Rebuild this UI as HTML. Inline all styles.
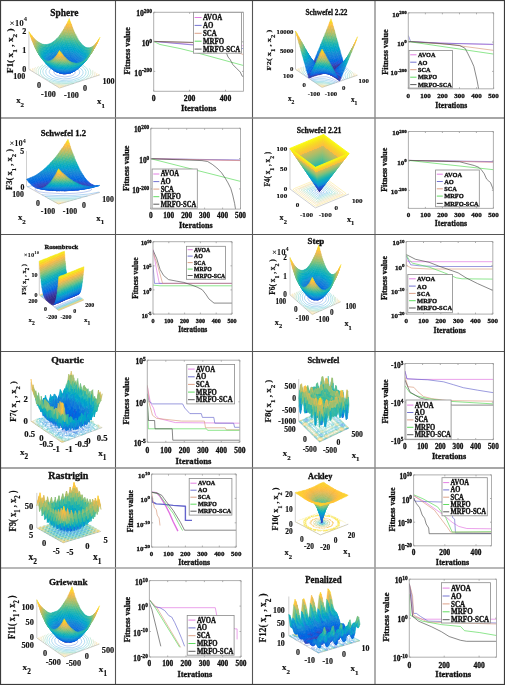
<!DOCTYPE html>
<html><head><meta charset="utf-8"><title>Benchmark functions and convergence curves</title><style>
html,body{margin:0;padding:0;background:#fff;width:505px;height:685px;overflow:hidden}
svg{display:block}
text{font-family:'Liberation Serif','Times New Roman',serif;font-weight:bold;fill:#111;stroke:#111;stroke-width:.32px}
text.t{stroke-width:.18px}
text.n{stroke:none}
</style></head><body>
<svg width="505" height="685" viewBox="0 0 505 685">
<defs><filter id="bl" x="-0.05" y="-0.05" width="1.1" height="1.1"><feGaussianBlur stdDeviation="1.8"/></filter><filter id="bl2" x="-0.05" y="-0.05" width="1.1" height="1.1"><feGaussianBlur stdDeviation="0.45"/></filter></defs>
<rect width="505" height="685" fill="#fff"/>
<path fill="none" stroke="#c4c4c4" stroke-width="0.8" d="M28.9 31.7L28.9 69.3L59.6 88L100 74.8"/>
<g transform="scale(.25)" filter="url(#bl)" style="fill:currentColor;stroke:currentColor;stroke-width:2;stroke-linejoin:round"><path fill=none stroke="#2350d0" stroke-width="1.4" opacity="0.85" d="M250,269l21,1,19,6,10,8,1,8-5,6-9,5-27,5-29-5-10-5-5-6-1-8,5-6,14-7,16-2" />
<path fill=none stroke="#0a73dd" stroke-width="1.4" opacity="0.85" d="M233,262l30-1,31,5,15,8,6,5,4,7-1,8-3,5-10,7-26,8-26,2-31-6-20-12-5-8,0-5,4-8,7-6,25-9" />
<path fill=none stroke="#138ad3" stroke-width="1.4" opacity="0.85" d="M225,257l42-2,38,8,21,13,6,10,0,8-6,10-10,7-28,9-40,2-38-8-21-13-5-8-1-10,5-9,7-6,15-7,15-4" />
<path fill=none stroke="#06a3ca" stroke-width="1.4" opacity="0.85" d="M235,250l42,0,38,10,14,7,10,9,5,10-1,10-8,11-17,10-23,7-29,3-28-1-25-5-22-9-14-11-4-7-2-9,3-9,6-6,23-13,32-7" />
<path fill=none stroke="#1ab2b1" stroke-width="1.4" opacity="0.85" d="M217,248l25-3,26,0,23,3,27,7,15,7,14,11,7,13-1,11-7,11-12,8-15,7-24,6-30,3-23-1-25-4-19-5-15-7-15-11-6-10,0-12,5-10,15-12,15-7,20-5" />
<path fill=none stroke="#51bd8f" stroke-width="1.4" opacity="0.85" d="M295,334l-49,1-30-3-20-6M357,273l6,11,0,11-8,13-11,10M158,303l-5-10,0-12,7-13,12-9M221,243l49-2,29,4,21,5" />
<path fill=none stroke="#92bf72" stroke-width="1.4" opacity="0.85" d="M277,339l-34,0-34-5M371,281l0,16-10,15M145,295l-1-16,10-14M239,237l34,0,34,5" />
<path fill=none stroke="#c7bc5d" stroke-width="1.4" opacity="0.85" d="M265,343l-47-3M380,287l-1,11-5,10M136,289l0-10,6-10M251,233l46,4" />
<path fill=none stroke="#f5ba47" stroke-width="1.4" opacity="0.85" d="M255,347l-29-3M388,292l-4,13M128,285l4-13M261,230l29,2" />
<path fill=none stroke="#f9d429" stroke-width="1.4" opacity="0.85" d="M246,349l-13-1M394,296l-2,6M121,281l2-6M269,227l14,1" />
<path color=#f6dd22 d=M276,98l5-11-4-13-5,12z />
<path color=#fec733 d=M270,110l6-12-4-12-6,11z />
<path color=#f1b94a d=M265,120l5-10-4-13-6,10z />
<path color=#d5ba57 d=M259,130l6-10-5-13-5,10z />
<path color=#bbbd62 d=M254,139l5-9-4-13-6,9z />
<path color=#a1be6d d=M248,147l6-8-5-13-5,8z />
<path color=#87bf77 d=M242,154l6-7-4-13-6,8z />
<path color=#6ebf82 d=M237,161l5-7-4-12-5,7z />
<path color=#56bd8d d=M231,167l6-6-4-12-6,6z />
<path color=#44bb97 d=M226,173l5-6-4-12-6,5z />
<path color=#36b99f d=M220,177l6-4-5-13-5,5z />
<path color=#2cb7a5 d=M215,181l5-4-4-12-6,4z />
<path color=#25b5a9 d=M209,185l6-4-5-12-5,3z />
<path color=#21b4ac d=M203,187l6-2-4-13-6,3z />
<path color=#20b4ad d=M198,189l5-2-4-12-5,1z />
<path color=#21b4ac d=M192,190l6-1-4-13-6,2z />
<path color=#25b5a9 d=M187,191l5-1-4-12-6,0z />
<path color=#2cb7a5 d=M181,190l6,1-5-13-5,0z />
<path color=#36b99f d=M176,189l5,1-4-12-6-1z />
<path color=#44bb97 d=M170,187l6,2-5-12-5-2z />
<path color=#56bd8d d=M164,185l6,2-4-12-6-3z />
<path color=#6ebf82 d=M159,182l5,3-4-13-5-3z />
<path color=#87bf77 d=M153,178l6,4-4-13-6-4z />
<path color=#a1be6d d=M148,173l5,5-4-13-6-4z />
<path color=#bbbd62 d=M142,168l6,5-5-12-5-6z />
<path color=#d5ba57 d=M137,162l5,6-4-13-6-6z />
<path color=#f1b94a d=M131,155l6,7-5-13-5-7z />
<path color=#fec733 d=M125,148l6,7-4-13-6-7z />
<path color=#f6dd22 d=M120,139l5,9-4-13-5-8z />
<path color=#fec733 d=M280,110l6-12-5-11-5,11z />
<path color=#efb94b d=M275,121l5-11-4-12-6,12z />
<path color=#d0bb59 d=M269,132l6-11-5-11-5,10z />
<path color=#b3bd65 d=M263,142l6-10-4-12-6,10z />
<path color=#95bf71 d=M258,150l5-8-4-12-5,9z />
<path color=#76bf7e d=M252,159l6-9-4-11-6,8z />
<path color=#58bd8c d=M247,166l5-7-4-12-6,7z />
<path color=#3fba9a d=M241,173l6-7-5-12-5,7z />
<path color=#2cb7a5 d=M236,179l5-6-4-12-6,6z />
<path color=#1eb3ae d=M230,185l6-6-5-12-5,6z />
<path color=#14b0b5 d=M224,189l6-4-4-12-6,4z />
<path color=#0daeba d=M219,193l5-4-4-12-5,4z />
<path color=#0aacbe d=M213,197l6-4-4-12-6,4z />
<path color=#08abc0 d=M208,199l5-2-4-12-6,2z />
<path color=#08aac0 d=M202,201l6-2-5-12-5,2z />
<path color=#08abc0 d=M197,202l5-1-4-12-6,1z />
<path color=#0aacbe d=M191,202l6,0-5-12-5,1z />
<path color=#0daeba d=M185,202l6,0-4-11-6-1z />
<path color=#14b0b5 d=M180,201l5,1-4-12-5-1z />
<path color=#1eb3ae d=M174,199l6,2-4-12-6-2z />
<path color=#2cb7a5 d=M169,197l5,2-4-12-6-2z />
<path color=#3fba9a d=M163,194l6,3-5-12-5-3z />
<path color=#58bd8c d=M158,190l5,4-4-12-6-4z />
<path color=#76bf7e d=M152,185l6,5-5-12-5-5z />
<path color=#95bf71 d=M146,180l6,5-4-12-6-5z />
<path color=#b3bd65 d=M141,174l5,6-4-12-5-6z />
<path color=#d0bb59 d=M135,167l6,7-4-12-6-7z />
<path color=#efb94b d=M130,159l5,8-4-12-6-7z />
<path color=#fec733 d=M124,151l6,8-5-11-5-9z />
<path color=#f1b94a d=M284,121l6-11-4-12-6,12z />
<path color=#d0bb59 d=M279,133l5-12-4-11-5,11z />
<path color=#b0bd66 d=M273,143l6-10-4-12-6,11z />
<path color=#8fbf74 d=M268,153l5-10-4-11-6,10z />
<path color=#6cbf82 d=M262,162l6-9-5-11-5,8z />
<path color=#4abc93 d=M256,170l6-8-4-12-6,9z />
<path color=#30b7a3 d=M251,177l5-7-4-11-5,7z />
<path color=#1db3af d=M245,184l6-7-4-11-6,7z />
<path color=#0faeb9 d=M240,190l5-6-4-11-5,6z />
<path color=#08aac0 d=M234,196l6-6-4-11-6,6z />
<path color=#06a7c6 d=M229,200l5-4-4-11-6,4z />
<path color=#06a3ca d=M223,204l6-4-5-11-5,4z />
<path color=#06a1cc d=M217,208l6-4-4-11-6,4z />
<path color=#069fce d=M212,210l5-2-4-11-5,2zM206,212l6-2-4-11-6,2zM201,213l5-1-4-11-5,1z />
<path color=#06a1cc d=M195,214l6-1-4-11-6,0z />
<path color=#06a3ca d=M190,213l5,1-4-12-6,0z />
<path color=#06a7c6 d=M184,212l6,1-5-11-5-1z />
<path color=#08aac0 d=M178,210l6,2-4-11-6-2z />
<path color=#0faeb9 d=M173,208l5,2-4-11-5-2z />
<path color=#1db3af d=M167,205l6,3-4-11-6-3z />
<path color=#30b7a3 d=M162,201l5,4-4-11-5-4z />
<path color=#4abc93 d=M156,196l6,5-4-11-6-5z />
<path color=#6cbf82 d=M151,191l5,5-4-11-6-5z />
<path color=#8fbf74 d=M145,185l6,6-5-11-5-6z />
<path color=#b0bd66 d=M139,178l6,7-4-11-6-7z />
<path color=#d0bb59 d=M134,171l5,7-4-11-5-8z />
<path color=#f1b94a d=M128,162l6,9-4-12-6-8z />
<path color=#d5ba57 d=M289,132l5-12-4-10-6,11z />
<path color=#b3bd65 d=M283,143l6-11-5-11-5,12z />
<path color=#8fbf74 d=M277,153l6-10-4-10-6,10z />
<path color=#68be84 d=M272,163l5-10-4-10-5,10z />
<path color=#44bb97 d=M266,172l6-9-4-10-6,9z />
<path color=#28b6a8 d=M261,180l5-8-4-10-6,8z />
<path color=#14b0b5 d=M255,188l6-8-5-10-5,7z />
<path color=#08abc0 d=M250,195l5-7-4-11-6,7z />
<path color=#06a5c8 d=M244,201l6-6-5-11-5,6z />
<path color=#06a0cd d=M238,206l6-5-4-11-6,6z />
<path color=#089bd0 d=M233,211l5-5-4-10-5,4z />
<path color=#0b96d1 d=M227,215l6-4-4-11-6,4z />
<path color=#0d92d2 d=M222,218l5-3-4-11-6,4z />
<path color=#0f90d2 d=M216,221l6-3-5-10-5,2z />
<path color=#108fd2 d=M211,223l5-2-4-11-6,2z />
<path color=#0f90d2 d=M205,224l6-1-5-11-5,1z />
<path color=#0d92d2 d=M199,224l6,0-4-11-6,1z />
<path color=#0b96d1 d=M194,224l5,0-4-10-5-1z />
<path color=#089bd0 d=M188,223l6,1-4-11-6-1z />
<path color=#06a0cd d=M183,221l5,2-4-11-6-2z />
<path color=#06a5c8 d=M177,218l6,3-5-11-5-2z />
<path color=#08abc0 d=M172,215l5,3-4-10-6-3z />
<path color=#14b0b5 d=M166,211l6,4-5-10-5-4z />
<path color=#28b6a8 d=M160,207l6,4-4-10-6-5z />
<path color=#44bb97 d=M155,201l5,6-4-11-5-5z />
<path color=#68be84 d=M149,195l6,6-4-10-6-6z />
<path color=#8fbf74 d=M144,189l5,6-4-10-6-7z />
<path color=#b3bd65 d=M138,181l6,8-5-11-5-7z />
<path color=#d5ba57 d=M133,173l5,8-4-10-6-9z />
<path color=#bbbd62 d=M293,142l5-12-4-10-5,12z />
<path color=#95bf71 d=M287,153l6-11-4-10-6,11z />
<path color=#6cbf82 d=M282,163l5-10-4-10-6,10z />
<path color=#44bb97 d=M276,173l6-10-5-10-5,10z />
<path color=#25b5a9 d=M271,182l5-9-4-10-6,9z />
<path color=#10afb8 d=M265,190l6-8-5-10-5,8z />
<path color=#06a8c4 d=M259,198l6-8-4-10-6,8z />
<path color=#06a1cc d=M254,204l5-6-4-10-5,7z />
<path color=#089ad0 d=M248,211l6-7-4-9-6,6z />
<path color=#0d92d2 d=M243,216l5-5-4-10-6,5z />
<path color=#1486d4 d=M232,225l5-4-4-10-6,4z />
<path color=#1483d5 d=M226,228l6-3-5-10-5,3z />
<path color=#1481d6 d=M220,230l6-2-4-10-6,3zM215,232l5-2-4-9-5,2zM209,233l6-1-4-9-6,1z />
<path color=#1483d5 d=M204,234l5-1-4-9-6,0z />
<path color=#1486d4 d=M198,233l6,1-5-10-5,0z />
<path color=#128bd2 d=M192,232l6,1-4-9-6-1z />
<path color=#0d92d2 d=M187,231l5,1-4-9-5-2z />
<path color=#089ad0 d=M181,228l6,3-4-10-6-3z />
<path color=#06a1cc d=M176,225l5,3-4-10-5-3z />
<path color=#06a8c4 d=M170,221l6,4-4-10-6-4z />
<path color=#10afb8 d=M165,216l5,5-4-10-6-4z />
<path color=#25b5a9 d=M159,211l6,5-5-9-5-6z />
<path color=#44bb97 d=M153,205l6,6-4-10-6-6z />
<path color=#6cbf82 d=M148,198l5,7-4-10-5-6z />
<path color=#95bf71 d=M142,191l6,7-4-9-6-8z />
<path color=#bbbd62 d=M137,183l5,8-4-10-5-8z />
<path color=#a1be6d d=M297,151l6-12-5-9-5,12z />
<path color=#76bf7e d=M291,162l6-11-4-9-6,11z />
<path color=#4abc93 d=M286,172l5-10-4-9-5,10z />
<path color=#28b6a8 d=M280,182l6-10-4-9-6,10z />
<path color=#10afb8 d=M275,191l5-9-4-9-5,9z />
<path color=#06a7c5 d=M269,199l6-8-4-9-6,8z />
<path color=#069fce d=M264,207l5-8-4-9-6,8z />
<path color=#0b96d1 d=M258,213l6-6-5-9-5,6z />
<path color=#128cd2 d=M252,220l6-7-4-9-6,7z />
<path color=#1484d4 d=M247,225l5-5-4-9-5,5z />
<path color=#0d76dc d=M219,241l6-2-5-9-5,2z />
<path color=#0e76dc d=M213,242l6-1-4-9-6,1z />
<path color=#0f78db d=M208,243l5-1-4-9-5,1z />
<path color=#117bd9 d=M202,242l6,1-4-9-6-1z />
<path color=#137fd7 d=M197,241l5,1-4-9-6-1z />
<path color=#1484d4 d=M191,240l6,1-5-9-5-1z />
<path color=#128cd2 d=M186,237l5,3-4-9-6-3z />
<path color=#0b96d1 d=M180,234l6,3-5-9-5-3z />
<path color=#069fce d=M174,230l6,4-4-9-6-4z />
<path color=#06a7c5 d=M169,225l5,5-4-9-5-5z />
<path color=#10afb8 d=M163,220l6,5-4-9-6-5z />
<path color=#28b6a8 d=M158,214l5,6-4-9-6-6z />
<path color=#4abc93 d=M152,207l6,7-5-9-5-7z />
<path color=#76bf7e d=M147,200l5,7-4-9-6-7z />
<path color=#a1be6d d=M141,192l6,8-5-9-5-8z />
<path color=#87bf77 d=M301,159l6-12-4-8-6,12z />
<path color=#58bd8c d=M296,170l5-11-4-8-6,11z />
<path color=#30b7a3 d=M290,180l6-10-5-8-5,10z />
<path color=#14b0b5 d=M285,190l5-10-4-8-6,10z />
<path color=#06a8c4 d=M279,199l6-9-5-8-5,9z />
<path color=#069fce d=M273,207l6-8-4-8-6,8z />
<path color=#0c94d2 d=M268,215l5-8-4-8-5,8z />
<path color=#1389d3 d=M262,222l6-7-4-8-6,6z />
<path color=#1481d6 d=M257,228l5-6-4-9-6,7z />
<path color=#117ad9 d=M251,233l6-5-5-8-5,5z />
<path color=#0d75dc d=M201,250l6,1-5-9-5-1z />
<path color=#117ad9 d=M195,248l6,2-4-9-6-1z />
<path color=#1481d6 d=M190,245l5,3-4-8-5-3z />
<path color=#1389d3 d=M184,242l6,3-4-8-6-3z />
<path color=#0c94d2 d=M179,238l5,4-4-8-6-4z />
<path color=#069fce d=M173,234l6,4-5-8-5-5z />
<path color=#06a8c4 d=M168,228l5,6-4-9-6-5z />
<path color=#14b0b5 d=M162,222l6,6-5-8-5-6z />
<path color=#30b7a3 d=M156,216l6,6-4-8-6-7z />
<path color=#58bd8c d=M151,208l5,8-4-9-5-7z />
<path color=#87bf77 d=M145,200l6,8-4-8-6-8z />
<path color=#6ebf82 d=M306,167l5-12-4-8-6,12z />
<path color=#3fba9a d=M300,178l6-11-5-8-5,11z />
<path color=#1db3af d=M294,188l6-10-4-8-6,10z />
<path color=#08abc0 d=M289,198l5-10-4-8-5,10z />
<path color=#06a1cc d=M283,207l6-9-4-8-6,9z />
<path color=#0b96d1 d=M278,215l5-8-4-8-6,8z />
<path color=#1389d3 d=M272,223l6-8-5-8-5,8z />
<path color=#137fd6 d=M266,229l6-6-4-8-6,7z />
<path color=#0f78db d=M261,235l5-6-4-7-5,6z />
<path color=#1389d3 d=M183,246l5,4-4-8-5-4z />
<path color=#0b96d1 d=M177,241l6,5-4-8-6-4z />
<path color=#06a1cc d=M172,236l5,5-4-7-5-6z />
<path color=#08abc0 d=M166,230l6,6-4-8-6-6z />
<path color=#1db3af d=M161,223l5,7-4-8-6-6z />
<path color=#3fba9a d=M155,216l6,7-5-7-5-8z />
<path color=#6ebf82 d=M149,208l6,8-4-8-6-8z />
<path color=#56bd8d d=M310,173l5-11-4-7-5,12z />
<path color=#2cb7a5 d=M304,185l6-12-4-6-6,11z />
<path color=#0faeb9 d=M299,195l5-10-4-7-6,10z />
<path color=#06a5c8 d=M293,205l6-10-5-7-5,10z />
<path color=#089ad0 d=M287,214l6-9-4-7-6,9z />
<path color=#128cd2 d=M282,222l5-8-4-7-5,8z />
<path color=#1481d6 d=M276,229l6-7-4-7-6,8z />
<path color=#0f78db d=M271,236l5-7-4-6-6,6z />
<path color=#0870df d=M265,242l6-6-5-7-5,6z />
<path color=#0faeb9 d=M165,230l5,7-4-7-5-7z />
<path color=#2cb7a5 d=M159,223l6,7-4-7-6-7z />
<path color=#56bd8d d=M154,214l5,9-4-7-6-8z />
<path color=#44bb97 d=M314,180l6-12-5-6-5,11z />
<path color=#1eb3ae d=M308,191l6-11-4-7-6,12z />
<path color=#08aac0 d=M303,201l5-10-4-6-5,10z />
<path color=#06a0cd d=M297,211l6-10-4-6-6,10z />
<path color=#0d92d2 d=M292,220l5-9-4-6-6,9z />
<path color=#1484d4 d=M286,228l6-8-5-6-5,8z />
<path color=#117ad9 d=M281,236l5-8-4-6-6,7z />
<path color=#0971de d=M275,242l6-6-5-7-5,7z />
<path color=#0269e1 d=M269,249l6-7-4-6-6,6z />
<path color=#1eb3ae d=M164,229l5,7-4-6-6-7z />
<path color=#44bb97 d=M158,221l6,8-5-6-5-9z />
<path color=#36b99f d=M318,185l6-12-4-5-6,12z />
<path color=#14b0b5 d=M313,196l5-11-4-5-6,11z />
<path color=#06a7c6 d=M307,207l6-11-5-5-5,10z />
<path color=#089bd0 d=M301,216l6-9-4-6-6,10z />
<path color=#128bd2 d=M296,225l5-9-4-5-5,9z />
<path color=#137fd7 d=M290,233l6-8-4-5-6,8z />
<path color=#0d75dc d=M285,241l5-8-4-5-5,8z />
<path color=#046ce0 d=M279,248l6-7-4-5-6,6z />
<path color=#36b99f d=M162,226l6,8-4-5-6-8z />
<path color=#2cb7a5 d=M322,190l6-12-4-5-6,12z />
<path color=#0daeba d=M317,201l5-11-4-5-5,11z />
<path color=#06a3ca d=M311,211l6-10-4-5-6,11z />
<path color=#0b96d1 d=M306,221l5-10-4-4-6,9z />
<path color=#1486d4 d=M300,230l6-9-5-5-5,9z />
<path color=#117bd9 d=M295,238l5-8-4-5-6,8z />
<path color=#0871de d=M289,246l6-8-5-5-5,8z />
<path color=#0267e1 d=M283,253l6-7-4-5-6,7z />
<path color=#06a3ca d=M178,246l5,7-4-5-6-6z />
<path color=#0daeba d=M172,239l6,7-5-4-5-8z />
<path color=#2cb7a5 d=M166,231l6,8-4-5-6-8z />
<path color=#25b5a9 d=M327,194l5-12-4-4-6,12z />
<path color=#0aacbe d=M321,205l6-11-5-4-5,11z />
<path color=#06a1cc d=M316,215l5-10-4-4-6,10z />
<path color=#0d92d2 d=M310,225l6-10-5-4-5,10z />
<path color=#1483d5 d=M304,234l6-9-4-4-6,9z />
<path color=#0f78db d=M299,242l5-8-4-4-5,8z />
<path color=#056ee0 d=M293,250l6-8-4-4-6,8z />
<path color=#0462e1 d=M288,257l5-7-4-4-6,7z />
<path color=#0d92d2 d=M187,257l6,6-4-4-6-6z />
<path color=#06a1cc d=M182,250l5,7-4-4-5-7z />
<path color=#0aacbe d=M176,243l6,7-4-4-6-7z />
<path color=#25b5a9 d=M171,235l5,8-4-4-6-8z />
<path color=#21b4ac d=M331,197l5-12-4-3-5,12z />
<path color=#08abc0 d=M325,208l6-11-4-3-6,11z />
<path color=#069fce d=M320,219l5-11-4-3-5,10z />
<path color=#0f90d2 d=M314,228l6-9-4-4-6,10z />
<path color=#1481d6 d=M309,237l5-9-4-3-6,9z />
<path color=#0e76dc d=M303,246l6-9-5-3-5,8z />
<path color=#046ce0 d=M297,253l6-7-4-4-6,8z />
<path color=#095fdf d=M292,260l5-7-4-3-5,7z />
<path color=#046ce0 d=M208,276l6,4-4-3-6-4z />
<path color=#0e76dc d=M203,272l5,4-4-3-5-4z />
<path color=#1481d6 d=M197,267l6,5-4-3-6-6z />
<path color=#0f90d2 d=M192,260l5,7-4-4-6-6z />
<path color=#069fce d=M186,254l6,6-5-3-5-7z />
<path color=#08abc0 d=M180,246l6,8-4-4-6-7z />
<path color=#21b4ac d=M175,238l5,8-4-3-5-8z />
<path color=#20b4ad d=M335,200l6-12-5-3-5,12z />
<path color=#08aac0 d=M330,211l5-11-4-3-6,11z />
<path color=#069fce d=M324,221l6-10-5-3-5,11z />
<path color=#108fd2 d=M318,231l6-10-4-2-6,9z />
<path color=#1481d6 d=M313,240l5-9-4-3-5,9z />
<path color=#0d76dc d=M307,248l6-8-4-3-6,9z />
<path color=#036be0 d=M302,256l5-8-4-2-6,7z />
<path color=#274ecc d=M224,286l5,3-4-3-6-2z />
<path color=#0b5edf d=M218,283l6,3-5-2-5-4z />
<path color=#036be0 d=M213,279l5,4-4-3-6-4z />
<path color=#0d76dc d=M207,274l6,5-5-3-5-4z />
<path color=#1481d6 d=M201,269l6,5-4-2-6-5z />
<path color=#108fd2 d=M196,263l5,6-4-2-5-7z />
<path color=#069fce d=M190,256l6,7-4-3-6-6z />
<path color=#08aac0 d=M185,249l5,7-4-2-6-8z />
<path color=#20b4ad d=M179,241l6,8-5-3-5-8z />
<path color=#21b4ac d=M339,201l6-11-4-2-6,12z />
<path color=#08abc0 d=M334,213l5-12-4-1-5,11z />
<path color=#069fce d=M328,223l6-10-4-2-6,10z />
<path color=#0f90d2 d=M323,233l5-10-4-2-6,10z />
<path color=#1481d6 d=M317,242l6-9-5-2-5,9z />
<path color=#0e76dc d=M312,250l5-8-4-2-6,8z />
<path color=#046ce0 d=M306,257l6-7-5-2-5,8z />
<path color=#3243b8 d=M234,290l5,2-4-2-6-1z />
<path color=#254fce d=M228,288l6,2-5-1-5-3z />
<path color=#095fdf d=M222,285l6,3-4-2-6-3z />
<path color=#046ce0 d=M217,281l5,4-4-2-5-4z />
<path color=#0e76dc d=M211,276l6,5-4-2-6-5z />
<path color=#1481d6 d=M206,271l5,5-4-2-6-5z />
<path color=#0f90d2 d=M200,265l6,6-5-2-5-6z />
<path color=#069fce d=M194,258l6,7-4-2-6-7z />
<path color=#08abc0 d=M189,251l5,7-4-2-5-7z />
<path color=#21b4ac d=M183,242l6,9-4-2-6-8z />
<path color=#25b5a9 d=M344,203l5-12-4-1-6,11z />
<path color=#0aacbe d=M338,214l6-11-5-2-5,12z />
<path color=#06a1cc d=M332,224l6-10-4-1-6,10z />
<path color=#0d92d2 d=M327,234l5-10-4-1-5,10z />
<path color=#1483d5 d=M321,243l6-9-4-1-6,9z />
<path color=#0f78db d=M316,251l5-8-4-1-5,8z />
<path color=#056ee0 d=M310,259l6-8-4-1-6,7z />
<path color=#353dad d=M243,293l6,1-4-1-6-1z />
<path color=#3046be d=M238,292l5,1-4-1-5-2z />
<path color=#2053d4 d=M232,289l6,3-4-2-6-2z />
<path color=#0462e1 d=M227,286l5,3-4-1-6-3z />
<path color=#056ee0 d=M221,282l6,4-5-1-5-4z />
<path color=#0f78db d=M215,277l6,5-4-1-6-5z />
<path color=#1483d5 d=M210,272l5,5-4-1-5-5z />
<path color=#0d92d2 d=M204,266l6,6-4-1-6-6z />
<path color=#06a1cc d=M199,259l5,7-4-1-6-7z />
<path color=#0aacbe d=M193,252l6,7-5-1-5-7z />
<path color=#25b5a9 d=M188,244l5,8-4-1-6-9z />
<path color=#2cb7a5 d=M348,203l5-12-4,0-5,12z />
<path color=#0daeba d=M342,214l6-11-4,0-6,11z />
<path color=#06a3ca d=M337,225l5-11-4,0-6,10z />
<path color=#0b96d1 d=M331,234l6-9-5-1-5,10z />
<path color=#1486d4 d=M326,243l5-9-4,0-6,9z />
<path color=#117bd9 d=M320,252l6-9-5,0-5,8z />
<path color=#0871de d=M314,259l6-7-4-1-6,8z />
<path color=#353ba9 d=M253,295l6,0-5,0-5-1z />
<path color=#3342b6 d=M248,294l5,1-4-1-6-1z />
<path color=#2a4bc8 d=M242,292l6,2-5-1-5-1z />
<path color=#1359db d=M236,290l6,2-4,0-6-3z />
<path color=#0267e1 d=M231,286l5,4-4-1-5-3z />
<path color=#0871de d=M225,282l6,4-4,0-6-4z />
<path color=#117bd9 d=M220,278l5,4-4,0-6-5z />
<path color=#1486d4 d=M214,273l6,5-5-1-5-5z />
<path color=#0b96d1 d=M209,266l5,7-4-1-6-6z />
<path color=#06a3ca d=M203,260l6,6-5,0-5-7z />
<path color=#0daeba d=M197,252l6,8-4-1-6-7z />
<path color=#2cb7a5 d=M192,244l5,8-4,0-5-8z />
<path color=#36b99f d=M352,203l6-12-5,0-5,12z />
<path color=#14b0b5 d=M347,214l5-11-4,0-6,11z />
<path color=#06a7c6 d=M341,224l6-10-5,0-5,11z />
<path color=#089bd0 d=M335,234l6-10-4,1-6,9z />
<path color=#128bd2 d=M330,243l5-9-4,0-5,9z />
<path color=#137fd7 d=M324,251l6-8-4,0-6,9z />
<path color=#353dad d=M263,295l5-1-4,1-5,0z />
<path color=#3342b6 d=M257,295l6,0-4,0-6,0z />
<path color=#2d49c4 d=M252,294l5,1-4,0-5-1z />
<path color=#1d54d5 d=M246,292l6,2-4,0-6-2z />
<path color=#0561e0 d=M241,289l5,3-4,0-6-2z />
<path color=#046ce0 d=M235,286l6,3-5,1-5-4z />
<path color=#0d75dc d=M229,282l6,4-4,0-6-4z />
<path color=#137fd7 d=M224,278l5,4-4,0-5-4z />
<path color=#128bd2 d=M218,272l6,6-4,0-6-5z />
<path color=#089bd0 d=M213,266l5,6-4,1-5-7z />
<path color=#06a7c6 d=M207,259l6,7-4,0-6-6z />
<path color=#14b0b5 d=M202,252l5,7-4,1-6-8z />
<path color=#36b99f d=M196,244l6,8-5,0-5-8z />
<path color=#44bb97 d=M356,202l6-12-4,1-6,12z />
<path color=#1eb3ae d=M351,213l5-11-4,1-5,11z />
<path color=#08aac0 d=M345,223l6-10-4,1-6,10z />
<path color=#06a0cd d=M340,233l5-10-4,1-6,10z />
<path color=#0d92d2 d=M334,242l6-9-5,1-5,9z />
<path color=#1484d4 d=M328,250l6-8-4,1-6,8z />
<path color=#3243b8 d=M284,291l5-3-4,1-5,3z />
<path color=#3342b6 d=M278,292l6-1-4,1-6,1z />
<path color=#3243b8 d=M273,293l5-1-4,1-6,1z />
<path color=#3046be d=M267,294l6-1-5,1-5,1z />
<path color=#2a4bc8 d=M262,294l5,0-4,1-6,0z />
<path color=#1d54d5 d=M256,293l6,1-5,1-5-1z />
<path color=#095fdf d=M250,291l6,2-4,1-6-2z />
<path color=#0269e1 d=M245,288l5,3-4,1-5-3z />
<path color=#0971de d=M239,285l6,3-4,1-6-3z />
<path color=#117ad9 d=M234,281l5,4-4,1-6-4z />
<path color=#1484d4 d=M228,277l6,4-5,1-5-4z />
<path color=#0d92d2 d=M223,271l5,6-4,1-6-6z />
<path color=#06a0cd d=M217,265l6,6-5,1-5-6z />
<path color=#08aac0 d=M211,258l6,7-4,1-6-7z />
<path color=#1eb3ae d=M206,251l5,7-4,1-5-7z />
<path color=#44bb97 d=M200,243l6,8-4,1-6-8z />
<path color=#56bd8d d=M361,200l5-12-4,2-6,12z />
<path color=#2cb7a5 d=M355,211l6-11-5,2-5,11z />
<path color=#0faeb9 d=M349,222l6-11-4,2-6,10z />
<path color=#06a5c8 d=M344,231l5-9-4,1-5,10z />
<path color=#089ad0 d=M338,240l6-9-4,2-6,9z />
<path color=#128cd2 d=M333,249l5-9-4,2-6,8z />
<path color=#2053d4 d=M294,286l5-3-4,2-6,3z />
<path color=#254fce d=M288,289l6-3-5,2-5,3z />
<path color=#274ecc d=M283,291l5-2-4,2-6,1z />
<path color=#254fce d=M277,292l6-1-5,1-5,1z />
<path color=#2053d4 d=M271,292l6,0-4,1-6,1z />
<path color=#1359db d=M266,292l5,0-4,2-5,0z />
<path color=#0561e0 d=M260,291l6,1-4,2-6-1z />
<path color=#0269e1 d=M255,289l5,2-4,2-6-2z />
<path color=#0870df d=M249,287l6,2-5,2-5-3z />
<path color=#0f78db d=M244,283l5,4-4,1-6-3z />
<path color=#1481d6 d=M238,279l6,4-5,2-5-4z />
<path color=#128cd2 d=M232,275l6,4-4,2-6-4z />
<path color=#089ad0 d=M227,270l5,5-4,2-5-6z />
<path color=#06a5c8 d=M221,263l6,7-4,1-6-6z />
<path color=#0faeb9 d=M216,257l5,6-4,2-6-7z />
<path color=#2cb7a5 d=M210,249l6,8-5,1-5-7z />
<path color=#56bd8d d=M205,241l5,8-4,2-6-8z />
<path color=#6ebf82 d=M365,198l5-12-4,2-5,12z />
<path color=#3fba9a d=M359,209l6-11-4,2-6,11z />
<path color=#1db3af d=M354,219l5-10-4,2-6,11z />
<path color=#08abc0 d=M348,229l6-10-5,3-5,9z />
<path color=#06a1cc d=M342,238l6-9-4,2-6,9z />
<path color=#0462e1 d=M298,284l5-3-4,2-5,3z />
<path color=#095fdf d=M292,286l6-2-4,2-6,3z />
<path color=#0b5edf d=M287,288l5-2-4,3-5,2z />
<path color=#095fdf d=M281,289l6-1-4,3-6,1z />
<path color=#0462e1 d=M276,290l5-1-4,3-6,0z />
<path color=#0267e1 d=M270,289l6,1-5,2-5,0z />
<path color=#046ce0 d=M264,288l6,1-4,3-6-1z />
<path color=#0971de d=M259,287l5,1-4,3-5-2z />
<path color=#0f78db d=M253,284l6,3-4,2-6-2z />
<path color=#137fd6 d=M248,281l5,3-4,3-5-4z />
<path color=#1389d3 d=M242,277l6,4-4,2-6-4z />
<path color=#0b96d1 d=M237,272l5,5-4,2-6-4z />
<path color=#06a1cc d=M231,267l6,5-5,3-5-5z />
<path color=#08abc0 d=M225,261l6,6-4,3-6-7z />
<path color=#1db3af d=M220,254l5,7-4,2-5-6z />
<path color=#3fba9a d=M214,247l6,7-4,3-6-8z />
<path color=#6ebf82 d=M209,239l5,8-4,2-5-8z />
<path color=#87bf77 d=M369,195l6-12-5,3-5,12z />
<path color=#58bd8c d=M363,206l6-11-4,3-6,11z />
<path color=#30b7a3 d=M358,216l5-10-4,3-5,10z />
<path color=#14b0b5 d=M352,226l6-10-4,3-6,10z />
<path color=#06a8c4 d=M347,235l5-9-4,3-6,9z />
<path color=#0871de d=M308,277l5-3-4,3-6,4z />
<path color=#056ee0 d=M302,281l6-4-5,4-5,3z />
<path color=#046ce0 d=M297,283l5-2-4,3-6,2z />
<path color=#036be0 d=M291,285l6-2-5,3-5,2z />
<path color=#046ce0 d=M285,286l6-1-4,3-6,1z />
<path color=#056ee0 d=M280,287l5-1-4,3-5,1z />
<path color=#0871de d=M274,286l6,1-4,3-6-1z />
<path color=#0d75dc d=M269,285l5,1-4,3-6-1z />
<path color=#117ad9 d=M263,283l6,2-5,3-5-1z />
<path color=#1481d6 d=M258,281l5,2-4,4-6-3z />
<path color=#1389d3 d=M252,278l6,3-5,3-5-3z />
<path color=#0c94d2 d=M246,274l6,4-4,3-6-4z />
<path color=#069fce d=M241,269l5,5-4,3-5-5z />
<path color=#06a8c4 d=M235,264l6,5-4,3-6-5z />
<path color=#14b0b5 d=M230,258l5,6-4,3-6-6z />
<path color=#30b7a3 d=M224,251l6,7-5,3-5-7z />
<path color=#58bd8c d=M219,244l5,7-4,3-6-7z />
<path color=#87bf77 d=M213,235l6,9-5,3-5-8z />
<path color=#a1be6d d=M373,191l6-12-4,4-6,12z />
<path color=#76bf7e d=M368,202l5-11-4,4-6,11z />
<path color=#4abc93 d=M362,212l6-10-5,4-5,10z />
<path color=#28b6a8 d=M357,222l5-10-4,4-6,10z />
<path color=#10afb8 d=M351,231l6-9-5,4-5,9z />
<path color=#117bd9 d=M312,274l6-4-5,4-5,3z />
<path color=#0f78db d=M306,277l6-3-4,3-6,4z />
<path color=#0e76dc d=M301,279l5-2-4,4-5,2z />
<path color=#0d76dc d=M295,281l6-2-4,4-6,2z />
<path color=#0e76dc d=M290,282l5-1-4,4-6,1z />
<path color=#0f78db d=M284,283l6-1-5,4-5,1z />
<path color=#117bd9 d=M279,282l5,1-4,4-6-1z />
<path color=#137fd7 d=M273,281l6,1-5,4-5-1z />
<path color=#1484d4 d=M267,280l6,1-4,4-6-2z />
<path color=#128cd2 d=M262,277l5,3-4,3-5-2z />
<path color=#0b96d1 d=M256,274l6,3-4,4-6-3z />
<path color=#069fce d=M251,270l5,4-4,4-6-4z />
<path color=#06a7c5 d=M245,265l6,5-5,4-5-5z />
<path color=#10afb8 d=M240,260l5,5-4,4-6-5z />
<path color=#28b6a8 d=M234,254l6,6-5,4-5-6z />
<path color=#4abc93 d=M228,247l6,7-4,4-6-7z />
<path color=#76bf7e d=M223,240l5,7-4,4-5-7z />
<path color=#a1be6d d=M217,232l6,8-4,4-6-9z />
<path color=#bbbd62 d=M377,186l6-12-4,5-6,12z />
<path color=#95bf71 d=M372,197l5-11-4,5-5,11z />
<path color=#6cbf82 d=M366,208l6-11-4,5-6,10z />
<path color=#44bb97 d=M361,217l5-9-4,4-5,10z />
<path color=#25b5a9 d=M355,226l6-9-4,5-6,9z />
<path color=#089ad0 d=M333,255l5-6-4,4-5,7z />
<path color=#128bd2 d=M322,265l5-5-4,5-5,5z />
<path color=#1486d4 d=M316,269l6-4-4,5-6,4z />
<path color=#1483d5 d=M311,272l5-3-4,5-6,3z />
<path color=#1481d6 d=M305,275l6-3-5,5-5,2zM299,277l6-2-4,4-6,2zM294,278l5-1-4,4-5,1z />
<path color=#1483d5 d=M288,278l6,0-4,4-6,1z />
<path color=#1486d4 d=M283,278l5,0-4,5-5-1z />
<path color=#128bd2 d=M277,277l6,1-4,4-6-1z />
<path color=#0d92d2 d=M272,275l5,2-4,4-6-1z />
<path color=#089ad0 d=M266,273l6,2-5,5-5-3z />
<path color=#06a1cc d=M260,269l6,4-4,4-6-3z />
<path color=#06a8c4 d=M255,265l5,4-4,5-5-4z />
<path color=#10afb8 d=M249,261l6,4-4,5-6-5z />
<path color=#25b5a9 d=M244,256l5,5-4,4-5-5z />
<path color=#44bb97 d=M238,249l6,7-4,4-6-6z />
<path color=#6cbf82 d=M233,243l5,6-4,5-6-7z />
<path color=#95bf71 d=M227,235l6,8-5,4-5-7z />
<path color=#bbbd62 d=M221,227l6,8-4,5-6-8z />
<path color=#d5ba57 d=M382,181l5-12-4,5-6,12z />
<path color=#b3bd65 d=M376,192l6-11-5,5-5,11z />
<path color=#8fbf74 d=M371,202l5-10-4,5-6,11z />
<path color=#68be84 d=M365,212l6-10-5,6-5,9z />
<path color=#08abc0 d=M343,244l5-7-4,5-6,7z />
<path color=#06a5c8 d=M337,250l6-6-5,5-5,6z />
<path color=#06a0cd d=M332,255l5-5-4,5-6,5z />
<path color=#089bd0 d=M326,260l6-5-5,5-5,5z />
<path color=#0b96d1 d=M320,264l6-4-4,5-6,4z />
<path color=#0d92d2 d=M315,267l5-3-4,5-5,3z />
<path color=#0f90d2 d=M309,270l6-3-4,5-6,3z />
<path color=#108fd2 d=M304,271l5-1-4,5-6,2z />
<path color=#0f90d2 d=M298,272l6-1-5,6-5,1z />
<path color=#0d92d2 d=M293,273l5-1-4,6-6,0z />
<path color=#0b96d1 d=M287,273l6,0-5,5-5,0z />
<path color=#089bd0 d=M281,272l6,1-4,5-6-1z />
<path color=#06a0cd d=M276,270l5,2-4,5-5-2z />
<path color=#06a5c8 d=M270,267l6,3-4,5-6-2z />
<path color=#08abc0 d=M265,264l5,3-4,6-6-4z />
<path color=#14b0b5 d=M259,260l6,4-5,5-5-4z />
<path color=#28b6a8 d=M254,256l5,4-4,5-6-4z />
<path color=#44bb97 d=M248,250l6,6-5,5-5-5z />
<path color=#68be84 d=M242,244l6,6-4,6-6-7z />
<path color=#8fbf74 d=M237,237l5,7-4,5-5-6z />
<path color=#b3bd65 d=M231,230l6,7-4,6-6-8z />
<path color=#d5ba57 d=M226,222l5,8-4,5-6-8z />
<path color=#f1b94a d=M386,175l6-12-5,6-5,12z />
<path color=#d0bb59 d=M380,186l6-11-4,6-6,11z />
<path color=#b0bd66 d=M375,196l5-10-4,6-5,10z />
<path color=#8fbf74 d=M369,206l6-10-4,6-6,10z />
<path color=#6cbf82 d=M364,215l5-9-4,6-6,9z />
<path color=#30b7a3 d=M353,231l5-8-4,6-6,8z />
<path color=#1db3af d=M347,238l6-7-5,6-5,7z />
<path color=#0faeb9 d=M341,244l6-6-4,6-6,6z />
<path color=#08aac0 d=M336,249l5-5-4,6-5,5z />
<path color=#06a7c6 d=M330,254l6-5-4,6-6,5z />
<path color=#06a3ca d=M325,258l5-4-4,6-6,4z />
<path color=#06a1cc d=M319,261l6-3-5,6-5,3z />
<path color=#069fce d=M314,264l5-3-4,6-6,3zM308,265l6-1-5,6-5,1zM302,266l6-1-4,6-6,1z />
<path color=#06a1cc d=M297,267l5-1-4,6-5,1z />
<path color=#06a3ca d=M291,267l6,0-4,6-6,0z />
<path color=#06a7c6 d=M286,266l5,1-4,6-6-1z />
<path color=#08aac0 d=M280,264l6,2-5,6-5-2z />
<path color=#0faeb9 d=M275,261l5,3-4,6-6-3z />
<path color=#1db3af d=M269,258l6,3-5,6-5-3z />
<path color=#30b7a3 d=M263,254l6,4-4,6-6-4z />
<path color=#4abc93 d=M258,250l5,4-4,6-5-4z />
<path color=#6cbf82 d=M252,244l6,6-4,6-6-6z />
<path color=#8fbf74 d=M247,238l5,6-4,6-6-6z />
<path color=#b0bd66 d=M241,231l6,7-5,6-5-7z />
<path color=#d0bb59 d=M236,224l5,7-4,6-6-7z />
<path color=#f1b94a d=M230,216l6,8-5,6-5-8z />
<path color=#fec733 d=M390,168l6-12-4,7-6,12z />
<path color=#efb94b d=M385,179l5-11-4,7-6,11z />
<path color=#d0bb59 d=M379,190l6-11-5,7-5,10z />
<path color=#95bf71 d=M368,208l5-9-4,7-5,9z />
<path color=#58bd8c d=M357,224l5-7-4,6-5,8z />
<path color=#3fba9a d=M351,231l6-7-4,7-6,7z />
<path color=#2cb7a5 d=M346,237l5-6-4,7-6,6z />
<path color=#1eb3ae d=M340,242l6-5-5,7-5,5z />
<path color=#14b0b5 d=M334,247l6-5-4,7-6,5z />
<path color=#0daeba d=M329,251l5-4-4,7-5,4z />
<path color=#0aacbe d=M323,254l6-3-4,7-6,3z />
<path color=#08abc0 d=M318,257l5-3-4,7-5,3z />
<path color=#08aac0 d=M312,259l6-2-4,7-6,1z />
<path color=#08abc0 d=M307,260l5-1-4,6-6,1z />
<path color=#0aacbe d=M301,260l6,0-5,6-5,1z />
<path color=#0daeba d=M295,260l6,0-4,7-6,0z />
<path color=#14b0b5 d=M290,259l5,1-4,7-5-1z />
<path color=#1eb3ae d=M284,257l6,2-4,7-6-2z />
<path color=#2cb7a5 d=M279,255l5,2-4,7-5-3z />
<path color=#3fba9a d=M273,251l6,4-4,6-6-3z />
<path color=#58bd8c d=M268,247l5,4-4,7-6-4z />
<path color=#76bf7e d=M262,243l6,4-5,7-5-4z />
<path color=#95bf71 d=M256,238l6,5-4,7-6-6z />
<path color=#b3bd65 d=M251,231l5,7-4,6-5-6z />
<path color=#d0bb59 d=M245,225l6,6-4,7-6-7z />
<path color=#efb94b d=M240,217l5,8-4,6-5-7z />
<path color=#fec733 d=M234,209l6,8-4,7-6-8z />
<path color=#f6dd22 d=M394,161l6-12-4,7-6,12z />
<path color=#fec733 d=M389,172l5-11-4,7-5,11z />
<path color=#f1b94a d=M383,182l6-10-4,7-6,11z />
<path color=#d5ba57 d=M378,192l5-10-4,8-6,9z />
<path color=#bbbd62 d=M372,201l6-9-5,7-5,9z />
<path color=#a1be6d d=M367,209l5-8-4,7-6,9z />
<path color=#87bf77 d=M361,217l6-8-5,8-5,7z />
<path color=#6ebf82 d=M355,223l6-6-4,7-6,7z />
<path color=#56bd8d d=M350,230l5-7-4,8-5,6z />
<path color=#44bb97 d=M344,235l6-5-4,7-6,5z />
<path color=#36b99f d=M339,240l5-5-4,7-6,5z />
<path color=#2cb7a5 d=M333,244l6-4-5,7-5,4z />
<path color=#25b5a9 d=M328,247l5-3-4,7-6,3z />
<path color=#21b4ac d=M322,249l6-2-5,7-5,3z />
<path color=#20b4ad d=M316,251l6-2-4,8-6,2z />
<path color=#21b4ac d=M311,252l5-1-4,8-5,1z />
<path color=#25b5a9 d=M305,253l6-1-4,8-6,0z />
<path color=#2cb7a5 d=M300,252l5,1-4,7-6,0z />
<path color=#36b99f d=M294,251l6,1-5,8-5-1z />
<path color=#44bb97 d=M289,250l5,1-4,8-6-2z />
<path color=#56bd8d d=M283,247l6,3-5,7-5-2z />
<path color=#6ebf82 d=M277,244l6,3-4,8-6-4z />
<path color=#87bf77 d=M272,240l5,4-4,7-5-4z />
<path color=#a1be6d d=M266,235l6,5-4,7-6-4z />
<path color=#bbbd62 d=M261,230l5,5-4,8-6-5z />
<path color=#d5ba57 d=M255,224l6,6-5,8-5-7z />
<path color=#f1b94a d=M250,217l5,7-4,7-6-6z />
<path color=#fec733 d=M244,210l6,7-5,8-5-8z />
<path color=#f6dd22 d=M238,202l6,8-4,7-6-8z /></g>
<text x="50.3" y="15.9" font-size="10.6" textLength="28.1" lengthAdjust="spacingAndGlyphs">Sphere</text>
<text class="t" transform="translate(13 50.8) rotate(-90)" font-size="7.6" text-anchor="middle" textLength="45" lengthAdjust="spacingAndGlyphs">F1(&#160;x<tspan font-size="5.9" dy="3.8">1</tspan><tspan dy="-3.8">&#160;,&#160;x</tspan><tspan font-size="5.9" dy="3.8">2</tspan><tspan dy="-3.8">&#160;)</tspan></text>
<text x="24.2" y="33.9" font-size="8.1" text-anchor="middle" class="t">2</text>
<text x="24.2" y="52.9" font-size="8.1" text-anchor="middle" class="t">1</text>
<text x="24.2" y="71.7" font-size="8.1" text-anchor="middle" class="t">0</text>
<text x="19.3" y="79.3" font-size="8.1" text-anchor="middle" class="t">100</text>
<text x="38.9" y="88.1" font-size="8.1" text-anchor="middle" class="t">0</text>
<text x="48.5" y="96.8" font-size="8.1" text-anchor="middle" class="t">-100</text>
<text x="71.5" y="97.8" font-size="8.1" text-anchor="middle" class="t">-100</text>
<text x="85" y="90.8" font-size="8.1" text-anchor="middle" class="t">0</text>
<text x="108.5" y="83.8" font-size="8.1" text-anchor="middle" class="t">100</text>
<text class="n" x="9.5" y="25.5" font-size="9.1" font-weight="normal">&#215;10<tspan font-size="6.5" dy="-4.1">4</tspan></text>
<text class="t" x="16.2" y="103" font-size="8.8">x<tspan font-size="6.9" dy="3.7">2</tspan></text>
<text class="t" x="97" y="104.2" font-size="8.8">x<tspan font-size="6.9" dy="3.7">1</tspan></text>
<path fill="none" stroke="#c4c4c4" stroke-width="0.8" d="M295.5 30.9L295.5 69.3L322 87.4L357.6 75.2"/>
<g transform="scale(.25)" filter="url(#bl)" style="fill:currentColor;stroke:currentColor;stroke-width:2;stroke-linejoin:round"><path fill=none stroke="#2350d0" stroke-width="1.4" opacity="0.85" d="M1353,327l-26-13-22-7-27,1-39,8M1382,268l-27,12-11,10-2,5,3,9,20,19M1231,310l26-12,12-10,1-5-3-9-20-19M1259,251l27,13,21,7,27-1,39-8" />
<path fill=none stroke="#0a73dd" stroke-width="1.4" opacity="0.85" d="M1347,329l-24-9-24-5-26,0-29,5M1387,271l-19,11-9,12,1,13,12,14M1226,307l19-11,9-12-2-13-11-14M1266,249l24,9,24,6,26-1,28-5" />
<path fill=none stroke="#138ad3" stroke-width="1.4" opacity="0.85" d="M1340,332l-19-7-22-4-27-1-23,3M1391,274l-13,10-7,10,0,13,7,12M1221,304l13-10,8-10-1-13-7-12M1272,246l20,7,21,4,28,1,22-3" />
<path fill=none stroke="#06a3ca" stroke-width="1.4" opacity="0.85" d="M1334,334l-37-8-43,0M1396,278l-11,10-5,9,0,7,5,12M1216,300l11-10,5-9,0-7-4-12M1279,244l40,9,39-1" />
<path fill=none stroke="#1ab2b1" stroke-width="1.4" opacity="0.85" d="M1327,336l-32-6-36,0M1401,281l-11,16-1,9,2,8M1211,297l12-16,1-9-3-8M1285,242l33,6,36,0" />
<path fill=none stroke="#51bd8f" stroke-width="1.4" opacity="0.85" d="M1321,338l-26-4-31-1M1406,284l-9,15,1,13M1206,294l9-13,0-15M1292,240l26,4,31,1" />
<path fill=none stroke="#92bf72" stroke-width="1.4" opacity="0.85" d="M1314,341l-45-5M1411,288l-5,8-2,14M1201,290l6-8,1-14M1298,237l46,5" />
<path fill=none stroke="#c7bc5d" stroke-width="1.4" opacity="0.85" d="M1308,343l-35-3M1416,291l-5,17M1197,287l5-17M1305,235l34,3" />
<path fill=none stroke="#f5ba47" stroke-width="1.4" opacity="0.85" d="M1301,345l-23-2M1421,294l-4,11M1192,284l3-11M1311,233l23,2" />
<path fill=none stroke="#f9d429" stroke-width="1.4" opacity="0.85" d="M1295,347l-12-1M1426,297l-2,6M1187,281l2-6M1318,231l11,1" />
<path color=#f7d826 d=M1323,104l6-13-5-16-6,15z />
<path color=#fdbe3e d=M1317,118l6-14-5-14-5,14z />
<path color=#d8ba56 d=M1311,132l6-14-4-14-6,15z />
<path color=#aebe67 d=M1305,145l6-13-4-13-6,15z />
<path color=#7cbf7c d=M1299,159l6-14-4-11-6,14z />
<path color=#42bb98 d=M1293,173l6-14-4-11-6,15z />
<path color=#16b1b4 d=M1287,186l6-13-4-10-6,15z />
<path color=#06a4ca d=M1281,200l6-14-4-8-6,15z />
<path color=#108ed2 d=M1275,213l6-13-4-7-6,14z />
<path color=#1079da d=M1269,227l6-14-4-6-6,15z />
<path color=#0363e1 d=M1264,241l5-14-4-5-6,15z />
<path color=#353dae d=M1258,254l6-13-5-4-6,14z />
<path color=#108ed2 d=M1234,216l6,10-5-7-6-10z />
<path color=#06a4ca d=M1228,207l6,9-5-7-5-11z />
<path color=#42bb98 d=M1216,187l6,10-4-9-6-11z />
<path color=#7cbf7c d=M1210,178l6,9-4-10-6-11z />
<path color=#aebe67 d=M1204,168l6,10-4-12-6-10z />
<path color=#d8ba56 d=M1198,159l6,9-4-12-6-11z />
<path color=#fdbe3e d=M1192,149l6,10-4-14-6-11z />
<path color=#f7d826 d=M1186,139l6,10-4-15-6-10z />
<path color=#fdbe3e d=M1327,119l6-13-4-15-6,13z />
<path color=#dcba54 d=M1321,132l6-13-4-15-6,14z />
<path color=#b6bd64 d=M1315,144l6-12-4-14-6,14z />
<path color=#8abf76 d=M1310,157l5-13-4-12-6,13z />
<path color=#55bd8d d=M1304,169l6-12-5-12-6,14z />
<path color=#26b5a9 d=M1298,182l6-13-5-10-6,14z />
<path color=#09abbf d=M1292,195l6-13-5-9-6,13z />
<path color=#079dcf d=M1286,207l6-12-5-9-6,14z />
<path color=#1487d3 d=M1280,220l6-13-5-7-6,13z />
<path color=#0c75dc d=M1274,232l6-12-5-7-6,14z />
<path color=#0b5edf d=M1268,245l6-13-5-5-5,14z />
<path color=#353caa d=M1262,258l6-13-4-4-6,13z />
<path color=#09abbf d=M1226,206l6,9-4-8-6-10z />
<path color=#26b5a9 d=M1220,198l6,8-4-9-6-10z />
<path color=#55bd8d d=M1215,189l5,9-4-11-6-9z />
<path color=#8abf76 d=M1209,181l6,8-5-11-6-10z />
<path color=#b6bd64 d=M1203,172l6,9-5-13-6-9z />
<path color=#dcba54 d=M1197,164l6,8-5-13-6-10z />
<path color=#fdbe3e d=M1191,155l6,9-5-15-6-10z />
<path color=#d8ba56 d=M1332,134l6-12-5-16-6,13z />
<path color=#b6bd64 d=M1326,145l6-11-5-15-6,13z />
<path color=#8ebf74 d=M1320,157l6-12-5-13-6,12z />
<path color=#60be88 d=M1314,168l6-11-5-13-5,13z />
<path color=#32b8a1 d=M1308,180l6-12-4-11-6,12z />
<path color=#11afb7 d=M1302,191l6-11-4-11-6,13z />
<path color=#06a4c9 d=M1296,203l6-12-4-9-6,13z />
<path color=#0c93d2 d=M1290,214l6-11-4-8-6,12z />
<path color=#0870df d=M1249,238l6,8-5-5-6-9z />
<path color=#1480d6 d=M1243,231l6,7-5-6-6-9z />
<path color=#0c93d2 d=M1237,223l6,8-5-8-6-8z />
<path color=#06a4c9 d=M1231,216l6,7-5-8-6-9z />
<path color=#11afb7 d=M1225,208l6,8-5-10-6-8z />
<path color=#32b8a1 d=M1219,201l6,7-5-10-5-9z />
<path color=#60be88 d=M1213,193l6,8-4-12-6-8z />
<path color=#8ebf74 d=M1207,186l6,7-4-12-6-9z />
<path color=#b6bd64 d=M1201,178l6,8-4-14-6-8z />
<path color=#d8ba56 d=M1195,171l6,7-4-14-6-9z />
<path color=#aebe67 d=M1336,148l6-10-4-16-6,12z />
<path color=#8abf76 d=M1330,159l6-11-4-14-6,11z />
<path color=#60be88 d=M1324,169l6-10-4-14-6,12z />
<path color=#36b99f d=M1318,180l6-11-4-12-6,11z />
<path color=#17b1b3 d=M1312,190l6-10-4-12-6,12z />
<path color=#06a8c4 d=M1306,201l6-11-4-10-6,11z />
<path color=#079cd0 d=M1301,211l5-10-4-10-6,12z />
<path color=#1389d3 d=M1295,222l6-11-5-8-6,11z />
<path color=#036be0 d=M1253,245l6,6-4-5-6-8z />
<path color=#117ad9 d=M1247,238l6,7-4-7-6-7z />
<path color=#1389d3 d=M1241,232l6,6-4-7-6-8z />
<path color=#079cd0 d=M1235,225l6,7-4-9-6-7z />
<path color=#06a8c4 d=M1229,219l6,6-4-9-6-8z />
<path color=#17b1b3 d=M1223,212l6,7-4-11-6-7z />
<path color=#36b99f d=M1217,206l6,6-4-11-6-8z />
<path color=#60be88 d=M1212,199l5,7-4-13-6-7z />
<path color=#8abf76 d=M1206,193l6,6-5-13-6-8z />
<path color=#aebe67 d=M1200,186l6,7-5-15-6-7z />
<path color=#7cbf7c d=M1341,163l5-10-4-15-6,10z />
<path color=#55bd8d d=M1335,172l6-9-5-15-6,11z />
<path color=#32b8a1 d=M1329,182l6-10-5-13-6,10z />
<path color=#17b1b3 d=M1323,191l6-9-5-13-6,11z />
<path color=#07a9c2 d=M1317,201l6-10-5-11-6,10z />
<path color=#069fce d=M1311,210l6-9-5-11-6,11z />
<path color=#0f90d2 d=M1305,220l6-10-5-9-5,10z />
<path color=#1481d6 d=M1299,229l6-9-4-9-6,11z />
<path color=#0266e1 d=M1257,251l6,5-4-5-6-6z />
<path color=#0c74dd d=M1252,245l5,6-4-6-6-7z />
<path color=#1481d6 d=M1246,240l6,5-5-7-6-6z />
<path color=#0f90d2 d=M1240,235l6,5-5-8-6-7z />
<path color=#069fce d=M1234,229l6,6-5-10-6-6z />
<path color=#07a9c2 d=M1228,224l6,5-5-10-6-7z />
<path color=#17b1b3 d=M1222,218l6,6-5-12-6-6z />
<path color=#32b8a1 d=M1216,213l6,5-5-12-5-7z />
<path color=#55bd8d d=M1210,208l6,5-4-14-6-6z />
<path color=#7cbf7c d=M1204,202l6,6-4-15-6-7z />
<path color=#42bb98 d=M1345,177l6-8-5-16-5,10z />
<path color=#26b5a9 d=M1339,186l6-9-4-14-6,9z />
<path color=#11afb7 d=M1333,194l6-8-4-14-6,10z />
<path color=#06a8c4 d=M1327,203l6-9-4-12-6,9z />
<path color=#069fce d=M1321,211l6-8-4-12-6,10z />
<path color=#0d92d2 d=M1315,220l6-9-4-10-6,9z />
<path color=#1484d4 d=M1309,228l6-8-4-10-6,10z />
<path color=#1079da d=M1303,236l6-8-4-8-6,9z />
<path color=#0a5fdf d=M1262,257l6,4-5-5-6-5z />
<path color=#056ee0 d=M1256,253l6,4-5-6-5-6z />
<path color=#1079da d=M1250,248l6,5-4-8-6-5z />
<path color=#1484d4 d=M1244,244l6,4-4-8-6-5z />
<path color=#0d92d2 d=M1238,240l6,4-4-9-6-6z />
<path color=#069fce d=M1232,235l6,5-4-11-6-5z />
<path color=#06a8c4 d=M1226,231l6,4-4-11-6-6z />
<path color=#11afb7 d=M1220,227l6,4-4-13-6-5z />
<path color=#26b5a9 d=M1214,222l6,5-4-14-6-5z />
<path color=#42bb98 d=M1208,218l6,4-4-14-6-6z />
<path color=#16b1b4 d=M1349,192l6-7-4-16-6,8z />
<path color=#09abbf d=M1343,199l6-7-4-15-6,9z />
<path color=#06a4c9 d=M1338,207l5-8-4-13-6,8z />
<path color=#079cd0 d=M1332,214l6-7-5-13-6,9z />
<path color=#0f90d2 d=M1326,222l6-8-5-11-6,8z />
<path color=#1484d4 d=M1320,229l6-7-5-11-6,9z />
<path color=#117bd9 d=M1314,236l6-7-5-9-6,8z />
<path color=#0971de d=M1308,244l6-8-5-8-6,8z />
<path color=#0267e1 d=M1260,260l6,3-4-6-6-4z />
<path color=#0971de d=M1254,257l6,3-4-7-6-5z />
<path color=#117bd9 d=M1249,253l5,4-4-9-6-4z />
<path color=#1484d4 d=M1243,250l6,3-5-9-6-4z />
<path color=#0f90d2 d=M1237,247l6,3-5-10-6-5z />
<path color=#079cd0 d=M1231,243l6,4-5-12-6-4z />
<path color=#06a4c9 d=M1225,240l6,3-5-12-6-4z />
<path color=#09abbf d=M1219,237l6,3-5-13-6-5z />
<path color=#16b1b4 d=M1213,234l6,3-5-15-6-4z />
<path color=#06a4ca d=M1354,207l6-7-5-15-6,7z />
<path color=#079dcf d=M1348,213l6-6-5-15-6,7z />
<path color=#0c93d2 d=M1342,219l6-6-5-14-5,8z />
<path color=#1389d3 d=M1336,226l6-7-4-12-6,7z />
<path color=#1481d6 d=M1330,232l6-6-4-12-6,8z />
<path color=#1079da d=M1324,238l6-6-4-10-6,7z />
<path color=#0971de d=M1318,245l6-7-4-9-6,7z />
<path color=#0269e1 d=M1312,251l6-6-4-9-6,8zM1259,265l6,2-5-7-6-3z />
<path color=#0971de d=M1253,263l6,2-5-8-5-4z />
<path color=#1079da d=M1247,261l6,2-4-10-6-3z />
<path color=#1481d6 d=M1241,258l6,3-4-11-6-3z />
<path color=#1389d3 d=M1235,256l6,2-4-11-6-4z />
<path color=#0c93d2 d=M1229,254l6,2-4-13-6-3z />
<path color=#079dcf d=M1223,251l6,3-4-14-6-3z />
<path color=#06a4ca d=M1217,249l6,2-4-14-6-3z />
<path color=#108ed2 d=M1358,221l6-5-4-16-6,7z />
<path color=#1487d3 d=M1352,227l6-6-4-14-6,6z />
<path color=#1480d6 d=M1346,232l6-5-4-14-6,6z />
<path color=#117ad9 d=M1340,237l6-5-4-13-6,7z />
<path color=#0c74dd d=M1334,243l6-6-4-11-6,6z />
<path color=#056ee0 d=M1329,248l5-5-4-11-6,6z />
<path color=#0267e1 d=M1323,253l6-5-5-10-6,7z />
<path color=#0d5dde d=M1317,258l6-5-5-8-6,6z />
<path color=#0267e1 d=M1257,272l6,1-4-8-6-2z />
<path color=#056ee0 d=M1251,271l6,1-4-9-6-2z />
<path color=#0c74dd d=M1245,270l6,1-4-10-6-3z />
<path color=#117ad9 d=M1240,269l5,1-4-12-6-2z />
<path color=#1480d6 d=M1234,267l6,2-5-13-6-2z />
<path color=#1487d3 d=M1228,266l6,1-5-13-6-3z />
<path color=#108ed2 d=M1222,265l6,1-5-15-6-2z />
<path color=#1079da d=M1363,236l6-4-5-16-6,5z />
<path color=#0c75dc d=M1357,240l6-4-5-15-6,6z />
<path color=#0870df d=M1351,244l6-4-5-13-6,5z />
<path color=#036be0 d=M1345,249l6-5-5-12-6,5z />
<path color=#0266e1 d=M1339,253l6-4-5-12-6,6z />
<path color=#0a5fdf d=M1333,257l6-4-5-10-5,5z />
<path color=#1b55d7 d=M1327,261l6-4-4-9-6,5z />
<path color=#294cc9 d=M1321,266l6-5-4-8-6,5z />
<path color=#0a5fdf d=M1256,281l6,1-5-10-6-1z />
<path color=#0266e1 d=M1250,281l6,0-5-10-6-1z />
<path color=#036be0 d=M1244,281l6,0-5-11-5-1z />
<path color=#0870df d=M1238,281l6,0-4-12-6-2z />
<path color=#0c75dc d=M1232,281l6,0-4-14-6-1z />
<path color=#1079da d=M1226,281l6,0-4-15-6-1z />
<path color=#0363e1 d=M1367,251l6-4-4-15-6,4z />
<path color=#0b5edf d=M1361,254l6-3-4-15-6,4z />
<path color=#1559da d=M1355,257l6-3-4-14-6,4z />
<path color=#2053d4 d=M1349,260l6-3-4-13-6,5z />
<path color=#284dca d=M1343,263l6-3-4-11-6,4z />
<path color=#2e48c1 d=M1337,267l6-4-4-10-6,4z />
<path color=#3243b8 d=M1331,270l6-3-4-10-6,4z />
<path color=#343eaf d=M1326,273l5-3-4-9-6,5z />
<path color=#2053d4 d=M1248,294l6-1-4-12-6,0z />
<path color=#1559da d=M1242,294l6,0-4-13-6,0z />
<path color=#0b5edf d=M1237,295l5-1-4-13-6,0z />
<path color=#0363e1 d=M1231,296l6-1-5-14-6,0z />
<path color=#353dae d=M1371,265l6-2-4-16-6,4z />
<path color=#353caa d=M1366,267l5-2-4-14-6,3z />
<path color=#363aa7 d=M1360,270l6-3-5-13-6,3z />
<path color=#3638a4 d=M1354,272l6-2-5-13-6,3z />
<path color=#3637a0 d=M1348,274l6-2-5-12-6,3z />
<path color=#36359d d=M1342,276l6-2-5-11-6,4z />
<path color=#363399 d=M1336,278l6-2-5-9-6,3z />
<path color=#363296 d=M1330,280l6-2-5-8-5,3z />
<path color=#353caa d=M1241,310l6-2-5-14-5,1z />
<path color=#353dae d=M1235,312l6-2-4-15-6,1z />
<path color=#363296 d=M1334,279l6-3-4,2-6,2z />
<path color=#363093 d=M1287,295l6-1-5,1-6,2z />
<path color=#363296 d=M1281,296l6-1-5,2-5,2z />
<path color=#363399 d=M1275,297l6-1-4,3-6,1z />
<path color=#36359d d=M1269,298l6-1-4,3-6,2z />
<path color=#3637a0 d=M1263,299l6-1-4,4-6,2z />
<path color=#3638a4 d=M1257,300l6-1-4,5-6,2z />
<path color=#363aa7 d=M1251,301l6-1-4,6-6,2z />
<path color=#353caa d=M1245,301l6,0-4,7-6,2z />
<path color=#353dae d=M1239,302l6-1-4,9-6,2z />
<path color=#343eaf d=M1339,278l6-4-5,2-6,3z />
<path color=#363aa6 d=M1333,282l6-4-5,1-6,3zM1291,294l6,0-4,0-6,1z />
<path color=#343eaf d=M1285,294l6,0-4,1-6,1z />
<path color=#3243b8 d=M1279,294l6,0-4,2-6,1z />
<path color=#2e48c1 d=M1274,294l5,0-4,3-6,1z />
<path color=#284dca d=M1268,293l6,1-5,4-6,1z />
<path color=#2053d4 d=M1262,293l6,0-5,6-6,1z />
<path color=#1559da d=M1256,293l6,0-5,7-6,1z />
<path color=#0b5edf d=M1250,293l6,0-5,8-6,0z />
<path color=#0363e1 d=M1244,293l6,0-5,8-6,1z />
<path color=#1b55d7 d=M1349,271l6-5-4,3-6,5z />
<path color=#294cc9 d=M1343,277l6-6-4,3-6,4z />
<path color=#3244ba d=M1337,282l6-5-4,1-6,4z />
<path color=#353cac d=M1302,294l6,1-5-1-6,0z />
<path color=#3244ba d=M1296,293l6,1-5,0-6,0z />
<path color=#294cc9 d=M1290,292l6,1-5,1-6,0z />
<path color=#1b55d7 d=M1284,290l6,2-5,2-6,0z />
<path color=#0a5fdf d=M1278,289l6,1-5,4-5,0z />
<path color=#0266e1 d=M1272,288l6,1-4,5-6-1z />
<path color=#036be0 d=M1266,287l6,1-4,5-6,0z />
<path color=#0870df d=M1260,285l6,2-4,6-6,0z />
<path color=#0c75dc d=M1254,284l6,1-4,8-6,0z />
<path color=#1079da d=M1248,283l6,1-4,9-6,0z />
<path color=#0c74dd d=M1365,256l6-6-4,5-6,6z />
<path color=#056ee0 d=M1359,263l6-7-4,5-6,5z />
<path color=#0267e1 d=M1354,269l5-6-4,3-6,5z />
<path color=#0d5dde d=M1348,275l6-6-5,2-6,6z />
<path color=#244fcf d=M1342,282l6-7-5,2-6,5z />
<path color=#3244ba d=M1336,288l6-6-5,0-6,5z />
<path color=#363aa6 d=M1312,296l6,2-4-2-6-1z />
<path color=#3244ba d=M1306,294l6,2-4-1-6-1z />
<path color=#244fcf d=M1300,291l6,3-4,0-6-1z />
<path color=#0d5dde d=M1294,289l6,2-4,2-6-1z />
<path color=#0267e1 d=M1288,287l6,2-4,3-6-2z />
<path color=#056ee0 d=M1282,285l6,2-4,3-6-1z />
<path color=#0c74dd d=M1276,282l6,3-4,4-6-1z />
<path color=#117ad9 d=M1270,280l6,2-4,6-6-1z />
<path color=#1480d6 d=M1265,278l5,2-4,7-6-2z />
<path color=#1487d3 d=M1259,276l6,2-5,7-6-1z />
<path color=#108ed2 d=M1253,273l6,3-5,8-6-1z />
<path color=#1079da d=M1364,259l6-7-5,4-6,7z />
<path color=#0971de d=M1358,267l6-8-5,4-5,6z />
<path color=#0269e1 d=M1352,274l6-7-4,2-6,6z />
<path color=#0d5dde d=M1346,281l6-7-4,1-6,7z />
<path color=#294cc9 d=M1340,289l6-8-4,1-6,6z />
<path color=#363296 d=M1322,300l6,3-4-2-6-3z />
<path color=#343eaf d=M1316,297l6,3-4-2-6-2z />
<path color=#294cc9 d=M1310,294l6,3-4-1-6-2z />
<path color=#0d5dde d=M1305,290l5,4-4,0-6-3z />
<path color=#0269e1 d=M1299,287l6,3-5,1-6-2z />
<path color=#0971de d=M1293,284l6,3-5,2-6-2z />
<path color=#1079da d=M1287,280l6,4-5,3-6-2z />
<path color=#1481d6 d=M1281,277l6,3-5,5-6-3z />
<path color=#1389d3 d=M1275,274l6,3-5,5-6-2z />
<path color=#0c93d2 d=M1269,270l6,4-5,6-5-2z />
<path color=#079dcf d=M1263,267l6,3-4,8-6-2z />
<path color=#06a4ca d=M1257,264l6,3-4,9-6-3z />
<path color=#0f90d2 d=M1374,247l6-8-4,5-6,8z />
<path color=#1484d4 d=M1368,256l6-9-4,5-6,7z />
<path color=#117bd9 d=M1362,264l6-8-4,3-6,8z />
<path color=#0971de d=M1356,273l6-9-4,3-6,7z />
<path color=#0267e1 d=M1350,281l6-8-4,1-6,7z />
<path color=#1b55d7 d=M1345,289l5-8-4,0-6,8z />
<path color=#3243b8 d=M1339,298l6-9-5,0-6,7z />
<path color=#363399 d=M1327,302l6,4-5-3-6-3z />
<path color=#3243b8 d=M1321,298l6,4-5-2-6-3z />
<path color=#1b55d7 d=M1315,293l6,5-5-1-6-3z />
<path color=#0267e1 d=M1309,289l6,4-5,1-5-4z />
<path color=#0971de d=M1303,285l6,4-4,1-6-3z />
<path color=#117bd9 d=M1297,280l6,5-4,2-6-3z />
<path color=#1484d4 d=M1291,276l6,4-4,4-6-4z />
<path color=#0f90d2 d=M1285,271l6,5-4,4-6-3z />
<path color=#079cd0 d=M1279,267l6,4-4,6-6-3z />
<path color=#06a4c9 d=M1273,263l6,4-4,7-6-4z />
<path color=#09abbf d=M1267,258l6,5-4,7-6-3z />
<path color=#16b1b4 d=M1262,254l5,4-4,9-6-3z />
<path color=#069fce d=M1379,243l6-10-5,6-6,8z />
<path color=#0d92d2 d=M1373,252l6-9-5,4-6,9z />
<path color=#1484d4 d=M1367,262l6-10-5,4-6,8z />
<path color=#1079da d=M1361,271l6-9-5,2-6,9z />
<path color=#056ee0 d=M1355,281l6-10-5,2-6,8z />
<path color=#0a5fdf d=M1349,290l6-9-5,0-5,8z />
<path color=#2e48c1 d=M1343,300l6-10-4-1-6,9z />
<path color=#36359d d=M1331,304l6,5-4-3-6-4z />
<path color=#2e48c1 d=M1325,298l6,6-4-2-6-4z />
<path color=#0a5fdf d=M1319,293l6,5-4,0-6-5z />
<path color=#056ee0 d=M1313,288l6,5-4,0-6-4z />
<path color=#1079da d=M1307,282l6,6-4,1-6-4z />
<path color=#1484d4 d=M1302,277l5,5-4,3-6-5z />
<path color=#0d92d2 d=M1296,271l6,6-5,3-6-4z />
<path color=#069fce d=M1290,266l6,5-5,5-6-5z />
<path color=#06a8c4 d=M1284,261l6,5-5,5-6-4z />
<path color=#11afb7 d=M1278,255l6,6-5,6-6-4z />
<path color=#26b5a9 d=M1272,250l6,5-5,8-6-5z />
<path color=#42bb98 d=M1266,244l6,6-5,8-5-4z />
<path color=#17b1b3 d=M1389,228l6-10-4,6-6,9z />
<path color=#07a9c2 d=M1383,239l6-11-4,5-6,10z />
<path color=#069fce d=M1377,249l6-10-4,4-6,9z />
<path color=#0f90d2 d=M1371,260l6-11-4,3-6,10z />
<path color=#1481d6 d=M1365,270l6-10-4,2-6,9z />
<path color=#0c74dd d=M1359,281l6-11-4,1-6,10z />
<path color=#0266e1 d=M1353,291l6-10-4,0-6,9z />
<path color=#284dca d=M1347,302l6-11-4-1-6,10z />
<path color=#3637a0 d=M1336,306l6,6-5-3-6-5z />
<path color=#284dca d=M1330,299l6,7-5-2-6-6z />
<path color=#0266e1 d=M1324,293l6,6-5-1-6-5z />
<path color=#0c74dd d=M1318,286l6,7-5,0-6-5z />
<path color=#1481d6 d=M1312,280l6,6-5,2-6-6z />
<path color=#0f90d2 d=M1306,273l6,7-5,2-5-5z />
<path color=#069fce d=M1300,267l6,6-4,4-6-6z />
<path color=#07a9c2 d=M1294,261l6,6-4,4-6-5z />
<path color=#17b1b3 d=M1288,254l6,7-4,5-6-5z />
<path color=#32b8a1 d=M1282,248l6,6-4,7-6-6z />
<path color=#55bd8d d=M1276,241l6,7-4,7-6-5z />
<path color=#7cbf7c d=M1270,235l6,6-4,9-6-6z />
<path color=#aebe67 d=M1411,188l6-12-4,10-6,10z />
<path color=#8abf76 d=M1405,199l6-11-4,8-6,11z />
<path color=#60be88 d=M1399,211l6-12-4,8-6,11z />
<path color=#36b99f d=M1393,223l6-12-4,7-6,10z />
<path color=#17b1b3 d=M1387,234l6-11-4,5-6,11z />
<path color=#06a8c4 d=M1382,246l5-12-4,5-6,10z />
<path color=#079cd0 d=M1376,257l6-11-5,3-6,11z />
<path color=#1389d3 d=M1370,269l6-12-5,3-6,10z />
<path color=#117ad9 d=M1364,280l6-11-5,1-6,11z />
<path color=#036be0 d=M1358,292l6-12-5,1-6,10z />
<path color=#2053d4 d=M1352,303l6-11-5-1-6,11z />
<path color=#3638a4 d=M1346,315l6-12-5-1-5,10zM1340,308l6,7-4-3-6-6z />
<path color=#2053d4 d=M1334,300l6,8-4-2-6-7z />
<path color=#036be0 d=M1328,293l6,7-4-1-6-6z />
<path color=#117ad9 d=M1322,285l6,8-4,0-6-7z />
<path color=#1389d3 d=M1316,278l6,7-4,1-6-6z />
<path color=#079cd0 d=M1310,270l6,8-4,2-6-7z />
<path color=#06a8c4 d=M1304,263l6,7-4,3-6-6z />
<path color=#17b1b3 d=M1298,255l6,8-4,4-6-6z />
<path color=#36b99f d=M1293,248l5,7-4,6-6-7z />
<path color=#60be88 d=M1287,240l6,8-5,6-6-6z />
<path color=#8abf76 d=M1281,233l6,7-5,8-6-7z />
<path color=#aebe67 d=M1275,225l6,8-5,8-6-6z />
<path color=#8ebf74 d=M1404,204l6-12-5,7-6,12z />
<path color=#60be88 d=M1398,217l6-13-5,7-6,12z />
<path color=#32b8a1 d=M1392,230l6-13-5,6-6,11z />
<path color=#11afb7 d=M1386,242l6-12-5,4-5,12z />
<path color=#06a4c9 d=M1380,255l6-13-4,4-6,11z />
<path color=#0c93d2 d=M1374,268l6-13-4,2-6,12z />
<path color=#1480d6 d=M1368,280l6-12-4,1-6,11z />
<path color=#0870df d=M1362,293l6-13-4,0-6,12z />
<path color=#1559da d=M1356,305l6-12-4-1-6,11z />
<path color=#363aa7 d=M1350,318l6-13-4-2-6,12zM1344,309l6,9-4-3-6-7z />
<path color=#1559da d=M1339,301l5,8-4-1-6-8z />
<path color=#0870df d=M1333,292l6,9-5-1-6-7z />
<path color=#1480d6 d=M1327,284l6,8-5,1-6-8z />
<path color=#0c93d2 d=M1321,275l6,9-5,1-6-7z />
<path color=#06a4c9 d=M1315,267l6,8-5,3-6-8z />
<path color=#11afb7 d=M1309,258l6,9-5,3-6-7z />
<path color=#32b8a1 d=M1303,250l6,8-5,5-6-8z />
<path color=#60be88 d=M1297,241l6,9-5,5-5-7z />
<path color=#8ebf74 d=M1291,233l6,8-4,7-6-8z />
<path color=#b6bd64 d=M1285,224l6,9-4,7-6-7z />
<path color=#d8ba56 d=M1279,215l6,9-4,9-6-8z />
<path color=#fdbe3e d=M1420,171l6-14-4,10-6,12z />
<path color=#dcba54 d=M1414,184l6-13-4,8-6,13z />
<path color=#b6bd64 d=M1408,198l6-14-4,8-6,12z />
<path color=#8abf76 d=M1402,212l6-14-4,6-6,13z />
<path color=#55bd8d d=M1396,225l6-13-4,5-6,13z />
<path color=#26b5a9 d=M1390,239l6-14-4,5-6,12z />
<path color=#09abbf d=M1384,253l6-14-4,3-6,13z />
<path color=#079dcf d=M1379,266l5-13-4,2-6,13z />
<path color=#1487d3 d=M1373,280l6-14-5,2-6,12z />
<path color=#0c75dc d=M1367,294l6-14-5,0-6,13z />
<path color=#0b5edf d=M1361,307l6-13-5-1-6,12z />
<path color=#353caa d=M1355,321l6-14-5-2-6,13zM1349,311l6,10-5-3-6-9z />
<path color=#0b5edf d=M1343,302l6,9-5-2-5-8z />
<path color=#0c75dc d=M1337,292l6,10-4-1-6-9z />
<path color=#1487d3 d=M1331,282l6,10-4,0-6-8z />
<path color=#079dcf d=M1325,273l6,9-4,2-6-9z />
<path color=#09abbf d=M1319,263l6,10-4,2-6-8z />
<path color=#26b5a9 d=M1313,254l6,9-4,4-6-9z />
<path color=#55bd8d d=M1307,244l6,10-4,4-6-8z />
<path color=#8abf76 d=M1301,235l6,9-4,6-6-9z />
<path color=#b6bd64 d=M1295,225l6,10-4,6-6-8z />
<path color=#dcba54 d=M1290,215l5,10-4,8-6-9z />
<path color=#fdbe3e d=M1284,206l6,9-5,9-6-9z />
<path color=#f7d826 d=M1424,162l6-15-4,10-6,14z />
<path color=#fdbe3e d=M1419,177l5-15-4,9-6,13z />
<path color=#d8ba56 d=M1413,191l6-14-5,7-6,14z />
<path color=#aebe67 d=M1407,206l6-15-5,7-6,14z />
<path color=#7cbf7c d=M1401,221l6-15-5,6-6,13z />
<path color=#42bb98 d=M1395,236l6-15-5,4-6,14z />
<path color=#16b1b4 d=M1389,250l6-14-5,3-6,14z />
<path color=#06a4ca d=M1383,265l6-15-5,3-5,13z />
<path color=#108ed2 d=M1377,280l6-15-4,1-6,14z />
<path color=#1079da d=M1371,294l6-14-4,0-6,14z />
<path color=#0363e1 d=M1365,309l6-15-4,0-6,13z />
<path color=#353dae d=M1359,324l6-15-4-2-6,14zM1353,313l6,11-4-3-6-10z />
<path color=#0363e1 d=M1347,302l6,11-4-2-6-9z />
<path color=#1079da d=M1341,292l6,10-4,0-6-10z />
<path color=#108ed2 d=M1335,281l6,11-4,0-6-10z />
<path color=#06a4ca d=M1330,271l5,10-4,1-6-9z />
<path color=#16b1b4 d=M1324,260l6,11-5,2-6-10z />
<path color=#42bb98 d=M1318,249l6,11-5,3-6-9z />
<path color=#7cbf7c d=M1312,239l6,10-5,5-6-10z />
<path color=#aebe67 d=M1306,228l6,11-5,5-6-9z />
<path color=#d8ba56 d=M1300,217l6,11-5,7-6-10z />
<path color=#fdbe3e d=M1294,207l6,10-5,8-5-10z />
<path color=#f7d826 d=M1288,196l6,11-4,8-6-9z /></g>
<text x="305.5" y="15.3" font-size="9" textLength="42" lengthAdjust="spacingAndGlyphs">Schwefel 2.22</text>
<text class="t" transform="translate(271.4 50.1) rotate(-90)" font-size="6.9" text-anchor="middle" textLength="40.7" lengthAdjust="spacingAndGlyphs">F2(&#160;x<tspan font-size="5.4" dy="3.5">1</tspan><tspan dy="-3.5">&#160;,&#160;x</tspan><tspan font-size="5.4" dy="3.5">2</tspan><tspan dy="-3.5">&#160;)</tspan></text>
<text x="293.5" y="33.5" font-size="6.8" text-anchor="end" class="t">10000</text>
<text x="293.5" y="52.7" font-size="6.8" text-anchor="end" class="t">5000</text>
<text x="293.5" y="70.9" font-size="6.8" text-anchor="end" class="t">0</text>
<text x="293.3" y="78.1" font-size="6.8" text-anchor="end" class="t">100</text>
<text x="304.3" y="87.1" font-size="6.8" text-anchor="middle" class="t">0</text>
<text x="313.9" y="95.7" font-size="6.8" text-anchor="middle" class="t">-100</text>
<text x="331" y="96.3" font-size="6.8" text-anchor="middle" class="t">-100</text>
<text x="343.6" y="89.5" font-size="6.8" text-anchor="middle" class="t">0</text>
<text x="363.7" y="82.8" font-size="6.8" text-anchor="middle" class="t">100</text>
<text class="t" x="288" y="101.1" font-size="7.2">x<tspan font-size="5.6" dy="3">2</tspan></text>
<text class="t" x="350.9" y="102.4" font-size="7.2">x<tspan font-size="5.6" dy="3">1</tspan></text>
<path fill="none" stroke="#c4c4c4" stroke-width="0.8" d="M26.5 150.9L26.5 186.2L58.5 204.1L100 192.4"/>
<g transform="scale(.25)" filter="url(#bl)" style="fill:currentColor;stroke:currentColor;stroke-width:2;stroke-linejoin:round"><path fill=none stroke="#2350d0" stroke-width="1.4" opacity="0.85" d="M180,744l58-4,65,1,48,7,12,4,4,4-1,3-6,4-25,6-32,4-50,2-72-4-26-4-15-8,0-4,6-3,34-8" />
<path fill=none stroke="#0a73dd" stroke-width="1.4" opacity="0.85" d="M397,768l-41,8-56,5-72,1-61-3M109,747l41-9,56-5,72-1,61,4" />
<path fill=none stroke="#138ad3" stroke-width="1.4" opacity="0.85" d="M350,784l-86,4-84-2M156,731l86-5,84,2" />
<path fill=none stroke="#06a3ca" stroke-width="1.4" opacity="0.85" d="M325,791l-64,2-71-1M181,724l64-2,71,1" />
<path fill=none stroke="#1ab2b1" stroke-width="1.4" opacity="0.85" d="M306,796l-108,0M200,718l108,0" />
<path fill=none stroke="#51bd8f" stroke-width="1.4" opacity="0.85" d="M291,800l-85,0M215,714l85,0" />
<path fill=none stroke="#92bf72" stroke-width="1.4" opacity="0.85" d="M277,804l-65,0M229,710l65,0" />
<path fill=none stroke="#c7bc5d" stroke-width="1.4" opacity="0.85" d="M265,808l-47,0M241,707l47,0" />
<path fill=none stroke="#f5ba47" stroke-width="1.4" opacity="0.85" d="M254,811l-30,0M252,704l30,0" />
<path fill=none stroke="#f9d429" stroke-width="1.4" opacity="0.85" d="M244,814l-15,0M262,701l15,0" />
<path color=#f6db24 d=M271,581l6-9-5-15-6,10z />
<path color=#fec832 d=M264,591l7-10-5-14-6,9z />
<path color=#f5ba46 d=M258,600l6-9-4-15-6,10z />
<path color=#dbba55 d=M252,608l6-8-4-14-7,9z />
<path color=#c2bc5f d=M246,617l6-9-5-13-6,8z />
<path color=#a7be6a d=M240,625l6-8-5-14-6,9z />
<path color=#8bbf75 d=M234,633l6-8-5-13-6,8z />
<path color=#6dbf82 d=M228,640l6-7-5-13-6,8z />
<path color=#4fbc91 d=M221,647l7-7-5-12-6,7z />
<path color=#35b8a0 d=M215,654l6-7-4-12-6,7z />
<path color=#20b4ad d=M209,661l6-7-4-12-7,7z />
<path color=#11afb8 d=M203,667l6-6-5-12-6,7z />
<path color=#08aac1 d=M197,673l6-6-5-11-6,6z />
<path color=#06a5c8 d=M191,678l6-5-5-11-6,6z />
<path color=#069fce d=M185,684l6-6-5-10-6,5z />
<path color=#0999d1 d=M178,689l7-5-5-11-6,6z />
<path color=#0e91d2 d=M172,693l6-4-4-10-7,5z />
<path color=#128bd3 d=M166,698l6-5-5-9-6,4z />
<path color=#1485d4 d=M160,702l6-4-5-10-6,5z />
<path color=#1481d6 d=M154,706l6-4-5-9-6,4z />
<path color=#137dd7 d=M148,709l6-3-5-9-6,4z />
<path color=#117bd9 d=M141,712l7-3-5-8-6,3z />
<path color=#0f78db d=M135,715l6-3-4-8-6,3z />
<path color=#0e76dc d=M129,717l6-2-4-8-7,3z />
<path color=#0d75dc d=M123,720l6-3-5-7-6,2z />
<path color=#0c74dd d=M117,722l6-2-5-8-6,3z />
<path color=#0b74dd d=M111,723l6-1-5-7-6,2z />
<path color=#febf3c d=M275,595l6-9-4-14-6,9z />
<path color=#e8b94f d=M269,604l6-9-4-14-7,10z />
<path color=#cdbb5b d=M263,613l6-9-5-13-6,9z />
<path color=#b2bd65 d=M257,621l6-8-5-13-6,8z />
<path color=#96bf71 d=M251,629l6-8-5-13-6,9z />
<path color=#78bf7d d=M245,637l6-8-5-12-6,8z />
<path color=#58bd8c d=M238,645l7-8-5-12-6,8z />
<path color=#3cba9b d=M232,652l6-7-4-12-6,7z />
<path color=#25b5aa d=M226,659l6-7-4-12-7,7z />
<path color=#14b0b6 d=M220,665l6-6-5-12-6,7z />
<path color=#08abc0 d=M214,672l6-7-5-11-6,7z />
<path color=#06a5c8 d=M208,677l6-5-5-11-6,6z />
<path color=#069fce d=M202,683l6-6-5-10-6,6z />
<path color=#0998d1 d=M195,688l7-5-5-10-6,5z />
<path color=#0f90d2 d=M189,693l6-5-4-10-6,6z />
<path color=#1389d3 d=M183,698l6-5-4-9-7,5z />
<path color=#1483d5 d=M177,702l6-4-5-9-6,4z />
<path color=#137ed7 d=M171,706l6-4-5-9-6,5z />
<path color=#117ad9 d=M165,710l6-4-5-8-6,4z />
<path color=#0e77db d=M159,714l6-4-5-8-6,4z />
<path color=#0b74dd d=M152,717l7-3-5-8-6,3z />
<path color=#0971de d=M146,720l6-3-4-8-7,3z />
<path color=#076fdf d=M140,722l6-2-5-8-6,3z />
<path color=#056ee0 d=M134,724l6-2-5-7-6,2z />
<path color=#046de0 d=M128,726l6-2-5-7-6,3zM122,728l6-2-5-6-6,2zM115,729l7-1-5-6-6,1z />
<path color=#dbba55 d=M280,609l6-9-5-14-6,9z />
<path color=#c0bc60 d=M274,617l6-8-5-14-6,9z />
<path color=#a4be6b d=M268,626l6-9-5-13-6,9z />
<path color=#86bf77 d=M262,634l6-8-5-13-6,8z />
<path color=#66be85 d=M255,642l7-8-5-13-6,8z />
<path color=#46bb96 d=M249,649l6-7-4-13-6,8z />
<path color=#2cb7a5 d=M243,656l6-7-4-12-7,8z />
<path color=#18b2b2 d=M237,663l6-7-5-11-6,7z />
<path color=#0aacbd d=M231,670l6-7-5-11-6,7z />
<path color=#06a7c6 d=M225,676l6-6-5-11-6,6z />
<path color=#06a0cd d=M219,682l6-6-5-11-6,7z />
<path color=#0999d1 d=M212,687l7-5-5-10-6,5z />
<path color=#0f90d2 d=M206,693l6-6-4-10-6,6z />
<path color=#1388d3 d=M200,698l6-5-4-10-7,5z />
<path color=#1482d5 d=M194,702l6-4-5-10-6,5z />
<path color=#127dd8 d=M188,707l6-5-5-9-6,5z />
<path color=#0f78db d=M182,711l6-4-5-9-6,4z />
<path color=#0c74dd d=M176,714l6-3-5-9-6,4z />
<path color=#0871df d=M169,718l7-4-5-8-6,4z />
<path color=#056de0 d=M163,721l6-3-4-8-6,4z />
<path color=#036be1 d=M157,724l6-3-4-7-7,3z />
<path color=#0268e1 d=M151,726l6-2-5-7-6,3z />
<path color=#0266e1 d=M145,729l6-3-5-6-6,2z />
<path color=#0265e1 d=M139,730l6-1-5-7-6,2zM133,732l6-2-5-6-6,2zM126,733l7-1-5-6-6,2z />
<path color=#0266e1 d=M120,734l6-1-4-5-7,1z />
<path color=#b3bd65 d=M285,621l6-8-5-13-6,9z />
<path color=#96bf71 d=M279,630l6-9-5-12-6,8z />
<path color=#76bf7e d=M273,638l6-8-5-13-6,9z />
<path color=#54bd8e d=M266,646l7-8-5-12-6,8z />
<path color=#37b99e d=M260,653l6-7-4-12-7,8z />
<path color=#20b4ad d=M254,660l6-7-5-11-6,7z />
<path color=#0faeb9 d=M248,667l6-7-5-11-6,7z />
<path color=#06a8c3 d=M242,674l6-7-5-11-6,7z />
<path color=#06a2cb d=M236,680l6-6-5-11-6,7z />
<path color=#089ad0 d=M229,686l7-6-5-10-6,6z />
<path color=#0e91d2 d=M223,691l6-5-4-10-6,6z />
<path color=#1389d3 d=M217,697l6-6-4-9-7,5z />
<path color=#1482d5 d=M211,702l6-5-5-10-6,6z />
<path color=#127cd8 d=M205,706l6-4-5-9-6,5z />
<path color=#0f77db d=M199,711l6-5-5-8-6,4z />
<path color=#0a72de d=M193,715l6-4-5-9-6,5z />
<path color=#066edf d=M186,719l7-4-5-8-6,4z />
<path color=#036ae1 d=M180,722l6-3-4-8-6,3z />
<path color=#0266e1 d=M174,725l6-3-4-8-7,4z />
<path color=#0363e1 d=M168,728l6-3-5-7-6,3z />
<path color=#0860df d=M162,730l6-2-5-7-6,3z />
<path color=#0c5dde d=M156,733l6-3-5-6-6,2z />
<path color=#0f5cdd d=M150,734l6-1-5-7-6,3z />
<path color=#105bdd d=M143,736l7-2-5-5-6,1z />
<path color=#0f5cdd d=M137,737l6-1-4-6-6,2z />
<path color=#0c5dde d=M131,738l6-1-4-5-7,1z />
<path color=#0860df d=M125,739l6-1-5-5-6,1z />
<path color=#88bf76 d=M290,633l6-8-5-12-6,8z />
<path color=#66be85 d=M283,642l7-9-5-12-6,9z />
<path color=#45bb96 d=M277,649l6-7-4-12-6,8z />
<path color=#2ab6a6 d=M271,657l6-8-4-11-7,8z />
<path color=#16b1b4 d=M265,664l6-7-5-11-6,7z />
<path color=#09abbf d=M259,671l6-7-5-11-6,7z />
<path color=#06a5c9 d=M253,677l6-6-5-11-6,7z />
<path color=#079dcf d=M247,684l6-7-5-10-6,7z />
<path color=#0c94d2 d=M240,689l7-5-5-10-6,6z />
<path color=#1483d5 d=M228,700l6-5-5-9-6,5z />
<path color=#127dd8 d=M222,705l6-5-5-9-6,6z />
<path color=#0f77db d=M216,710l6-5-5-8-6,5z />
<path color=#0972de d=M210,714l6-4-5-8-6,4z />
<path color=#046de0 d=M203,718l7-4-5-8-6,5z />
<path color=#0268e1 d=M197,722l6-4-4-7-6,4z />
<path color=#0363e1 d=M191,726l6-4-4-7-7,4z />
<path color=#0b5edf d=M185,729l6-3-5-7-6,3z />
<path color=#1359db d=M179,732l6-3-5-7-6,3z />
<path color=#1c55d6 d=M173,734l6-2-5-7-6,3z />
<path color=#2152d3 d=M167,736l6-2-5-6-6,2z />
<path color=#2350d0 d=M160,738l7-2-5-6-6,3z />
<path color=#2450cf d=M154,740l6-2-4-5-6,1z />
<path color=#2350d0 d=M148,741l6-1-4-6-7,2z />
<path color=#2152d3 d=M142,742l6-1-5-5-6,1z />
<path color=#1c55d6 d=M136,743l6-1-5-5-6,1z />
<path color=#1359db d=M130,743l6,0-5-5-6,1z />
<path color=#58bd8c d=M294,645l6-8-4-12-6,8z />
<path color=#39b99d d=M288,653l6-8-4-12-7,9z />
<path color=#20b4ad d=M282,660l6-7-5-11-6,7z />
<path color=#0eaeba d=M276,667l6-7-5-11-6,8z />
<path color=#06a8c4 d=M270,674l6-7-5-10-6,7z />
<path color=#06a1cc d=M264,681l6-7-5-10-6,7z />
<path color=#0998d1 d=M257,687l7-6-5-10-6,6z />
<path color=#108ed2 d=M251,693l6-6-4-10-6,7z />
<path color=#1485d4 d=M245,698l6-5-4-9-7,5z />
<path color=#0268e1 d=M214,722l7-4-5-8-6,4z />
<path color=#0562e0 d=M208,726l6-4-4-8-7,4z />
<path color=#105bdd d=M202,729l6-3-5-8-6,4z />
<path color=#1d54d6 d=M196,732l6-3-5-7-6,4z />
<path color=#254fce d=M190,735l6-3-5-6-6,3z />
<path color=#2b4bc8 d=M184,738l6-3-5-6-6,3z />
<path color=#2d49c3 d=M177,740l7-2-5-6-6,2z />
<path color=#2f47c1 d=M171,742l6-2-4-6-6,2z />
<path color=#2f47c0 d=M165,743l6-1-4-6-7,2z />
<path color=#2f47c1 d=M159,744l6-1-5-5-6,2z />
<path color=#2d49c3 d=M153,745l6-1-5-4-6,1z />
<path color=#2b4bc8 d=M147,746l6-1-5-4-6,1z />
<path color=#254fce d=M141,746l6,0-5-4-6,1z />
<path color=#1d54d6 d=M134,746l7,0-5-3-6,0z />
<path color=#2fb7a3 d=M299,656l6-8-5-11-6,8z />
<path color=#18b2b2 d=M293,663l6-7-5-11-6,8z />
<path color=#09acbe d=M287,670l6-7-5-10-6,7z />
<path color=#06a5c8 d=M281,677l6-7-5-10-6,7z />
<path color=#079dcf d=M274,684l7-7-5-10-6,7z />
<path color=#0d93d2 d=M268,690l6-6-4-10-6,7z />
<path color=#1389d3 d=M262,696l6-6-4-9-7,6z />
<path color=#1481d6 d=M256,702l6-6-5-9-6,6z />
<path color=#2f47c1 d=M201,738l6-3-5-6-6,3z />
<path color=#3244ba d=M195,741l6-3-5-6-6,3z />
<path color=#3341b6 d=M188,743l7-2-5-6-6,3z />
<path color=#3440b3 d=M182,745l6-2-4-5-7,2z />
<path color=#3440b2 d=M176,746l6-1-5-5-6,2z />
<path color=#3440b3 d=M170,748l6-2-5-4-6,1z />
<path color=#3341b6 d=M164,748l6,0-5-5-6,1z />
<path color=#3244ba d=M158,749l6-1-5-4-6,1z />
<path color=#2f47c1 d=M151,749l7,0-5-4-6,1z />
<path color=#2a4cc9 d=M145,750l6-1-4-3-6,0z />
<path color=#2152d3 d=M139,749l6,1-4-4-7,0z />
<path color=#12afb7 d=M304,666l6-7-5-11-6,8z />
<path color=#07a9c2 d=M298,673l6-7-5-10-6,7z />
<path color=#06a2cb d=M291,680l7-7-5-10-6,7z />
<path color=#0899d1 d=M285,687l6-7-4-10-6,7z />
<path color=#108ed2 d=M279,693l6-6-4-10-7,7z />
<path color=#1485d4 d=M273,699l6-6-5-9-6,6z />
<path color=#137dd7 d=M267,704l6-5-5-9-6,6z />
<path color=#0e77db d=M261,710l6-6-5-8-6,6z />
<path color=#363aa7 d=M187,749l6-2-5-4-6,2zM181,750l6-1-5-4-6,1z />
<path color=#353caa d=M175,751l6-1-5-4-6,2z />
<path color=#353eaf d=M169,752l6-1-5-3-6,0z />
<path color=#3341b5 d=M162,752l7,0-5-4-6,1z />
<path color=#3045bd d=M156,752l6,0-4-3-7,0z />
<path color=#2b4bc7 d=M150,752l6,0-5-3-6,1z />
<path color=#2152d3 d=M144,751l6,1-5-2-6-1z />
<path color=#06a7c5 d=M309,676l6-7-5-10-6,7z />
<path color=#069fce d=M302,683l7-7-5-10-6,7z />
<path color=#0b95d1 d=M296,689l6-6-4-10-7,7z />
<path color=#128bd3 d=M290,695l6-6-5-9-6,7z />
<path color=#1482d5 d=M284,701l6-6-5-8-6,6z />
<path color=#117bd9 d=M278,707l6-6-5-8-6,6z />
<path color=#0b74dd d=M272,712l6-5-5-8-6,5z />
<path color=#056de0 d=M265,717l7-5-5-8-6,6z />
<path color=#353cab d=M173,755l6-1-4-3-6,1z />
<path color=#3440b3 d=M167,755l6,0-4-3-7,0z />
<path color=#3045bd d=M161,754l6,1-5-3-6,0z />
<path color=#2a4cc9 d=M155,754l6,0-5-2-6,0z />
<path color=#1d54d6 d=M149,753l6,1-5-2-6-1z />
<path color=#079dcf d=M313,685l6-7-4-9-6,7z />
<path color=#0d92d2 d=M307,691l6-6-4-9-7,7z />
<path color=#1388d3 d=M301,697l6-6-5-8-6,6z />
<path color=#137fd6 d=M295,703l6-6-5-8-6,6z />
<path color=#0f78db d=M289,709l6-6-5-8-6,6z />
<path color=#0971de d=M283,714l6-5-5-8-6,6z />
<path color=#036be1 d=M276,719l7-5-5-7-6,5z />
<path color=#254fce d=M160,755l6,1-5-2-6,0z />
<path color=#1359db d=M153,754l7,1-5-1-6-1z />
<path color=#0f90d2 d=M318,693l6-6-5-9-6,7z />
<path color=#1486d4 d=M312,699l6-6-5-8-6,6z />
<path color=#137dd7 d=M306,705l6-6-5-8-6,6z />
<path color=#0e76dc d=M300,711l6-6-5-8-6,6z />
<path color=#076fdf d=M293,716l7-5-5-8-6,6z />
<path color=#0268e1 d=M287,721l6-5-4-7-6,5z />
<path color=#0860df d=M281,726l6-5-4-7-7,5z />
<path color=#2b4bc8 d=M170,757l7,1-5-1-6-1z />
<path color=#1c55d6 d=M164,756l6,1-4-1-6-1z />
<path color=#0860df d=M158,754l6,2-4-1-7-1z />
<path color=#1484d4 d=M323,701l6-6-5-8-6,6z />
<path color=#127cd8 d=M317,707l6-6-5-8-6,6z />
<path color=#0d75dc d=M310,712l7-5-5-8-6,6z />
<path color=#056ee0 d=M304,718l6-6-4-7-6,6z />
<path color=#0266e1 d=M298,723l6-5-4-7-7,5z />
<path color=#0c5dde d=M292,727l6-4-5-7-6,5z />
<path color=#3341b6 d=M187,759l7,1-5-1-6-1z />
<path color=#2d49c3 d=M181,759l6,0-4-1-6,0z />
<path color=#2152d3 d=M175,757l6,2-4-1-7-1z />
<path color=#0c5dde d=M169,756l6,1-5,0-6-1z />
<path color=#0266e1 d=M163,754l6,2-5,0-6-2z />
<path color=#127bd9 d=M327,708l7-6-5-7-6,6z />
<path color=#0c74dd d=M321,714l6-6-4-7-6,6z />
<path color=#046de0 d=M315,719l6-5-4-7-7,5z />
<path color=#0265e1 d=M309,724l6-5-5-7-6,6z />
<path color=#0f5cdd d=M303,729l6-5-5-6-6,5z />
<path color=#2350d0 d=M297,733l6-4-5-6-6,4z />
<path color=#3440b3 d=M198,761l7,0-5-1-6,0z />
<path color=#2f47c1 d=M192,760l6,1-4-1-7-1z />
<path color=#2350d0 d=M186,759l6,1-5-1-6,0z />
<path color=#0f5cdd d=M180,757l6,2-5,0-6-2z />
<path color=#0265e1 d=M174,755l6,2-5,0-6-1z />
<path color=#046de0 d=M168,753l6,2-5,1-6-2z />
<path color=#0b74dd d=M332,715l6-6-4-7-7,6z />
<path color=#046de0 d=M326,720l6-5-5-7-6,6z />
<path color=#0265e1 d=M320,725l6-5-5-6-6,5z />
<path color=#105bdd d=M314,729l6-4-5-6-6,5z />
<path color=#2450cf d=M308,734l6-5-5-5-6,5z />
<path color=#2f47c0 d=M301,738l7-4-5-5-6,4z />
<path color=#3440b2 d=M209,762l6,0-4,0-6-1z />
<path color=#2f47c0 d=M203,761l6,1-4-1-7,0z />
<path color=#2450cf d=M197,759l6,2-5,0-6-1z />
<path color=#105bdd d=M191,758l6,1-5,1-6-1z />
<path color=#0265e1 d=M185,756l6,2-5,1-6-2z />
<path color=#046de0 d=M179,754l6,2-5,1-6-2z />
<path color=#0b74dd d=M172,752l7,2-5,1-6-2z />
<path color=#046de0 d=M337,720l6-5-5-6-6,6z />
<path color=#0265e1 d=M331,725l6-5-5-5-6,5z />
<path color=#0f5cdd d=M325,730l6-5-5-5-6,5z />
<path color=#2350d0 d=M319,734l6-4-5-5-6,4z />
<path color=#2f47c1 d=M312,739l7-5-5-5-6,5z />
<path color=#363aa7 d=M226,763l6,0-4-1-6,0z />
<path color=#2f47c1 d=M214,761l6,1-5,0-6,0z />
<path color=#2350d0 d=M208,760l6,1-5,1-6-1z />
<path color=#0f5cdd d=M202,759l6,1-5,1-6-2z />
<path color=#0265e1 d=M196,757l6,2-5,0-6-1z />
<path color=#046de0 d=M189,755l7,2-5,1-6-2z />
<path color=#0c74dd d=M183,752l6,3-4,1-6-2z />
<path color=#127bd9 d=M177,749l6,3-4,2-7-2z />
<path color=#0266e1 d=M342,726l6-5-5-6-6,5z />
<path color=#0c5dde d=M336,730l6-4-5-6-6,5z />
<path color=#2152d3 d=M329,735l7-5-5-5-6,5z />
<path color=#2d49c3 d=M323,739l6-4-4-5-6,4z />
<path color=#3341b6 d=M317,743l6-4-4-5-7,5zM231,762l6,1-5,0-6,0z />
<path color=#2d49c3 d=M225,762l6,0-5,1-6-1z />
<path color=#2152d3 d=M219,760l6,2-5,0-6-1z />
<path color=#0c5dde d=M213,759l6,1-5,1-6-1z />
<path color=#0266e1 d=M206,757l7,2-5,1-6-1z />
<path color=#056ee0 d=M200,755l6,2-4,2-6-2z />
<path color=#0d75dc d=M194,752l6,3-4,2-7-2z />
<path color=#127cd8 d=M188,750l6,2-5,3-6-3z />
<path color=#1484d4 d=M182,747l6,3-5,2-6-3z />
<path color=#0860df d=M346,730l7-4-5-5-6,5z />
<path color=#1c55d6 d=M340,735l6-5-4-4-6,4z />
<path color=#2b4bc8 d=M334,739l6-4-4-5-7,5z />
<path color=#3244ba d=M328,743l6-4-5-4-6,4zM242,762l6,1-5,0-6,0z />
<path color=#2b4bc8 d=M236,762l6,0-5,1-6-1z />
<path color=#1c55d6 d=M230,760l6,2-5,0-6,0z />
<path color=#0860df d=M223,759l7,1-5,2-6-2z />
<path color=#0268e1 d=M217,757l6,2-4,1-6-1z />
<path color=#076fdf d=M211,755l6,2-4,2-7-2z />
<path color=#0e76dc d=M205,752l6,3-5,2-6-2z />
<path color=#137dd7 d=M199,750l6,2-5,3-6-3z />
<path color=#1486d4 d=M193,747l6,3-5,2-6-2z />
<path color=#0f90d2 d=M187,743l6,4-5,3-6-3z />
<path color=#1359db d=M351,734l6-4-4-4-7,4z />
<path color=#254fce d=M345,738l6-4-5-4-6,5z />
<path color=#2f47c1 d=M339,742l6-4-5-3-6,4z />
<path color=#3341b5 d=M333,746l6-4-5-3-6,4zM259,763l6,0-5,0-6,0z />
<path color=#2f47c1 d=M253,762l6,1-5,0-6,0z />
<path color=#254fce d=M247,761l6,1-5,1-6-1z />
<path color=#1359db d=M241,760l6,1-5,1-6,0z />
<path color=#0363e1 d=M234,759l7,1-5,2-6-2z />
<path color=#036be1 d=M228,757l6,2-4,1-7-1z />
<path color=#0971de d=M222,755l6,2-5,2-6-2z />
<path color=#0f78db d=M216,752l6,3-5,2-6-2z />
<path color=#137fd6 d=M210,749l6,3-5,3-6-3z />
<path color=#1388d3 d=M204,746l6,3-5,3-6-2z />
<path color=#0d92d2 d=M197,743l7,3-5,4-6-3z />
<path color=#079dcf d=M191,739l6,4-4,4-6-4z />
<path color=#1d54d6 d=M356,738l6-4-5-4-6,4z />
<path color=#2a4cc9 d=M350,742l6-4-5-4-6,4z />
<path color=#3045bd d=M344,745l6-3-5-4-6,4z />
<path color=#3440b3 d=M337,748l7-3-5-3-6,4z />
<path color=#3045bd d=M270,762l6,0-5,1-6,0z />
<path color=#2a4cc9 d=M264,762l6,0-5,1-6,0z />
<path color=#1d54d6 d=M258,761l6,1-5,1-6-1z />
<path color=#0b5edf d=M251,759l7,2-5,1-6-1z />
<path color=#0266e1 d=M245,758l6,1-4,2-6-1z />
<path color=#056de0 d=M239,756l6,2-4,2-7-1z />
<path color=#0b74dd d=M233,754l6,2-5,3-6-2z />
<path color=#117bd9 d=M227,751l6,3-5,3-6-2z />
<path color=#1482d5 d=M221,749l6,2-5,4-6-3z />
<path color=#128bd3 d=M215,746l6,3-5,3-6-3z />
<path color=#0b95d1 d=M208,742l7,4-5,3-6-3z />
<path color=#069fce d=M202,739l6,3-4,4-7-3z />
<path color=#06a7c5 d=M196,735l6,4-5,4-6-4z />
<path color=#2152d3 d=M361,741l6-4-5-3-6,4z />
<path color=#2b4bc7 d=M355,744l6-3-5-3-6,4z />
<path color=#3045bd d=M348,747l7-3-5-2-6,3z />
<path color=#3341b5 d=M293,761l6,0-5,0-6,1z />
<path color=#3045bd d=M287,761l6,0-5,1-6,0z />
<path color=#2b4bc7 d=M281,761l6,0-5,1-6,0z />
<path color=#2152d3 d=M275,761l6,0-5,1-6,0z />
<path color=#105bdd d=M268,760l7,1-5,1-6,0z />
<path color=#0363e1 d=M262,758l6,2-4,2-6-1z />
<path color=#036ae1 d=M256,757l6,1-4,3-7-2z />
<path color=#0871df d=M250,755l6,2-5,2-6-1z />
<path color=#0e77db d=M244,753l6,2-5,3-6-2z />
<path color=#137dd7 d=M238,751l6,2-5,3-6-2z />
<path color=#1485d4 d=M232,748l6,3-5,3-6-3z />
<path color=#108ed2 d=M225,745l7,3-5,3-6-2z />
<path color=#0899d1 d=M219,741l6,4-4,4-6-3z />
<path color=#06a2cb d=M213,738l6,3-4,5-7-4z />
<path color=#07a9c2 d=M207,734l6,4-5,4-6-3z />
<path color=#12afb7 d=M201,729l6,5-5,5-6-4z />
<path color=#2152d3 d=M365,743l7-4-5-2-6,4z />
<path color=#2a4cc9 d=M359,746l6-3-4-2-6,3z />
<path color=#2f47c1 d=M353,749l6-3-4-2-7,3z />
<path color=#3244ba d=M310,760l6-1-5,0-6,1z />
<path color=#2f47c1 d=M304,760l6,0-5,0-6,1z />
<path color=#2a4cc9 d=M298,760l6,0-5,1-6,0z />
<path color=#2152d3 d=M292,760l6,0-5,1-6,0z />
<path color=#125adc d=M285,759l7,1-5,1-6,0z />
<path color=#0562e0 d=M279,758l6,1-4,2-6,0z />
<path color=#0268e1 d=M273,757l6,1-4,3-7-1z />
<path color=#066edf d=M267,756l6,1-5,3-6-2z />
<path color=#0c74dd d=M261,754l6,2-5,2-6-1z />
<path color=#117ad9 d=M255,752l6,2-5,3-6-2z />
<path color=#1481d6 d=M249,749l6,3-5,3-6-2z />
<path color=#1389d3 d=M242,747l7,2-5,4-6-2z />
<path color=#0d93d2 d=M236,743l6,4-4,4-6-3z />
<path color=#079dcf d=M230,740l6,3-4,5-7-3z />
<path color=#06a5c8 d=M224,736l6,4-5,5-6-4z />
<path color=#09acbe d=M218,732l6,4-5,5-6-3z />
<path color=#18b2b2 d=M212,728l6,4-5,6-6-4z />
<path color=#2fb7a3 d=M206,723l6,5-5,6-6-5z />
<path color=#1d54d6 d=M370,744l6-3-4-2-7,4z />
<path color=#254fce d=M364,747l6-3-5-1-6,3z />
<path color=#2b4bc8 d=M358,750l6-3-5-1-6,3z />
<path color=#2d49c3 d=M327,758l6-1-4,0-7,1z />
<path color=#2b4bc8 d=M321,758l6,0-5,0-6,1z />
<path color=#254fce d=M315,759l6-1-5,1-6,1z />
<path color=#1d54d6 d=M309,759l6,0-5,1-6,0z />
<path color=#105bdd d=M303,758l6,1-5,1-6,0z />
<path color=#0562e0 d=M296,758l7,0-5,2-6,0z />
<path color=#0268e1 d=M290,757l6,1-4,2-7-1z />
<path color=#046de0 d=M284,756l6,1-5,2-6-1z />
<path color=#0a72de d=M278,754l6,2-5,2-6-1z />
<path color=#0f78db d=M272,752l6,2-5,3-6-1z />
<path color=#137ed7 d=M266,750l6,2-5,4-6-2z />
<path color=#1485d4 d=M259,748l7,2-5,4-6-2z />
<path color=#108ed2 d=M253,745l6,3-4,4-6-3z />
<path color=#0998d1 d=M247,742l6,3-4,4-7-2z />
<path color=#06a1cc d=M241,738l6,4-5,5-6-4z />
<path color=#06a8c4 d=M235,735l6,3-5,5-6-3z />
<path color=#0eaeba d=M229,731l6,4-5,5-6-4z />
<path color=#20b4ad d=M223,726l6,5-5,5-6-4z />
<path color=#39b99d d=M216,722l7,4-5,6-6-4z />
<path color=#58bd8c d=M210,717l6,5-4,6-6-5z />
<path color=#1359db d=M375,745l6-2-5-2-6,3z />
<path color=#1c55d6 d=M369,748l6-3-5-1-6,3z />
<path color=#2152d3 d=M338,756l6-1-5,0-6,2z />
<path color=#1c55d6 d=M332,756l6,0-5,1-6,1z />
<path color=#1359db d=M326,757l6-1-5,2-6,0z />
<path color=#0b5edf d=M320,757l6,0-5,1-6,1z />
<path color=#0363e1 d=M313,756l7,1-5,2-6,0z />
<path color=#0268e1 d=M307,756l6,0-4,3-6-1z />
<path color=#046de0 d=M301,755l6,1-4,2-7,0z />
<path color=#0972de d=M295,754l6,1-5,3-6-1z />
<path color=#0f77db d=M289,752l6,2-5,3-6-1z />
<path color=#127dd8 d=M283,750l6,2-5,4-6-2z />
<path color=#1483d5 d=M277,748l6,2-5,4-6-2z />
<path color=#128bd3 d=M270,746l7,2-5,4-6-2z />
<path color=#0c94d2 d=M264,743l6,3-4,4-7-2z />
<path color=#079dcf d=M258,740l6,3-5,5-6-3z />
<path color=#06a5c9 d=M252,737l6,3-5,5-6-3z />
<path color=#09abbf d=M246,733l6,4-5,5-6-4z />
<path color=#16b1b4 d=M240,729l6,4-5,5-6-3z />
<path color=#2ab6a6 d=M233,725l7,4-5,6-6-4z />
<path color=#45bb96 d=M227,720l6,5-4,6-6-5z />
<path color=#66be85 d=M221,715l6,5-4,6-7-4z />
<path color=#88bf76 d=M215,710l6,5-5,7-6-5z />
<path color=#0860df d=M380,746l6-3-5,0-6,2z />
<path color=#0f5cdd d=M355,753l6-2-5,1-6,2z />
<path color=#0c5dde d=M349,754l6-1-5,1-6,1z />
<path color=#0860df d=M343,754l6,0-5,1-6,1z />
<path color=#0363e1 d=M337,755l6-1-5,2-6,0z />
<path color=#0266e1 d=M330,755l7,0-5,1-6,1z />
<path color=#036ae1 d=M324,754l6,1-4,2-6,0z />
<path color=#066edf d=M318,754l6,0-4,3-7-1z />
<path color=#0a72de d=M312,753l6,1-5,2-6,0z />
<path color=#0f77db d=M306,752l6,1-5,3-6-1z />
<path color=#127cd8 d=M300,750l6,2-5,3-6-1z />
<path color=#1482d5 d=M294,748l6,2-5,4-6-2z />
<path color=#1389d3 d=M287,746l7,2-5,4-6-2z />
<path color=#0e91d2 d=M281,744l6,2-4,4-6-2z />
<path color=#089ad0 d=M275,741l6,3-4,4-7-2z />
<path color=#06a2cb d=M269,738l6,3-5,5-6-3z />
<path color=#06a8c3 d=M263,734l6,4-5,5-6-3z />
<path color=#0faeb9 d=M257,731l6,3-5,6-6-3z />
<path color=#20b4ad d=M251,727l6,4-5,6-6-4z />
<path color=#37b99e d=M244,722l7,5-5,6-6-4z />
<path color=#54bd8e d=M238,718l6,4-4,7-7-4z />
<path color=#76bf7e d=M232,713l6,5-5,7-6-5z />
<path color=#96bf71 d=M226,708l6,5-5,7-6-5z />
<path color=#b3bd65 d=M220,702l6,6-5,7-6-5z />
<path color=#0266e1 d=M384,745l7-2-5,0-6,3z />
<path color=#0265e1 d=M372,749l6-2-5,1-6,2zM366,750l6-1-5,1-6,1z />
<path color=#0266e1 d=M360,751l6-1-5,1-6,2z />
<path color=#0268e1 d=M354,752l6-1-5,2-6,1z />
<path color=#036be1 d=M347,752l7,0-5,2-6,0z />
<path color=#056de0 d=M341,752l6,0-4,2-6,1z />
<path color=#0871df d=M335,752l6,0-4,3-7,0z />
<path color=#0c74dd d=M329,751l6,1-5,3-6-1z />
<path color=#0f78db d=M323,750l6,1-5,3-6,0z />
<path color=#127dd8 d=M317,749l6,1-5,4-6-1z />
<path color=#1482d5 d=M311,748l6,1-5,4-6-1z />
<path color=#1388d3 d=M304,746l7,2-5,4-6-2z />
<path color=#0f90d2 d=M298,744l6,2-4,4-6-2z />
<path color=#0999d1 d=M292,741l6,3-4,4-7-2z />
<path color=#06a0cd d=M286,738l6,3-5,5-6-2z />
<path color=#06a7c6 d=M280,735l6,3-5,6-6-3z />
<path color=#0aacbd d=M274,732l6,3-5,6-6-3z />
<path color=#18b2b2 d=M268,728l6,4-5,6-6-4z />
<path color=#2cb7a5 d=M261,724l7,4-5,6-6-3z />
<path color=#46bb96 d=M255,720l6,4-4,7-6-4z />
<path color=#66be85 d=M249,715l6,5-4,7-7-5z />
<path color=#86bf77 d=M243,710l6,5-5,7-6-4z />
<path color=#a4be6b d=M237,705l6,5-5,8-6-5z />
<path color=#c0bc60 d=M231,700l6,5-5,8-6-5z />
<path color=#dbba55 d=M225,694l6,6-5,8-6-6z />
<path color=#046de0 d=M389,744l6-1-4,0-7,2zM383,746l6-2-5,1-6,2zM377,747l6-1-5,1-6,2z />
<path color=#056ee0 d=M371,748l6-1-5,2-6,1z />
<path color=#076fdf d=M365,749l6-1-5,2-6,1z />
<path color=#0971de d=M358,749l7,0-5,2-6,1z />
<path color=#0b74dd d=M352,749l6,0-4,3-7,0z />
<path color=#0e77db d=M346,749l6,0-5,3-6,0z />
<path color=#117ad9 d=M340,748l6,1-5,3-6,0z />
<path color=#137ed7 d=M334,748l6,0-5,4-6-1z />
<path color=#1483d5 d=M328,746l6,2-5,3-6-1z />
<path color=#1389d3 d=M321,745l7,1-5,4-6-1z />
<path color=#0f90d2 d=M315,743l6,2-4,4-6-1z />
<path color=#0998d1 d=M309,741l6,2-4,5-7-2z />
<path color=#069fce d=M303,738l6,3-5,5-6-2z />
<path color=#06a5c8 d=M297,736l6,2-5,6-6-3z />
<path color=#08abc0 d=M291,733l6,3-5,5-6-3z />
<path color=#14b0b6 d=M285,729l6,4-5,5-6-3z />
<path color=#25b5aa d=M278,725l7,4-5,6-6-3z />
<path color=#3cba9b d=M272,721l6,4-4,7-6-4z />
<path color=#58bd8c d=M266,717l6,4-4,7-7-4z />
<path color=#78bf7d d=M260,713l6,4-5,7-6-4z />
<path color=#96bf71 d=M254,708l6,5-5,7-6-5z />
<path color=#b2bd65 d=M248,702l6,6-5,7-6-5z />
<path color=#cdbb5b d=M242,697l6,5-5,8-6-5z />
<path color=#e8b94f d=M235,691l7,6-5,8-6-5z />
<path color=#febf3c d=M229,685l6,6-4,9-6-6z />
<path color=#0b74dd d=M394,743l6-2-5,2-6,1z />
<path color=#0c74dd d=M388,744l6-1-5,1-6,2z />
<path color=#0d75dc d=M382,745l6-1-5,2-6,1z />
<path color=#0e76dc d=M375,746l7-1-5,2-6,1z />
<path color=#0f78db d=M369,746l6,0-4,2-6,1z />
<path color=#117bd9 d=M363,746l6,0-4,3-7,0z />
<path color=#137dd7 d=M357,746l6,0-5,3-6,0z />
<path color=#1481d6 d=M351,745l6,1-5,3-6,0z />
<path color=#1485d4 d=M345,744l6,1-5,4-6-1z />
<path color=#128bd3 d=M339,743l6,1-5,4-6,0z />
<path color=#0e91d2 d=M332,742l7,1-5,5-6-2z />
<path color=#0999d1 d=M326,740l6,2-4,4-7-1z />
<path color=#069fce d=M320,738l6,2-5,5-6-2z />
<path color=#06a5c8 d=M314,735l6,3-5,5-6-2z />
<path color=#08aac1 d=M308,732l6,3-5,6-6-3z />
<path color=#11afb8 d=M302,729l6,3-5,6-6-2z />
<path color=#20b4ad d=M295,726l7,3-5,7-6-3z />
<path color=#35b8a0 d=M289,722l6,4-4,7-6-4z />
<path color=#4fbc91 d=M283,718l6,4-4,7-7-4z />
<path color=#6dbf82 d=M277,714l6,4-5,7-6-4z />
<path color=#8bbf75 d=M271,709l6,5-5,7-6-4z />
<path color=#a7be6a d=M265,704l6,5-5,8-6-4z />
<path color=#c2bc5f d=M259,699l6,5-5,9-6-5z />
<path color=#dbba55 d=M252,694l7,5-5,9-6-6z />
<path color=#f5ba46 d=M246,688l6,6-4,8-6-5z />
<path color=#fec832 d=M240,682l6,6-4,9-7-6z />
<path color=#f6db24 d=M234,675l6,7-5,9-6-6z /></g>
<text x="40.7" y="136" font-size="9" textLength="45.3" lengthAdjust="spacingAndGlyphs">Schwefel 1.2</text>
<text class="t" transform="translate(11.8 169.4) rotate(-90)" font-size="7.4" text-anchor="middle" textLength="41" lengthAdjust="spacingAndGlyphs">F3(&#160;x<tspan font-size="5.8" dy="3.7">1</tspan><tspan dy="-3.7">&#160;,&#160;x</tspan><tspan font-size="5.8" dy="3.7">2</tspan><tspan dy="-3.7">&#160;)</tspan></text>
<text x="22.3" y="153.7" font-size="7.8" text-anchor="middle" class="t">5</text>
<text x="22.4" y="190.2" font-size="7.8" text-anchor="middle" class="t">0</text>
<text x="18" y="197.1" font-size="7.8" text-anchor="middle" class="t">100</text>
<text x="38" y="205.7" font-size="7.8" text-anchor="middle" class="t">0</text>
<text x="48" y="213.7" font-size="7.8" text-anchor="middle" class="t">-100</text>
<text x="70" y="214.2" font-size="7.8" text-anchor="middle" class="t">-100</text>
<text x="84" y="207.7" font-size="7.8" text-anchor="middle" class="t">0</text>
<text x="108" y="201.7" font-size="7.8" text-anchor="middle" class="t">100</text>
<text class="n" x="9.4" y="146.4" font-size="8.5" font-weight="normal">&#215;10<tspan font-size="6.1" dy="-3.8">4</tspan></text>
<text class="t" x="17.9" y="220.3" font-size="8.8">x<tspan font-size="6.9" dy="3.7">2</tspan></text>
<text class="t" x="96.3" y="220.5" font-size="8.8">x<tspan font-size="6.9" dy="3.7">1</tspan></text>
<path fill="none" stroke="#c4c4c4" stroke-width="0.8" d="M290 148.4L290 189L315.4 207.9L349 194"/>
<g transform="scale(.25)" filter="url(#bl)" style="fill:currentColor;stroke:currentColor;stroke-width:2;stroke-linejoin:round"><path fill=none stroke="#2350d0" stroke-width="1.4" opacity="0.85" d="M1281,761l6,7-9,3-9-5,12-5" />
<path fill=none stroke="#0a73dd" stroke-width="1.4" opacity="0.85" d="M1283,756l14,10-1,3-18,8-5-1-14-10,1-3,18-8,5,1" />
<path fill=none stroke="#138ad3" stroke-width="1.4" opacity="0.85" d="M1283,748l27,21-36,15-28-20,37-16" />
<path fill=none stroke="#06a3ca" stroke-width="1.4" opacity="0.85" d="M1286,743l33,25,0,2-45,19-4,0-33-25,0-2,18-8,27-11,4,0" />
<path fill=none stroke="#1ab2b1" stroke-width="1.4" opacity="0.85" d="M1288,738l41,30-1,4-54,22-6,0-41-30,1-4,22-9,32-13,6,0" />
<path fill=none stroke="#51bd8f" stroke-width="1.4" opacity="0.85" d="M1288,731l54,41-72,29-56-40,74-30" />
<path fill=none stroke="#92bf72" stroke-width="1.4" opacity="0.85" d="M1290,726l61,45,0,2-81,34-4-1-61-45,0-2,9-4,72-30,4,1" />
<path fill=none stroke="#c7bc5d" stroke-width="1.4" opacity="0.85" d="M1293,721l68,50-1,4-90,37-7-1-68-50,1-4,14-6,76-31,7,1" />
<path fill=none stroke="#f5ba47" stroke-width="1.4" opacity="0.85" d="M1292,713l81,62-107,44-84-60,110-46" />
<path fill=none stroke="#f9d429" stroke-width="1.4" opacity="0.85" d="M1295,708l88,65-1,3-116,48-5,0-88-65,1-3,4-2,112-46,5,0" /></g>
<defs><linearGradient id="pg0" gradientUnits="userSpaceOnUse" x1="319.5" y1="191.5" x2="348.3" y2="152.8"><stop offset="0" stop-color="#352a87"/><stop offset="0.1" stop-color="#294cca"/><stop offset="0.2" stop-color="#066fdf"/><stop offset="0.2" stop-color="#1484d4"/><stop offset="0.3" stop-color="#079ccf"/><stop offset="0.4" stop-color="#0badbc"/><stop offset="0.5" stop-color="#33b8a1"/><stop offset="0.6" stop-color="#6ebf82"/><stop offset="0.7" stop-color="#a5be6b"/><stop offset="0.8" stop-color="#d3bb58"/><stop offset="0.8" stop-color="#fbbc41"/><stop offset="0.9" stop-color="#f8d727"/><stop offset="1" stop-color="#f9fb0e"/></linearGradient><linearGradient id="pg1" gradientUnits="userSpaceOnUse" x1="319.5" y1="191.5" x2="300" y2="144.3"><stop offset="0" stop-color="#352a87"/><stop offset="0.1" stop-color="#294cca"/><stop offset="0.2" stop-color="#066fdf"/><stop offset="0.2" stop-color="#1484d4"/><stop offset="0.3" stop-color="#079ccf"/><stop offset="0.4" stop-color="#0badbc"/><stop offset="0.5" stop-color="#33b8a1"/><stop offset="0.6" stop-color="#6ebf82"/><stop offset="0.7" stop-color="#a5be6b"/><stop offset="0.8" stop-color="#d3bb58"/><stop offset="0.8" stop-color="#fbbc41"/><stop offset="0.9" stop-color="#f8d727"/><stop offset="1" stop-color="#f9fb0e"/></linearGradient><linearGradient id="pg2" gradientUnits="userSpaceOnUse" x1="319.5" y1="191.5" x2="329.6" y2="177.9"><stop offset="0" stop-color="#352a87"/><stop offset="0.1" stop-color="#294cca"/><stop offset="0.2" stop-color="#066fdf"/><stop offset="0.2" stop-color="#1484d4"/><stop offset="0.3" stop-color="#079ccf"/><stop offset="0.4" stop-color="#0badbc"/><stop offset="0.5" stop-color="#33b8a1"/><stop offset="0.6" stop-color="#6ebf82"/><stop offset="0.7" stop-color="#a5be6b"/><stop offset="0.8" stop-color="#d3bb58"/><stop offset="0.8" stop-color="#fbbc41"/><stop offset="0.9" stop-color="#f8d727"/><stop offset="1" stop-color="#f9fb0e"/></linearGradient><linearGradient id="pg3" gradientUnits="userSpaceOnUse" x1="319.5" y1="191.5" x2="310.4" y2="169.4"><stop offset="0" stop-color="#352a87"/><stop offset="0.1" stop-color="#294cca"/><stop offset="0.2" stop-color="#066fdf"/><stop offset="0.2" stop-color="#1484d4"/><stop offset="0.3" stop-color="#079ccf"/><stop offset="0.4" stop-color="#0badbc"/><stop offset="0.5" stop-color="#33b8a1"/><stop offset="0.6" stop-color="#6ebf82"/><stop offset="0.7" stop-color="#a5be6b"/><stop offset="0.8" stop-color="#d3bb58"/><stop offset="0.8" stop-color="#fbbc41"/><stop offset="0.9" stop-color="#f8d727"/><stop offset="1" stop-color="#f9fb0e"/></linearGradient></defs><g filter="url(#bl2)"><path fill="url(#pg0)" stroke="url(#pg0)" stroke-width="0.9" stroke-linejoin="round" d="M319.5 191.5L349 153.4L323.6 134.5Z"/><path fill="url(#pg1)" stroke="url(#pg1)" stroke-width="0.9" stroke-linejoin="round" d="M319.5 191.5L290 148.4L323.6 134.5Z"/><path fill="url(#pg2)" stroke="url(#pg2)" stroke-width="0.9" stroke-linejoin="round" d="M319.5 191.5L290 148.4L315.4 167.3Z"/><path fill="url(#pg3)" stroke="url(#pg3)" stroke-width="0.9" stroke-linejoin="round" d="M319.5 191.5L315.4 167.3L349 153.4Z"/></g>
<text x="296.7" y="132.8" font-size="8.2" textLength="44.8" lengthAdjust="spacingAndGlyphs">Schwefel 2.21</text>
<text class="t" transform="translate(270.4 169.2) rotate(-90)" font-size="7.4" text-anchor="middle" textLength="34.8" lengthAdjust="spacingAndGlyphs">F4(&#160;x<tspan font-size="5.8" dy="3.7">1</tspan><tspan dy="-3.7">&#160;,&#160;x</tspan><tspan font-size="5.8" dy="3.7">2</tspan><tspan dy="-3.7">&#160;)</tspan></text>
<text x="287.2" y="150.5" font-size="7.1" text-anchor="end" class="t">100</text>
<text x="287.2" y="171" font-size="7.1" text-anchor="end" class="t">50</text>
<text x="287.2" y="191.1" font-size="7.1" text-anchor="end" class="t">0</text>
<text x="287.2" y="198.1" font-size="7.1" text-anchor="end" class="t">100</text>
<text x="297.5" y="206.6" font-size="7.1" text-anchor="middle" class="t">0</text>
<text x="306.5" y="217.2" font-size="7.1" text-anchor="middle" class="t">-100</text>
<text x="325.2" y="217.4" font-size="7.1" text-anchor="middle" class="t">-100</text>
<text x="336.3" y="210.4" font-size="7.1" text-anchor="middle" class="t">0</text>
<text x="357.2" y="202.9" font-size="7.1" text-anchor="middle" class="t">100</text>
<text class="t" x="279.6" y="220.2" font-size="8.2">x<tspan font-size="6.4" dy="3.4">2</tspan></text>
<text class="t" x="346.9" y="222" font-size="8.2">x<tspan font-size="6.4" dy="3.4">1</tspan></text>
<path fill="none" stroke="#c4c4c4" stroke-width="0.8" d="M39.3 261.5L39.3 294.9L58.8 310.5L83.9 299.9"/>
<g transform="scale(.25)" filter="url(#bl)" style="fill:currentColor;stroke:currentColor;stroke-width:2;stroke-linejoin:round"><path fill=none stroke="#2350d0" stroke-width="1.4" opacity="0.85" d="M318,1186l-101,42M175,1194l100-43" />
<path fill=none stroke="#0a73dd" stroke-width="1.4" opacity="0.85" d="M322,1189l-100,42M171,1191l100-43" />
<path fill=none stroke="#138ad3" stroke-width="1.4" opacity="0.85" d="M325,1191l-101,42M168,1188l100-42" />
<path fill=none stroke="#06a3ca" stroke-width="1.4" opacity="0.85" d="M327,1193l-101,42M166,1187l100-43" />
<path fill=none stroke="#1ab2b1" stroke-width="1.4" opacity="0.85" d="M329,1194l-101,42M164,1185l100-42" />
<path fill=none stroke="#51bd8f" stroke-width="1.4" opacity="0.85" d="M330,1195l-100,43M163,1184l100-43" />
<path fill=none stroke="#92bf72" stroke-width="1.4" opacity="0.85" d="M332,1196l-101,43M161,1183l101-43" />
<path fill=none stroke="#c7bc5d" stroke-width="1.4" opacity="0.85" d="M333,1197l-101,43M160,1182l100-43" />
<path fill=none stroke="#f5ba47" stroke-width="1.4" opacity="0.85" d="M334,1198l-101,42M159,1181l100-42" />
<path fill=none stroke="#f9d429" stroke-width="1.4" opacity="0.85" d="M335,1199l-101,42M158,1180l100-42" />
<path color=#f5e51c d=M249,1016l9-4,0-7-10,3z />
<path color=#f5e61c d=M240,1019l9-3-1-8-9,4z />
<path color=#f5e71b d=M231,1023l9-4-1-7-9,4z />
<path color=#f5e81a d=M222,1027l9-4-1-7-9,3zM212,1030l10-3-1-8-9,4z />
<path color=#f5e919 d=M203,1034l9-4,0-7-9,3z />
<path color=#f5ea19 d=M194,1038l9-4,0-8-9,4z />
<path color=#f5eb18 d=M185,1041l9-3,0-8-9,4z />
<path color=#f5ec18 d=M176,1045l9-4,0-7-10,3z />
<path color=#f5ec17 d=M167,1048l9-3-1-8-9,4z />
<path color=#f5ed17 d=M158,1052l9-4-1-7-9,3z />
<path color=#fad32a d=M250,1023l9-3-1-8-9,4zM240,1027l10-4-1-7-9,3z />
<path color=#f9d429 d=M231,1030l9-3,0-8-9,4zM222,1034l9-4,0-7-9,4z />
<path color=#f9d528 d=M213,1038l9-4,0-7-10,3zM204,1041l9-3-1-8-9,4z />
<path color=#f8d627 d=M195,1045l9-4-1-7-9,4z />
<path color=#f8d727 d=M186,1049l9-4-1-7-9,3z />
<path color=#f8d726 d=M177,1052l9-3-1-8-9,4z />
<path color=#f7d826 d=M167,1056l10-4-1-7-9,3zM158,1059l9-3,0-8-9,4z />
<path color=#fec239 d=M250,1030l9-3,0-7-9,3z />
<path color=#ffc238 d=M241,1034l9-4,0-7-10,4z />
<path color=#ffc337 d=M232,1038l9-4-1-7-9,3zM223,1041l9-3-1-8-9,4z />
<path color=#ffc436 d=M214,1045l9-4-1-7-9,4z />
<path color=#fec536 d=M204,1048l10-3-1-7-9,3z />
<path color=#fec535 d=M195,1052l9-4,0-7-9,4z />
<path color=#fec635 d=M186,1056l9-4,0-7-9,4z />
<path color=#fec634 d=M177,1059l9-3,0-7-9,3z />
<path color=#fec734 d=M168,1063l9-4,0-7-10,4z />
<path color=#fec733 d=M159,1067l9-4-1-7-9,3z />
<path color=#eeb94b d=M251,1037l9-3-1-7-9,3z />
<path color=#efb94b d=M242,1041l9-4-1-7-9,4z />
<path color=#f0b94a d=M232,1045l10-4-1-7-9,4z />
<path color=#f1b94a d=M223,1048l9-3,0-7-9,3z />
<path color=#f1b949 d=M214,1052l9-4,0-7-9,4z />
<path color=#f2b949 d=M205,1056l9-4,0-7-10,3z />
<path color=#f3ba48 d=M196,1059l9-3-1-8-9,4z />
<path color=#f4ba48 d=M187,1063l9-4-1-7-9,4z />
<path color=#f4ba47 d=M178,1066l9-3-1-7-9,3z />
<path color=#f5ba46 d=M168,1070l10-4-1-7-9,4z />
<path color=#f6ba46 d=M159,1074l9-4,0-7-9,4z />
<path color=#d6ba57 d=M251,1044l9-3,0-7-9,3zM242,1048l9-4,0-7-9,4z />
<path color=#d7ba56 d=M233,1052l9-4,0-7-10,4z />
<path color=#d8ba56 d=M224,1055l9-3-1-7-9,3z />
<path color=#d9ba56 d=M215,1059l9-4-1-7-9,4z />
<path color=#daba55 d=M206,1063l9-4-1-7-9,4z />
<path color=#dbba55 d=M196,1066l10-3-1-7-9,3zM187,1070l9-4,0-7-9,4z />
<path color=#dcba54 d=M178,1073l9-3,0-7-9,3z />
<path color=#ddba54 d=M169,1077l9-4,0-7-10,4z />
<path color=#deba53 d=M160,1081l9-4-1-7-9,4z />
<path color=#bdbd61 d=M252,1051l9-4-1-6-9,3z />
<path color=#bebc61 d=M243,1055l9-4-1-7-9,4zM234,1058l9-3-1-7-9,4z />
<path color=#bfbc60 d=M224,1062l10-4-1-6-9,3z />
<path color=#c0bc60 d=M215,1066l9-4,0-7-9,4z />
<path color=#c1bc60 d=M206,1069l9-3,0-7-9,4z />
<path color=#c2bc5f d=M197,1073l9-4,0-6-10,3z />
<path color=#c3bc5f d=M188,1077l9-4-1-7-9,4zM179,1080l9-3-1-7-9,3z />
<path color=#c4bc5e d=M170,1084l9-4-1-7-9,4z />
<path color=#c5bc5e d=M161,1088l9-4-1-7-9,4z />
<path color=#a3be6c d=M252,1058l10-4-1-7-9,4z />
<path color=#a4be6b d=M243,1061l9-3,0-7-9,4zM234,1065l9-4,0-6-9,3z />
<path color=#a5be6b d=M225,1069l9-4,0-7-10,4z />
<path color=#a6be6a d=M216,1072l9-3-1-7-9,4z />
<path color=#a7be6a d=M207,1076l9-4-1-6-9,3z />
<path color=#a8be6a d=M198,1080l9-4-1-7-9,4z />
<path color=#a9be69 d=M189,1083l9-3-1-7-9,4z />
<path color=#aabe69 d=M179,1087l10-4-1-6-9,3zM170,1091l9-4,0-7-9,4z />
<path color=#abbe68 d=M161,1094l9-3,0-7-9,4z />
<path color=#86bf77 d=M253,1064l9-4,0-6-10,4z />
<path color=#87bf77 d=M244,1068l9-4-1-6-9,3z />
<path color=#88bf76 d=M235,1071l9-3-1-7-9,4z />
<path color=#89bf76 d=M226,1075l9-4-1-6-9,4z />
<path color=#8abf76 d=M217,1079l9-4-1-6-9,3z />
<path color=#8bbf75 d=M207,1082l10-3-1-7-9,4z />
<path color=#8cbf75 d=M198,1086l9-4,0-6-9,4z />
<path color=#8dbf74 d=M189,1090l9-4,0-6-9,3z />
<path color=#8ebf74 d=M180,1093l9-3,0-7-10,4z />
<path color=#8fbf74 d=M171,1097l9-4-1-6-9,4z />
<path color=#90bf73 d=M162,1101l9-4-1-6-9,3z />
<path color=#67be85 d=M254,1070l9-3-1-7-9,4z />
<path color=#68be84 d=M245,1074l9-4-1-6-9,4z />
<path color=#69be84 d=M235,1078l10-4-1-6-9,3z />
<path color=#6abe83 d=M226,1081l9-3,0-7-9,4z />
<path color=#6bbe83 d=M217,1085l9-4,0-6-9,4z />
<path color=#6cbf82 d=M208,1089l9-4,0-6-10,3z />
<path color=#6dbf82 d=M199,1092l9-3-1-7-9,4z />
<path color=#6ebf81 d=M190,1096l9-4-1-6-9,4z />
<path color=#6fbf81 d=M181,1100l9-4-1-6-9,3z />
<path color=#70bf81 d=M172,1103l9-3-1-7-9,4z />
<path color=#71bf80 d=M162,1107l10-4-1-6-9,4z />
<path color=#48bb95 d=M254,1077l9-4,0-6-9,3z />
<path color=#49bb94 d=M245,1080l9-3,0-7-9,4z />
<path color=#49bc94 d=M236,1084l9-4,0-6-10,4z />
<path color=#4abc93 d=M227,1088l9-4-1-6-9,3z />
<path color=#4bbc93 d=M218,1091l9-3-1-7-9,4z />
<path color=#4cbc92 d=M209,1095l9-4-1-6-9,4z />
<path color=#4dbc92 d=M200,1099l9-4-1-6-9,3z />
<path color=#4ebc91 d=M190,1102l10-3-1-7-9,4z />
<path color=#4fbc91 d=M181,1106l9-4,0-6-9,4z />
<path color=#50bc90 d=M172,1110l9-4,0-6-9,3z />
<path color=#51bd90 d=M163,1113l9-3,0-7-10,4z />
<path color=#2db7a4 d=M255,1083l9-4-1-6-9,4z />
<path color=#2eb7a4 d=M246,1086l9-3-1-6-9,3z />
<path color=#2fb7a3 d=M237,1090l9-4-1-6-9,4zM228,1094l9-4-1-6-9,4z />
<path color=#30b7a2 d=M218,1097l10-3-1-6-9,3z />
<path color=#31b8a2 d=M209,1101l9-4,0-6-9,4z />
<path color=#32b8a1 d=M200,1105l9-4,0-6-9,4z />
<path color=#33b8a1 d=M191,1108l9-3,0-6-10,3zM182,1112l9-4-1-6-9,4z />
<path color=#34b8a0 d=M173,1116l9-4-1-6-9,4z />
<path color=#35b8a0 d=M164,1119l9-3-1-6-9,3z />
<path color=#18b2b2 d=M256,1088l9-3-1-6-9,4z />
<path color=#19b2b2 d=M247,1092l9-4-1-5-9,3z />
<path color=#1ab2b1 d=M237,1096l10-4-1-6-9,4zM228,1100l9-4,0-6-9,4z />
<path color=#1bb2b0 d=M219,1103l9-3,0-6-10,3zM210,1107l9-4-1-6-9,4z />
<path color=#1cb3b0 d=M201,1111l9-4-1-6-9,4z />
<path color=#1cb3af d=M192,1114l9-3-1-6-9,3z />
<path color=#1db3af d=M183,1118l9-4-1-6-9,4z />
<path color=#1eb3ae d=M174,1122l9-4-1-6-9,4zM164,1125l10-3-1-6-9,3z />
<path color=#0aacbe d=M256,1094l10-4-1-5-9,3z />
<path color=#0aacbd d=M247,1098l9-4,0-6-9,4zM238,1102l9-4,0-6-10,4z />
<path color=#0bacbd d=M229,1105l9-3-1-6-9,4z />
<path color=#0badbc d=M220,1109l9-4-1-5-9,3z />
<path color=#0cadbc d=M211,1113l9-4-1-6-9,4zM202,1116l9-3-1-6-9,4z />
<path color=#0cadbb d=M193,1120l9-4-1-5-9,3z />
<path color=#0dadbb d=M183,1124l10-4-1-6-9,4zM174,1127l9-3,0-6-9,4z />
<path color=#0eaeba d=M165,1131l9-4,0-5-10,3z />
<path color=#06a6c7 d=M257,1100l9-4,0-6-10,4zM248,1103l9-3-1-6-9,4zM239,1107l9-4-1-5-9,4zM230,1111l9-4-1-5-9,3z />
<path color=#06a6c6 d=M221,1115l9-4-1-6-9,4z />
<path color=#06a7c6 d=M212,1118l9-3-1-6-9,4zM202,1122l10-4-1-5-9,3zM193,1126l9-4,0-6-9,4z />
<path color=#06a7c5 d=M184,1129l9-3,0-6-10,4zM175,1133l9-4-1-5-9,3z />
<path color=#06a8c5 d=M166,1137l9-4-1-6-9,4z />
<path color=#069fce d=M231,1116l9-3-1-6-9,4zM221,1120l10-4-1-5-9,4zM212,1124l9-4,0-5-9,3zM203,1127l9-3,0-6-10,4z />
<path color=#06a0cd d=M194,1131l9-4-1-5-9,4zM185,1135l9-4-1-5-9,3zM176,1139l9-4-1-6-9,4zM167,1142l9-3-1-6-9,4z />
<path color=#0b95d2 d=M231,1122l9-4,0-5-9,3z />
<path color=#0b95d1 d=M222,1125l9-3,0-6-10,4z />
<path color=#0b96d1 d=M213,1129l9-4-1-5-9,4z />
<path color=#0a96d1 d=M204,1133l9-4-1-5-9,3zM195,1136l9-3-1-6-9,4z />
<path color=#0a97d1 d=M186,1140l9-4-1-5-9,4zM177,1144l9-4-1-5-9,4z />
<path color=#0997d1 d=M167,1148l10-4-1-5-9,3z />
<path color=#128ad3 d=M232,1127l9-4-1-5-9,4z />
<path color=#128bd3 d=M223,1130l9-3-1-5-9,3z />
<path color=#128bd2 d=M214,1134l9-4-1-5-9,4zM205,1138l9-4-1-5-9,4z />
<path color=#128cd2 d=M196,1141l9-3-1-5-9,3zM187,1145l9-4-1-5-9,4z />
<path color=#118cd2 d=M177,1149l10-4-1-5-9,4z />
<path color=#118dd2 d=M168,1153l9-4,0-5-10,4z />
<path color=#1482d5 d=M224,1135l9-4-1-4-9,3zM215,1139l9-4-1-5-9,4zM206,1143l9-4-1-5-9,4z />
<path color=#1483d5 d=M197,1146l9-3-1-5-9,3zM187,1150l10-4-1-5-9,4zM178,1154l9-4,0-5-10,4zM169,1158l9-4-1-5-9,4z />
<path color=#117ad9 d=M225,1140l9-4-1-5-9,4z />
<path color=#117bd9 d=M216,1144l9-4-1-5-9,4zM207,1147l9-3-1-5-9,4zM197,1151l10-4-1-4-9,3z />
<path color=#127bd9 d=M188,1155l9-4,0-5-10,4zM179,1159l9-4-1-5-9,4z />
<path color=#127cd9 d=M170,1162l9-3-1-5-9,4z />
<path color=#0b73dd d=M226,1145l9-4-1-5-9,4z />
<path color=#0b74dd d=M217,1148l9-3-1-5-9,4zM208,1152l9-4-1-4-9,3z />
<path color=#0c74dd d=M198,1156l10-4-1-5-10,4zM189,1160l9-4-1-5-9,4zM180,1163l9-3-1-5-9,4zM171,1167l9-4-1-4-9,3z />
<path color=#046ce0 d=M227,1149l9-4-1-4-9,4zM218,1153l9-4-1-4-9,3z />
<path color=#046de0 d=M209,1156l9-3-1-5-9,4zM199,1160l10-4-1-4-10,4zM190,1164l9-4-1-4-9,4z />
<path color=#056de0 d=M181,1168l9-4-1-4-9,3zM172,1172l9-4-1-5-9,4z />
<path color=#0364e1 d=M228,1153l9-4-1-4-9,4zM219,1157l9-4-1-4-9,4z />
<path color=#0265e1 d=M210,1161l9-4-1-4-9,3zM201,1164l9-3-1-5-10,4zM191,1168l10-4-2-4-9,4zM182,1172l9-4-1-4-9,4z />
<path color=#0266e1 d=M173,1176l9-4-1-4-9,4z />
<path color=#135adb d=M229,1157l9-4-1-4-9,4z />
<path color=#125adb d=M220,1161l9-4-1-4-9,4z />
<path color=#125adc d=M211,1165l9-4-1-4-9,4z />
<path color=#115bdc d=M202,1169l9-4-1-4-9,3z />
<path color=#115bdd d=M193,1172l9-3-1-5-10,4z />
<path color=#105bdd d=M184,1176l9-4-2-4-9,4z />
<path color=#0f5cdd d=M174,1180l10-4-2-4-9,4z />
<path color=#274ecc d=M221,1165l9-4-1-4-9,4z />
<path color=#264ecd d=M212,1169l9-4-1-4-9,4zM203,1172l9-3-1-4-9,4z />
<path color=#264fcd d=M194,1176l9-4-1-3-9,3z />
<path color=#254fce d=M185,1180l9-4-1-4-9,4zM176,1184l9-4-1-4-10,4z />
<path color=#3144bc d=M223,1169l9-4-2-4-9,4z />
<path color=#3145bc d=M214,1172l9-3-2-4-9,4zM205,1176l9-4-2-3-9,3z />
<path color=#3045bd d=M195,1180l10-4-2-4-9,4zM186,1184l9-4-1-4-9,4z />
<path color=#3046bd d=M177,1188l9-4-1-4-9,4z />
<path color=#353dad d=M224,1172l10-4-2-3-9,4zM215,1176l9-4-1-3-9,3z />
<path color=#353dae d=M206,1180l9-4-1-4-9,4zM197,1184l9-4-1-4-10,4z />
<path color=#353eae d=M188,1187l9-3-2-4-9,4zM179,1191l9-4-2-3-9,4z />
<path color=#3637a0 d=M226,1176l9-4-1-4-10,4zM217,1180l9-4-2-4-9,4z />
<path color=#3637a1 d=M208,1183l9-3-2-4-9,4zM199,1187l9-4-2-3-9,4zM190,1191l9-4-2-3-9,3z />
<path color=#3637a2 d=M181,1195l9-4-2-4-9,4z />
<path color=#363296 d=M220,1183l9-4-3-3-9,4zM210,1187l10-4-3-3-9,3zM201,1191l9-4-2-4-9,4z />
<path color=#363297 d=M192,1195l9-4-2-4-9,4zM183,1198l9-3-2-4-9,4z />
<path color=#362e8e d=M223,1187l9-4-3-4-9,4zM214,1191l9-4-3-4-10,4zM204,1194l10-3-4-4-9,4zM195,1198l9-4-3-3-9,4zM186,1202l9-4-3-3-9,3z />
<path color=#352b89 d=M233,1195l9-3-10-9-9,4zM224,1199l9-4-10-8-9,4zM214,1203l10-4-10-8-10,3zM205,1207l9-4-10-9-9,4zM196,1211l9-4-10-9-9,4zM224,1210l10-3-10-8-10,4zM215,1214l9-4-10-7-9,4zM206,1218l9-4-10-7-9,4z />
<path color=#362e8e d=M219,1216l9-4-4-2-9,4zM209,1219l10-3-4-2-9,4z />
<path color=#363297 d=M212,1220l9-4-2,0-10,3z />
<path color=#36369f d=M296,1185l9-4-2,0-9,4zM287,1189l9-4-2,0-9,4z />
<path color=#3637a0 d=M250,1204l9-4-2,1-9,3z />
<path color=#3637a1 d=M241,1208l9-4-2,0-9,4zM232,1212l9-4-2,0-9,4z />
<path color=#3637a2 d=M214,1219l9-4-2,1-9,4z />
<path color=#353cab d=M307,1180l9-4-2,1-9,4z />
<path color=#353cac d=M297,1184l10-4-2,1-9,4zM288,1188l9-4-1,1-9,4z />
<path color=#353dac d=M279,1192l9-4-1,1-9,4z />
<path color=#353dad d=M270,1195l9-3-1,1-10,3zM261,1199l9-4-2,1-9,4zM252,1203l9-4-2,1-9,4z />
<path color=#353dae d=M243,1207l9-4-2,1-9,4zM234,1211l9-4-2,1-9,4z />
<path color=#353eae d=M224,1214l10-3-2,1-9,3zM215,1218l9-4-1,1-9,4z />
<path color=#3243ba d=M308,1179l9-4-1,1-9,4z />
<path color=#3244ba d=M299,1183l9-4-1,1-10,4zM290,1186l9-3-2,1-9,4z />
<path color=#3144bb d=M281,1190l9-4-2,2-9,4zM271,1194l10-4-2,2-9,3z />
<path color=#3144bc d=M262,1198l9-4-1,1-9,4z />
<path color=#3145bc d=M253,1201l9-3-1,1-9,4zM244,1205l9-4-1,2-9,4z />
<path color=#3045bd d=M235,1209l9-4-1,2-9,4zM226,1213l9-4-1,2-10,3z />
<path color=#3046bd d=M217,1217l9-4-2,1-9,4z />
<path color=#294cca d=M309,1177l9-4-1,2-9,4z />
<path color=#284dca d=M300,1181l9-4-1,2-9,4z />
<path color=#284dcb d=M291,1185l9-4-1,2-9,3zM282,1188l9-3-1,1-9,4z />
<path color=#274ecc d=M273,1192l9-4-1,2-10,4zM264,1196l9-4-2,2-9,4z />
<path color=#264ecd d=M254,1200l10-4-2,2-9,3zM245,1203l9-3-1,1-9,4z />
<path color=#264fcd d=M236,1207l9-4-1,2-9,4z />
<path color=#254fce d=M227,1211l9-4-1,2-9,4zM218,1215l9-4-1,2-9,4z />
<path color=#1658da d=M310,1175l10-4-2,2-9,4z />
<path color=#1559da d=M301,1179l9-4-1,2-9,4z />
<path color=#1459da d=M292,1182l9-3-1,2-9,4z />
<path color=#1459db d=M283,1186l9-4-1,3-9,3z />
<path color=#135adb d=M274,1190l9-4-1,2-9,4z />
<path color=#125adb d=M265,1194l9-4-1,2-9,4z />
<path color=#125adc d=M256,1198l9-4-1,2-10,4z />
<path color=#115bdc d=M247,1201l9-3-2,2-9,3z />
<path color=#115bdd d=M237,1205l10-4-2,2-9,4z />
<path color=#105bdd d=M228,1209l9-4-1,2-9,4z />
<path color=#0f5cdd d=M219,1213l9-4-1,2-9,4z />
<path color=#0363e1 d=M312,1172l9-3-1,2-10,4z />
<path color=#0364e1 d=M302,1176l10-4-2,3-9,4zM293,1180l9-4-1,3-9,3zM284,1184l9-4-1,2-9,4zM275,1188l9-4-1,2-9,4zM266,1191l9-3-1,2-9,4z />
<path color=#0265e1 d=M257,1195l9-4-1,3-9,4zM248,1199l9-4-1,3-9,3zM239,1203l9-4-1,2-10,4zM229,1206l10-3-2,2-9,4z />
<path color=#0266e1 d=M220,1210l9-4-1,3-9,4z />
<path color=#036be0 d=M313,1170l9-4-1,3-9,3z />
<path color=#046ce0 d=M303,1174l10-4-1,2-10,4zM294,1177l9-3-1,2-9,4zM285,1181l9-4-1,3-9,4zM276,1185l9-4-1,3-9,4zM267,1189l9-4-1,3-9,3z />
<path color=#046de0 d=M258,1192l9-3-1,2-9,4zM249,1196l9-4-1,3-9,4zM240,1200l9-4-1,3-9,4z />
<path color=#056de0 d=M230,1204l10-4-1,3-10,3zM221,1207l9-3-1,2-9,4z />
<path color=#0a73de d=M314,1167l9-4-1,3-9,4z />
<path color=#0a73dd d=M304,1171l10-4-1,3-10,4z />
<path color=#0b73dd d=M295,1174l9-3-1,3-9,3zM286,1178l9-4-1,3-9,4zM277,1182l9-4-1,3-9,4z />
<path color=#0b74dd d=M268,1185l9-3-1,3-9,4zM259,1189l9-4-1,4-9,3z />
<path color=#0c74dd d=M250,1193l9-4-1,3-9,4zM241,1197l9-4-1,3-9,4zM231,1200l10-3-1,3-10,4zM222,1204l9-4-1,4-9,3z />
<path color=#117ada d=M315,1164l9-4-1,3-9,4zM305,1167l10-3-1,3-10,4z />
<path color=#117ad9 d=M296,1171l9-4-1,4-9,3zM287,1175l9-4-1,3-9,4zM278,1178l9-3-1,3-9,4z />
<path color=#117bd9 d=M269,1182l9-4-1,4-9,3zM260,1186l9-4-1,3-9,4zM251,1190l9-4-1,3-9,4z />
<path color=#127bd9 d=M241,1193l10-3-1,3-9,4zM232,1197l9-4,0,4-10,3z />
<path color=#127cd9 d=M223,1201l9-4-1,3-9,4z />
<path color=#1481d6 d=M315,1160l10-4-1,4-9,4zM306,1164l9-4,0,4-10,3z />
<path color=#1481d5 d=M297,1168l9-4-1,3-9,4z />
<path color=#1482d5 d=M288,1171l9-3-1,3-9,4zM279,1175l9-4-1,4-9,3zM270,1179l9-4-1,3-9,4zM261,1182l9-3-1,3-9,4z />
<path color=#1483d5 d=M251,1186l10-4-1,4-9,4zM242,1190l9-4,0,4-10,3zM233,1194l9-4-1,3-9,4zM224,1197l9-3-1,3-9,4z />
<path color=#138ad3 d=M316,1156l9-3,0,3-10,4zM307,1160l9-4-1,4-9,4zM298,1164l9-4-1,4-9,4z />
<path color=#128ad3 d=M289,1168l9-4-1,4-9,3z />
<path color=#128bd3 d=M280,1171l9-3-1,3-9,4z />
<path color=#128bd2 d=M271,1175l9-4-1,4-9,4zM261,1179l10-4-1,4-9,3z />
<path color=#128cd2 d=M252,1182l9-3,0,3-10,4zM243,1186l9-4-1,4-9,4z />
<path color=#118cd2 d=M234,1190l9-4-1,4-9,4z />
<path color=#118dd2 d=M225,1194l9-4-1,4-9,3z />
<path color=#0c94d2 d=M317,1152l9-3-1,4-9,3zM308,1156l9-4-1,4-9,4z />
<path color=#0b95d2 d=M299,1160l9-4-1,4-9,4zM290,1164l9-4-1,4-9,4z />
<path color=#0b95d1 d=M281,1167l9-3-1,4-9,3z />
<path color=#0b96d1 d=M271,1171l10-4-1,4-9,4z />
<path color=#0a96d1 d=M262,1175l9-4,0,4-10,4zM253,1178l9-3-1,4-9,3z />
<path color=#0a97d1 d=M244,1182l9-4-1,4-9,4zM235,1186l9-4-1,4-9,4z />
<path color=#0997d1 d=M226,1190l9-4-1,4-9,4z />
<path color=#079ecf d=M318,1148l9-3-1,4-9,3z />
<path color=#069ece d=M309,1152l9-4-1,4-9,4zM300,1156l9-4-1,4-9,4z />
<path color=#069fce d=M290,1159l10-3-1,4-9,4zM281,1163l9-4,0,5-9,3zM272,1167l9-4,0,4-10,4zM263,1171l9-4-1,4-9,4z />
<path color=#06a0cd d=M254,1174l9-3-1,4-9,3zM245,1178l9-4-1,4-9,4zM236,1182l9-4-1,4-9,4zM227,1185l9-3-1,4-9,4z />
<path color=#06a6c7 d=M319,1144l9-4-1,5-9,3zM309,1148l10-4-1,4-9,4zM300,1151l9-3,0,4-9,4zM291,1155l9-4,0,5-10,3z />
<path color=#06a6c6 d=M282,1159l9-4-1,4-9,4z />
<path color=#06a7c6 d=M273,1162l9-3-1,4-9,4zM264,1166l9-4-1,5-9,4zM255,1170l9-4-1,5-9,3z />
<path color=#06a7c5 d=M246,1174l9-4-1,4-9,4zM236,1177l10-3-1,4-9,4z />
<path color=#06a8c5 d=M227,1181l9-4,0,5-9,3z />
<path color=#0aacbe d=M319,1139l9-3,0,4-9,4z />
<path color=#0aacbd d=M310,1143l9-4,0,5-10,4zM301,1147l9-4-1,5-9,3z />
<path color=#0bacbd d=M292,1150l9-3-1,4-9,4z />
<path color=#0badbc d=M283,1154l9-4-1,5-9,4z />
<path color=#0cadbc d=M274,1158l9-4-1,5-9,3zM265,1162l9-4-1,4-9,4z />
<path color=#0cadbb d=M255,1165l10-3-1,4-9,4z />
<path color=#0dadbb d=M246,1169l9-4,0,5-9,4zM237,1173l9-4,0,5-10,3z />
<path color=#0eaeba d=M228,1176l9-3-1,4-9,4z />
<path color=#18b2b2 d=M320,1135l9-4-1,5-9,3z />
<path color=#19b2b2 d=M311,1138l9-3-1,4-9,4z />
<path color=#1ab2b1 d=M302,1142l9-4-1,5-9,4zM293,1146l9-4-1,5-9,3z />
<path color=#1bb2b0 d=M283,1149l10-3-1,4-9,4zM274,1153l9-4,0,5-9,4z />
<path color=#1cb3b0 d=M265,1157l9-4,0,5-9,4z />
<path color=#1cb3af d=M256,1160l9-3,0,5-10,3z />
<path color=#1db3af d=M247,1164l9-4-1,5-9,4z />
<path color=#1eb3ae d=M238,1168l9-4-1,5-9,4zM229,1171l9-3-1,5-9,3z />
<path color=#2db7a4 d=M321,1130l9-4-1,5-9,4z />
<path color=#2eb7a4 d=M312,1133l9-3-1,5-9,3z />
<path color=#2fb7a3 d=M302,1137l10-4-1,5-9,4zM293,1141l9-4,0,5-9,4z />
<path color=#30b7a2 d=M284,1144l9-3,0,5-10,3z />
<path color=#31b8a2 d=M275,1148l9-4-1,5-9,4z />
<path color=#32b8a1 d=M266,1152l9-4-1,5-9,4z />
<path color=#33b8a1 d=M257,1155l9-3-1,5-9,3zM248,1159l9-4-1,5-9,4z />
<path color=#34b8a0 d=M238,1163l10-4-1,5-9,4z />
<path color=#35b8a0 d=M229,1166l9-3,0,5-9,3z />
<path color=#48bb95 d=M321,1125l9-4,0,5-9,4z />
<path color=#49bb94 d=M312,1128l9-3,0,5-9,3z />
<path color=#49bc94 d=M303,1132l9-4,0,5-10,4z />
<path color=#4abc93 d=M294,1136l9-4-1,5-9,4z />
<path color=#4bbc93 d=M285,1139l9-3-1,5-9,3z />
<path color=#4cbc92 d=M276,1143l9-4-1,5-9,4z />
<path color=#4dbc92 d=M267,1147l9-4-1,5-9,4z />
<path color=#4ebc91 d=M257,1150l10-3-1,5-9,3z />
<path color=#4fbc91 d=M248,1154l9-4,0,5-9,4z />
<path color=#50bc90 d=M239,1158l9-4,0,5-10,4z />
<path color=#51bd90 d=M230,1161l9-3-1,5-9,3z />
<path color=#67be85 d=M322,1119l9-3-1,5-9,4z />
<path color=#68be84 d=M313,1123l9-4-1,6-9,3z />
<path color=#69be84 d=M304,1127l9-4-1,5-9,4z />
<path color=#6abe83 d=M295,1130l9-3-1,5-9,4z />
<path color=#6bbe83 d=M285,1134l10-4-1,6-9,3z />
<path color=#6cbf82 d=M276,1138l9-4,0,5-9,4z />
<path color=#6dbf82 d=M267,1141l9-3,0,5-9,4z />
<path color=#6ebf81 d=M258,1145l9-4,0,6-10,3z />
<path color=#6fbf81 d=M249,1149l9-4-1,5-9,4z />
<path color=#70bf81 d=M240,1152l9-3-1,5-9,4z />
<path color=#71bf80 d=M231,1156l9-4-1,6-9,3z />
<path color=#86bf77 d=M323,1114l9-4-1,6-9,3z />
<path color=#87bf77 d=M313,1117l10-3-1,5-9,4z />
<path color=#88bf76 d=M304,1121l9-4,0,6-9,4z />
<path color=#89bf76 d=M295,1125l9-4,0,6-9,3z />
<path color=#8abf76 d=M286,1128l9-3,0,5-10,4z />
<path color=#8bbf75 d=M277,1132l9-4-1,6-9,4z />
<path color=#8cbf75 d=M268,1136l9-4-1,6-9,3z />
<path color=#8dbf74 d=M259,1139l9-3-1,5-9,4z />
<path color=#8ebf74 d=M250,1143l9-4-1,6-9,4z />
<path color=#8fbf74 d=M240,1147l10-4-1,6-9,3z />
<path color=#90bf73 d=M231,1150l9-3,0,5-9,4z />
<path color=#a3be6c d=M323,1108l9-4,0,6-9,4z />
<path color=#a4be6b d=M314,1112l9-4,0,6-10,3zM305,1115l9-3-1,5-9,4z />
<path color=#a5be6b d=M296,1119l9-4-1,6-9,4z />
<path color=#a6be6a d=M287,1123l9-4-1,6-9,3z />
<path color=#a7be6a d=M278,1126l9-3-1,5-9,4z />
<path color=#a8be6a d=M268,1130l10-4-1,6-9,4z />
<path color=#a9be69 d=M259,1134l9-4,0,6-9,3z />
<path color=#aabe69 d=M250,1137l9-3,0,5-9,4zM241,1141l9-4,0,6-10,4z />
<path color=#abbe68 d=M232,1145l9-4-1,6-9,3z />
<path color=#bdbd61 d=M324,1102l9-3-1,5-9,4z />
<path color=#bebc61 d=M315,1106l9-4-1,6-9,4zM305,1110l10-4-1,6-9,3z />
<path color=#bfbc60 d=M296,1113l9-3,0,5-9,4z />
<path color=#c0bc60 d=M287,1117l9-4,0,6-9,4z />
<path color=#c1bc60 d=M278,1121l9-4,0,6-9,3z />
<path color=#c2bc5f d=M269,1124l9-3,0,5-10,4z />
<path color=#c3bc5f d=M260,1128l9-4-1,6-9,4zM251,1131l9-3-1,6-9,3z />
<path color=#c4bc5e d=M242,1135l9-4-1,6-9,4z />
<path color=#c5bc5e d=M232,1139l10-4-1,6-9,4z />
<path color=#d6ba57 d=M324,1096l9-3,0,6-9,3zM315,1100l9-4,0,6-9,4z />
<path color=#d7ba56 d=M306,1104l9-4,0,6-10,4z />
<path color=#d8ba56 d=M297,1107l9-3-1,6-9,3z />
<path color=#d9ba56 d=M288,1111l9-4-1,6-9,4z />
<path color=#daba55 d=M279,1114l9-3-1,6-9,4z />
<path color=#dbba55 d=M270,1118l9-4-1,7-9,3zM260,1122l10-4-1,6-9,4z />
<path color=#dcba54 d=M251,1125l9-3,0,6-9,3z />
<path color=#ddba54 d=M242,1129l9-4,0,6-9,4z />
<path color=#deba53 d=M233,1133l9-4,0,6-10,4z />
<path color=#eeb94b d=M325,1090l9-3-1,6-9,3z />
<path color=#efb94b d=M316,1094l9-4-1,6-9,4z />
<path color=#f0b94a d=M307,1097l9-3-1,6-9,4z />
<path color=#f1b94a d=M297,1101l10-4-1,7-9,3z />
<path color=#f1b949 d=M288,1105l9-4,0,6-9,4z />
<path color=#f2b949 d=M279,1108l9-3,0,6-9,3z />
<path color=#f3ba48 d=M270,1112l9-4,0,6-9,4z />
<path color=#f4ba48 d=M261,1116l9-4,0,6-10,4z />
<path color=#f4ba47 d=M252,1119l9-3-1,6-9,3z />
<path color=#f5ba46 d=M243,1123l9-4-1,6-9,4z />
<path color=#f6ba46 d=M234,1126l9-3-1,6-9,4z />
<path color=#fec239 d=M325,1084l10-4-1,7-9,3z />
<path color=#ffc238 d=M316,1087l9-3,0,6-9,4z />
<path color=#ffc337 d=M307,1091l9-4,0,7-9,3zM298,1095l9-4,0,6-10,4z />
<path color=#ffc436 d=M289,1098l9-3-1,6-9,4z />
<path color=#fec536 d=M280,1102l9-4-1,7-9,3z />
<path color=#fec535 d=M271,1106l9-4-1,6-9,4z />
<path color=#fec635 d=M262,1109l9-3-1,6-9,4z />
<path color=#fec634 d=M252,1113l10-4-1,7-9,3z />
<path color=#fec734 d=M243,1116l9-3,0,6-9,4z />
<path color=#fec733 d=M234,1120l9-4,0,7-9,3z />
<path color=#fad32a d=M326,1077l9-3,0,6-10,4zM317,1081l9-4-1,7-9,3z />
<path color=#f9d429 d=M308,1085l9-4-1,6-9,4zM299,1088l9-3-1,6-9,4z />
<path color=#f9d528 d=M289,1092l10-4-1,7-9,3zM280,1095l9-3,0,6-9,4z />
<path color=#f8d627 d=M271,1099l9-4,0,7-9,4z />
<path color=#f8d727 d=M262,1103l9-4,0,7-9,3z />
<path color=#f8d726 d=M253,1106l9-3,0,6-10,4z />
<path color=#f7d826 d=M244,1110l9-4-1,7-9,3zM235,1114l9-4-1,6-9,4z />
<path color=#f5e51c d=M326,1071l10-4-1,7-9,3z />
<path color=#f5e61c d=M317,1074l9-3,0,6-9,4z />
<path color=#f5e71b d=M308,1078l9-4,0,7-9,4z />
<path color=#f5e81a d=M299,1082l9-4,0,7-9,3zM290,1085l9-3,0,6-10,4z />
<path color=#f5e919 d=M281,1089l9-4-1,7-9,3z />
<path color=#f5ea19 d=M272,1092l9-3-1,6-9,4z />
<path color=#f5eb18 d=M263,1096l9-4-1,7-9,4z />
<path color=#f5ec18 d=M253,1100l10-4-1,7-9,3z />
<path color=#f5ec17 d=M244,1103l9-3,0,6-9,4z />
<path color=#f5ed17 d=M235,1107l9-4,0,7-9,4z /></g>
<text x="44.4" y="249.4" font-size="6.7" textLength="33.9" lengthAdjust="spacingAndGlyphs">Rosenbrock</text>
<text class="t" transform="translate(26 279.5) rotate(-90)" font-size="6.7" text-anchor="middle" textLength="30.7" lengthAdjust="spacingAndGlyphs">F5(&#160;x<tspan font-size="5.2" dy="3.4">1</tspan><tspan dy="-3.4">&#160;,&#160;x</tspan><tspan font-size="5.2" dy="3.4">2</tspan><tspan dy="-3.4">&#160;)</tspan></text>
<text x="37.5" y="276.7" font-size="6" text-anchor="end" class="t">10</text>
<text x="37.5" y="296.9" font-size="6" text-anchor="end" class="t">0</text>
<text x="37.5" y="303" font-size="6" text-anchor="end" class="t">200</text>
<text x="45.5" y="311.2" font-size="6" text-anchor="middle" class="t">0</text>
<text x="51.7" y="319" font-size="6" text-anchor="middle" class="t">-200</text>
<text x="66" y="319" font-size="6" text-anchor="middle" class="t">-200</text>
<text x="74.7" y="312.8" font-size="6" text-anchor="middle" class="t">0</text>
<text x="89.7" y="307.2" font-size="6" text-anchor="middle" class="t">200</text>
<text class="n" x="23.8" y="257.1" font-size="6.7" font-weight="normal">&#215;10<tspan font-size="4.8" dy="-3">10</tspan></text>
<text class="t" x="28.6" y="322.3" font-size="7">x<tspan font-size="5.5" dy="2.9">2</tspan></text>
<text class="t" x="84" y="322.4" font-size="7">x<tspan font-size="5.5" dy="2.9">1</tspan></text>
<path fill="none" stroke="#c4c4c4" stroke-width="0.8" d="M290 257.6L290 294.9L312.2 314.5L340.9 301.7"/>
<g transform="scale(.25)" filter="url(#bl)" style="fill:currentColor;stroke:currentColor;stroke-width:2;stroke-linejoin:round"><path fill=none stroke="#2350d0" stroke-width="1.4" opacity="0.85" d="M1256,1173l19,3,13,8,5,10-4,10-10,7-15,2-17-3-11-7-5-10,3-10,7-6,15-4" />
<path fill=none stroke="#0a73dd" stroke-width="1.4" opacity="0.85" d="M1243,1167l14-2,13,1,21,8,9,8,4,7,1,8-2,8-13,11-18,5-20-1-20-8-11-11-3-7,1-8,7-11,17-8" />
<path fill=none stroke="#138ad3" stroke-width="1.4" opacity="0.85" d="M1239,1160l30,0,17,4,13,6,10,8,5,10,1,12-6,11-5,6-11,6-19,4-26-1-24-10-13-14-2-16,3-8,8-9,19-9" />
<path fill=none stroke="#06a3ca" stroke-width="1.4" opacity="0.85" d="M1245,1154l17,0,21,3,15,6,11,7,11,12,4,10-1,10-5,12-9,8-11,6-30,5-28-4-15-5-11-8-8-8-5-10-1-8,3-14,15-13,27-9" />
<path fill=none stroke="#1ab2b1" stroke-width="1.4" opacity="0.85" d="M1233,1151l23-2,20,1,19,6,17,9,11,11,7,13,1,10-6,16-8,8-15,8-29,7-33-4-28-12-12-12-5-9-2-12,1-8,5-9,8-9,10-6,16-6" />
<path fill=none stroke="#51bd8f" stroke-width="1.4" opacity="0.85" d="M1289,1240l-17,2-22-1-32-10M1333,1179l4,11,1,12-6,14-8,9M1191,1207l-4-11-1-12,6-13,8-9M1235,1146l16-2,22,1,33,11" />
<path fill=none stroke="#92bf72" stroke-width="1.4" opacity="0.85" d="M1276,1246l-24-1-25-6M1342,1188l1,16-7,15M1181,1198l-1-15,8-16M1247,1141l24,0,25,6" />
<path fill=none stroke="#c7bc5d" stroke-width="1.4" opacity="0.85" d="M1268,1250l-34-5M1349,1194l0,10-4,11M1175,1192l0-10,4-11M1256,1137l33,4" />
<path fill=none stroke="#f5ba47" stroke-width="1.4" opacity="0.85" d="M1260,1253l-20-3M1355,1199l-3,13M1169,1187l2-13M1263,1134l21,2" />
<path fill=none stroke="#f9d429" stroke-width="1.4" opacity="0.85" d="M1254,1256l-9-2M1359,1203l-1,6M1164,1183l1-6M1269,1131l10,1" />
<path color=#f6dc22 d=M1274,1004l4-12-3-13-4,12z />
<path color=#fec734 d=M1270,1015l4-11-3-13-4,11z />
<path color=#f0b94a d=M1266,1025l4-10-3-13-4,11z />
<path color=#d4bb58 d=M1262,1035l4-10-3-12-4,9z />
<path color=#bbbd62 d=M1258,1043l4-8-3-13-4,8z />
<path color=#a2be6c d=M1254,1051l4-8-3-13-4,8z />
<path color=#88bf76 d=M1250,1059l4-8-3-13-4,8z />
<path color=#6ebf81 d=M1246,1066l4-7-3-13-4,7z />
<path color=#57bd8d d=M1242,1072l4-6-3-13-4,6z />
<path color=#43bb97 d=M1238,1077l4-5-3-13-4,5z />
<path color=#35b89f d=M1234,1082l4-5-3-13-4,5z />
<path color=#2bb6a5 d=M1230,1086l4-4-3-13-4,4z />
<path color=#25b5aa d=M1226,1089l4-3-3-13-4,3z />
<path color=#21b4ac d=M1222,1091l4-2-3-13-4,2z />
<path color=#20b4ad d=M1218,1093l4-2-3-13-4,2z />
<path color=#21b4ac d=M1215,1094l3-1-3-13-4,1z />
<path color=#25b5aa d=M1211,1094l4,0-4-13-3,1z />
<path color=#2bb6a5 d=M1207,1094l4,0-3-12-4-1z />
<path color=#35b89f d=M1203,1093l4,1-3-13-4-1z />
<path color=#43bb97 d=M1199,1091l4,2-3-13-4-2z />
<path color=#57bd8d d=M1195,1089l4,2-3-13-4-2z />
<path color=#6ebf81 d=M1191,1085l4,4-3-13-4-4z />
<path color=#88bf76 d=M1187,1081l4,4-3-13-4-4z />
<path color=#a2be6c d=M1183,1076l4,5-3-13-4-4z />
<path color=#bbbd62 d=M1179,1072l4,4-3-12-4-5z />
<path color=#d4bb58 d=M1175,1066l4,6-3-13-4-6z />
<path color=#f0b94a d=M1171,1059l4,7-3-13-4-7z />
<path color=#fec734 d=M1167,1051l4,8-3-13-4-7z />
<path color=#f6dc22 d=M1163,1043l4,8-3-12-4-9z />
<path color=#fec734 d=M1277,1016l4-12-3-12-4,12z />
<path color=#edb94c d=M1273,1027l4-11-3-12-4,11z />
<path color=#cfbb5a d=M1269,1037l4-10-3-12-4,10z />
<path color=#b0bd66 d=M1265,1047l4-10-3-12-4,10z />
<path color=#94bf71 d=M1261,1055l4-8-3-12-4,8z />
<path color=#78bf7d d=M1257,1063l4-8-3-12-4,8z />
<path color=#59bd8c d=M1253,1071l4-8-3-12-4,8z />
<path color=#3fba9a d=M1249,1078l4-7-3-12-4,7z />
<path color=#2bb6a5 d=M1245,1084l4-6-3-12-4,6z />
<path color=#1db3af d=M1241,1089l4-5-3-12-4,5z />
<path color=#13b0b6 d=M1237,1094l4-5-3-12-4,5z />
<path color=#0dadbb d=M1233,1098l4-4-3-12-4,4z />
<path color=#09acbe d=M1229,1101l4-3-3-12-4,3z />
<path color=#08aac0 d=M1226,1103l3-2-3-12-4,2z />
<path color=#08aac1 d=M1222,1105l4-2-4-12-4,2z />
<path color=#08aac0 d=M1218,1106l4-1-4-12-3,1z />
<path color=#09acbe d=M1214,1106l4,0-3-12-4,0z />
<path color=#0dadbb d=M1210,1106l4,0-3-12-4,0z />
<path color=#13b0b6 d=M1206,1105l4,1-3-12-4-1z />
<path color=#1db3af d=M1202,1103l4,2-3-12-4-2z />
<path color=#2bb6a5 d=M1198,1101l4,2-3-12-4-2z />
<path color=#3fba9a d=M1194,1097l4,4-3-12-4-4z />
<path color=#59bd8c d=M1190,1093l4,4-3-12-4-4z />
<path color=#78bf7d d=M1186,1089l4,4-3-12-4-5z />
<path color=#94bf71 d=M1182,1084l4,5-3-13-4-4z />
<path color=#b0bd66 d=M1178,1078l4,6-3-12-4-6z />
<path color=#cfbb5a d=M1174,1071l4,7-3-12-4-7z />
<path color=#edb94c d=M1170,1064l4,7-3-12-4-8z />
<path color=#fec734 d=M1166,1055l4,9-3-13-4-8z />
<path color=#f0b94a d=M1280,1027l4-12-3-11-4,12z />
<path color=#cfbb5a d=M1276,1038l4-11-3-11-4,11z />
<path color=#aebe67 d=M1272,1049l4-11-3-11-4,10z />
<path color=#8cbf75 d=M1268,1058l4-9-3-12-4,10z />
<path color=#6bbe83 d=M1264,1066l4-8-3-11-4,8z />
<path color=#4bbc93 d=M1260,1075l4-9-3-11-4,8z />
<path color=#30b7a3 d=M1256,1082l4-7-3-12-4,8z />
<path color=#1cb3af d=M1252,1089l4-7-3-11-4,7z />
<path color=#0faeb9 d=M1248,1095l4-6-3-11-4,6z />
<path color=#08aac1 d=M1244,1100l4-5-3-11-4,5z />
<path color=#06a6c7 d=M1240,1105l4-5-3-11-4,5z />
<path color=#06a3ca d=M1236,1109l4-4-3-11-4,4z />
<path color=#06a0cd d=M1233,1112l3-3-3-11-4,3z />
<path color=#069fce d=M1229,1115l4-3-4-11-3,2z />
<path color=#069ece d=M1225,1116l4-1-3-12-4,2z />
<path color=#069fce d=M1221,1117l4-1-3-11-4,1z />
<path color=#06a0cd d=M1217,1118l4-1-3-11-4,0z />
<path color=#06a3ca d=M1213,1117l4,1-3-12-4,0z />
<path color=#06a6c7 d=M1209,1116l4,1-3-11-4-1z />
<path color=#08aac1 d=M1205,1114l4,2-3-11-4-2z />
<path color=#0faeb9 d=M1201,1112l4,2-3-11-4-2z />
<path color=#1cb3af d=M1197,1109l4,3-3-11-4-4z />
<path color=#30b7a3 d=M1193,1105l4,4-3-12-4-4z />
<path color=#4bbc93 d=M1189,1100l4,5-3-12-4-4z />
<path color=#6bbe83 d=M1185,1095l4,5-3-11-4-5z />
<path color=#8cbf75 d=M1181,1089l4,6-3-11-4-6z />
<path color=#aebe67 d=M1177,1082l4,7-3-11-4-7z />
<path color=#cfbb5a d=M1173,1075l4,7-3-11-4-7z />
<path color=#f0b94a d=M1169,1067l4,8-3-11-4-9z />
<path color=#d4bb58 d=M1283,1038l4-12-3-11-4,12z />
<path color=#b0bd66 d=M1279,1049l4-11-3-11-4,11z />
<path color=#8cbf75 d=M1275,1059l4-10-3-11-4,11z />
<path color=#64be86 d=M1271,1069l4-10-3-10-4,9z />
<path color=#42bb98 d=M1267,1077l4-8-3-11-4,8z />
<path color=#28b6a8 d=M1263,1085l4-8-3-11-4,9z />
<path color=#14b0b6 d=M1259,1093l4-8-3-10-4,7z />
<path color=#08aac0 d=M1255,1100l4-7-3-11-4,7z />
<path color=#06a5c8 d=M1251,1106l4-6-3-11-4,6z />
<path color=#069fce d=M1247,1111l4-5-3-11-4,5z />
<path color=#089ad0 d=M1244,1116l3-5-3-11-4,5z />
<path color=#0b95d2 d=M1240,1120l4-4-4-11-4,4z />
<path color=#0e91d2 d=M1236,1123l4-3-4-11-3,3z />
<path color=#108fd2 d=M1232,1125l4-2-3-11-4,3z />
<path color=#108ed2 d=M1228,1127l4-2-3-10-4,1z />
<path color=#108fd2 d=M1224,1128l4-1-3-11-4,1z />
<path color=#0e91d2 d=M1220,1128l4,0-3-11-4,1z />
<path color=#0b95d2 d=M1216,1128l4,0-3-10-4-1z />
<path color=#089ad0 d=M1212,1127l4,1-3-11-4-1z />
<path color=#069fce d=M1208,1125l4,2-3-11-4-2z />
<path color=#06a5c8 d=M1204,1123l4,2-3-11-4-2z />
<path color=#08aac0 d=M1200,1119l4,4-3-11-4-3z />
<path color=#14b0b6 d=M1196,1115l4,4-3-10-4-4z />
<path color=#28b6a8 d=M1192,1110l4,5-3-10-4-5z />
<path color=#42bb98 d=M1188,1106l4,4-3-10-4-5z />
<path color=#64be86 d=M1184,1100l4,6-3-11-4-6z />
<path color=#8cbf75 d=M1180,1093l4,7-3-11-4-7z />
<path color=#b0bd66 d=M1176,1085l4,8-3-11-4-7z />
<path color=#d4bb58 d=M1172,1077l4,8-3-10-4-8z />
<path color=#bbbd62 d=M1286,1047l4-12-3-9-4,12z />
<path color=#94bf71 d=M1282,1058l4-11-3-9-4,11z />
<path color=#6bbe83 d=M1278,1068l4-10-3-9-4,10z />
<path color=#42bb98 d=M1274,1078l4-10-3-9-4,10z />
<path color=#25b5a9 d=M1270,1086l4-8-3-9-4,8z />
<path color=#11afb7 d=M1266,1094l4-8-3-9-4,8z />
<path color=#07a9c3 d=M1262,1102l4-8-3-9-4,8z />
<path color=#06a2cc d=M1258,1108l4-6-3-9-4,7z />
<path color=#089ad0 d=M1254,1115l4-7-3-8-4,6z />
<path color=#0d92d2 d=M1251,1120l3-5-3-9-4,5z />
<path color=#128bd2 d=M1247,1125l4-5-4-9-3,5z />
<path color=#1486d4 d=M1243,1128l4-3-3-9-4,4z />
<path color=#1483d5 d=M1239,1132l4-4-3-8-4,3z />
<path color=#1481d6 d=M1235,1134l4-2-3-9-4,2zM1231,1136l4-2-3-9-4,2zM1227,1137l4-1-3-9-4,1z />
<path color=#1483d5 d=M1223,1137l4,0-3-9-4,0z />
<path color=#1486d4 d=M1219,1137l4,0-3-9-4,0z />
<path color=#128bd2 d=M1215,1136l4,1-3-9-4-1z />
<path color=#0d92d2 d=M1211,1134l4,2-3-9-4-2z />
<path color=#089ad0 d=M1207,1131l4,3-3-9-4-2z />
<path color=#06a2cc d=M1203,1128l4,3-3-8-4-4z />
<path color=#07a9c3 d=M1199,1124l4,4-3-9-4-4z />
<path color=#11afb7 d=M1195,1119l4,5-3-9-4-5z />
<path color=#25b5a9 d=M1191,1115l4,4-3-9-4-4z />
<path color=#42bb98 d=M1187,1109l4,6-3-9-4-6z />
<path color=#6bbe83 d=M1183,1102l4,7-3-9-4-7z />
<path color=#94bf71 d=M1179,1094l4,8-3-9-4-8z />
<path color=#bbbd62 d=M1175,1086l4,8-3-9-4-8z />
<path color=#a2be6c d=M1289,1056l4-12-3-9-4,12z />
<path color=#78bf7d d=M1285,1067l4-11-3-9-4,11z />
<path color=#4bbc93 d=M1281,1077l4-10-3-9-4,10z />
<path color=#28b6a8 d=M1277,1087l4-10-3-9-4,10z />
<path color=#11afb7 d=M1273,1095l4-8-3-9-4,8z />
<path color=#06a8c3 d=M1269,1103l4-8-3-9-4,8z />
<path color=#06a0cd d=M1265,1111l4-8-3-9-4,8z />
<path color=#0a97d1 d=M1262,1118l3-7-3-9-4,6z />
<path color=#118dd2 d=M1258,1124l4-6-4-10-4,7z />
<path color=#1485d4 d=M1254,1129l4-5-4-9-3,5z />
<path color=#0e77db d=M1238,1143l4-2-3-9-4,2z />
<path color=#0e76dc d=M1234,1145l4-2-3-9-4,2z />
<path color=#0e77db d=M1230,1146l4-1-3-9-4,1z />
<path color=#1078da d=M1226,1147l4-1-3-9-4,0z />
<path color=#127bd9 d=M1222,1146l4,1-3-10-4,0z />
<path color=#137fd6 d=M1218,1145l4,1-3-9-4-1z />
<path color=#1485d4 d=M1214,1143l4,2-3-9-4-2z />
<path color=#118dd2 d=M1210,1141l4,2-3-9-4-3z />
<path color=#0a97d1 d=M1206,1137l4,4-3-10-4-3z />
<path color=#06a0cd d=M1202,1133l4,4-3-9-4-4z />
<path color=#06a8c3 d=M1198,1129l4,4-3-9-4-5z />
<path color=#11afb7 d=M1194,1124l4,5-3-10-4-4z />
<path color=#28b6a8 d=M1190,1118l4,6-3-9-4-6z />
<path color=#4bbc93 d=M1186,1111l4,7-3-9-4-7z />
<path color=#78bf7d d=M1182,1104l4,7-3-9-4-8z />
<path color=#a2be6c d=M1178,1095l4,9-3-10-4-8z />
<path color=#88bf76 d=M1292,1064l4-11-3-9-4,12z />
<path color=#59bd8c d=M1288,1076l4-12-3-8-4,11z />
<path color=#30b7a3 d=M1284,1086l4-10-3-9-4,10z />
<path color=#14b0b6 d=M1280,1096l4-10-3-9-4,10z />
<path color=#07a9c3 d=M1276,1103l4-7-3-9-4,8z />
<path color=#06a0cd d=M1272,1112l4-9-3-8-4,8z />
<path color=#0b95d1 d=M1269,1119l3-7-3-9-4,8z />
<path color=#138ad3 d=M1265,1126l4-7-4-8-3,7z />
<path color=#1481d5 d=M1261,1132l4-6-3-8-4,6z />
<path color=#117bd9 d=M1257,1138l4-6-3-8-4,5z />
<path color=#0971de d=M1225,1155l4,0-3-8-4-1z />
<path color=#0d75dc d=M1221,1154l4,1-3-9-4-1z />
<path color=#117bd9 d=M1217,1152l4,2-3-9-4-2z />
<path color=#1481d5 d=M1213,1149l4,3-3-9-4-2z />
<path color=#138ad3 d=M1209,1146l4,3-3-8-4-4z />
<path color=#0b95d1 d=M1205,1142l4,4-3-9-4-4z />
<path color=#06a0cd d=M1201,1137l4,5-3-9-4-4z />
<path color=#07a9c3 d=M1197,1133l4,4-3-8-4-5z />
<path color=#14b0b6 d=M1193,1126l4,7-3-9-4-6z />
<path color=#30b7a3 d=M1189,1120l4,6-3-8-4-7z />
<path color=#59bd8c d=M1185,1112l4,8-3-9-4-7z />
<path color=#88bf76 d=M1181,1104l4,8-3-8-4-9z />
<path color=#6ebf81 d=M1295,1072l4-12-3-7-4,11z />
<path color=#3fba9a d=M1291,1083l4-11-3-8-4,12z />
<path color=#1cb3af d=M1287,1094l4-11-3-7-4,10z />
<path color=#08aac0 d=M1283,1103l4-9-3-8-4,10z />
<path color=#06a2cc d=M1280,1111l3-8-3-7-4,7z />
<path color=#0a97d1 d=M1276,1120l4-9-4-8-4,9z />
<path color=#138ad3 d=M1272,1127l4-7-4-8-3,7z />
<path color=#1480d6 d=M1268,1134l4-7-3-8-4,7z />
<path color=#1078da d=M1264,1140l4-6-3-8-4,6z />
<path color=#1480d6 d=M1212,1154l4,3-3-8-4-3z />
<path color=#138ad3 d=M1208,1150l4,4-3-8-4-4z />
<path color=#0a97d1 d=M1204,1145l4,5-3-8-4-5z />
<path color=#06a2cc d=M1200,1140l4,5-3-8-4-4z />
<path color=#08aac0 d=M1196,1134l4,6-3-7-4-7z />
<path color=#1cb3af d=M1192,1127l4,7-3-8-4-6z />
<path color=#3fba9a d=M1188,1120l4,7-3-7-4-8z />
<path color=#6ebf81 d=M1184,1112l4,8-3-8-4-8z />
<path color=#57bd8d d=M1298,1079l4-12-3-7-4,12z />
<path color=#2bb6a5 d=M1294,1090l4-11-3-7-4,11z />
<path color=#0faeb9 d=M1290,1101l4-11-3-7-4,11z />
<path color=#06a5c8 d=M1287,1110l3-9-3-7-4,9z />
<path color=#089ad0 d=M1283,1118l4-8-4-7-3,8z />
<path color=#118dd2 d=M1279,1127l4-9-3-7-4,9z />
<path color=#1481d5 d=M1275,1134l4-7-3-7-4,7z />
<path color=#1078da d=M1271,1141l4-7-3-7-4,7z />
<path color=#0870df d=M1267,1147l4-6-3-7-4,6z />
<path color=#06a5c8 d=M1199,1141l4,6-3-7-4-6z />
<path color=#0faeb9 d=M1195,1134l4,7-3-7-4-7z />
<path color=#2bb6a5 d=M1192,1127l3,7-3-7-4-7z />
<path color=#57bd8d d=M1188,1119l4,8-4-7-4-8z />
<path color=#43bb97 d=M1301,1086l4-12-3-7-4,12z />
<path color=#1db3af d=M1298,1097l3-11-3-7-4,11z />
<path color=#08aac1 d=M1294,1107l4-10-4-7-4,11z />
<path color=#069fce d=M1290,1117l4-10-4-6-3,9z />
<path color=#0d92d2 d=M1286,1125l4-8-3-7-4,8z />
<path color=#1485d4 d=M1282,1133l4-8-3-7-4,9z />
<path color=#117bd9 d=M1278,1140l4-7-3-6-4,7z />
<path color=#0972de d=M1274,1147l4-7-3-6-4,7z />
<path color=#0269e1 d=M1270,1153l4-6-3-6-4,6z />
<path color=#43bb97 d=M1191,1125l4,8-3-6-4-8z />
<path color=#35b89f d=M1305,1091l3-12-3-5-4,12z />
<path color=#13b0b6 d=M1301,1102l4-11-4-5-3,11z />
<path color=#06a6c7 d=M1297,1113l4-11-3-5-4,10z />
<path color=#089ad0 d=M1293,1122l4-9-3-6-4,10z />
<path color=#128bd2 d=M1289,1130l4-8-3-5-4,8z />
<path color=#137fd6 d=M1285,1138l4-8-3-5-4,8z />
<path color=#0d75dc d=M1281,1146l4-8-3-5-4,7z />
<path color=#046ce0 d=M1277,1153l4-7-3-6-4,7z />
<path color=#13b0b6 d=M1198,1139l4,7-3-5-4-8z />
<path color=#35b89f d=M1194,1130l4,9-3-6-4-8z />
<path color=#2bb6a5 d=M1308,1096l4-12-4-5-3,12z />
<path color=#0dadbb d=M1304,1107l4-11-3-5-4,11z />
<path color=#06a3ca d=M1300,1117l4-10-3-5-4,11z />
<path color=#0b95d2 d=M1296,1127l4-10-3-4-4,9z />
<path color=#1486d4 d=M1292,1135l4-8-3-5-4,8z />
<path color=#127bd9 d=M1288,1143l4-8-3-5-4,8z />
<path color=#0971de d=M1284,1151l4-8-3-5-4,8z />
<path color=#0267e1 d=M1280,1158l4-7-3-5-4,7z />
<path color=#06a3ca d=M1205,1151l4,7-3-5-4-7z />
<path color=#0dadbb d=M1201,1144l4,7-3-5-4-7z />
<path color=#2bb6a5 d=M1197,1135l4,9-3-5-4-9z />
<path color=#25b5aa d=M1311,1100l4-12-3-4-4,12z />
<path color=#09acbe d=M1307,1111l4-11-3-4-4,11z />
<path color=#06a0cd d=M1303,1122l4-11-3-4-4,10z />
<path color=#0e91d2 d=M1299,1131l4-9-3-5-4,10z />
<path color=#1483d5 d=M1295,1139l4-8-3-4-4,8z />
<path color=#1078da d=M1291,1147l4-8-3-4-4,8z />
<path color=#056ee0 d=M1287,1155l4-8-3-4-4,8z />
<path color=#0363e1 d=M1283,1162l4-7-3-4-4,7z />
<path color=#0e91d2 d=M1212,1162l4,6-3-4-4-6z />
<path color=#06a0cd d=M1208,1155l4,7-3-4-4-7z />
<path color=#09acbe d=M1204,1148l4,7-3-4-4-7z />
<path color=#25b5aa d=M1200,1139l4,9-3-4-4-9z />
<path color=#21b4ac d=M1314,1103l4-11-3-4-4,12z />
<path color=#08aac0 d=M1310,1115l4-12-3-3-4,11z />
<path color=#069fce d=M1306,1125l4-10-3-4-4,11z />
<path color=#108fd2 d=M1302,1135l4-10-3-3-4,9z />
<path color=#1481d6 d=M1298,1143l4-8-3-4-4,8z />
<path color=#0e77db d=M1294,1151l4-8-3-4-4,8z />
<path color=#046ce0 d=M1290,1158l4-7-3-4-4,8z />
<path color=#0860df d=M1286,1165l4-7-3-3-4,7z />
<path color=#108fd2 d=M1215,1166l4,6-3-4-4-6z />
<path color=#069fce d=M1211,1159l4,7-3-4-4-7z />
<path color=#08aac0 d=M1207,1151l4,8-3-4-4-7z />
<path color=#21b4ac d=M1203,1143l4,8-3-3-4-9z />
<path color=#20b4ad d=M1317,1106l4-12-3-2-4,11z />
<path color=#08aac1 d=M1313,1117l4-11-3-3-4,12z />
<path color=#069ece d=M1309,1128l4-11-3-2-4,10z />
<path color=#108ed2 d=M1305,1137l4-9-3-3-4,10z />
<path color=#1481d6 d=M1301,1145l4-8-3-2-4,8z />
<path color=#0e76dc d=M1297,1154l4-9-3-2-4,8z />
<path color=#036ce0 d=M1293,1161l4-7-3-3-4,7z />
<path color=#0a5fdf d=M1289,1168l4-7-3-3-4,7z />
<path color=#0e76dc d=M1226,1179l4,5-3-3-4-5z />
<path color=#1481d6 d=M1222,1174l4,5-3-3-4-4z />
<path color=#108ed2 d=M1218,1168l4,6-3-2-4-6z />
<path color=#069ece d=M1214,1161l4,7-3-2-4-7z />
<path color=#08aac1 d=M1210,1154l4,7-3-2-4-8z />
<path color=#20b4ad d=M1206,1145l4,9-3-3-4-8z />
<path color=#21b4ac d=M1320,1108l4-12-3-2-4,12z />
<path color=#08aac0 d=M1316,1119l4-11-3-2-4,11z />
<path color=#069fce d=M1312,1130l4-11-3-2-4,11z />
<path color=#108fd2 d=M1308,1139l4-9-3-2-4,9z />
<path color=#1481d6 d=M1304,1147l4-8-3-2-4,8z />
<path color=#0e77db d=M1300,1156l4-9-3-2-4,9z />
<path color=#046ce0 d=M1296,1163l4-7-3-2-4,7z />
<path color=#254fce d=M1241,1193l4,2-3-2-4-2z />
<path color=#0860df d=M1237,1190l4,3-3-2-4-3z />
<path color=#046ce0 d=M1233,1186l4,4-3-2-4-4z />
<path color=#0e77db d=M1229,1181l4,5-3-2-4-5z />
<path color=#1481d6 d=M1225,1176l4,5-3-2-4-5z />
<path color=#108fd2 d=M1221,1170l4,6-3-2-4-6z />
<path color=#069fce d=M1217,1163l4,7-3-2-4-7z />
<path color=#08aac0 d=M1213,1156l4,7-3-2-4-7z />
<path color=#21b4ac d=M1209,1148l4,8-3-2-4-9z />
<path color=#25b5aa d=M1323,1109l4-11-3-2-4,12z />
<path color=#09acbe d=M1319,1121l4-12-3-1-4,11z />
<path color=#06a0cd d=M1315,1131l4-10-3-2-4,11z />
<path color=#0e91d2 d=M1311,1141l4-10-3-1-4,9z />
<path color=#1483d5 d=M1307,1149l4-8-3-2-4,8z />
<path color=#1078da d=M1303,1157l4-8-3-2-4,9z />
<path color=#056ee0 d=M1299,1164l4-7-3-1-4,7z />
<path color=#3046be d=M1248,1197l4,2-3-2-4-2z />
<path color=#2053d4 d=M1244,1194l4,3-3-2-4-2z />
<path color=#0363e1 d=M1240,1191l4,3-3-1-4-3z />
<path color=#056ee0 d=M1236,1187l4,4-3-1-4-4z />
<path color=#1078da d=M1232,1182l4,5-3-1-4-5z />
<path color=#1483d5 d=M1228,1178l4,4-3-1-4-5z />
<path color=#0e91d2 d=M1224,1172l4,6-3-2-4-6z />
<path color=#06a0cd d=M1220,1165l4,7-3-2-4-7z />
<path color=#09acbe d=M1216,1157l4,8-3-2-4-7z />
<path color=#25b5aa d=M1212,1149l4,8-3-1-4-8z />
<path color=#2bb6a5 d=M1326,1110l4-12-3,0-4,11z />
<path color=#0dadbb d=M1322,1121l4-11-3-1-4,12z />
<path color=#06a3ca d=M1318,1132l4-11-3,0-4,10z />
<path color=#0b95d2 d=M1314,1141l4-9-3-1-4,10z />
<path color=#1486d4 d=M1310,1149l4-8-3,0-4,8z />
<path color=#127bd9 d=M1306,1157l4-8-3,0-4,8z />
<path color=#0971de d=M1302,1165l4-8-3,0-4,7z />
<path color=#3342b6 d=M1255,1199l4,1-3,0-4-1z />
<path color=#2a4bc8 d=M1251,1197l4,2-3,0-4-2z />
<path color=#135adb d=M1247,1195l4,2-3,0-4-3z />
<path color=#0267e1 d=M1243,1191l4,4-3-1-4-3z />
<path color=#0971de d=M1239,1187l4,4-3,0-4-4z />
<path color=#127bd9 d=M1235,1183l4,4-3,0-4-5z />
<path color=#1486d4 d=M1231,1178l4,5-3-1-4-4z />
<path color=#0b95d2 d=M1227,1172l4,6-3,0-4-6z />
<path color=#06a3ca d=M1223,1165l4,7-3,0-4-7z />
<path color=#0dadbb d=M1219,1158l4,7-3,0-4-8z />
<path color=#2bb6a5 d=M1215,1149l4,9-3-1-4-8z />
<path color=#35b89f d=M1329,1110l4-12-3,0-4,12z />
<path color=#13b0b6 d=M1325,1121l4-11-3,0-4,11z />
<path color=#06a6c7 d=M1321,1131l4-10-3,0-4,11z />
<path color=#089ad0 d=M1317,1141l4-10-3,1-4,9z />
<path color=#128bd2 d=M1313,1149l4-8-3,0-4,8z />
<path color=#137fd6 d=M1309,1157l4-8-3,0-4,8z />
<path color=#2d49c4 d=M1258,1199l4,1-3,0-4-1z />
<path color=#1d54d5 d=M1254,1197l4,2-3,0-4-2z />
<path color=#0562e0 d=M1250,1195l4,2-3,0-4-2z />
<path color=#046ce0 d=M1246,1191l4,4-3,0-4-4z />
<path color=#0d75dc d=M1242,1187l4,4-3,0-4-4z />
<path color=#137fd6 d=M1238,1182l4,5-3,0-4-4z />
<path color=#128bd2 d=M1234,1178l4,4-3,1-4-5z />
<path color=#089ad0 d=M1230,1172l4,6-3,0-4-6z />
<path color=#06a6c7 d=M1226,1165l4,7-3,0-4-7z />
<path color=#13b0b6 d=M1222,1158l4,7-3,0-4-7z />
<path color=#35b89f d=M1218,1149l4,9-3,0-4-9z />
<path color=#43bb97 d=M1332,1109l4-12-3,1-4,12z />
<path color=#1db3af d=M1328,1120l4-11-3,1-4,11z />
<path color=#08aac1 d=M1324,1130l4-10-3,1-4,10z />
<path color=#069fce d=M1320,1140l4-10-3,1-4,10z />
<path color=#0d92d2 d=M1316,1148l4-8-3,1-4,8z />
<path color=#1485d4 d=M1312,1156l4-8-3,1-4,8z />
<path color=#3342b7 d=M1277,1198l4-2-3,1-4,2z />
<path color=#3243b8 d=M1273,1199l4-1-3,1-4,1z />
<path color=#3046be d=M1269,1200l4-1-3,1-4,0z />
<path color=#2a4bc8 d=M1265,1199l4,1-3,0-4,0z />
<path color=#1d54d5 d=M1261,1198l4,1-3,1-4-1z />
<path color=#095fdf d=M1257,1196l4,2-3,1-4-2z />
<path color=#0269e1 d=M1253,1194l4,2-3,1-4-2z />
<path color=#0972de d=M1249,1190l4,4-3,1-4-4z />
<path color=#117bd9 d=M1245,1186l4,4-3,1-4-4z />
<path color=#1485d4 d=M1241,1182l4,4-3,1-4-5z />
<path color=#0d92d2 d=M1237,1177l4,5-3,0-4-4z />
<path color=#069fce d=M1233,1171l4,6-3,1-4-6z />
<path color=#08aac1 d=M1229,1164l4,7-3,1-4-7z />
<path color=#1db3af d=M1225,1157l4,7-3,1-4-7z />
<path color=#43bb97 d=M1221,1148l4,9-3,1-4-9z />
<path color=#57bd8d d=M1335,1107l4-12-3,2-4,12z />
<path color=#2bb6a5 d=M1331,1118l4-11-3,2-4,11z />
<path color=#0faeb9 d=M1327,1129l4-11-3,2-4,10z />
<path color=#06a5c8 d=M1323,1138l4-9-3,1-4,10z />
<path color=#089ad0 d=M1319,1146l4-8-3,2-4,8z />
<path color=#118dd2 d=M1315,1155l4-9-3,2-4,8z />
<path color=#264ecc d=M1280,1196l4-1-3,1-4,2z />
<path color=#254fce d=M1276,1198l4-2-3,2-4,1z />
<path color=#2053d4 d=M1272,1198l4,0-3,1-4,1z />
<path color=#135adb d=M1268,1198l4,0-3,2-4-1z />
<path color=#0562e0 d=M1264,1196l4,2-3,1-4-1z />
<path color=#0269e1 d=M1260,1195l4,1-3,2-4-2z />
<path color=#0870df d=M1256,1192l4,3-3,1-4-2z />
<path color=#1078da d=M1252,1189l4,3-3,2-4-4z />
<path color=#1481d5 d=M1248,1185l4,4-3,1-4-4z />
<path color=#118dd2 d=M1244,1180l4,5-3,1-4-4z />
<path color=#089ad0 d=M1240,1176l4,4-3,2-4-5z />
<path color=#06a5c8 d=M1236,1169l4,7-3,1-4-6z />
<path color=#0faeb9 d=M1232,1163l4,6-3,2-4-7z />
<path color=#2bb6a5 d=M1228,1155l4,8-3,1-4-7z />
<path color=#57bd8d d=M1224,1147l4,8-3,2-4-9z />
<path color=#6ebf81 d=M1338,1105l4-12-3,2-4,12z />
<path color=#3fba9a d=M1334,1116l4-11-3,2-4,11z />
<path color=#1cb3af d=M1330,1126l4-10-3,2-4,11z />
<path color=#08aac0 d=M1326,1136l4-10-3,3-4,9z />
<path color=#06a2cc d=M1322,1144l4-8-3,2-4,8z />
<path color=#0a97d1 d=M1318,1152l4-8-3,2-4,9z />
<path color=#0363e1 d=M1291,1190l4-3-3,2-4,3z />
<path color=#0860df d=M1287,1192l4-2-3,2-4,3z />
<path color=#0a5fdf d=M1283,1194l4-2-3,3-4,1z />
<path color=#0860df d=M1279,1195l4-1-3,2-4,2z />
<path color=#0363e1 d=M1275,1196l4-1-3,3-4,0z />
<path color=#0267e1 d=M1271,1195l4,1-3,2-4,0z />
<path color=#046ce0 d=M1267,1194l4,1-3,3-4-2z />
<path color=#0972de d=M1263,1192l4,2-3,2-4-1z />
<path color=#1078da d=M1259,1190l4,2-3,3-4-3z />
<path color=#1480d6 d=M1255,1186l4,4-3,2-4-3z />
<path color=#138ad3 d=M1251,1182l4,4-3,3-4-4z />
<path color=#0a97d1 d=M1247,1178l4,4-3,3-4-5z />
<path color=#06a2cc d=M1243,1173l4,5-3,2-4-4z />
<path color=#08aac0 d=M1239,1167l4,6-3,3-4-7z />
<path color=#1cb3af d=M1235,1160l4,7-3,2-4-6z />
<path color=#3fba9a d=M1231,1153l4,7-3,3-4-8z />
<path color=#6ebf81 d=M1227,1144l4,9-3,2-4-8z />
<path color=#88bf76 d=M1341,1102l4-12-3,3-4,12z />
<path color=#59bd8c d=M1337,1113l4-11-3,3-4,11z />
<path color=#30b7a3 d=M1333,1123l4-10-3,3-4,10z />
<path color=#14b0b6 d=M1329,1133l4-10-3,3-4,10z />
<path color=#07a9c3 d=M1325,1141l4-8-3,3-4,8z />
<path color=#06a0cd d=M1321,1149l4-8-3,3-4,8z />
<path color=#056ee0 d=M1294,1187l4-3-3,3-4,3z />
<path color=#046ce0 d=M1290,1189l4-2-3,3-4,2z />
<path color=#036ce0 d=M1286,1191l4-2-3,3-4,2z />
<path color=#046ce0 d=M1282,1192l4-1-3,3-4,1z />
<path color=#056ee0 d=M1278,1192l4,0-3,3-4,1z />
<path color=#0971de d=M1274,1192l4,0-3,4-4-1z />
<path color=#0d75dc d=M1270,1191l4,1-3,3-4-1z />
<path color=#117bd9 d=M1266,1189l4,2-3,3-4-2z />
<path color=#1481d5 d=M1262,1187l4,2-3,3-4-2z />
<path color=#138ad3 d=M1258,1183l4,4-3,3-4-4z />
<path color=#0b95d1 d=M1254,1179l4,4-3,3-4-4z />
<path color=#06a0cd d=M1250,1174l4,5-3,3-4-4z />
<path color=#07a9c3 d=M1246,1170l4,4-3,4-4-5z />
<path color=#14b0b6 d=M1242,1164l4,6-3,3-4-6z />
<path color=#30b7a3 d=M1238,1157l4,7-3,3-4-7z />
<path color=#59bd8c d=M1234,1150l4,7-3,3-4-7z />
<path color=#88bf76 d=M1230,1141l4,9-3,3-4-9z />
<path color=#a2be6c d=M1344,1098l4-12-3,4-4,12z />
<path color=#78bf7d d=M1340,1109l4-11-3,4-4,11z />
<path color=#4bbc93 d=M1336,1120l4-11-3,4-4,10z />
<path color=#28b6a8 d=M1332,1129l4-9-3,3-4,10z />
<path color=#11afb7 d=M1328,1137l4-8-3,4-4,8z />
<path color=#137fd6 d=M1305,1176l4-5-3,4-4,5z />
<path color=#127bd9 d=M1301,1180l4-4-3,4-4,4z />
<path color=#1078da d=M1297,1183l4-3-3,4-4,3z />
<path color=#0e77db d=M1293,1185l4-2-3,4-4,2z />
<path color=#0e76dc d=M1289,1187l4-2-3,4-4,2z />
<path color=#0e77db d=M1285,1188l4-1-3,4-4,1z />
<path color=#1078da d=M1281,1189l4-1-3,4-4,0z />
<path color=#127bd9 d=M1277,1188l4,1-3,3-4,0z />
<path color=#137fd6 d=M1273,1187l4,1-3,4-4-1z />
<path color=#1485d4 d=M1269,1185l4,2-3,4-4-2z />
<path color=#118dd2 d=M1265,1183l4,2-3,4-4-2z />
<path color=#0a97d1 d=M1261,1179l4,4-3,4-4-4z />
<path color=#06a0cd d=M1257,1175l4,4-3,4-4-4z />
<path color=#06a8c3 d=M1253,1171l4,4-3,4-4-5z />
<path color=#11afb7 d=M1249,1166l4,5-3,3-4-4z />
<path color=#28b6a8 d=M1245,1160l4,6-3,4-4-6z />
<path color=#4bbc93 d=M1241,1153l4,7-3,4-4-7z />
<path color=#78bf7d d=M1237,1146l4,7-3,4-4-7z />
<path color=#a2be6c d=M1233,1137l4,9-3,4-4-9z />
<path color=#bbbd62 d=M1347,1095l4-12-3,3-4,12z />
<path color=#94bf71 d=M1343,1106l4-11-3,3-4,11z />
<path color=#6bbe83 d=M1339,1116l4-10-3,3-4,11z />
<path color=#42bb98 d=M1336,1126l3-10-3,4-4,9z />
<path color=#1483d5 d=M1300,1180l4-4-3,4-4,3z />
<path color=#1481d6 d=M1296,1182l4-2-3,3-4,2zM1292,1184l4-2-3,3-4,2zM1288,1185l4-1-3,3-4,1z />
<path color=#1483d5 d=M1284,1185l4,0-3,3-4,1z />
<path color=#1486d4 d=M1280,1185l4,0-3,4-4-1z />
<path color=#128bd2 d=M1276,1184l4,1-3,3-4-1z />
<path color=#0d92d2 d=M1272,1182l4,2-3,3-4-2z />
<path color=#089ad0 d=M1268,1179l4,3-3,3-4-2z />
<path color=#06a2cc d=M1264,1176l4,3-3,4-4-4z />
<path color=#07a9c3 d=M1260,1172l4,4-3,3-4-4z />
<path color=#11afb7 d=M1256,1167l4,5-3,3-4-4z />
<path color=#25b5a9 d=M1252,1163l4,4-3,4-4-5z />
<path color=#42bb98 d=M1248,1157l4,6-3,3-4-6z />
<path color=#6bbe83 d=M1244,1150l4,7-3,3-4-7z />
<path color=#94bf71 d=M1241,1142l3,8-3,3-4-7z />
<path color=#bbbd62 d=M1237,1134l4,8-4,4-4-9z />
<path color=#d4bb58 d=M1350,1089l4-11-3,5-4,12z />
<path color=#b0bd66 d=M1346,1100l4-11-3,6-4,11z />
<path color=#8cbf75 d=M1343,1111l3-11-3,6-4,10z />
<path color=#06a5c8 d=M1319,1157l4-6-3,5-4,6z />
<path color=#069fce d=M1315,1163l4-6-3,5-4,6z />
<path color=#089ad0 d=M1311,1167l4-4-3,5-4,4z />
<path color=#0b95d2 d=M1307,1171l4-4-3,5-4,4z />
<path color=#0e91d2 d=M1303,1174l4-3-3,5-4,4z />
<path color=#108fd2 d=M1299,1177l4-3-3,6-4,2z />
<path color=#108ed2 d=M1295,1179l4-2-3,5-4,2z />
<path color=#108fd2 d=M1291,1180l4-1-3,5-4,1z />
<path color=#0e91d2 d=M1287,1180l4,0-3,5-4,0z />
<path color=#0b95d2 d=M1283,1180l4,0-3,5-4,0z />
<path color=#089ad0 d=M1279,1179l4,1-3,5-4-1z />
<path color=#069fce d=M1275,1177l4,2-3,5-4-2z />
<path color=#06a5c8 d=M1271,1174l4,3-3,5-4-3z />
<path color=#08aac0 d=M1267,1171l4,3-3,5-4-3z />
<path color=#14b0b6 d=M1263,1167l4,4-3,5-4-4z />
<path color=#28b6a8 d=M1259,1162l4,5-3,5-4-5z />
<path color=#42bb98 d=M1255,1158l4,4-3,5-4-4z />
<path color=#64be86 d=M1251,1151l4,7-3,5-4-6z />
<path color=#8cbf75 d=M1248,1145l3,6-3,6-4-7z />
<path color=#b0bd66 d=M1244,1137l4,8-4,5-3-8z />
<path color=#d4bb58 d=M1240,1129l4,8-3,5-4-8z />
<path color=#f0b94a d=M1354,1083l3-11-3,6-4,11z />
<path color=#cfbb5a d=M1350,1095l4-12-4,6-4,11z />
<path color=#aebe67 d=M1346,1105l4-10-4,5-3,11z />
<path color=#1cb3af d=M1326,1145l4-7-3,6-4,7z />
<path color=#0faeb9 d=M1322,1151l4-6-3,6-4,6z />
<path color=#08aac1 d=M1318,1157l4-6-3,6-4,6z />
<path color=#06a6c7 d=M1314,1161l4-4-3,6-4,4z />
<path color=#06a3ca d=M1310,1165l4-4-3,6-4,4z />
<path color=#06a0cd d=M1306,1168l4-3-3,6-4,3z />
<path color=#069fce d=M1302,1171l4-3-3,6-4,3z />
<path color=#069ece d=M1298,1173l4-2-3,6-4,2z />
<path color=#069fce d=M1294,1174l4-1-3,6-4,1z />
<path color=#06a0cd d=M1290,1174l4,0-3,6-4,0z />
<path color=#06a3ca d=M1286,1174l4,0-3,6-4,0z />
<path color=#06a6c7 d=M1282,1173l4,1-3,6-4-1z />
<path color=#08aac1 d=M1278,1171l4,2-3,6-4-2z />
<path color=#0faeb9 d=M1274,1168l4,3-3,6-4-3z />
<path color=#1cb3af d=M1270,1165l4,3-3,6-4-3z />
<path color=#30b7a3 d=M1266,1161l4,4-3,6-4-4z />
<path color=#4bbc93 d=M1262,1156l4,5-3,6-4-5z />
<path color=#6bbe83 d=M1259,1152l3,4-3,6-4-4z />
<path color=#8cbf75 d=M1255,1146l4,6-4,6-4-7z />
<path color=#aebe67 d=M1251,1139l4,7-4,5-3-6z />
<path color=#cfbb5a d=M1247,1131l4,8-3,6-4-8z />
<path color=#f0b94a d=M1243,1123l4,8-3,6-4-8z />
<path color=#fec734 d=M1357,1077l4-12-4,7-3,11z />
<path color=#edb94c d=M1353,1088l4-11-3,6-4,12z />
<path color=#cfbb5a d=M1349,1098l4-10-3,7-4,10z />
<path color=#94bf71 d=M1341,1116l4-8-3,7-4,8z />
<path color=#3fba9a d=M1329,1139l4-7-3,6-4,7z />
<path color=#2bb6a5 d=M1325,1145l4-6-3,6-4,6z />
<path color=#1db3af d=M1321,1150l4-5-3,6-4,6z />
<path color=#13b0b6 d=M1317,1155l4-5-3,7-4,4z />
<path color=#0dadbb d=M1313,1159l4-4-3,6-4,4z />
<path color=#09acbe d=M1309,1162l4-3-3,6-4,3z />
<path color=#08aac0 d=M1305,1164l4-2-3,6-4,3z />
<path color=#08aac1 d=M1301,1166l4-2-3,7-4,2z />
<path color=#08aac0 d=M1297,1167l4-1-3,7-4,1z />
<path color=#09acbe d=M1293,1167l4,0-3,7-4,0z />
<path color=#0dadbb d=M1289,1167l4,0-3,7-4,0z />
<path color=#13b0b6 d=M1285,1166l4,1-3,7-4-1z />
<path color=#1db3af d=M1281,1164l4,2-3,7-4-2z />
<path color=#2bb6a5 d=M1277,1162l4,2-3,7-4-3z />
<path color=#3fba9a d=M1273,1158l4,4-3,6-4-3z />
<path color=#59bd8c d=M1269,1154l4,4-3,7-4-4z />
<path color=#78bf7d d=M1266,1149l3,5-3,7-4-5z />
<path color=#94bf71 d=M1262,1145l4,4-4,7-3-4z />
<path color=#b0bd66 d=M1258,1139l4,6-3,7-4-6z />
<path color=#cfbb5a d=M1254,1132l4,7-3,7-4-7z />
<path color=#edb94c d=M1250,1124l4,8-3,7-4-8z />
<path color=#fec734 d=M1246,1116l4,8-3,7-4-8z />
<path color=#f6dc22 d=M1360,1069l4-11-3,7-4,12z />
<path color=#fec734 d=M1356,1081l4-12-3,8-4,11z />
<path color=#f0b94a d=M1352,1091l4-10-3,7-4,10z />
<path color=#d4bb58 d=M1348,1101l4-10-3,7-4,10z />
<path color=#bbbd62 d=M1344,1109l4-8-3,7-4,8z />
<path color=#a2be6c d=M1340,1117l4-8-3,7-4,8z />
<path color=#88bf76 d=M1336,1124l4-7-3,7-4,8z />
<path color=#6ebf81 d=M1332,1131l4-7-3,8-4,7z />
<path color=#57bd8d d=M1328,1137l4-6-3,8-4,6z />
<path color=#43bb97 d=M1324,1143l4-6-3,8-4,5z />
<path color=#35b89f d=M1320,1147l4-4-3,7-4,5z />
<path color=#2bb6a5 d=M1316,1151l4-4-3,8-4,4z />
<path color=#25b5aa d=M1312,1154l4-3-3,8-4,3z />
<path color=#21b4ac d=M1308,1157l4-3-3,8-4,2z />
<path color=#20b4ad d=M1304,1159l4-2-3,7-4,2z />
<path color=#21b4ac d=M1300,1160l4-1-3,7-4,1z />
<path color=#25b5aa d=M1296,1160l4,0-3,7-4,0z />
<path color=#2bb6a5 d=M1292,1160l4,0-3,7-4,0z />
<path color=#35b89f d=M1288,1159l4,1-3,7-4-1z />
<path color=#43bb97 d=M1284,1157l4,2-3,7-4-2z />
<path color=#57bd8d d=M1280,1154l4,3-3,7-4-2z />
<path color=#6ebf81 d=M1277,1151l3,3-3,8-4-4z />
<path color=#88bf76 d=M1273,1147l4,4-4,7-4-4z />
<path color=#a2be6c d=M1269,1142l4,5-4,7-3-5z />
<path color=#bbbd62 d=M1265,1138l4,4-3,7-4-4z />
<path color=#d4bb58 d=M1261,1132l4,6-3,7-4-6z />
<path color=#f0b94a d=M1257,1125l4,7-3,7-4-7z />
<path color=#fec734 d=M1253,1117l4,8-3,7-4-8z />
<path color=#f6dc22 d=M1249,1109l4,8-3,7-4-8z /></g>
<text x="307.5" y="243.6" font-size="7.3" textLength="16.8" lengthAdjust="spacingAndGlyphs">Step</text>
<text class="t" transform="translate(275 277) rotate(-90)" font-size="7.4" text-anchor="middle" textLength="35.4" lengthAdjust="spacingAndGlyphs">F6(&#160;x<tspan font-size="5.8" dy="3.7">1</tspan><tspan dy="-3.7">&#160;,&#160;x</tspan><tspan font-size="5.8" dy="3.7">2</tspan><tspan dy="-3.7">&#160;)</tspan></text>
<text x="286.8" y="260.4" font-size="7.2" text-anchor="end" class="t">2</text>
<text x="286.8" y="279.4" font-size="7.2" text-anchor="end" class="t">1</text>
<text x="286.8" y="297.1" font-size="7.2" text-anchor="end" class="t">0</text>
<text x="286.2" y="303.9" font-size="7.2" text-anchor="end" class="t">100</text>
<text x="295.8" y="312" font-size="7.2" text-anchor="middle" class="t">0</text>
<text x="302.4" y="321.4" font-size="7.2" text-anchor="middle" class="t">-100</text>
<text x="322.8" y="321.9" font-size="7.2" text-anchor="middle" class="t">-100</text>
<text x="331.8" y="315.2" font-size="7.2" text-anchor="middle" class="t">0</text>
<text x="350.8" y="308.6" font-size="7.2" text-anchor="middle" class="t">100</text>
<text class="n" x="271.9" y="254.7" font-size="8.7" font-weight="normal">&#215;10<tspan font-size="6.3" dy="-3.9">4</tspan></text>
<text class="t" x="274.8" y="324.5" font-size="8.2">x<tspan font-size="6.4" dy="3.4">2</tspan></text>
<text class="t" x="344.4" y="326.2" font-size="8.2">x<tspan font-size="6.4" dy="3.4">1</tspan></text>
<path fill="none" stroke="#c4c4c4" stroke-width="0.8" d="M31 382.3L31 421.2L62 442.5L102.2 427.5"/>
<g transform="scale(.25)" filter="url(#bl)" style="fill:currentColor;stroke:currentColor;stroke-width:2;stroke-linejoin:round"><path fill=none stroke="#2350d0" stroke-width="1.4" opacity="0.85" d="M258,1718l-1,5,15-2,2,3,7,1,5-1,0-4-10,0,9-4,4,3-3,5,8,1,0,4,8,1,5-2,2-4,5,1-11,5-10-1-4-2-40-1-1-3,7,0,1-5,2,0M330,1712l-1,4,8,2-10-1-2-4,5-1M317,1696l3,5-2,3,9,1-5,2-5-3-6,1-2,2,4,3-2,10-4,0-2-3,1-4-10-1,1-1,8,0,2-3-3-3,3-3,10,2,1-4-6-5,5,1M342,1707l-4,1,4-1M269,1730l-5,2,5-2M273,1713l-4,1,0-2,4,1M283,1709l0,2-4,0,0-2,4,0M335,1690l0,0M200,1684l0,4,6,2,14-6,4,7-12-3-5,2,0,4,14,0,12,4-1-2,4-5-4-4,4-3,14,2-7,3,1,3,5,1,8-4,22,4,14-1,1-4,3,0,2,7,3,3-5-2-7-1,0,5-18-1-3,7,2,2-6,0,3-2,0-3-5-1-12,8-9-1-13,7-3-2,9-4,15-1-1-6,6,0,7-6-16-1,0,5-11-2,0,5-14-4-19,0,4-10-9-1,0-4,3-1M310,1691l0,3-5-1,5-2M319,1684l-6,1,6-1M263,1697l1,3,3,1-4-4M275,1695l3,2-1-2-2,0M266,1694l-3,3,5-1-2-2M312,1678l-4,4-6,0,10-4M224,1707l-5,2,5-2M257,1693l-1,2,6,2-5-4M250,1670l5,6,1,3,13-1-3,6,5,2,11-1,1-5,2,1,0,6-6,1-13-1-1-3-13-3,1-5-13-2,10-4M292,1670l3,3,9,1-8,2-7-5,3-1M259,1662l6,6-13,1,4-7,3,0M277,1663l-4,2,0-2,4,0M230,1669l-2,5,6,1,2,4-13,1,0-10,7-1M272,1657l-5,3,5-3M246,1663l-3,1,3-1M193,1679l-2,1,2-1M202,1675l1,2-4,0,3-2" />
<path fill=none stroke="#0a73dd" stroke-width="1.4" opacity="0.85" d="M348,1725l-1,0,1,0M245,1652l5,6,8,0,1-10,3-3,6,2,2,3,9,1-4,5,12,7,0-3-4-3,1-2,6,0,2,3-3,5,11,0-3,5,2,3,6,2,3,3,12-1,5,9-9,3-2,7,11-1,0-4,7,0,2-4,4,0,0,4,6,1-8,1-2,3,4,3,9,0,2,3-11-3-1,5-6,1-7,6-10-2,0,6,5,2,2-4,5-1,6,1-1,4,12,1,2-4,3,1,5,5-4,2-13,1-5-3,2,4-10,1-19,8-2,3,10,0,0,3-12-2,0-4-14-2-4,2-2,4-7-2-9,1,3,5,18,1,1,4-6-2-20,0-4-3,4-5-18-5-8,2-1-3,13-1-2-3-7-2-14-7,9-7-16,2-7-1-2-3-18-2-9-4,0-2,22-1,1-6-22-3,0,5-6,1-5-3,8,0,1-3-4-2,5-2,2,3,6,1,3-4,6-1,10,2,6-1-1-4-14-1-9,2,3-7,8,1,1-3-6-5,9,0,0,4,13,0,2-4,8,0-3-3,2-2,0-5,11-3,4-3,4,1M297,1740l1,2-5-3,4,1M326,1729l-3,1,0-2,3,1M354,1702l-2,5,7,2-2,2-3,0-2-4-16,2,1-2,13-6,4,1M255,1739l-5,6,0-5,5-1M301,1724l-4,4,8-1,1-3-5,0M313,1717l1,5,10-3-5-3-6,1M276,1727l-3,2,5,0-2-2M284,1707l1,5-9,0-2,4-9-1-2,6,17-6,12,3,1,3,10-1,0-7-12,1,3-5-10-2M261,1727l-5,2-1,3,5,0,6-4-5-1M281,1720l-5,2,1,1,7,0,0-2-3-1M326,1694l-6,2,2,3,8,4,1-5-5-4M299,1707l-4,2,8,0-4-2M305,1695l10,7-7-6-3-1M253,1716l-10,4,9,1,1-5M300,1702l0,0M326,1689l-1,5,7,0,0-3-6-2M272,1704l6,3-2-3-4,0M291,1702l2-1-2,1M257,1709l-7,4,7,1,4-4-4-1M292,1697l3,2-3-2M201,1712l4,2,11,0-1,5,9,0,0,3-12-2-2-3-7-2-3-4,1,1M235,1715l0,0M273,1700l0,1,4,1-1-2-3,0M308,1687l-7,1,3,2,6-2-2-1M243,1704l1,4,4,0-5-4M289,1690l2,0-2,0M313,1680l-2,3,5,0,1-3-4,0M248,1698l1,4,7-3-8-1M272,1688l-1,2,6,2,4-2-9-2M287,1683l2,4,10-1-5-3-7,0M227,1704l0,2,5,2-1-3-4-1M239,1702l2,1-2-1M302,1678l3-1-3,1M215,1701l-2,2,4,3,5,0,1-2-8-3M274,1680l0,5,6-1-3-5-3,1M250,1688l-2,2,6-2-4,0M259,1659l2,3,9,4-3,5,3,3,9,1,3,3,5,0,1-3-8-4,1-5-11,0,0-4-11-3M310,1667l-3,1,3-1M206,1700l-5,1-1,3,7,2,4-3-1-3-4,0M230,1690l-4,4,8-1-4-3M256,1682l-2,2,6,1-4-3M245,1680l4,3-4-3M260,1669l-5,3,8,5-2-3,0-5-1,0M286,1667l-1,1,4-1-3,0M209,1691l0,2,3,0,3-2-6,0M239,1681l-1,1,6-2-5,1M248,1677l-4,3,7-1,0-2-3,0M225,1682l2,1-2-1M212,1673l0,3,7,2,0-5-7,0M230,1660l3,12,6-1,10-5-10,0,10-8-19,2M262,1650l-3,8,12-2,1-2-3-4-7,0M205,1673l3,0-3,0M218,1662l-3,3-3-1,0-2,6,0" />
<path fill=none stroke="#138ad3" stroke-width="1.4" opacity="0.85" d="M231,1645l15,5,1-4,9,0,5-2,1-4,2,5,6,0,9-2,1,4,4,3-6,5,10-2,15,5,1,3,8,1,2,8,11,3-2,5,7,6,7-2,4,2,1,3,7,3,3-4,6,3-1,5,6,5-7-1-7-6-12,1,16,6,3,3,0,4,11,4-1,7-16,4-2,9-9-1-5,2-1,4-3,0,1-4-10,0-5-2-1,9-20-3-1,2,5,2,5,8-16-1-12-4-3,4-5-4-12,3-8,5,0-11,6-3-4-1-10,4-1,4-3,0,1-5-9,0-1-3,11,2,9-4-2-2-12,1-7-2,0-4-14,2,3-5-13-4-3-2-1-4-7-1,2-5-7-2-2-3-9-1,2-4-9-5,7-8,11-3,3-4-11,0,2-10,6,3-1,4,13,0-6-7,4-5-9-1M288,1741l0,2,4,1,0-2-4-1M324,1724l-2,3,15,1,1-3-14-1M343,1722l-2,1,4-1-2,0M306,1732l4-1-4,1M358,1711l-7,1,2,3,5,1,4-2,0-3-4,0M284,1733l-1,4-8,0,4,2,10-3-5-3M297,1731l1,1-1-1M303,1725l0,0M347,1709l-5,2,9,0-4-2M334,1705l-5,3,10-4-5,1M345,1702l0,0M329,1691l1,1-1-1M227,1720l1,2,5,2-6-4M228,1710l-10,3,10-3M202,1707l7,6,3-1-10-5M307,1671l4,4,2-1-2-3-4,0M324,1666l-3,1,3-1M217,1702l0,0M208,1701l-5,2,5-2M304,1664l-5,3,3,1,5-4-3,0M200,1695l0,0M278,1667l-1,1,1-1M296,1658l-5,4,10-1,1-3-6,0M185,1695l3,2-3-2M183,1689l1,5,10-2-11-3M234,1667l4,3-4-3M200,1680l-5,2,5-2M214,1675l0,0M264,1652l-2,5,7-2-5-3M239,1661l-5,2,2,1,6-3-3,0M250,1647l1,2-2,3,6,4,3-5-8-4M272,1647l1,2,2,0,3-2-6,0M165,1685l-3,1-1-2,4,1M190,1660l6,2,2,3,8,1,0,4,7-1,2-2-5-2,0-4,6-1,3-3-5-3,22-1,1-3-5-2-1-3M170,1672l-4,5,4,3-5-3,0-5,5,0M220,1657l1,4,3,0,1-2-5-2M206,1658l2,2-2-2" />
<path fill=none stroke="#06a3ca" stroke-width="1.4" opacity="0.85" d="M277,1759l-20-8-14,1,3-5-11,0-3-7-7-1,0,5-2-1,2-4-3-3,2-5-6-2-8,3-9-4-2-2,3-3-6-9-7-2-7-5-8-1-2-3-13-4,2-4-6-4,7-1-4-8,8,1-3-5-6-2,1-4M296,1752l4-3-1-2-7,1-14-4-6,7,2,5,4,3M344,1734l-6,0-3,3-19,2-6,8M357,1729l-3-3-3,1,2,4M236,1643l14-1,1,3,3,0,5-2,4-7,2,0,1,8,12-3,2-4,6,11,16-2-8,5,0,2,9,1,13,11,6-2-1-3,4,2,1,7-3,1,5,2,0,3-2,2,18,2-1,4,6,1,3-2,3,0,0,4,11,4-7,3,4,2,14,3-6,6,1,4-2,1,0,3,10,1-2,2-8,0-1,4-10,3-1,3,10,0M302,1740l4,3,0-2-4-1M318,1735l2,0-2,0M352,1723l2,1,0-2-2,1M290,1742l0,0M266,1746l2,1-2-1M357,1701l12,7,0-7-12,0M231,1732l3,3,3-1-6-2M210,1723l-7,1,0,3,5,0,4-3-2-1M335,1670l5,3-5,1,0-4M188,1717l4,2-3,1-4-4,3,1M318,1668l1,1-1-1M317,1657l3,2-6-3,3,1M180,1703l-1,1,4,1-3-2M298,1660l0,0M309,1651l2,2-5,0,3-2M169,1695l2,4,4,0,0-1-6-3M166,1688l-3,2,6-2-3,0M294,1641l0,0M169,1674l-1,2,6,2-3,5,8-3-4-2,0-4-6,0M208,1665l0,0M198,1657l17,2-3-7,14-1-2-4M233,1651l2,1-2-1M159,1673l-2,3,6-1-4-2M169,1668l9,2,1-5,10,3,2-4-6-2M199,1659l4,2-4-2M253,1637l-1,2-4-1" />
<path fill=none stroke="#1ab2b1" stroke-width="1.4" opacity="0.85" d="M259,1762l-2-1,2,1M275,1760l-8-1-2-3-9-1-3,3-2-1,2-5-12,1,3-6-12,2-11-5,1-4-7-2,0-4-8-1-12-7,4-5-2-2-10,2-6-6-11-4,4-2-2-2-12-4-4-2-1-8-7-1,2-5,7,0,1-7-3-3-8-1M290,1754l-14-1,4,5M333,1738l-10,4M342,1735l-5,2M361,1723l2,0-2,0M260,1634l8,1-1,4,4,2,2-4,7-2,7,5,9,1-1,4,16,2,0,4,16,10,3,7,12,3,1,4-5,2,14-2-1,5,6,1-1,5,13,3-3,5,13,3,0,3-5,3,16,6-3,7-11,2-1,4M372,1711l3-1-3,1M228,1741l3,2-3-2M330,1671l0,0M189,1714l5,3-5-3M307,1656l5,3-5-3M305,1649l-6,2,8-2-2,0M286,1641l1,3,4,1,0-3-5-1M150,1683l-1,4-4-2,5-2M257,1637l-1,2,4-1-3-1M151,1675l4,0,0-2M180,1664l4,0-1-1M202,1656l0,0M239,1642l5-2" />
<path fill=none stroke="#51bd8f" stroke-width="1.4" opacity="0.85" d="M264,1764l-8-1-17-10-10,0,0-4-16-6,1-4-3-3-19-9-11-8-8,0M259,1757l3,4,4,1-7-5M274,1760l-5,2M384,1719l-6,2M376,1688l-4,2-1,2,10,5,1,3,7,1,0,4,6,6-9,7M247,1754l-3,2,3-2M384,1703l3-1-3,1M234,1750l5,3-1-3-4,0M364,1679l1,8,4,1,5-2M331,1657l0,6,7,2,1,3,9,5,7,1,1,4,8,1M194,1722l0,0M178,1716l0,0M172,1718l-3-6,1-5-19-4,3-6-7-1-2-2-2-12,10-3-8-2M319,1648l0,4,5,6,3,1,1-4M313,1649l2,2,1-2-3,0M265,1632l20,3,0-2,3-1-1,4,7,1,11,8,12,2M152,1694l0,0" />
<path fill=none stroke="#92bf72" stroke-width="1.4" opacity="0.85" d="M261,1765l-15-1-2-2,8,0-5-4-9,0-11-4,1-4-5-3-9,0M391,1698l0,7,12,7M366,1681l0,5,7-1M209,1738l1,3,2-1-3-2M204,1734l1,1-1-1M359,1676l2,1M197,1735l-2-5-20-10M333,1658l1,4,20,10M169,1716l-2-4-4,0M165,1708l0,1,2-1-2,0M321,1650l4,2M159,1709l-2-4-5-1M308,1641l-1,4,7,0M151,1698l-4,2,5-1-1-1M146,1700l-11-15,9-8M301,1636l-2,4,6-1M271,1630l19,1,1,4,8,0M272,1632l1,1,3-1-4,0" />
<path fill=none stroke="#c7bc5d" stroke-width="1.4" opacity="0.85" d="M259,1766l-11,0-12-7-6-2M406,1708l1,3M398,1702l-6,2,7,4,6-1M392,1699l0,1,5,2M370,1683l1,1M185,1727l-7-5M166,1714l-1-1M156,1707l-3-2M310,1642l2,1M144,1699l-4-3M138,1695l-3-6-5-3,7-6M290,1628l5,4M281,1627l2,3,4-2-6-1M274,1629l5-2M281,1626l7,1" />
<path fill=none stroke="#f5ba47" stroke-width="1.4" opacity="0.85" d="M256,1767l-10,0-8-4M235,1761l-3-2M394,1700l0,0M135,1692l-2-3-4-1M127,1687l2-4M284,1625l1,0" />
<path fill=none stroke="#f9d429" stroke-width="1.4" opacity="0.85" d="M253,1768l-9-1-4-3M125,1686l1-2" />
<path color=#d4bb58 d=M284,1500l5,9-4-25-5,23z />
<path color=#bfbc60 d=M279,1530l5-30-4,7-5-10z />
<path color=#a3be6c d=M274,1521l5,9-4-33-5,30z />
<path color=#6dbf82 d=M269,1550l5-29-4,6-5,12z />
<path color=#1bb2b0 d=M264,1583l5-33-4-11-5,18z />
<path color=#0daeba d=M259,1555l5,28-4-26-4,5z />
<path color=#0bacbd d=M254,1567l5-12-3,7-5,23z />
<path color=#07a9c3 d=M245,1595l5-15-4-14-5-8z />
<path color=#06a5c9 d=M240,1589l5,6-4-37-5,22z />
<path color=#0d93d2 d=M235,1608l5-19-4-9-5,19z />
<path color=#06a3ca d=M220,1616l5-30-4-8-4-2z />
<path color=#0a96d1 d=M215,1619l5-3-3-40-5,12z />
<path color=#06a7c6 d=M206,1614l5-29-4,4-5-11z />
<path color=#06a3cb d=M201,1594l5,20-4-36-5,22z />
<path color=#0899d1 d=M196,1617l5-23-4,6-5,10z />
<path color=#06a8c5 d=M181,1629l5-34-4-15-4,15z />
<path color=#06a6c7 d=M176,1592l5,37-3-34-5,2z />
<path color=#06a6c6 d=M172,1619l4-27-3,5-5,12z />
<path color=#8bbf75 d=M142,1583l5-1-4-14-4-5z />
<path color=#a2be6c d=M138,1585l4-2-3-20-5-15z />
<path color=#f4ba47 d=M128,1559l5,9-4-21-5-31z />
<path color=#b4bd65 d=M287,1542l5-43-3,10-5-9z />
<path color=#84bf78 d=M283,1539l4,3-3-42-5,30z />
<path color=#54bd8e d=M278,1571l5-32-4-9-5-9z />
<path color=#33b8a1 d=M273,1559l5,12-4-50-5,29z />
<path color=#17b1b3 d=M268,1552l5,7-4-9-5,33z />
<path color=#06a8c5 d=M263,1602l5-50-4,31-5-28z />
<path color=#07aac1 d=M258,1568l5,34-4-47-5,12z />
<path color=#0bacbd d=M253,1573l5-5-4-1-4,13z />
<path color=#079dcf d=M248,1601l5-28-3,7-5,15z />
<path color=#118dd2 d=M239,1611l5-20-4-2-5,19z />
<path color=#089ad0 d=M229,1617l5-31-4,11-5-11z />
<path color=#1389d3 d=M224,1610l5,7-4-31-5,30z />
<path color=#079ccf d=M209,1614l5-18-3-11-5,29z />
<path color=#089ad0 d=M200,1612l5-6-4-12-5,23z />
<path color=#118cd2 d=M195,1634l5-22-4,5-5-14z />
<path color=#079bd0 d=M190,1609l5,25-4-31-5-8z />
<path color=#0a97d1 d=M185,1626l5-17-4-14-5,34z />
<path color=#0d93d2 d=M180,1626l5,0-4,3-5-37z />
<path color=#069fce d=M175,1613l5,13-4-34-4,27z />
<path color=#06a3ca d=M161,1607l5,24-4-23-5,7z />
<path color=#3fba9a d=M151,1604l5-3-4-17-5-2z />
<path color=#39b99d d=M146,1615l5-11-4-22-5,1z />
<path color=#90bf73 d=M136,1577l5,9-3-1-5-17z />
<path color=#d5ba58 d=M132,1539l4,38-3-9-5-9z />
<path color=#a4be6b d=M291,1525l5-12-4-14-5,43z />
<path color=#64be86 d=M286,1545l5-20-4,17-4-3z />
<path color=#1cb3b0 d=M281,1577l5-32-3-6-5,32z />
<path color=#08aac1 d=M277,1570l4,7-3-6-5-12z />
<path color=#1ab2b1 d=M272,1569l5,1-4-11-5-7z />
<path color=#07a9c3 d=M267,1576l5-7-4-17-5,50z />
<path color=#0a97d1 d=M262,1614l5-38-4,26-5-34z />
<path color=#0998d1 d=M257,1609l5,5-4-46-5,5z />
<path color=#0d92d2 d=M252,1601l5,8-4-36-5,28z />
<path color=#118dd2 d=M247,1610l5-9-4,0-4-10z />
<path color=#1480d6 d=M242,1630l5-20-3-19-5,20z />
<path color=#137ed7 d=M238,1626l4,4-3-19-5-25zM233,1631l5-5-4-40-5,31z />
<path color=#0b73dd d=M228,1639l5-8-4-14-5-7z />
<path color=#1483d5 d=M223,1599l5,40-4-29-5,2z />
<path color=#0e91d2 d=M218,1630l5-31-4,13-5-16z />
<path color=#1480d6 d=M213,1644l5-14-4-34-5,18z />
<path color=#108ed2 d=M203,1643l5-40-3,3-5,6z />
<path color=#0d75dc d=M199,1646l4-3-3-31-5,22z />
<path color=#06a1cc d=M174,1614l5,23-4-24-5-12z />
<path color=#079dcf d=M169,1638l5-24-4-13-4,30z />
<path color=#07a9c3 d=M160,1633l5-16-4-10-5-6z />
<path color=#32b8a1 d=M145,1600l5,8-4,7-5-29z />
<path color=#cdbb5b d=M135,1556l5,34-4-13-4-38z />
<path color=#92bf73 d=M295,1541l5-10-4-18-5,12z />
<path color=#5abd8b d=M290,1558l5-17-4-16-5,20z />
<path color=#1ab2b1 d=M285,1565l5-7-4-13-5,32z />
<path color=#06a5c8 d=M280,1594l5-29-4,12-4-7z />
<path color=#079dcf d=M275,1606l5-12-3-24-5-1z />
<path color=#0998d1 d=M271,1608l4-2-3-37-5,7z />
<path color=#1480d6 d=M266,1625l5-17-4-32-5,38z />
<path color=#0770df d=M261,1625l5,0-4-11-5-5z />
<path color=#0e76dc d=M246,1635l5-32-4,7-5,20z />
<path color=#0f78db d=M227,1640l5-16-4,15-5-40z />
<path color=#127cd8 d=M222,1628l5,12-4-41-5,31z />
<path color=#118cd2 d=M207,1618l5-2-4-13-5,40z />
<path color=#06a4ca d=M159,1617l4,30-3-14-5-36z />
<path color=#a8be6a d=M139,1576l5,19-4-5-5-34z />
<path color=#3ab99d d=M294,1581l5-50-4,10-5,17z />
<path color=#17b1b3 d=M289,1556l5,25-4-23-5,7z />
<path color=#08aac0 d=M284,1582l5-26-4,9-5,29z />
<path color=#118dd2 d=M279,1603l5-21-4,12-5,12z />
<path color=#117bd9 d=M269,1619l5-25-3,14-5,17z />
<path color=#137fd6 d=M260,1628l5-26-4,23-5-31z />
<path color=#1389d3 d=M255,1606l5,22-4-34-5,9z />
<path color=#127cd8 d=M250,1627l5-21-4-3-5,32z />
<path color=#0b73dd d=M230,1648l5-35-3,11-5,16z />
<path color=#0f78db d=M221,1646l5-18-4,0-5-3z />
<path color=#117bd9 d=M216,1639l5,7-4-21-5-9z />
<path color=#1481d6 d=M211,1646l5-7-4-23-5,2z />
<path color=#0e76db d=M206,1640l5,6-4-28-5,31z />
<path color=#0a72de d=M201,1665l5-25-4,9-4-33z />
<path color=#056ee0 d=M196,1656l5,9-3-49-5,37z />
<path color=#108ed2 d=M172,1638l5,25-4-47-5,10z />
<path color=#06a2cb d=M162,1630l5-15-4,32-4-30z />
<path color=#0dadbb d=M153,1600l4,34-3-9-5-3z />
<path color=#35b89f d=M148,1616l5-16-4,22-5-27z />
<path color=#94bf72 d=M143,1563l5,53-4-21-5-19z />
<path color=#87bf77 d=M302,1546l5-4-3-20-5,9z />
<path color=#40ba99 d=M298,1556l4-10-3-15-5,50z />
<path color=#0faeb9 d=M288,1577l5-2-4-19-5,26z />
<path color=#089ad0 d=M283,1606l5-29-4,5-5,21z />
<path color=#1483d5 d=M278,1625l5-19-4-3-5-9z />
<path color=#0d76dc d=M273,1632l5-7-4-31-5,25z />
<path color=#1389d3 d=M263,1605l5-4-3,1-5,26z />
<path color=#137ed7 d=M259,1631l4-26-3,23-5-22z />
<path color=#0f78db d=M254,1630l5,1-4-25-5,21z />
<path color=#117ada d=M239,1633l5,22-4-46-5,4z />
<path color=#127cd8 d=M234,1617l5,16-4-20-5,35z />
<path color=#066fdf d=M229,1661l5-44-4,31-4-20z />
<path color=#0b5edf d=M225,1660l4,1-3-33-5,18z />
<path color=#0faeb9 d=M156,1619l5,15-4,0-4-34z />
<path color=#4dbc92 d=M151,1584l5,35-3-19-5,16z />
<path color=#97bf70 d=M147,1594l4-10-3,32-5-53z />
<path color=#37b99e d=M301,1592l5-53-4,7-4,10z />
<path color=#06a7c5 d=M296,1600l5-8-3-36-5,19z />
<path color=#06a1cc d=M292,1599l4,1-3-25-5,2z />
<path color=#079bd0 d=M287,1594l5,5-4-22-5,29z />
<path color=#0e76dc d=M272,1642l5-30-4,20-5-31z />
<path color=#0d76dc d=M267,1649l5-7-4-41-5,4z />
<path color=#0e77db d=M262,1615l5,34-4-44-4,26z />
<path color=#046de0 d=M258,1657l4-42-3,16-5-1z />
<path color=#0e77db d=M233,1642l5-19-4-6-5,44z />
<path color=#0870df d=M219,1646l4,21-3-23-5-17z />
<path color=#0c74dd d=M214,1650l5-4-4-19-5,30z />
<path color=#117bd9 d=M199,1674l5-32-4-9-5,2z />
<path color=#1487d3 d=M170,1633l5,31-4-1-5-29z />
<path color=#72bf80 d=M150,1608l5,10-4-34-4,10z />
<path color=#79bf7d d=M310,1577l5-30-4-34-5,26z />
<path color=#1cb3b0 d=M305,1570l5,7-4-38-5,53z />
<path color=#0997d1 d=M290,1622l5-41-3,18-5-5z />
<path color=#1480d6 d=M286,1640l4-18-3-28-5,6z />
<path color=#137ed7 d=M281,1615l5,25-4-40-5,12z />
<path color=#0871de d=M276,1643l5-28-4-3-5,30z />
<path color=#036ae1 d=M261,1660l5-42-4-3-4,42z />
<path color=#056de0 d=M237,1647l5,20-4-44-5,19z />
<path color=#0f78db d=M178,1660l5-10-3,16-5-2z />
<path color=#0c93d2 d=M174,1622l4,38-3,4-5-31z />
<path color=#079dcf d=M164,1635l5,13-4-1-5-7z />
<path color=#0faeb9 d=M159,1623l5,12-4,5-5-22z />
<path color=#6dbf82 d=M154,1571l5,52-4-5-5-10z />
<path color=#41ba99 d=M314,1553l5,8-4-14-5,30z />
<path color=#17b1b3 d=M309,1595l5-42-4,24-5-7z />
<path color=#0aacbe d=M304,1589l5,6-4-25-5,2z />
<path color=#07aac1 d=M299,1600l5-11-4-17-5,9z />
<path color=#108fd2 d=M294,1621l5-21-4-19-5,41z />
<path color=#056ee0 d=M289,1633l5-12-4,1-4,18z />
<path color=#0972de d=M280,1637l5-12-4-10-5,28z />
<path color=#046de0 d=M270,1634l5,24-4-22-5-18z />
<path color=#0268e1 d=M265,1652l5-18-4-16-5,42z />
<path color=#06a5c8 d=M168,1632l4,10-3,6-5-13z />
<path color=#1db3af d=M163,1615l5,17-4,3-5-12z />
<path color=#87bf77 d=M158,1597l5,18-4,8-5-52z />
<path color=#5fbe88 d=M318,1571l4-37-3,27-5-8z />
<path color=#16b1b3 d=M313,1587l5-16-4-18-5,42z />
<path color=#06a2cb d=M303,1614l5-37-4,12-5,11z />
<path color=#0f8fd2 d=M298,1598l5,16-4-14-5,21z />
<path color=#127bd9 d=M288,1634l5-28-4,27-4-8z />
<path color=#046de0 d=M283,1647l5-13-3-9-5,12z />
<path color=#046ce0 d=M264,1653l5-19-4,18-5-18z />
<path color=#0b73dd d=M259,1637l5,16-4-19-5,5z />
<path color=#1480d6 d=M181,1633l5,42-4-2-5-10z />
<path color=#0998d1 d=M176,1658l5-25-4,30-5-21z />
<path color=#06a8c4 d=M171,1622l5,36-4-16-4-10z />
<path color=#49bc94 d=M166,1595l5,27-3,10-5-17z />
<path color=#80bf7a d=M162,1615l4-20-3,20-5-18z />
<path color=#70bf80 d=M321,1559l5-9-4-16-4,37z />
<path color=#15b0b5 d=M316,1601l5-42-3,12-5,16z />
<path color=#06a6c7 d=M307,1607l5-27-4-3-5,37z />
<path color=#0f90d2 d=M302,1623l5-16-4,7-5-16z />
<path color=#1486d4 d=M297,1644l5-21-4-25-5,8z />
<path color=#0b73dd d=M292,1645l5-1-4-38-5,28z />
<path color=#0a72de d=M282,1652l5-23-4,18-4-28z />
<path color=#127cd8 d=M277,1628l5,24-3-33-5,7z />
<path color=#1481d6 d=M273,1632l4-4-3-2-5,8z />
<path color=#076fdf d=M268,1656l5-24-4,2-5,19z />
<path color=#0268e1 d=M258,1660l5-17-4-6-5,31zM190,1675l5,6-4-1-5-5z />
<path color=#1487d3 d=M185,1653l5,22-4,0-5-42z />
<path color=#06a1cc d=M180,1638l5,15-4-20-5,25z />
<path color=#09abbf d=M175,1636l5,2-4,20-5-36z />
<path color=#3dba9b d=M170,1634l5,2-4-14-5-27z />
<path color=#83bf79 d=M165,1585l5,49-4-39-4,20z />
<path color=#5ebe89 d=M325,1559l5,14-4-23-5,9z />
<path color=#1db3af d=M320,1597l5-38-4,0-5,42z />
<path color=#06a0cd d=M310,1631l5-42-3-9-5,27z />
<path color=#1486d3 d=M306,1612l4,19-3-24-5,16z />
<path color=#0267e1 d=M291,1658l5-14-4,1-5-16z />
<path color=#0364e1 d=M286,1649l5,9-4-29-5,23z />
<path color=#117ada d=M276,1651l5-12-4-11-4,4z />
<path color=#036ce0 d=M271,1655l5-4-3-19-5,24z />
<path color=#0860df d=M267,1671l4-16-3,1-5-13z />
<path color=#2351d0 d=M262,1678l5-7-4-28-5,17z />
<path color=#0c5dde d=M208,1654l5,37-4-8-5,6z />
<path color=#0b74dd d=M203,1656l5-2-4,35-5-12z />
<path color=#0770df d=M193,1660l5,25-3-4-5-6z />
<path color=#128bd2 d=M189,1648l4,12-3,15-5-22z />
<path color=#06a4ca d=M184,1646l5,2-4,5-5-15z />
<path color=#16b1b3 d=M174,1632l5,10-4-6-5-2z />
<path color=#6dbf82 d=M169,1609l5,23-4,2-5-49z />
<path color=#62be87 d=M329,1572l5-28-4,29-5-14z />
<path color=#17b1b3 d=M324,1607l5-35-4-13-5,38z />
<path color=#069ece d=M314,1611l5-20-4-2-5,42z />
<path color=#1482d5 d=M309,1641l5-30-4,20-4-19z />
<path color=#1484d4 d=M304,1634l5,7-3-29-5-2z />
<path color=#127cd8 d=M300,1636l4-2-3-24-5,34z />
<path color=#0561e0 d=M295,1658l5-22-4,8-5,14z />
<path color=#0a73de d=M280,1651l5-12-4,0-5,12z />
<path color=#127bd9 d=M202,1656l5,19-4-19-5,29z />
<path color=#127cd8 d=M197,1676l5-20-4,29-5-25z />
<path color=#069ece d=M187,1639l5,39-3-30-5-2z />
<path color=#1eb3ae d=M178,1624l5,21-4-3-5-10z />
<path color=#53bd8f d=M173,1629l5-5-4,8-5-23z />
<path color=#8ebf74 d=M333,1561l4-20-3,3-5,28z />
<path color=#23b4ab d=M328,1590l5-29-4,11-5,35z />
<path color=#06a2cc d=M323,1627l5-37-4,17-5-16z />
<path color=#079dcf d=M318,1606l5,21-4-36-5,20z />
<path color=#1389d3 d=M313,1630l5-24-4,5-5,30z />
<path color=#0f77db d=M303,1659l5-40-4,15-4,2z />
<path color=#1757d9 d=M298,1667l5-8-3-23-5,22z />
<path color=#0870df d=M289,1652l5-1-4-4-5-8z />
<path color=#036be0 d=M284,1668l5-16-4-13-5,12z />
<path color=#076fdf d=M279,1641l5,27-4-17-5-5z />
<path color=#0e76dc d=M274,1652l5-11-4,5-5,10z />
<path color=#095fdf d=M269,1677l5-25-4,4-5,13z />
<path color=#0e5cde d=M259,1687l5-19-3-11-5,5z />
<path color=#137fd7 d=M196,1652l5,29-4-5-5,2z />
<path color=#06a5c9 d=M191,1633l5,19-4,26-5-39z />
<path color=#17b1b3 d=M181,1633l5,30-3-18-5-21z />
<path color=#67be85 d=M177,1601l4,32-3-9-5,5z />
<path color=#86bf77 d=M336,1585l5-36-4-8-4,20z />
<path color=#33b8a1 d=M331,1586l5-1-3-24-5,29z />
<path color=#06a7c5 d=M327,1604l4-18-3,4-5,37z />
<path color=#108ed2 d=M317,1641l5-30-4-5-5,24z />
<path color=#1486d4 d=M312,1623l5,18-4-11-5-11z />
<path color=#117bd9 d=M307,1647l5-24-4-4-5,40z />
<path color=#026ae1 d=M283,1673l5-24-4,19-5-27z />
<path color=#0364e1 d=M278,1683l5-10-4-32-5,11z />
<path color=#0760e0 d=M273,1651l5,32-4-31-5,25z />
<path color=#2f46bf d=M263,1691l5-25-4,2-5,19z />
<path color=#1480d6 d=M200,1676l5,11-4-6-5-29z />
<path color=#0bacbd d=M185,1634l5,32-4-3-5-30z />
<path color=#89bf76 d=M180,1597l5,37-4-1-4-32z />
<path color=#7fbf7a d=M340,1564l5-10-4-5-5,36z />
<path color=#28b6a7 d=M335,1609l5-45-4,21-5,1z />
<path color=#0cadbc d=M330,1594l5,15-4-23-4,18z />
<path color=#06a4c9 d=M325,1627l5-33-3,10-5,7z />
<path color=#1484d4 d=M321,1643l4-16-3-16-5,30z />
<path color=#0f77db d=M316,1656l5-13-4-2-5-18z />
<path color=#0770df d=M311,1664l5-8-4-33-5,24z />
<path color=#0562e0 d=M306,1672l5-8-4-17-5-2z />
<path color=#0e5cde d=M301,1664l5,8-4-27-5,18z />
<path color=#036be0 d=M286,1669l5-22-3,2-5,24z />
<path color=#0266e1 d=M272,1693l5-34-4-8-5,15z />
<path color=#2f46bf d=M267,1672l5,21-4-27-5,25z />
<path color=#0f78db d=M204,1684l4-2-3,5-5-11z />
<path color=#079ecf d=M199,1641l5,43-4-8-5-33z />
<path color=#17b1b3 d=M194,1627l5,14-4,2-5,23z />
<path color=#1fb4ad d=M189,1645l5-18-4,39-5-32z />
<path color=#85bf78 d=M184,1603l5,42-4-11-5-37z />
<path color=#86bf77 d=M344,1577l5-17-4-6-5,10z />
<path color=#1ab2b1 d=M339,1622l5-45-4-13-5,45z />
<path color=#06a6c7 d=M334,1608l5,14-4-13-5-15zM329,1610l5-2-4-14-5,33z />
<path color=#0e76dc d=M319,1659l5-41-3,25-5,13z />
<path color=#056ee0 d=M295,1680l5-22-4-9-5-2z />
<path color=#036ae1 d=M290,1655l5,25-4-33-5,22z />
<path color=#0268e1 d=M285,1680l5-25-4,14-4-10z />
<path color=#095fdf d=M280,1687l5-7-3-21-5,0z />
<path color=#264ecc d=M276,1676l4,11-3-28-5,34z />
<path color=#066fdf d=M212,1692l5-9-4,16-5-17z />
<path color=#127cd9 d=M207,1670l5,22-4-10-4,2z />
<path color=#079cd0 d=M202,1664l5,6-3,14-5-43z />
<path color=#7dbf7b d=M188,1607l5,35-4,3-5-42zM348,1582l4-27-3,5-5,17z />
<path color=#1eb3ae d=M343,1597l5-15-4-5-5,45z />
<path color=#06a7c6 d=M333,1630l5-31-4,9-5,2z />
<path color=#079dcf d=M328,1627l5,3-4-20-5,8z />
<path color=#1480d6 d=M323,1655l5-28-4-9-5,41z />
<path color=#046ce0 d=M318,1669l5-14-4,4-4-23z />
<path color=#0268e1 d=M313,1672l5-3-3-33-5,23z />
<path color=#0266e1 d=M299,1672l5-19-4,5-5,22z />
<path color=#1e54d5 d=M294,1690l5-18-4,8-5-25z />
<path color=#2450cf d=M289,1683l5,7-4-35-5,25z />
<path color=#1857d8 d=M235,1682l5,12-3,7-5,1z />
<path color=#1658d9 d=M231,1699l4-17-3,20-5,0z />
<path color=#046de0 d=M226,1678l5,21-4,3-5-24z />
<path color=#0971de d=M216,1681l5,22-4-20-5,9z />
<path color=#138ad3 d=M211,1658l5,23-4,11-5-22z />
<path color=#06a4c9 d=M206,1653l5,5-4,12-5-6z />
<path color=#1bb2b0 d=M197,1626l4,46-3-12-5-18z />
<path color=#93bf72 d=M192,1611l5,15-4,16-5-35z />
<path color=#59bd8c d=M351,1603l5-25-4-23-4,27z />
<path color=#1fb3ae d=M346,1605l5-2-3-21-5,15z />
<path color=#0aacbd d=M342,1626l4-21-3-8-5,2z />
<path color=#079cd0 d=M337,1634l5-8-4-27-5,31z />
<path color=#1483d5 d=M327,1651l5-21-4-3-5,28z />
<path color=#066edf d=M312,1668l5-22-4,26-4-19z />
<path color=#036ae1 d=M307,1681l5-13-3-15-5,0z />
<path color=#0364e1 d=M303,1671l4,10-3-28-5,19z />
<path color=#274ecc d=M298,1681l5-10-4,1-5,18z />
<path color=#066edf d=M273,1665l5,16-4-23-4,35z />
<path color=#0e76dc d=M230,1667l4,30-3,2-5-21z />
<path color=#0b74dd d=M220,1690l5-1-4,14-5-22z />
<path color=#28b6a7 d=M200,1637l5,21-4,14-4-46z />
<path color=#9abf6f d=M195,1615l5,22-3-11-5-15z />
<path color=#51bc90 d=M355,1590l5-25-4,13-5,25z />
<path color=#1bb2b1 d=M350,1606l5-16-4,13-5,2z />
<path color=#08abc0 d=M345,1607l5-1-4-1-4,21z />
<path color=#0899d1 d=M340,1640l5-33-3,19-5,8z />
<path color=#1481d5 d=M336,1665l4-25-3-6-5-4z />
<path color=#137dd8 d=M331,1642l5,23-4-35-5,21zM326,1660l5-18-4,9-5-10z />
<path color=#137fd7 d=M321,1650l5,10-4-19-5,5z />
<path color=#117ad9 d=M316,1652l5-2-4-4-5,22z />
<path color=#0265e1 d=M311,1676l5-24-4,16-5,13z />
<path color=#0364e1 d=M301,1683l5-24-3,12-5,10zM297,1677l4,6-3-2-5-22z />
<path color=#0268e1 d=M292,1668l5,9-4-18-5,37z />
<path color=#026ae1 d=M272,1691l5-17-4-9-5,30z />
<path color=#1480d6 d=M224,1675l4,11-3,3-5,1z />
<path color=#118dd2 d=M219,1666l5,9-4,15-5-6z />
<path color=#0997d1 d=M214,1671l5-5-4,18-5-4z />
<path color=#06a2cb d=M209,1671l5,0-4,9-5-22z />
<path color=#32b8a1 d=M204,1626l5,45-4-13-5-21z />
<path color=#89bf76 d=M199,1639l5-13-4,11-5-22z />
<path color=#60be88 d=M359,1591l5-4-4-22-5,25z />
<path color=#18b2b2 d=M354,1631l5-40-4-1-5,16z />
<path color=#06a8c5 d=M349,1623l5,8-4-25-5,1z />
<path color=#069fce d=M344,1631l5-8-4-16-5,33z />
<path color=#137fd7 d=M339,1649l5-18-4,9-4,25z />
<path color=#0871de d=M334,1675l5-26-3,16-5-23z />
<path color=#0f78db d=M330,1641l4,34-3-33-5,18z />
<path color=#127cd8 d=M325,1663l5-22-4,19-5-10z />
<path color=#1079da d=M320,1667l5-4-4-13-5,2z />
<path color=#0266e1 d=M315,1691l5-24-4-15-5,24z />
<path color=#056de0 d=M305,1677l5-12-4-6-5,24z />
<path color=#046ce0 d=M295,1686l5-16-3,7-5-9z />
<path color=#0266e1 d=M291,1685l4,1-3-18-5,15z />
<path color=#079dcf d=M222,1660l5,29-3-14-5-9z />
<path color=#09abbf d=M213,1651l5,14-4,6-5,0z />
<path color=#48bb94 d=M208,1632l5,19-4,20-5-45z />
<path color=#81bf79 d=M203,1637l5-5-4-6-5,13z />
<path color=#69be84 d=M363,1594l4-31-3,24-5,4z />
<path color=#26b5a9 d=M358,1593l5,1-4-3-5,40z />
<path color=#06a3ca d=M353,1646l5-53-4,38-5-8z />
<path color=#0c94d2 d=M348,1639l5,7-4-23-5,8z />
<path color=#1484d4 d=M343,1664l5-25-4-8-5,18z />
<path color=#117ad9 d=M333,1670l5-33-4,38-4-34z />
<path color=#0f77db d=M328,1664l5,6-3-29-5,22z />
<path color=#0363e1 d=M319,1690l5-37-4,14-5,24z />
<path color=#0269e1 d=M309,1695l5-29-4-1-5,12z />
<path color=#0d5dde d=M304,1691l5,4-4-18-5-7z />
<path color=#0268e1 d=M299,1674l5,17-4-21-5,16z />
<path color=#066fdf d=M285,1680l5-8-4-7-5,44z />
<path color=#036be1 d=M246,1693l5,25-4-14-5-23z />
<path color=#137dd7 d=M231,1670l5,43-4-18-5-6z />
<path color=#4ebc91 d=M212,1627l4,48-3-24-5-19z />
<path color=#88bf76 d=M207,1642l5-15-4,5-5,5z />
<path color=#9dbf6e d=M366,1578l5-19-4,4-4,31z />
<path color=#39b99d d=M361,1633l5-55-3,16-5-1z />
<path color=#069ece d=M357,1646l4-13-3-40-5,53z />
<path color=#137ed7 d=M337,1669l5-23-4-9-5,33z />
<path color=#066edf d=M322,1676l5-8-3-15-5,37z />
<path color=#0860df d=M313,1681l5,9-4-24-5,29z />
<path color=#036be1 d=M298,1702l5-23-4-5-5,4z />
<path color=#0269e1 d=M293,1691l5,11-4-24-4-6z />
<path color=#0d76dc d=M288,1676l5,15-3-19-5,8z />
<path color=#2a4bc8 d=M254,1705l5,8-4-3-4,8z />
<path color=#095fdf d=M249,1711l5-6-3,13-5-25z />
<path color=#0c74dd d=M245,1680l4,31-3-18-5,11z />
<path color=#127cd8 d=M240,1678l5,2-4,24-5,9z />
<path color=#0e92d2 d=M235,1668l5,10-4,35-5-43z />
<path color=#08abc0 d=M220,1654l5,23-4-4-5,2z />
<path color=#3ab99c d=M215,1658l5-4-4,21-4-48z />
<path color=#75bf7f d=M210,1640l5,18-3-31-5,15z />
<path color=#79bf7d d=M370,1602l5-1-4-42-5,19z />
<path color=#17b1b3 d=M365,1637l5-35-4-24-5,55z />
<path color=#118cd2 d=M355,1656l5-36-3,26-5,10z />
<path color=#118ed2 d=M346,1674l5-40-4,0-5,12z />
<path color=#117ad9 d=M341,1655l5,19-4-28-5,23z />
<path color=#0364e1 d=M312,1704l5-42-4,19-5,14z />
<path color=#056ee0 d=M278,1687l4-12-3,37-5-15z />
<path color=#3340b3 d=M268,1706l5,10-4,3-5-3z />
<path color=#079ecf d=M229,1662l5,22-4,20-5-27z />
<path color=#64be86 d=M214,1639l5,16-4,3-5-18z />
<path color=#089bd0 d=M359,1659l5-38-4-1-5,36z />
<path color=#1483d5 d=M350,1666l4-18-3-14-5,40z />
<path color=#1481d6 d=M340,1658l5-2-4-1-5,19z />
<path color=#0a72de d=M315,1674l5,5-3-17-5,42z />
<path color=#0e76dc d=M301,1675l5,33-4-37-5,6z />
<path color=#127dd8 d=M296,1684l5-9-4,2-5,7z />
<path color=#0267e1 d=M286,1709l5-14-4,16-5-36z />
<path color=#0266e1 d=M272,1702l4-12-3,26-5-10z />
<path color=#118cd2 d=M242,1683l5,3-4,9-4,2z />
<path color=#06a4ca d=M233,1669l4,36-3-21-5-22z />
<path color=#2db7a5 d=M223,1636l5,37-4,13-5-31z />
<path color=#89bf76 d=M218,1638l5-2-4,19-5-16z />
<path color=#6fbf81 d=M378,1598l4-1-3-13-5,8z />
<path color=#54bd8e d=M373,1605l5-7-4-6-5,16z />
<path color=#18b1b2 d=M368,1642l5-37-4,3-5,13z />
<path color=#0b95d1 d=M363,1656l5-14-4-21-5,38z />
<path color=#1484d4 d=M353,1681l5-44-4,11-4,18z />
<path color=#0972de d=M348,1685l5-4-3-15-5-10z />
<path color=#0c74dd d=M344,1690l4-5-3-29-5,2z />
<path color=#0b73dd d=M339,1694l5-4-4-32-5-1z />
<path color=#137dd8 d=M334,1669l5,25-4-37-5,1z />
<path color=#0e77db d=M329,1703l5-34-4-11-5,15z />
<path color=#0a73dd d=M300,1703l5-7-4-21-5,9z />
<path color=#1956d8 d=M285,1699l5,13-4-3-5,5z />
<path color=#036ae1 d=M270,1690l5,19-3-7-5,21z />
<path color=#066fdf d=M266,1697l4-7-3,33-5-14z />
<path color=#079bd0 d=M236,1690l5,0-4,15-4-36z />
<path color=#5abd8b d=M227,1634l4,39-3,0-5-37z />
<path color=#acbe68 d=M222,1633l5,1-4,2-5,2z />
<path color=#69be84 d=M381,1596l5,0-4,1-4,1z />
<path color=#38b99e d=M377,1641l4-45-3,2-5,7z />
<path color=#06a5c8 d=M372,1649l5-8-4-36-5,37z />
<path color=#0d92d2 d=M357,1653l5-14-4-2-5,44z />
<path color=#0e5cde d=M328,1704l5-27-4,26-5-8z />
<path color=#0267e1 d=M323,1683l5,21-4-9-5-10z />
<path color=#0269e1 d=M289,1688l5,28-4-4-5-13z />
<path color=#0e76db d=M274,1691l5,21-4-3-5-19z />
<path color=#0269e1 d=M260,1710l4,11-3-1-5-13z />
<path color=#0b73dd d=M255,1706l5,4-4-3-5,10z />
<path color=#127bd9 d=M250,1714l5-8-4,11-5-30z />
<path color=#09abbf d=M240,1659l5,13-4,18-5,0z />
<path color=#22b4ac d=M235,1655l5,4-4,31-5-17z />
<path color=#4ebc91 d=M230,1674l5-19-4,18-4-39z />
<path color=#98bf70 d=M225,1633l5,41-3-40-5-1z />
<path color=#75bf7e d=M385,1598l5-2-4,0-5,0z />
<path color=#3bb99c d=M380,1612l5-14-4-2-4,45z />
<path color=#07aac1 d=M366,1635l5,8-4-15-5,11z />
<path color=#079ccf d=M361,1670l5-35-4,4-5,14z />
<path color=#117bd9 d=M351,1665l5,24-4-12-5-17z />
<path color=#1481d6 d=M346,1692l5-27-4-5-5,4z />
<path color=#026ae1 d=M327,1702l5-19-4,21-5-21z />
<path color=#066edf d=M302,1717l5-1-4-37-4,7z />
<path color=#1079da d=M293,1699l4-19-3,36-5-28z />
<path color=#1483d5 d=M278,1685l5,5-4,22-5-21z />
<path color=#0b74dd d=M268,1693l5,28-4-22-5,22z />
<path color=#137fd7 d=M263,1687l5,6-4,28-4-11z />
<path color=#138ad3 d=M258,1687l5,0-3,23-5-4z />
<path color=#1487d3 d=M254,1698l4-11-3,19-5,8z />
<path color=#0f90d2 d=M249,1707l5-9-4,16-5-42z />
<path color=#58bd8c d=M234,1647l5,14-4-6-5,19z />
<path color=#91bf73 d=M229,1637l5,10-4,27-5-41z />
<path color=#96bf71 d=M389,1609l5-49-4,36-5,2z />
<path color=#58bd8c d=M384,1611l5-2-4-11-5,14z />
<path color=#36b99f d=M379,1628l5-17-4,1-5,7z />
<path color=#0cadbc d=M374,1644l5-16-4-9-4,24z />
<path color=#06a6c7 d=M369,1648l5-4-3-1-5-8z />
<path color=#0d92d2 d=M365,1678l4-30-3-13-5,35z />
<path color=#127dd8 d=M360,1652l5,26-4-8-5,19z />
<path color=#128bd2 d=M355,1653l5-1-4,37-5-24z />
<path color=#046ce0 d=M335,1689l5,6-4,9-4-21z />
<path color=#0c74dd d=M326,1667l4,27-3,8-5-1z />
<path color=#117ad9 d=M321,1684l5-17-4,34-5,1z />
<path color=#0a72de d=M316,1682l5,2-4,18-5,13z />
<path color=#066fdf d=M311,1686l5-4-4,33-5,1z />
<path color=#0971de d=M306,1682l5,4-4,30-5,1z />
<path color=#1079da d=M301,1708l5-26-4,35-5-37z />
<path color=#137dd8 d=M277,1684l5,37-4-36-5,36z />
<path color=#1483d5 d=M272,1706l5-22-4,37-5-28z />
<path color=#069fce d=M252,1675l5,14-3,9-5,9z />
<path color=#08abc0 d=M248,1659l4,16-3,32-5-14z />
<path color=#32b8a2 d=M243,1665l5-6-4,34-5-32z />
<path color=#72bf80 d=M238,1651l5,14-4-4-5-14z />
<path color=#c0bc60 d=M233,1613l5,38-4-4-5-10z />
<path color=#bdbc61 d=M393,1578l5,3-4-21-5,49z />
<path color=#6abe83 d=M388,1625l5-47-4,31-5,2z />
<path color=#25b5a9 d=M383,1636l5-11-4-14-5,17z />
<path color=#079bd0 d=M368,1665l5-35-4,18-4,30z />
<path color=#1487d3 d=M363,1678l5-13-3,13-5-26z />
<path color=#0e91d2 d=M359,1675l4,3-3-26-5,1z />
<path color=#1481d6 d=M354,1686l5-11-4-22-5,35z />
<path color=#056de0 d=M349,1688l5-2-4,2-5,11z />
<path color=#0c74dd d=M344,1669l5,19-4,11-5-4z />
<path color=#137dd7 d=M339,1681l5-12-4,26-5-6z />
<path color=#1480d6 d=M334,1670l5,11-4,8-5,5z />
<path color=#118cd2 d=M329,1680l5-10-4,24-4-27z />
<path color=#1482d5 d=M320,1675l4,34-3-25-5-2z />
<path color=#1480d6 d=M310,1709l5-15-4-8-5-4z />
<path color=#118dd2 d=M300,1685l5-4-4,27-5-29z />
<path color=#1483d4 d=M295,1720l5-35-4-6-5,20z />
<path color=#137fd7 d=M290,1680l5,40-4-21-4,6z />
<path color=#1485d4 d=M281,1681l4,34-3,6-5-37z />
<path color=#0999d1 d=M271,1696l5-9-4,19-5-23z />
<path color=#069fce d=M261,1681l5,20-4-1-5-11z />
<path color=#0daeba d=M256,1679l5,2-4,8-5-14z />
<path color=#56bd8d d=M246,1647l5,34-3-22-5,6z />
<path color=#8cbf75 d=M242,1648l4-1-3,18-5-14z />
<path color=#cabb5c d=M237,1634l5,14-4,3-5-38z />
<path color=#89bf76 d=M392,1628l4-55-3,5-5,47z />
<path color=#07aac2 d=M377,1667l5-25-4-5-5-7z />
<path color=#06a4c9 d=M372,1643l5,24-4-37-5,35z />
<path color=#0b95d2 d=M367,1668l5-25-4,22-5,13z />
<path color=#1389d3 d=M362,1663l5,5-4,10-4-3z />
<path color=#1388d3 d=M357,1670l5-7-3,12-5,11zM353,1656l4,14-3,16-5,2zM348,1696l5-40-4,32-5-19z />
<path color=#1481d6 d=M328,1680l5,7-4-7-5,29z />
<path color=#1389d3 d=M323,1679l5,1-4,29-4-34z />
<path color=#0998d1 d=M318,1670l5,9-3-4-5,19z />
<path color=#1483d5 d=M309,1688l5,15-4,6-5-28z />
<path color=#1487d3 d=M299,1707l5-34-4,12-5,35z />
<path color=#137dd8 d=M294,1711l5-4-4,13-5-40z />
<path color=#0899d1 d=M284,1678l5,14-4,23-4-34z />
<path color=#06a3ca d=M265,1678l5,29-4-6-5-20z />
<path color=#23b5ab d=M260,1663l5,15-4,3-5-2z />
<path color=#29b6a7 d=M255,1679l5-16-4,16-5,2z />
<path color=#5bbd8b d=M250,1651l5,28-4,2-5-34z />
<path color=#d1bb59 d=M240,1606l5,52-3-10-5-14z />
<path color=#d4bb58 d=M400,1593l5-6-4-20-5,6z />
<path color=#8dbf75 d=M395,1617l5-24-4-20-4,55z />
<path color=#2bb6a6 d=M390,1622l5-5-3,11-5,18z />
<path color=#10afb8 d=M386,1647l4-25-3,24-5-4z />
<path color=#07a9c2 d=M381,1633l5,14-4-5-5,25z />
<path color=#0aacbe d=M376,1642l5-9-4,34-5-24z />
<path color=#07a9c2 d=M371,1650l5-8-4,1-5,25z />
<path color=#06a2cb d=M366,1656l5-6-4,18-5-5z />
<path color=#089bd0 d=M351,1656l5,16-3-16-5,40z />
<path color=#1388d3 d=M347,1687l4-31-3,40-5-7z />
<path color=#1485d4 d=M342,1682l5,5-4,2-5-6z />
<path color=#128cd2 d=M337,1681l5,1-4,1-5,4z />
<path color=#0c93d2 d=M327,1675l5,22-4-17-5-1z />
<path color=#079cd0 d=M317,1667l5,21-4-18-4,33z />
<path color=#0998d1 d=M312,1685l5-18-3,36-5-15z />
<path color=#06a0cd d=M308,1685l4,0-3,3-5-15z />
<path color=#0e92d2 d=M303,1706l5-21-4-12-5,34z />
<path color=#1487d3 d=M298,1679l5,27-4,1-5,4z />
<path color=#079bd0 d=M293,1684l5-5-4,32-5-19z />
<path color=#07a9c3 d=M288,1675l5,9-4,8-5-14zM273,1695l5-24-3,7-5,29z />
<path color=#06a4c9 d=M269,1695l4,0-3,12-5-29z />
<path color=#31b8a2 d=M264,1659l5,36-4-17-5-15z />
<path color=#3fba9a d=M259,1687l5-28-4,4-5,16z />
<path color=#52bd8f d=M254,1659l5,28-4-8-5-28z />
<path color=#e6b950 d=M244,1613l5,40-4,5-5-52z />
<path color=#bebc61 d=M404,1603l5-28-4,12-5,6z />
<path color=#8bbf75 d=M399,1610l5-7-4-10-5,24z />
<path color=#6abe83 d=M394,1613l5-3-4,7-5,5z />
<path color=#43bb97 d=M389,1623l5-10-4,9-4,25z />
<path color=#31b8a2 d=M384,1628l5-5-3,24-5-14z />
<path color=#3dba9b d=M380,1623l4,5-3,5-5,9z />
<path color=#22b4ab d=M375,1649l5-26-4,19-5,8z />
<path color=#0cadbc d=M370,1652l5-3-4,1-5,6z />
<path color=#07aac2 d=M365,1677l5-25-4,4-5-14z />
<path color=#069fce d=M360,1680l5-3-4-35-5,30z />
<path color=#06a3ca d=M355,1657l5,23-4-8-5-16z />
<path color=#06a1cd d=M350,1680l5-23-4-1-4,31z />
<path color=#0f8fd2 d=M345,1680l5,0-3,7-5-5z />
<path color=#06a2cb d=M341,1647l4,33-3,2-5-1z />
<path color=#06a4c9 d=M336,1665l5-18-4,34-5,16zM331,1659l5,6-4,32-5-22z />
<path color=#0aacbd d=M326,1652l5,7-4,16-5,13z />
<path color=#0bacbd d=M321,1674l5-22-4,36-5-21z />
<path color=#07a9c3 d=M316,1678l5-4-4-7-5,18z />
<path color=#06a4ca d=M311,1682l5-4-4,7-4,0z />
<path color=#0899d1 d=M306,1692l5-10-3,3-5,21z />
<path color=#089bd0 d=M302,1692l4,0-3,14-5-27z />
<path color=#06a5c8 d=M297,1692l5,0-4-13-5,5z />
<path color=#07aac1 d=M292,1684l5,8-4-8-5-9z />
<path color=#12afb7 d=M287,1669l5,15-4-9-5,14z />
<path color=#27b5a8 d=M282,1666l5,3-4,20-5-18z />
<path color=#12afb7 d=M277,1700l5-34-4,5-5,24z />
<path color=#0eaeba d=M272,1656l5,44-4-5-4,0z />
<path color=#43bb97 d=M267,1675l5-19-3,39-5-36z />
<path color=#46bb96 d=M263,1670l4,5-3-16-5,28z />
<path color=#7abf7c d=M258,1634l5,36-4,17-5-28z />
<path color=#d0bb59 d=M253,1615l5,19-4,25-5-6z />
<path color=#fec536 d=M248,1609l5,6-4,38-5-40z /></g>
<text x="51.2" y="362.7" font-size="8.8" textLength="32.8" lengthAdjust="spacingAndGlyphs">Quartic</text>
<text class="t" transform="translate(15.5 401.5) rotate(-90)" font-size="8.6" text-anchor="middle" textLength="40.6" lengthAdjust="spacingAndGlyphs">F7(&#160;x<tspan font-size="6.7" dy="4.3">1</tspan><tspan dy="-4.3">&#160;,&#160;x</tspan><tspan font-size="6.7" dy="4.3">2</tspan><tspan dy="-4.3">&#160;)</tspan></text>
<text x="27.8" y="402.1" font-size="8.7" text-anchor="end" class="t">2</text>
<text x="27.8" y="424.2" font-size="8.7" text-anchor="end" class="t">0</text>
<text x="35.2" y="437" font-size="8.7" text-anchor="end" class="t">0.5</text>
<text x="41.3" y="440.6" font-size="8.7" text-anchor="middle" class="t">0</text>
<text x="46.5" y="447.1" font-size="8.7" text-anchor="middle" class="t">-0.5</text>
<text x="56.3" y="451.8" font-size="8.7" text-anchor="middle" class="t">-1</text>
<text x="69" y="452" font-size="8.7" text-anchor="middle" class="t">-1</text>
<text x="81.6" y="447.2" font-size="8.7" text-anchor="middle" class="t">-0.5</text>
<text x="88.5" y="443.7" font-size="8.7" text-anchor="middle" class="t">0</text>
<text x="102.2" y="441" font-size="8.7" text-anchor="middle" class="t">0.5</text>
<text class="t" x="20" y="455" font-size="9.2">x<tspan font-size="7.2" dy="3.9">2</tspan></text>
<text class="t" x="98.2" y="456.1" font-size="9.2">x<tspan font-size="7.2" dy="3.9">1</tspan></text>
<path fill="none" stroke="#c4c4c4" stroke-width="0.8" d="M298.7 379L298.7 421.2L319.5 442L349 428"/>
<g transform="scale(.25)" filter="url(#bl)" style="fill:currentColor;stroke:currentColor;stroke-width:2;stroke-linejoin:round"><path fill=none stroke="#2350d0" stroke-width="1.4" opacity="0.85" d="M1370,1698l2,3-2,1-3-2,3-2M1228,1680l-4,2-2-1,4-2,2,1M1312,1637l3,2,0,2-3,2-5,0-2-3,1-2,6-1" />
<path fill=none stroke="#0a73dd" stroke-width="1.4" opacity="0.85" d="M1384,1718l6-3M1286,1738l2,3-3,2-4-3,5-2M1373,1697l2,5-3,2-8-3,1-4,8,0M1328,1655l4,4-3,2-3-1-2-3,4-2M1308,1635l9,3-1,5-3,2-8-1-2-4,1-4,4-1M1199,1689l4,4M1228,1677l3,2-1,4-9,0-2-2,4-5,5,1M1286,1649l3,3-7,2-1-2,5-3" />
<path fill=none stroke="#138ad3" stroke-width="1.4" opacity="0.85" d="M1298,1759l7-4M1360,1729l1,0M1381,1719l3-4,8-1M1370,1695l8,3-1,5-3,2-9-1-3-2,2-6,6-1M1259,1749l5,5M1289,1737l2,2-1,4-4,2-7-3,0-4,4-2,6,1M1305,1729l2,3-1,1-3-3,2-1M1347,1709l2,3-3,3-6-2,1-3,6-1M1273,1726l-4,2-1-2,3-2,2,2M1358,1682l2,5-3,2-5-1-2-6,8,0M1342,1667l8,10-1,4-13-11,0-2,6-1M1331,1654l3,2,0,5-3,2-8-2-2-3,2-3,8-1M1220,1710l0,0M1243,1695l4,2,0,3-7,1-2-4,5-2M1304,1670l-3,0,3,0M1198,1688l7,3,0,4M1223,1675l10,3-2,6-4,2-8-2-2-2,1-4,5-3M1288,1648l3,2,0,4-3,2-9,0-2-3,3-4,8-1M1311,1634l8,3-1,7-4,2-11-1-2-3,2-7,8-1M1249,1667l3,2-2,3-3,2-5-1-2-2,1-3,8-1M1269,1657l4,2-2,2-17,7,0-4,15-7" />
<path fill=none stroke="#06a3ca" stroke-width="1.4" opacity="0.85" d="M1277,1767l3,0M1296,1760l5-6,6,0M1319,1748l7-3M1345,1736l1,0M1356,1731l3-3,6-1M1379,1720l3-6,12-1M1257,1747l6,2,3,7M1286,1735l8,3-3,7-3,1-9-1-2-2,1-7,8-1M1344,1707l5,1,3,3-1,3-3,3-9,0-2-3,1-2,1-4,5-1M1367,1693l10,2,2,3-1,7-8,2-9-4,0-11,6,1M1331,1717l3,2-2,3-19,7-5,5-6,0-2-2,1-4,9-1,17-10,4,0M1327,1652l9,3,1,7,7,4,11,13,8,4,0,6-3,3-10-3-3-6-14-12-2-6-10-3-2-3,2-6,6-1M1244,1734l5,5M1257,1707l11,14,8,3-1,4-3,2-6-1-2-6-14-12,0-3,3-2,4,1M1331,1695l3,2-3,3-3,0-2-5,5,0M1230,1720l1,1M1314,1680l1,3-3-2,2-1M1216,1706l6,3,1,4M1246,1694l4,2-1,6-3,2-9-2,0-7,9-1M1304,1666l4,2-1,5-9,0,0-6,6-1M1263,1686l5,1-4,4-3,0-1-4,3-1M1289,1677l-4,2,2-2,2,0M1320,1636l-1,10-3,2-10-1-6-1-2-3,4-9M1196,1686l10,4,0,6M1226,1674l11,2-5,9-3,2-12-2-2-2,2-7,9-2M1284,1646l10,3-2,6-3,3-10,0-6,5-19,7-5,5-11,0-1-3,3-5,9-2,17-10,8-1,5-7,5-1M1302,1634l11-1,7,3" />
<path fill=none stroke="#1ab2b1" stroke-width="1.4" opacity="0.85" d="M1276,1766l5,1M1294,1761l2-6,4-2,10,0M1316,1750l3-4,34-14,5-5,10-2M1377,1721l4-8,14-1M1381,1697l-1,9-3,3-16-3-3-2-1-11-9-3-3-6-14-12-3-6-9-3,0-11-9-3-10-2-4,2-6,10-10,1-30,17-10,0-6,10-4,2-15-2-3-3,4-9M1256,1746l9,2,2,3,0,6M1242,1692l10,3,0,7,8,4,11,13,7,4,0,8,4,2,14,0,3-7,9-1,17-10,9-2,4-7,14,1,2,2-2,7-3,2-10,0-5,6-19,7-6,5-10,0-6,10-10,1-8-4-1-10-10-3-2-6-15-12-2-6-9-3-2-3,1-7,7-1M1322,1638l-1,9,3,3,13,4,2,7,25,22,1,6,13,5M1215,1705l8,3,2,7,25,22,1,4M1299,1665l11,2,0,7-2,2,10,3,11,13,7,4-2,6-10-1-1-6-15-12-1-7-12-1-4,6-20,7-4,6-9-2,0-7,9-1,17-10,10,0,1-5,4-4M1294,1712l3,2-1,3-3,3-5-1-2-6,8-1M1315,1702l3,2-1,3-17,6,2-5,10-6,3,0M1278,1697l8,10-2,4-13-10,0-3,7-1M1299,1688l1,2-5-1,4-1M1195,1685l11,2,3,2-1,9M1220,1673l14-1,5-6,34-14,4-6,15-1,4-1,3-9M1308,1631l8,1" />
<path fill=none stroke="#51bd8f" stroke-width="1.4" opacity="0.85" d="M1274,1764l9,2M1292,1762l3-9,3-2,15,0,5-6,34-14,4-6,15-1M1375,1722l3-9-2-3-16-2-3,2-6,10-10,0-31,17-10,1-5,10-10,1-10-2-3-2,0-11-9-3-4-6-13-12-3-6-10-3,0-11-3-3-16-2-3,2-1,10M1383,1699l-1,8,3,3,10,1M1213,1703l12,4,2,7,25,22,1,6,14,5,2,3-1,8M1257,1694l-2,7,7,4,11,13,10,3-2,2,0,7,3,2,10-1,3-6-1-2,11,0,16-10,9-1,2-4-1-3-9-2-5,6-19,7-5,6-11-1-1-7-15-12-2-7-9-1M1307,1649l-9,2-6,10-10,0-6,5-19,7-5,5-11,1-3,2-2,6,3,3,14,0,4-7,9-1,16-10,9-1,4-8,4,0,14,3,0,8,7,3,11,14,8,3,0,8,13,3,4-2,1-6-2-3-9-3-3-6-14-12-3-6-9-3-1-11-9-4M1340,1656l1,4,25,22,1,6,9,4M1290,1707l2,2,4-2-6,0M1307,1686l-2,4,8,10,6-1,1-3-13-10M1289,1684l-15,6-1,2,6,3,12-7,0-4-2,0M1298,1677l-5,6,8,2,4-1-2-6-5-1M1324,1640l0,6,2,3,9,2M1196,1684l14,0,3-8M1281,1644l10,0,3-2,3-6M1223,1671l10-1,5-6,34-13,3-4M1310,1630l5,1" />
<path fill=none stroke="#92bf72" stroke-width="1.4" opacity="0.85" d="M1271,1761l7,3,10-1M1289,1763l3-9-2-3-5-1-10-1-4,2-1,9M1342,1721l-5,5-19,8-6,5-10,0-3,2-2,7,3,2,12-1,4-6,9-2,17-9,9-2,3-6-2-2-10-1M1367,1710l-9,1-5,10,12,2,9-2,2-7-9-4M1384,1700l0,6,10,4M1231,1705l-3,2,0,7,8,3,11,14,7,4,1,7,11,3,4-1,1-6-1-3-10-3-2-6-15-12-2-6-10-3M1286,1723l-3,5,4,2,5,0,1-6-7-1M1326,1706l-3,4,4,1,4-1-1-4-4,0M1345,1693l-3,1-1,7,9,2,4-1-1-7-8-2M1368,1684l1,4,5,2M1302,1719l2,1,2-3-4,2M1276,1713l1,3,2,0-3-3M1319,1667l-3,1-1,4,8,4,11,14,4,1,3-2,0-3-14-12-3-6-5-1M1360,1676l1,1M1260,1697l-3,3,3,2,4,0-1-5-3,0M1342,1658l4,4M1221,1690l-8,2-2,7,8,4,11,1,0-10-9-4M1243,1680l-4,6,3,3,9,0,3-6-2-3-9,0M1303,1651l-5,5-1,3,3,2,10,1,3-1,1-7-3-2-8-1M1325,1641l3,7,6,2M1283,1662l-5,6-19,7-2,2,3,3,4,0,16-10,10-1,1-4-3-2-5-1M1197,1684l11-1,3-6M1225,1670l7-1,3-3M1245,1661l1-1M1265,1651l6-3M1283,1643l7-1,5-5M1311,1630l3,0" />
<path fill=none stroke="#c7bc5d" stroke-width="1.4" opacity="0.85" d="M1282,1750l-9,2-1,8,3,2,9,1,6-4,0-4-2-3-6-2M1363,1711l-3,2-2,6,5,3,9-2,2-5-2-3-9-1M1303,1741l-3,2,0,3,3,3,8-1,3-4-2-3-9,0M1335,1730l-16,5-1,3,6,2,12-7,1-4-2,1M1344,1723l-5,5,3,2,7-1,2-3-2-3-5,0M1386,1702l0,4,7,3M1260,1734l-4,2,1,5,7,3,4-2,1-3-1-3-8-2M1348,1695l-4,2,0,3,5,2,3-2-1-4-3-1M1288,1725l-1,2,3,0-2-2M1371,1687l0,0M1242,1716l-2,4,9,10,6-1,0-2-13-11M1234,1708l-4,2,0,3,7,3,4-1-2-6-5-1M1321,1669l-3,2,2,1,3-2-2-1M1217,1691l-4,4,0,3,2,3,8,2,4-2,1-6-2-3-9-1M1244,1682l-3,3,3,3,6-1,1-3-7-2M1285,1664l-2,1,2,3,3-1-3-3M1304,1652l-3,2-2,3,3,3,9-1,1-4-8-3M1327,1643l5,5M1199,1683l8-2,3-3M1230,1668l1,0M1286,1641l7-3" />
<path fill=none stroke="#f5ba47" stroke-width="1.4" opacity="0.85" d="M1278,1752l-4,2,0,5,3,2,9,0,2-5-2-3-8-1M1305,1742l-3,3,3,3,4-1-1-5-3,0M1365,1712l-4,2-1,4,3,2,8-1,1-3-2-3-5-1M1387,1703l4,4M1262,1736l-3,4,3,2,4-1-1-4-3-1M1219,1693l-4,2,2,5,8,0,1-4-7-3M1306,1654l-4,2,3,3,4-2-3-3M1201,1682l6-3" />
<path fill=none stroke="#f9d429" stroke-width="1.4" opacity="0.85" d="M1279,1753l-3,5,3,2,6-1,1-2-2-3-5-1M1367,1714l-4,2,2,2,3-2-1-2M1220,1695l-1,1,2,3,2-1-3-3" />
<path color=#40ba99 d=M1312,1568l3-31-2-33-4,32z />
<path color=#1eb3ae d=M1297,1556l4,24-3-33-3-24z />
<path color=#84bf78 d=M1294,1539l3,17-2-33-4-17z />
<path color=#adbe68 d=M1290,1540l4-1-3-33-3,1z />
<path color=#89bf76 d=M1287,1559l3-19-2-33-4,19z />
<path color=#30b7a3 d=M1283,1581l4-22-3-33-3,22z />
<path color=#10afb8 d=M1276,1577l4,11-3-33-4-11z />
<path color=#43bb97 d=M1272,1564l4,13-3-33-3-13z />
<path color=#63be87 d=M1269,1568l3-4-2-33-4,4z />
<path color=#40ba99 d=M1265,1581l4-13-3-33-3,14z />
<path color=#2cb7a5 d=M1262,1580l3,1-2-32-4-1z />
<path color=#37b99e d=M1258,1579l4,1-3-32-3-1z />
<path color=#39b99d d=M1255,1583l3-4-2-32-4,3z />
<path color=#3bb99c d=M1251,1582l4,1-3-33-4-1z />
<path color=#48bb95 d=M1247,1581l4,1-3-33-3-1z />
<path color=#33b8a1 d=M1244,1594l3-13-2-33-4,14z />
<path color=#19b2b2 d=M1240,1598l4-4-3-32-3,4z />
<path color=#30b7a3 d=M1237,1585l3,13-2-32-4-13z />
<path color=#72bf80 d=M1233,1574l4,11-3-32-3-11z />
<path color=#83bf79 d=M1230,1581l3-7-2-32-4,7z />
<path color=#43bb97 d=M1226,1603l4-22-3-32-4,22z />
<path color=#5bbd8a d=M1212,1582l3,24-2-32-4-24z />
<path color=#babd63 d=M1208,1567l4,15-3-32-3-15z />
<path color=#d4bb58 d=M1204,1571l4-4-2-32-4,4z />
<path color=#a9be69 d=M1201,1594l3-23-2-32-4,22z />
<path color=#33b8a1 d=M1197,1626l4-32-3-33-3,32z />
<path color=#06a0cd d=M1314,1592l4-32-3-23-3,31z />
<path color=#14b0b5 d=M1296,1562l4,17-3-23-3-17z />
<path color=#37b99f d=M1293,1563l3-1-2-23-4,1z />
<path color=#18b1b3 d=M1289,1582l4-19-3-23-3,19z />
<path color=#14b0b6 d=M1232,1605l4-7-3-24-3,7z />
<path color=#46bb96 d=M1211,1591l3,15-2-24-4-15z />
<path color=#6bbe83 d=M1207,1595l4-4-3-24-4,4z />
<path color=#33b8a1 d=M1203,1617l4-22-3-24-3,23z />
<path color=#089bd0 d=M1200,1649l3-32-2-23-4,32z />
<path color=#036be0 d=M1220,1635l4,17-3-5-3-17z />
<path color=#33b8a1 d=M1210,1600l3-4-2-5-4,4z />
<path color=#0cadbb d=M1206,1622l4-22-3-5-4,22z />
<path color=#1483d5 d=M1202,1654l4-32-3-5-3,32z />
<path color=#0266e1 d=M1226,1638l4-2-3,15-3,1z />
<path color=#0f78db d=M1223,1620l3,18-2,14-4-17z />
<path color=#22b4ac d=M1208,1608l4-23-2,15-4,22z />
<path color=#0e92d2 d=M1205,1640l3-32-2,14-4,32z />
<path color=#1eb3ae d=M1322,1559l3-32-2,24-4,31z />
<path color=#06a0cd d=M1225,1597l4,17-3,24-3-18z />
<path color=#84bf78 d=M1211,1585l4-23-3,23-4,23z />
<path color=#14b0b5 d=M1207,1616l4-31-3,23-3,32z />
<path color=#84bf78 d=M1324,1543l4-32-3,16-3,32z />
<path color=#dbba55 d=M1214,1568l3-22-2,16-4,23z />
<path color=#75bf7f d=M1210,1600l4-32-3,17-4,31z />
<path color=#adbe68 d=M1327,1545l3-32-2-2-4,32z />
<path color=#37b99f d=M1323,1568l4-23-3-2-3,22z />
<path color=#fdbe3e d=M1305,1516l4-1-3-2-3,1z />
<path color=#e3b951 d=M1302,1535l3-19-2-2-4,19z />
<path color=#9ebe6e d=M1298,1557l4-22-3-2-3,22z />
<path color=#61be88 d=M1295,1565l3-8-2-2-4,7z />
<path color=#c7bc5d d=M1284,1544l4-4-3-2-4,4z />
<path color=#acbe68 d=M1280,1558l4-14-3-2-3,14z />
<path color=#99bf6f d=M1277,1557l3,1-2-2-4-1z />
<path color=#a5be6b d=M1273,1556l4,1-3-2-3-1z />
<path color=#a7be6a d=M1270,1559l3-3-2-2-4,3z />
<path color=#a8be69 d=M1266,1558l4,1-3-2-3-1z />
<path color=#b3bd65 d=M1263,1557l3,1-2-2-4-1z />
<path color=#a1be6c d=M1259,1571l4-14-3-2-4,14z />
<path color=#82bf79 d=M1255,1575l4-4-3-2-3,4z />
<path color=#deba53 d=M1245,1558l3-7-2-2-4,7z />
<path color=#afbe67 d=M1241,1580l4-22-3-2-3,22z />
<path color=#5abd8b d=M1237,1599l4-19-2-2-4,19z />
<path color=#f9d528 d=M1220,1548l3-4-2-2-4,4z />
<path color=#fbbc41 d=M1216,1570l4-22-3-2-3,22z />
<path color=#a0be6d d=M1212,1602l4-32-2-2-4,32z />
<path color=#89bf76 d=M1329,1565l4-32-3-20-3,32z />
<path color=#18b1b3 d=M1326,1587l3-22-2-20-4,23z />
<path color=#5fbe88 d=M1315,1552l4,24-3-20-3-24z />
<path color=#c1bc60 d=M1312,1535l3,17-2-20-4-17z />
<path color=#e3b951 d=M1308,1536l4-1-3-20-4,1z />
<path color=#c5bc5e d=M1304,1555l4-19-3-20-3,19z />
<path color=#78bf7d d=M1301,1577l3-22-2-20-4,22z />
<path color=#38b99d d=M1297,1584l4-7-3-20-3,8z />
<path color=#49bc94 d=M1294,1573l3,11-2-19-4-12z />
<path color=#8dbf75 d=M1290,1560l4,13-3-20-3-13z />
<path color=#a7be6a d=M1286,1564l4-4-2-20-4,4z />
<path color=#89bf76 d=M1283,1578l3-14-2-20-4,14z />
<path color=#73bf7f d=M1279,1577l4,1-3-20-3-1z />
<path color=#80bf7a d=M1276,1576l3,1-2-20-4-1z />
<path color=#82bf79 d=M1272,1579l4-3-3-20-3,3z />
<path color=#85bf78 d=M1269,1578l3,1-2-20-4-1z />
<path color=#91bf73 d=M1265,1577l4,1-3-20-3-1z />
<path color=#7cbf7c d=M1261,1591l4-14-2-20-4,14z />
<path color=#58bd8c d=M1258,1595l3-4-2-20-4,4z />
<path color=#78bf7d d=M1254,1582l4,13-3-20-3-13z />
<path color=#b3bd65 d=M1251,1570l3,12-2-20-4-11z />
<path color=#c0bc60 d=M1247,1578l4-8-3-19-3,7z />
<path color=#8cbf75 d=M1244,1600l3-22-2-20-4,22z />
<path color=#33b8a1 d=M1240,1619l4-19-3-20-4,19z />
<path color=#a1be6c d=M1229,1579l4,24-3-20-3-24z />
<path color=#efb94b d=M1226,1563l3,16-2-20-4-15z />
<path color=#ffc238 d=M1222,1567l4-4-3-19-3,4z />
<path color=#e0ba53 d=M1219,1590l3-23-2-19-4,22z />
<path color=#7bbf7c d=M1215,1622l4-32-3-20-4,32z />
<path color=#30b7a3 d=M1332,1587l3-31-2-23-4,32z />
<path color=#72bf80 d=M1314,1558l4,17-3-23-3-17z />
<path color=#9ebe6e d=M1310,1559l4-1-2-23-4,1z />
<path color=#78bf7d d=M1307,1578l3-19-2-23-4,19z />
<path color=#22b4ac d=M1303,1600l4-22-3-23-3,22z />
<path color=#09abbf d=M1296,1596l4,11-3-23-3-11z />
<path color=#33b8a1 d=M1293,1583l3,13-2-23-4-13z />
<path color=#50bc90 d=M1289,1587l4-4-3-23-4,4z />
<path color=#30b7a3 d=M1285,1600l4-13-3-23-3,14z />
<path color=#1eb3ae d=M1282,1599l3,1-2-22-4-1z />
<path color=#28b6a7 d=M1278,1598l4,1-3-22-3-1z />
<path color=#2ab6a6 d=M1275,1602l3-4-2-22-4,3z />
<path color=#2cb7a5 d=M1271,1601l4,1-3-23-3-1z />
<path color=#37b99e d=M1268,1600l3,1-2-23-4-1z />
<path color=#25b5aa d=M1264,1613l4-13-3-23-4,14z />
<path color=#22b4ac d=M1257,1604l3,13-2-22-4-13z />
<path color=#5fbe89 d=M1253,1593l4,11-3-22-3-12z />
<path color=#71bf80 d=M1250,1600l3-7-2-23-4,8z />
<path color=#33b8a1 d=M1246,1622l4-22-3-22-3,22z />
<path color=#acbe68 d=M1228,1586l4,15-3-22-3-16z />
<path color=#c7bc5d d=M1225,1590l3-4-2-23-4,4z />
<path color=#9abf6f d=M1221,1613l4-23-3-23-3,23z />
<path color=#24b5aa d=M1217,1645l4-32-2-23-4,32z />
<path color=#09abbf d=M1334,1595l4-31-3-8-3,31z />
<path color=#61be88 d=M1313,1567l4-1-3-8-4,1z />
<path color=#38b99d d=M1309,1586l4-19-3-8-3,19z />
<path color=#06a7c6 d=M1306,1608l3-22-2-8-4,22z />
<path color=#1bb2b0 d=M1292,1595l3-4-2-8-4,4z />
<path color=#25b5aa d=M1256,1601l3,11-2-8-4-11z />
<path color=#33b8a1 d=M1252,1609l4-8-3-8-3,7z />
<path color=#94bf71 d=M1227,1598l4-4-3-8-3,4z />
<path color=#5cbe8a d=M1224,1621l3-23-2-8-4,23z />
<path color=#06a8c5 d=M1220,1653l4-32-3-8-4,32z />
<path color=#10afb8 d=M1337,1585l4-32-3,11-4,31z />
<path color=#49bc94 d=M1312,1576l4-19-3,10-4,19z />
<path color=#09abbf d=M1308,1598l4-22-3,10-3,22z />
<path color=#6fbf81 d=M1226,1611l4-23-3,10-3,23z />
<path color=#09acbe d=M1223,1643l3-32-2,10-4,32z />
<path color=#43bb97 d=M1339,1573l4-32-2,12-4,32z />
<path color=#8dbf75 d=M1314,1563l4-19-2,13-4,19z />
<path color=#33b8a1 d=M1311,1585l3-22-2,13-4,22z />
<path color=#47bb95 d=M1254,1608l3-22-2,12-4,22z />
<path color=#acbe68 d=M1229,1598l3-22-2,12-4,23z />
<path color=#36b99f d=M1225,1630l4-32-3,13-3,32z />
<path color=#63be87 d=M1342,1578l4-32-3-5-4,32z />
<path color=#c7bc5d d=M1321,1549l3-1-2-5-4,1z />
<path color=#a7be6a d=M1317,1568l4-19-3-5-4,19z />
<path color=#50bc90 d=M1313,1590l4-22-3-5-3,22z />
<path color=#1bb2b0 d=M1310,1597l3-7-2-5-4,8z />
<path color=#85bf78 d=M1299,1577l4-4-3-5-3,4z />
<path color=#62be87 d=M1296,1591l3-14-2-5-4,14z />
<path color=#4bbc93 d=M1292,1590l4,1-3-5-4-1z />
<path color=#59bd8c d=M1288,1589l4,1-3-5-3-1z />
<path color=#5bbd8b d=M1285,1592l3-3-2-5-4,3z />
<path color=#5dbe89 d=M1281,1591l4,1-3-5-3-1z />
<path color=#6bbf83 d=M1278,1590l3,1-2-5-4-1z />
<path color=#54bd8e d=M1274,1604l4-14-3-5-3,14z />
<path color=#a2be6c d=M1260,1591l3-8-2-4-4,7z />
<path color=#66be85 d=M1256,1613l4-22-3-5-3,22z />
<path color=#ecb94c d=M1235,1580l3-4-2-4-4,4z />
<path color=#c4bc5f d=M1231,1603l4-23-3-4-3,22z />
<path color=#53bd8f d=M1228,1635l3-32-2-5-4,32z />
<path color=#40ba99 d=M1345,1592l3-32-2-14-4,32z />
<path color=#83bf78 d=M1327,1562l3,18-2-15-4-17z />
<path color=#acbe68 d=M1323,1564l4-2-3-14-3,1z />
<path color=#89bf76 d=M1319,1583l4-19-2-15-4,19z />
<path color=#30b7a3 d=M1316,1605l3-22-2-15-4,22z />
<path color=#09abbf d=M1312,1612l4-7-3-15-3,7z />
<path color=#43bb97 d=M1305,1588l4,13-3-15-3-13z />
<path color=#62be87 d=M1302,1592l3-4-2-15-4,4z />
<path color=#3fba99 d=M1298,1605l4-13-3-15-3,14z />
<path color=#2cb6a5 d=M1294,1604l4,1-2-14-4-1z />
<path color=#37b99e d=M1291,1603l3,1-2-14-4-1z />
<path color=#39b99d d=M1287,1607l4-4-3-14-3,3z />
<path color=#3bb99c d=M1284,1606l3,1-2-15-4-1z />
<path color=#47bb95 d=M1280,1605l4,1-3-15-3-1z />
<path color=#33b8a1 d=M1277,1618l3-13-2-15-4,14z />
<path color=#2fb7a3 d=M1269,1609l4,13-3-14-3-13z />
<path color=#71bf80 d=M1266,1598l3,11-2-14-4-12z />
<path color=#83bf79 d=M1262,1605l4-7-3-15-3,8z />
<path color=#43bb97 d=M1259,1627l3-22-2-14-4,22z />
<path color=#b9bd63 d=M1241,1591l3,15-2-14-4-16z />
<path color=#d4bb58 d=M1237,1595l4-4-3-15-3,4z />
<path color=#a9be69 d=M1234,1618l3-23-2-15-4,23z />
<path color=#32b8a1 d=M1230,1650l4-32-3-15-3,32z />
<path color=#2cb7a5 d=M1347,1592l4-32-3,0-3,32z />
<path color=#99bf6f d=M1326,1563l3-1-2,0-4,2z />
<path color=#73bf7f d=M1322,1582l4-19-3,1-4,19z />
<path color=#1eb3ae d=M1318,1604l4-22-3,1-3,22z />
<path color=#4bbc93 d=M1304,1591l4-4-3,1-3,4z />
<path color=#2cb6a5 d=M1301,1605l3-14-2,1-4,13z />
<path color=#26b5a9 d=M1290,1607l3-4-2,0-4,4z />
<path color=#6cbf82 d=M1265,1605l3-7-2,0-4,7z />
<path color=#c3bc5f d=M1240,1595l3-4-2,0-4,4z />
<path color=#96bf71 d=M1236,1618l4-23-3,0-3,23z />
<path color=#21b4ac d=M1233,1649l3-31-2,0-4,32z />
<path color=#37b99e d=M1350,1592l3-32-2,0-4,32z />
<path color=#a5be6b d=M1328,1563l4-1-3,0-3,1z />
<path color=#80bf7a d=M1325,1582l3-19-2,0-4,19z />
<path color=#28b6a7 d=M1321,1604l4-22-3,0-4,22z />
<path color=#59bd8c d=M1307,1591l3-4-2,0-4,4z />
<path color=#37b99e d=M1303,1605l4-14-3,0-3,14z />
<path color=#31b8a2 d=M1292,1606l4-3-3,0-3,4z />
<path color=#7abf7c d=M1267,1605l4-7-3,0-3,7z />
<path color=#cdbb5b d=M1242,1595l4-4-3,0-3,4z />
<path color=#a1be6c d=M1239,1617l3-22-2,0-4,23z />
<path color=#2bb6a6 d=M1235,1649l4-32-3,1-3,31z />
<path color=#39b99d d=M1352,1596l4-32-3-4-3,32z />
<path color=#a7be6a d=M1331,1568l3-2-2-4-4,1z />
<path color=#82bf79 d=M1327,1587l4-19-3-5-3,19z />
<path color=#2ab6a6 d=M1323,1608l4-21-2-5-4,22z />
<path color=#5bbd8b d=M1309,1595l4-3-3-5-3,4z />
<path color=#39b99d d=M1306,1609l3-14-2-4-4,14z />
<path color=#26b5a9 d=M1302,1608l4,1-3-4-3-1z />
<path color=#31b8a2 d=M1298,1607l4,1-2-4-4-1z />
<path color=#33b8a1 d=M1295,1611l3-4-2-4-4,3z />
<path color=#35b8a0 d=M1291,1610l4,1-3-5-3-1z />
<path color=#7cbf7c d=M1270,1609l3-7-2-4-4,7z />
<path color=#3cba9b d=M1266,1631l4-22-3-4-3,22z />
<path color=#cfbb5a d=M1245,1599l3-4-2-4-4,4z />
<path color=#a3be6c d=M1241,1622l4-23-3-4-3,22z />
<path color=#2db7a5 d=M1238,1653l3-31-2-5-4,32z />
<path color=#3bb99c d=M1355,1596l3-32-2,0-4,32z />
<path color=#a8be69 d=M1333,1567l4-1-3,0-3,2z />
<path color=#85bf78 d=M1330,1586l3-19-2,1-4,19z />
<path color=#2cb7a5 d=M1326,1608l4-22-3,1-4,21z />
<path color=#5dbe89 d=M1312,1595l3-4-2,1-4,3z />
<path color=#3bb99c d=M1308,1609l4-14-3,0-3,14z />
<path color=#35b8a0 d=M1297,1610l4-3-3,0-3,4z />
<path color=#7ebf7b d=M1272,1609l4-7-3,0-3,7z />
<path color=#3eba9a d=M1269,1631l3-22-2,0-4,22z />
<path color=#d0bb59 d=M1247,1599l4-4-3,0-3,4z />
<path color=#a5be6b d=M1244,1621l3-22-2,0-4,23z />
<path color=#2eb7a4 d=M1240,1653l4-32-3,1-3,31z />
<path color=#48bb95 d=M1357,1596l4-32-3,0-3,32z />
<path color=#b3bd65 d=M1336,1567l3-1-2,0-4,1z />
<path color=#91bf73 d=M1332,1586l4-19-3,0-3,19z />
<path color=#37b99e d=M1329,1608l3-22-2,0-4,22z />
<path color=#6bbf83 d=M1314,1595l4-4-3,0-3,4z />
<path color=#47bb95 d=M1311,1609l3-14-2,0-4,14z />
<path color=#41ba99 d=M1300,1610l3-3-2,0-4,3z />
<path color=#8bbf75 d=M1275,1609l3-8-2,1-4,7z />
<path color=#4bbc93 d=M1271,1631l4-22-3,0-3,22z />
<path color=#daba55 d=M1250,1598l3-4-2,1-4,4z />
<path color=#b0be67 d=M1246,1621l4-23-3,1-3,22z />
<path color=#3ab99d d=M1243,1653l3-32-2,0-4,32z />
<path color=#33b8a1 d=M1360,1610l3-32-2-14-4,32z />
<path color=#75bf7e d=M1342,1580l3,18-2-15-4-17z />
<path color=#a1be6c d=M1338,1582l4-2-3-14-3,1z />
<path color=#7cbf7c d=M1335,1601l3-19-2-15-4,19z />
<path color=#25b5aa d=M1331,1623l4-22-3-15-3,22z />
<path color=#36b99f d=M1320,1606l4,13-3-15-3-13z />
<path color=#54bd8e d=M1317,1610l3-4-2-15-4,4z />
<path color=#33b8a1 d=M1313,1623l4-13-3-15-3,14z />
<path color=#2db7a4 d=M1302,1625l4-4-3-14-3,3z />
<path color=#2fb7a3 d=M1299,1624l3,1-2-15-4-1z />
<path color=#3ab99c d=M1295,1623l4,1-3-15-3-1z />
<path color=#27b6a8 d=M1292,1636l3-13-2-15-4,14z />
<path color=#36b99f d=M1274,1645l3-22-2-14-4,22z />
<path color=#afbe67 d=M1256,1609l4,15-3-14-4-16z />
<path color=#cabb5c d=M1252,1613l4-4-3-15-3,4z />
<path color=#9dbe6e d=M1249,1636l3-23-2-15-4,23z />
<path color=#27b5a8 d=M1245,1668l4-32-3-15-3,32z />
<path color=#82bf79 d=M1341,1586l3-1-2-5-4,2z />
<path color=#58bd8c d=M1337,1605l4-19-3-4-3,19z />
<path color=#0eaeba d=M1334,1627l3-22-2-4-4,22z />
<path color=#079ecf d=M1266,1653l3,17-2-4-4-18z />
<path color=#afbe67 d=M1255,1618l3-4-2-5-4,4z />
<path color=#7dbf7b d=M1251,1641l4-23-3-5-3,23z />
<path color=#10afb8 d=M1248,1672l3-31-2-5-4,32z />
<path color=#78bf7d d=M1340,1593l3-19-2,12-4,19z />
<path color=#22b4ac d=M1336,1615l4-22-3,12-3,22z />
<path color=#0997d1 d=M1272,1658l3-1-2,12-4,1z />
<path color=#06a7c6 d=M1268,1641l4,17-3,12-3-17z />
<path color=#9abf6f d=M1254,1628l3-23-2,13-4,23z />
<path color=#24b5aa d=M1250,1660l4-32-3,13-3,31z />
<path color=#72bf80 d=M1367,1592l4-31-3,10-3,32z />
<path color=#b3bd65 d=M1342,1583l4-19-3,10-3,19z />
<path color=#5fbe89 d=M1339,1605l3-22-2,10-4,22z />
<path color=#24b5aa d=M1271,1630l3,18-2,10-4-17z />
<path color=#cebb5a d=M1256,1618l4-23-3,10-3,23z />
<path color=#62be87 d=M1253,1650l3-32-2,10-4,32z />
<path color=#83bf79 d=M1370,1600l3-31-2-8-4,31z />
<path color=#deba53 d=M1348,1572l4-1-3-8-3,1z />
<path color=#c0bc60 d=M1345,1591l3-19-2-8-4,19z />
<path color=#71bf80 d=M1341,1613l4-22-3-8-3,22z />
<path color=#42bb98 d=M1334,1609l4,11-3-8-4-11z />
<path color=#a2be6c d=M1327,1600l3-4-2-8-4,4z />
<path color=#83bf79 d=M1323,1614l4-14-3-8-3,13z />
<path color=#6cbf82 d=M1320,1613l3,1-2-9-4-1z />
<path color=#7abf7c d=M1316,1611l4,2-3-9-3-1z />
<path color=#7cbf7c d=M1313,1615l3-4-2-8-4,4z />
<path color=#75bf7f d=M1302,1627l3-14-2-8-4,13z />
<path color=#51bc90 d=M1298,1631l4-4-3-9-3,4z />
<path color=#bbbd62 d=M1287,1614l4-8-2-8-4,7z />
<path color=#febf3c d=M1262,1603l4-4-2-8-4,4z />
<path color=#dbba55 d=M1259,1626l3-23-2-8-4,23z />
<path color=#74bf7f d=M1255,1658l4-32-3-8-3,32z />
<path color=#43bb97 d=M1372,1623l4-32-3-22-3,31z />
<path color=#20b4ad d=M1358,1611l4,24-3-23-4-24z />
<path color=#87bf77 d=M1354,1593l4,18-3-23-3-17z />
<path color=#afbe67 d=M1351,1595l3-2-2-22-4,1z />
<path color=#8cbf75 d=M1347,1614l4-19-3-23-3,19z />
<path color=#47bb95 d=M1333,1619l3,13-2-23-4-13z />
<path color=#66be85 d=M1329,1623l4-4-3-23-3,4z />
<path color=#43bb97 d=M1326,1636l3-13-2-23-4,14z />
<path color=#3cba9b d=M1315,1638l4-4-3-23-3,4z />
<path color=#32b8a1 d=M1297,1640l4,13-3-22-3-14z />
<path color=#75bf7e d=M1294,1629l3,11-2-23-4-11z />
<path color=#86bf77 d=M1290,1636l4-7-3-23-4,8z />
<path color=#5fbe89 d=M1272,1637l4,24-3-22-3-25z />
<path color=#bcbd62 d=M1269,1622l3,15-2-23-4-15z />
<path color=#d7ba57 d=M1265,1626l4-4-3-23-4,4z />
<path color=#acbe68 d=M1261,1649l4-23-3-23-3,23z />
<path color=#36b89f d=M1258,1681l3-32-2-23-4,32z />
<path color=#07aac2 d=M1375,1643l3-32-2-20-4,32z />
<path color=#2eb7a4 d=M1357,1613l3,17-2-19-4-18z />
<path color=#5abd8b d=M1353,1614l4-1-3-20-3,2z />
<path color=#33b8a1 d=M1350,1633l3-19-2-19-4,19z />
<path color=#20b4ad d=M1296,1649l4,11-3-20-3-11z />
<path color=#2db7a4 d=M1293,1656l3-7-2-20-4,7z />
<path color=#6cbf83 d=M1271,1642l4,15-3-20-3-15z />
<path color=#8ebf74 d=M1268,1646l3-4-2-20-4,4z />
<path color=#55bd8d d=M1264,1669l4-23-3-20-4,23z />
<path color=#06a6c7 d=M1260,1700l4-31-3-20-3,32z />
<path color=#069ece d=M1377,1645l4-32-3-2-3,32z />
<path color=#0266e1 d=M1367,1657l3,15-2-2-4-15z />
<path color=#137ed7 d=M1281,1683l3,17-2-2-4-17z />
<path color=#66be85 d=M1270,1648l4-4-3-2-3,4z />
<path color=#2fb7a3 d=M1266,1671l4-23-2-2-4,23z />
<path color=#0899d1 d=M1263,1702l3-31-2-2-4,31z />
<path color=#09abbf d=M1380,1629l3-32-2,16-4,32z />
<path color=#036be0 d=M1373,1655l3-4-2,17-4,4z />
<path color=#0f78db d=M1369,1640l4,15-3,17-3-15z />
<path color=#06a0cd d=M1366,1616l3,24-2,17-4-24z />
<path color=#0e91d2 d=M1348,1648l3-7-2,16-4,8z />
<path color=#06a8c5 d=M1312,1655l3-14-2,17-4,13z />
<path color=#118ed2 d=M1290,1683l4-19-3,16-3,19z />
<path color=#137ed7 d=M1287,1684l3-1-2,16-4,1z />
<path color=#0f90d2 d=M1283,1667l4,17-3,16-3-17z />
<path color=#5cbe8a d=M1269,1654l4-22-3,16-4,23z />
<path color=#06a8c5 d=M1265,1686l4-32-3,17-3,31z />
<path color=#06a7c5 d=M1379,1628l3-23-2,24-4,22z />
<path color=#0b95d2 d=M1375,1632l4-4-3,23-3,4z />
<path color=#06a2cc d=M1372,1617l3,15-2,23-4-15z />
<path color=#33b8a1 d=M1368,1593l4,24-3,23-3-24z />
<path color=#12afb7 d=M1293,1659l4-18-3,23-4,19z />
<path color=#06a6c7 d=M1289,1661l4-2-3,24-3,1z />
<path color=#16b1b4 d=M1286,1643l3,18-2,23-4-17z />
<path color=#4cbc92 d=M1268,1663l3-32-2,23-4,32z />
<path color=#babd63 d=M1385,1591l3-32-2,15-4,31z />
<path color=#46bb96 d=M1381,1614l4-23-3,14-3,23z />
<path color=#33b8a1 d=M1374,1603l4,15-3,14-3-15z />
<path color=#acbe68 d=M1356,1603l4-21-3,14-3,22z />
<path color=#bcbd62 d=M1299,1626l4-22-3,15-3,22z />
<path color=#72bf80 d=M1288,1629l4,17-3,15-3-18z />
<path color=#ffc338 d=M1274,1617l4-23-3,14-4,23z />
<path color=#aebe67 d=M1270,1648l4-31-3,14-3,32z />
<path color=#d4bb58 d=M1387,1596l4-32-3-5-3,32z />
<path color=#6bbe83 d=M1384,1619l3-23-2-5-4,23z />
<path color=#33b8a1 d=M1380,1623l4-4-3-5-3,4z />
<path color=#f9d528 d=M1366,1567l4-1-3-5-4,2z />
<path color=#ffc238 d=M1362,1586l4-19-3-4-3,19z />
<path color=#c7bc5d d=M1359,1608l3-22-2-4-4,21z />
<path color=#94bf71 d=M1355,1616l4-8-3-5-3,8z />
<path color=#ecb94c d=M1344,1595l4-4-2-4-4,3z />
<path color=#d4bb58 d=M1341,1609l3-14-2-5-4,14z />
<path color=#c3bc5f d=M1337,1608l4,1-3-5-3-1z />
<path color=#cdbb5b d=M1334,1607l3,1-2-5-4-1z />
<path color=#cfbb5a d=M1330,1610l4-3-3-5-3,4z />
<path color=#d0bb59 d=M1327,1609l3,1-2-4-4-1z />
<path color=#daba55 d=M1323,1608l4,1-3-4-4-1z />
<path color=#cabb5c d=M1319,1622l4-14-3-4-3,13z />
<path color=#afbe67 d=M1316,1626l3-4-2-5-4,4z />
<path color=#febf3c d=M1305,1609l4-7-3-5-3,7z />
<path color=#d7ba57 d=M1302,1631l3-22-2-5-4,22z />
<path color=#8ebf74 d=M1298,1650l4-19-3-5-4,19z />
<path color=#66be85 d=M1294,1651l4-1-3-5-3,1z />
<path color=#f6f313 d=M1280,1599l4-4-3-5-3,4z />
<path color=#fad329 d=M1277,1621l3-22-2-5-4,23z />
<path color=#c9bb5c d=M1273,1653l4-32-3-4-4,31z />
<path color=#a9be69 d=M1390,1619l3-31-2-24-4,32z />
<path color=#33b8a1 d=M1386,1642l4-23-3-23-3,23z />
<path color=#0cadbb d=M1383,1646l3-4-2-23-4,4z />
<path color=#22b4ac d=M1379,1631l4,15-3-23-3-16z />
<path color=#84bf78 d=M1376,1607l3,24-2-24-4-24z />
<path color=#dbba55 d=M1372,1590l4,17-3-24-3-17z />
<path color=#fbbc41 d=M1368,1591l4-1-2-24-4,1z />
<path color=#e0ba53 d=M1365,1610l3-19-2-24-4,19z />
<path color=#9abf6f d=M1361,1632l4-22-3-24-3,22z />
<path color=#5cbe8a d=M1358,1639l3-7-2-24-4,8z />
<path color=#6fbf81 d=M1354,1628l4,11-3-23-3-12z />
<path color=#acbe68 d=M1351,1615l3,13-2-24-4-13z />
<path color=#c4bc5f d=M1347,1619l4-4-3-24-4,4z />
<path color=#a9be69 d=M1343,1633l4-14-3-24-3,14z />
<path color=#96bf71 d=M1340,1632l3,1-2-24-4-1z />
<path color=#a1be6c d=M1336,1630l4,2-3-24-3-1z />
<path color=#a3be6c d=M1333,1634l3-4-2-23-4,3z />
<path color=#a5be6b d=M1329,1633l4,1-3-24-3-1z />
<path color=#b0be67 d=M1326,1632l3,1-2-24-4-1z />
<path color=#9dbe6e d=M1322,1646l4-14-3-24-4,14z />
<path color=#7dbf7b d=M1318,1650l4-4-3-24-3,4z />
<path color=#9abf6f d=M1315,1636l3,14-2-24-4-13z />
<path color=#cebb5a d=M1311,1625l4,11-3-23-3-11z />
<path color=#dbba55 d=M1308,1633l3-8-2-23-4,7z />
<path color=#acbe68 d=M1304,1655l4-22-3-24-3,22z />
<path color=#55bd8d d=M1301,1674l3-19-2-24-4,19z />
<path color=#2fb7a3 d=M1297,1675l4-1-3-24-4,1z />
<path color=#5cbe8a d=M1293,1658l4,17-3-24-3-17z />
<path color=#bebc61 d=M1290,1633l3,25-2-24-4-24z />
<path color=#ffc338 d=M1286,1618l4,15-3-23-3-15z />
<path color=#fad329 d=M1283,1622l3-4-2-23-4,4z />
<path color=#f9bb44 d=M1279,1645l4-23-3-23-3,22z />
<path color=#9dbf6e d=M1275,1677l4-32-2-24-4,32z />
<path color=#33b8a1 d=M1392,1652l4-32-3-32-3,31z />
<path color=#089bd0 d=M1389,1675l3-23-2-33-4,23z />
<path color=#1483d5 d=M1385,1679l4-4-3-33-3,4z />
<path color=#0e92d2 d=M1382,1664l3,15-2-33-4-15z />
<path color=#14b0b5 d=M1378,1640l4,24-3-33-3-24z />
<path color=#75bf7f d=M1375,1622l3,18-2-33-4-17z />
<path color=#a0be6d d=M1371,1624l4-2-3-32-4,1z />
<path color=#7bbf7c d=M1367,1643l4-19-3-33-3,19z />
<path color=#24b5aa d=M1364,1664l3-21-2-33-4,22z />
<path color=#06a8c5 d=M1360,1672l4-8-3-32-3,7z />
<path color=#09acbe d=M1357,1661l3,11-2-33-4-11z />
<path color=#36b99f d=M1353,1647l4,14-3-33-3-13z />
<path color=#53bd8f d=M1350,1651l3-4-2-32-4,4z />
<path color=#32b8a1 d=M1346,1665l4-14-3-32-4,14z />
<path color=#21b4ac d=M1342,1664l4,1-3-32-3-1z />
<path color=#2bb6a6 d=M1339,1663l3,1-2-32-4-2z />
<path color=#2db7a5 d=M1335,1667l4-4-3-33-3,4z />
<path color=#2eb7a4 d=M1332,1666l3,1-2-33-4-1z />
<path color=#3ab99d d=M1328,1664l4,2-3-33-3-1z />
<path color=#27b5a8 d=M1324,1678l4-14-2-32-4,14z />
<path color=#10afb8 d=M1321,1682l3-4-2-32-4,4z />
<path color=#24b5aa d=M1317,1669l4,13-3-32-3-14z />
<path color=#62be87 d=M1314,1658l3,11-2-33-4-11z />
<path color=#74bf7f d=M1310,1665l4-7-3-33-3,8z />
<path color=#36b89f d=M1307,1687l3-22-2-32-4,22z />
<path color=#06a6c7 d=M1303,1706l4-19-3-32-3,19z />
<path color=#0899d1 d=M1299,1707l4-1-2-32-4,1z />
<path color=#06a8c5 d=M1296,1690l3,17-2-32-4-17z />
<path color=#4cbc92 d=M1292,1666l4,24-3-32-3-25z />
<path color=#aebe67 d=M1289,1651l3,15-2-33-4-15z />
<path color=#c9bb5c d=M1285,1655l4-4-3-33-3,4z />
<path color=#9dbf6e d=M1282,1678l3-23-2-33-4,23z />
<path color=#27b5a8 d=M1278,1709l4-31-3-33-4,32z /></g>
<text x="307.4" y="362.7" font-size="8.8" textLength="32" lengthAdjust="spacingAndGlyphs">Schwefel</text>
<text class="t" transform="translate(271 401.1) rotate(-90)" font-size="8.5" text-anchor="middle" textLength="42.9" lengthAdjust="spacingAndGlyphs">F8(&#160;x<tspan font-size="6.6" dy="4.2">1</tspan><tspan dy="-4.2">&#160;,&#160;x</tspan><tspan font-size="6.6" dy="4.2">2</tspan><tspan dy="-4.2">&#160;)</tspan></text>
<text x="296.1" y="389.2" font-size="7.7" text-anchor="end" class="t">500</text>
<text x="296.1" y="401" font-size="7.7" text-anchor="end" class="t">0</text>
<text x="296.1" y="412.8" font-size="7.7" text-anchor="end" class="t">-500</text>
<text x="296.1" y="424.1" font-size="7.7" text-anchor="end" class="t">-1000</text>
<text x="295.7" y="432.4" font-size="7.7" text-anchor="end" class="t">500</text>
<text x="304.8" y="441.9" font-size="7.7" text-anchor="middle" class="t">0</text>
<text x="309.7" y="452.1" font-size="7.7" text-anchor="middle" class="t">-500</text>
<text x="330" y="452.8" font-size="7.7" text-anchor="middle" class="t">-500</text>
<text x="338.4" y="444.6" font-size="7.7" text-anchor="middle" class="t">0</text>
<text x="357.2" y="437.3" font-size="7.7" text-anchor="middle" class="t">500</text>
<text class="t" x="282.8" y="455.8" font-size="8.8">x<tspan font-size="6.9" dy="3.7">2</tspan></text>
<text class="t" x="351.7" y="457.6" font-size="8.8">x<tspan font-size="6.9" dy="3.7">1</tspan></text>
<path fill="none" stroke="#c4c4c4" stroke-width="0.8" d="M36.8 492.9L36.8 527.9L63.2 542.8L101.1 531.3"/>
<g transform="scale(.25)" filter="url(#bl)" style="fill:currentColor;stroke:currentColor;stroke-width:2;stroke-linejoin:round"><path fill=none stroke="#2350d0" stroke-width="1.4" opacity="0.85" d="M283,2135l-2,0,2,0M298,2130l-2,1,2-1M313,2125l-2,1,2-1M257,2133l-2,1,2-1M273,2128l-4,2,4-2M289,2124l-5,1,1-2,4,1M303,2119l-4,1,4-1M317,2115l-1,0,1,0M247,2127l-3,1,3-1M263,2122l-5,2,5-2M279,2118l-1,1-5,0,1-2,5,1M293,2113l-5,2,5-2M307,2109l-2,1,2-1M236,2121l-2,1,2-1M252,2116l-4,2,4-2M268,2112l-1,1-4,0,5-1M282,2107l-4,1,4-1M296,2103l-1,1,1-1M240,2111l-1,0,1,0M256,2106l-3,1,3-1M271,2102l-2,0,2,0" />
<path fill=none stroke="#0a73dd" stroke-width="1.4" opacity="0.85" d="M278,2145l0,0M294,2140l-3,1,3-1M310,2136l-5,1,1-2,4,1M324,2131l-3,1,3-1M338,2127l0,0M252,2144l0,0M269,2139l-5,1,1-2,4,1M279,2133l7,1-2,2-6,0,1-3M295,2129l6,0-2,3-6,0,2-3M310,2124l6,1-2,2-6,0,2-3M330,2120l-6,2,1-2,5,0M343,2116l0,0M270,2127l6,0-2,4-7-1,1-3,2,0M285,2122l6,1-1,3-9,0,2-4,2,0M300,2118l6,0-1,4-8-1,1-3,2,0M243,2138l-4,1,4-1M253,2132l7,0-2,3-5,0,0-3M314,2114l6,0-1,3-6-1,1-2M333,2110l-3,1,3-1M243,2126l7,0-2,3-6,0,1-3M259,2121l7,0-2,4-8-1,1-3,2,0M275,2116l6,1-1,4-10-1,2-4,3,0M290,2112l6,0-1,4-9-1,1-3,3,0M304,2108l6,0-1,3-7,0,2-3M233,2131l-5,2,5-2M323,2104l-4,1,4-1M239,2120l-1,3-6,0,1-3,6,0M248,2115l7,1-1,3-8-1,2-3M264,2111l6,0-1,4-9-1,4-3M279,2106l6,0-1,4-9-1,4-3M299,2102l-1,3-6-1,1-2,6,0M222,2126l-4,1,4-1M312,2098l-3,1,3-1M243,2110l-1,3-6-1,1-2,6,0M259,2105l-1,3-7,0,1-3,7,0M273,2101l0,2-7,0,2-2,5,0M210,2120l0,0M227,2115l-1,2-4-1,5-1M287,2097l0,1-5,0,5-1M301,2093l0,0M214,2110l0,0M231,2105l-4,1,4-1M246,2100l0,2-4-1,4-1M261,2095l-4,1,4-1M275,2091l0,0" />
<path fill=none stroke="#138ad3" stroke-width="1.4" opacity="0.85" d="M289,2151l-2,1,2-1M305,2146l-4,1,4-1M320,2142l-4,1,0-2,4,1M335,2137l-4,1,4-1M349,2133l-1,0,1,0M291,2139l6,0-2,3-7,0,1-3,2,0M306,2134l6,1-2,3-7,0,1-4,2,0M321,2130l6,0-2,3-7,0,1-3,2,0M264,2150l-3,0,3,0M275,2144l6,0-2,3-5-1,1-2M335,2126l6,0-1,2-6,0,1-2M354,2122l-3,1,3-1M266,2137l6,1-2,3-8,0,1-4,3,0M282,2132l6,1-2,4-10,0,1-5,5,0M298,2128l6,0-3,5-11-1,2-5,6,1M312,2123l6,1-2,4-11,0,2-5,5,0M326,2119l6,1-1,3-10,0,2-4,3,0M237,2148l-1,1,1-1M255,2143l-1,2-5,0,0-2,6,0M345,2116l0,2-7,0,2-3,5,1M358,2112l-1,0,1,0M239,2136l7,1-2,3-7-1,2-3M256,2131l7,0-3,5-10-1,1-4,5,0M281,2105l7,1-2,5,12,1-2,5,13,1-3,5-12-1-2,5-13,0-3,5-6-1-6,0,2-5-13-1,2-5-12-1,2-5,12,1,3-5,13,0,2-5,6,0M317,2113l5,0-1,5-11-1,2-4,5,0M330,2109l6,0-1,3-8,0,3-3M228,2142l-4,1,4-1M349,2105l-4,2,4-2M269,2121l-3,5,13,1,1-5-11-1M284,2116l-2,5,12,1,2-5-12-1M229,2130l7,0-2,4-8-1,1-3,2,0M246,2125l7,0-3,5-11-1,2-4,5,0M306,2107l6,0-1,5-12-1,2-4,5,0M320,2103l6,0-1,4-9-1,4-3M218,2136l-5,1,5-1M338,2099l-4,2,4-2M258,2115l-2,5,12,0,2-4-12-1M273,2110l-2,5,12,1,2-5-12-1M218,2125l7,0-2,3-7-1,2-2M235,2119l7,1-2,4-11-1,2-4,4,0M295,2101l6,0-1,5-11-1,2-4,4,0M309,2097l6,0-1,3-9,0,4-3M207,2130l-4,1,4-1M327,2094l-3,1,3-1M223,2114l7,0-2,4-8-1,3-3M239,2109l7,0-2,5-11-1,2-4,4,0M255,2104l6,0-1,5-12,0,2-5,5,0M269,2100l7,0-1,5-12-1,3-4,3,0M283,2095l7,1-1,4-10-1,4-4M195,2125l-2,0,2,0M213,2119l-1,3-6-1,1-2,6,0M303,2092l0,2-7,0,2-3,5,1M316,2088l-2,0,2,0M218,2109l-1,2-6,0,1-2,6,0M226,2104l8,0-1,3-8-1,1-2M242,2099l7,0-1,4-9-1,3-3M257,2094l7,1-1,3-8-1,2-3M278,2090l-1,3-6-1,1-2,6,0M200,2114l-3,1,3-1M291,2086l-3,1,3-1M204,2104l-1,0,1,0M220,2099l-3,1,3-1M236,2094l0,2-5-1,5-1M250,2089l-3,2,3-2M265,2085l-2,1,2-1" />
<path fill=none stroke="#06a3ca" stroke-width="1.4" opacity="0.85" d="M298,2157l0,0M312,2153l3-1M327,2149l3-1M342,2144l3-1M359,2139l0,0M302,2145l6,0-2,3-8,0,1-3,3,0M317,2140l6,1-2,3-8,0,1-4,3,0M332,2136l6,0-2,3-8,0,1-4,3,1M274,2155l-3,1,3-1M286,2150l6,0-2,3-5-1,1-2M346,2131l6,1-2,2-6,0,2-3M365,2128l-3,1,3-1M278,2143l6,0-3,5-9-1,0-4,6,0M259,2094l7,0-1,5,12,0,3-5,12,1-1,5,12,1,3-5,11,1-1,5,12,1-1,5,11,1-1,4-12,0-2,5,11,1-2,5-12,0-2,4,12,2-3,4-12,0-3,5-12,0-3,4-12,0,1-5-11,0-3,4-13,0,1-5-11-1-3,5-11-1,1-5-12-1,1-5-12-1,2-4,12,0,2-5-12-1,2-5,12,0,3-5-12-1,3-4,12,0,3-5,12,0,3-5,4,1M338,2125l5,0-1,4-11,0,2-5,5,1M249,2154l-4,1,4-1M261,2148l6,1-2,3-7-1,1-3,2,0M351,2121l6,0-1,3-8,0,3-3M369,2117l-3,1,3-1M291,2133l-3,5,12,1,1-5-10-1M306,2129l-3,4,12,1,2-5-11,0M252,2142l7,0-4,4-9,0,1-5,5,1M342,2114l6,1-2,4-11,0,3-5,4,0M221,2153l0,0M234,2147l7,0-3,3-5,0,1-3M355,2110l5,1,0,2-7,0,2-3M373,2107l0,0M265,2132l-2,4,10,1,1-4-9-1M281,2128l-2,3,9,1,1-4-8,0M296,2123l-2,4,9,0,1-4-8,0M311,2118l-2,4,10,1,2-4-10-1M224,2141l7,0-2,3-7,0,0-3,2,0M345,2104l6,1-1,3-9,0,4-4M210,2147l1,1M363,2102l-2-1M239,2130l-3,5,12,1,1-5-10-1M255,2126l-2,4,9,0,1-3-8-1M271,2122l-2,3,8,0,1-3-7,0M286,2117l-2,3,8,1,1-3-7-1M300,2113l-1,3,8,1,2-4-9,0M314,2107l-1,5,11,1,3-5-13-1M214,2135l7,0-2,4-8-1,1-3,2,0M335,2098l6,1-1,3-10,0,5-4M199,2141l3,0-1,1M353,2096l-4,0,1-1M228,2124l-3,5,12,0,1-4-10-1M244,2120l-2,4,9,0,1-3-8-1M260,2116l-1,3,7,0,1-3-7,0M275,2111l-1,3,7,1,2-3-8-1M290,2106l-1,4,8,0,2-3-9-1M304,2101l-1,5,10,0,3-4-12-1M203,2129l7,0-2,4-7-1,2-3M324,2092l6,1-1,3-9,0,4-4M189,2135l1,1M342,2090l-2-1M233,2114l-2,4,10,0,2-3-10-1M249,2110l-2,3,9,1,1-4-8,0M264,2105l-1,4,8,0,2-3-9-1M278,2100l-1,4,9,1,3-4-11-1M198,2124l-1,2-6,0,1-2,6,0M209,2118l7,0-2,5-10-1,1-4,4,0M299,2091l6,0,0,4-12,0,3-5,3,1M318,2087l0,3-7-1,2-2,5,0M179,2129l0,1M331,2084l-1-1M237,2103l-2,5,11,0,2-4-11-1M252,2098l-1,5,10,1,3-5-12-1M204,2113l-2,3-7-1,1-2,8,0M213,2108l8,0-2,5-11-2,2-3,3,0M273,2089l7,1-1,4-11-1,3-4,2,0M293,2086l0,3-8-1,2-3,6,1M185,2118l-3,1,3-1M306,2082l-3,1,3-1M207,2103l-1,2-6,0,1-2,6,0M216,2098l7,0-1,3-8-1,2-2M231,2093l8,0-1,4-9-1,2-3M246,2088l7,1,0,3-9-1,2-3M267,2084l0,3-7,0,2-3,5,0M190,2108l-3,1,3-1M280,2080l-3,1,3-1M193,2098l0,0M209,2093l-2,1M225,2088l-4,1M239,2084l-2,0M253,2079l0,0" />
<path fill=none stroke="#1ab2b1" stroke-width="1.4" opacity="0.85" d="M282,2162l2,0M296,2158l0-2,5,0M310,2154l0-3,8,1M324,2150l1-4,8,1M340,2145l0-3,8,0M356,2140l0-2,6,0M373,2135l2-1M263,2083l7,1-1,4,13,1,3-5,11,1-1,5,13,0,3-4,10,1-1,4-12-1-1,5,10,1,4-5,11,1-1,5,12,1-1,5,11,1-1,5-12,0-1,4,11,1,3-5,10,1-1,4-12,0-2,5,11,2-2,4-11,0-3,5,11,1-2,4-11,0,2-5-12,0-2,4,11,2-3,4-11,0-3,5-12,0-4,4-11,0,0-5-10,0-3,4,12,1-4,4-9,0,0-5-12,0-4,4-10,0,0-5-12-1-4,5-9-1,0-4,13,0,0-4-10-1-3,5-11-1,0-5-11-1,1-5-12-1,2-5,11,0,2-4-11-1-3,5-10-2,1-3,12,0,1-6-10-1,1-4,12,0,2-5-10-2,2-3,10,0-1,5,11,0,2-4-11-2,3-4,12,0,3-5,12,0,3-4,12,0-1,5,11,0,3-5-12-1,3-4,3,0M260,2160l-4,1,4-1M271,2154l7,0-3,3-6,0,0-3,2,0M362,2127l5,0-1,3-8,0,2-4,2,1M380,2123l-3,1,3-1M302,2140l-3,3,11,1,1-4-9,0M317,2135l-3,4,12,1,1-5-10,0M246,2153l6,0-3,3-6,0,0-3,3,0M366,2116l6,1-1,2-8,1,2-4,1,0M231,2159l1,1M384,2114l-2-1M261,2143l-4,4,12,1,1-5-9,0M277,2139l-2,3,8,0,1-3-7,0M292,2134l-1,3,7,0,0-3-6,0M314,2130l-7,0-1,2,7,1,1-3M322,2125l-1,3,8,0,1-3-8,0M336,2120l-1,3,10,2,2-5-11,0M219,2152l6,0-2,2M375,2108l-6,0,2-2M251,2137l-2,3,8,1,1-3-7-1M327,2114l-1,3,7,1,2-4-8,0M267,2133l-1,2,5,1,1-3-5,0M283,2129l-1,1,4,1,0-2-3,0M298,2124l-1,2,4,0,1-2-4,0M312,2119l0,2,5,1,1-3-6,0M208,2146l8,0-3,3M365,2103l-8,0,2-3M224,2135l-3,5,11,0,1-4-9-1M241,2131l-2,3,7,0,1-2-6-1M322,2109l-6-1,0,3,6,0,0-2M330,2103l-1,4,9,1,4-5-12,0M257,2127l-1,2,4-1-3-1M272,2123l3,0-3,0M288,2119l2,0-2,0M302,2114l0,1,3,0,1-1-4,0M197,2140l9,0-3,3M355,2097l-9,0,3-3M213,2129l-3,5,12,0,1-4-10-1M319,2097l-1,4,10,1,3-5-12,0M230,2125l-2,3,7,0,1-2-6-1M246,2121l-1,2,5-1-4-1M262,2117l2,0-2,0M277,2113l3,0-3,0M292,2108l-1,1,4,0,1-1-4,0M306,2102l-1,3,6,0,2-2-7-1M187,2134l8,0-3,3M344,2091l-8,0,2-3M219,2119l-2,4,8,0,1-3-7-1M294,2096l0,3,7,1,2-4-9,0M235,2115l-1,2,5,0,1-1-5-1M251,2111l-1,1,5-1-4,0M266,2106l-1,2,5-2-4,0M280,2101l0,2,5,1,1-2-6-1M177,2128l6,0-2,3M333,2085l-6,0,2-3M207,2112l-2,5,10,0,2-4-10-1M223,2108l-1,4,7,0,2-3-8-1M269,2095l-1,3,7,0,2-3-8,0M282,2089l0,5,9,0,3-4-12-1M239,2104l-1,3,6,0,2-2-7-1M254,2099l-1,3,6,1,2-3-7-1M181,2117l8,0-2,4-7-1,1-3M302,2081l6,0,0,3-9,0,3-3M168,2123l1,1M321,2078l-2-1M226,2097l-1,5,10,0,2-4-11-1M241,2092l-1,5,10,0,3-4-12-1M193,2107l-1,3-8,0,2-3,7,0M283,2080l0,3-9-1,3-3,6,1M175,2112l-4,1,4-1M296,2076l-4,1,4-1M196,2097l-1,2-5,0M212,2092l0,3-8-1M227,2087l0,4-8-1M242,2083l0,3-8-1M256,2079l0,2-6-1M179,2102l-2,1M269,2075l-2,0" />
<path fill=none stroke="#51bd8f" stroke-width="1.4" opacity="0.85" d="M267,2167l2-1M280,2163l0-3,7,1M293,2159l0-5,11,2M307,2155l0-5-10,0-4,4-12,0-4,4-11,0,0-5-11,0-4,4-10-1,0-4-12-1,0-5-10-1-4,5M322,2150l0-4-10-1-3,5,11,1M337,2146l0-5-10,0-2,4,11,1M367,2104l-12,0-1,4,11,2-2,5,11,1-2,4-11,1-2,4,11,2-2,4-12,0-2,5-12,0-3,4,11,2M353,2141l1-5,10,1M370,2136l1-4,6,1M388,2130l2,0M241,2165l2,1M257,2159l6,0-3,3-6,0,0-4,3,1M377,2122l5,1-1,2-8,1,2-4,2,0M394,2120l-1-1M272,2149l-4,4,12,0,0-4-8,0M288,2145l-2,2,7,1,1-3-6,0M303,2140l-1,3,6,0,0-2-5-1M318,2136l-1,2,6,1,1-3-6,0M339,2131l-6,0-1,2,7,1,0-3M347,2126l-1,3,9,1,2-4-10,0M229,2158l8,0-3,3M386,2115l-8,0,2-3M246,2147l-4,4,12,1,0-4-8-1M352,2115l-1,4,9,1,2-5-10,0M262,2144l-1,2,6,0,0-2-5,0M278,2140l0,1,3,0-3-1M294,2135l1,1-1-1M309,2131l2,0-2,0M324,2126l3,0-3,0M338,2121l-1,2,6,0,1-2-6,0M217,2151l12,0-4,4M376,2109l-11,1,3-5M236,2142l-2,3,8,0,0-3-6,0M348,2110l-6,0-1,2,7,1,2-3-2,0M253,2138l-1,1,3,1-2-2M269,2134l0,0M314,2120l0,0M328,2115l4,0-4,0M206,2145l11,0,1-4-9-1-4,4M357,2098l-12,0-1,4,10,1,3-4M226,2136l-2,3,6,0,1-2-5-1M243,2133l1,0-1,0M318,2110l2,0-2,0M338,2104l-6,0-1,2,5,1,2-3M195,2139l12,0,0-4-9-1-4,4M346,2092l-12,0,0,4,9,1,4-4M215,2130l-2,3,7,0,0-2-5-1M232,2127l1,0-1,0M308,2104l2,0-2,0M327,2098l-6,0,0,2,5,1,1-3M185,2133l11,0,2-5-11-1,1-5-10-1,1-5,11,0,2-4-10-2,2-4,11,0,3-5,12,0,2-5-11-1M245,2082l-1,5,11,0,4-5,12,1,4-5,10,1,0,4,12,1,3-4,11,0,0,5,12,1-1,5,11,0,4-4M204,2124l-2,3,8,0,0-2-6-1M221,2120l-1,2,4-2-3,0M237,2116l0,0M283,2102l0,0M297,2097l3,0-3,0M310,2092l0,2,6,1,2-3-8,0M175,2127l11,0-3,5M335,2086l-12,0,4-5M192,2117l-2,5,10,0,1-4-9-1M298,2085l0,4,8,0,3-4-11,0M209,2114l-1,2,6,0,0-2-5,0M225,2110l0,1,3-1-3,0M241,2105l2,1-2-1M256,2101l2,0-2,0M271,2096l3,0-3,0M285,2091l-1,2,5,0,2-2-6,0M166,2122l7,0-2,3M323,2079l-8,0,3-3M196,2106l-1,5,9,0,2-3-10-2M272,2083l0,5,8,0,3-4-11-1M213,2103l-1,3,6,0,2-3-7,0M228,2098l0,3,5,0,1-2-6-1M244,2094l-1,2,5,0,2-2-6,0M258,2089l0,3,6,0,2-3-8,0M178,2111l-1,4-8-1,1-3,8,0M298,2075l0,3-9,0,3-3,6,0M157,2117l2,1M310,2072l-1-1M215,2091l-1,5,10,0,3-4-11-1M230,2086l0,5,9,0,3-4-11-1M182,2101l-1,3-7-1M199,2096l-1,5-10-2M258,2078l0,4-11-1M272,2074l0,3-8-1M164,2107l-3,0M285,2070l-3,1" />
<path fill=none stroke="#92bf72" stroke-width="1.4" opacity="0.85" d="M252,2171l1,0M265,2168l-1-3,9,0M277,2164l0-5-11,0-4,4-7,0-4-1,0-4-11-1-4,4M291,2160l0-5-9,0-3,4,12,1M304,2151l-6,0-2,3,8,0,0-3M314,2146l-2,3,7,0,0-3-5,0M329,2142l-2,2,7,1,1-3-6,0M349,2137l-5,0-2,3,8,1-1-4M367,2137l1-5-10,0-2,3,10,2M387,2115l-11,1-2,5,11,1-1,3-1,1-11,1-3,4,11,2M384,2131l2-3,6,1M404,2125l0,0M239,2163l8,1-3,3M396,2121l-7,0,2-4M257,2154l-3,3,10,1,0-4-7,0M363,2121l-1,3,8,2,2-5-9,0M273,2150l-1,2,5,0,0-2-4,0M289,2146l2,1-2-1M305,2141l0,0M320,2137l0,0M335,2132l2,0-2,0M349,2127l-1,2,5,0,1-2-5,0M226,2156l13,1,0-4-9-1-4,4M378,2110l-11,1-1,3,9,1,3-5M247,2148l-1,2,5,1,0-2-4-1M264,2145l0,0M340,2122l0,0M354,2116l-1,2,4,0,2-2-5,0M221,2146l-3,4,9,0,0-3-6-1M357,2105l-1,3,7,0,2-3-8,0M238,2143l2,1-2-1M344,2111l2,0-2,0M210,2141l-2,2,7,1,1-3-6,0M228,2137l0,0M334,2105l0,0M353,2099l-6,0-1,3,6,0,1-3M200,2135l-2,3,7-1,0-2-5,0M217,2131l0,0M323,2099l0,0M342,2093l-6,0,0,3,5,0,1-3M188,2128l-2,4,9,0,0-3-7-1M325,2087l0,3,6,0,3-3-9,0M206,2125l2,0-2,0M312,2093l3,0-3,0M174,2127l11-1,1-3-9-1-3,4M325,2080l-12,0,0,4,8,1,4-4M194,2118l-1,3,5,0,1-2-5-1M211,2115l0,0M287,2092l0,0M300,2086l0,2,4,0,2-2-6,0M164,2121l11,0,2-5-10-1,1-3,1-1,11-1,2-4-10-2M181,2111l-1,5,9-1,1-3-9-1M288,2079l0,4,7,0,3-3-10-1M274,2073l0,5,12,0,4-4,4,0,6,0,0,5,12,1,4-5M199,2108l-1,2,5-2-4,0M215,2104l2,0-2,0M231,2100l0,0M246,2095l0,0M261,2090l2,0-2,0M274,2085l0,2,6-2-6,0M156,2116l7,0-2,3M313,2073l-9,0,3-3M185,2100l-1,5,10,0,2-3-11-2M261,2077l0,5,8,0,4-4-12-1M202,2096l-1,4,7,0,2-3-8-1M218,2092l-1,3,6,0,1-2-6-1M233,2087l-1,3,6,0,1-2-6-1M247,2082l0,4,6,0,3-3-9-1M167,2106l-1,3-7-1M287,2069l0,3-8,0M148,2111l0,1M299,2066l-1,0" />
<path fill=none stroke="#c7bc5d" stroke-width="1.4" opacity="0.85" d="M250,2170l7,0M262,2168l0-4-12-1-4,4M267,2160l-3,3,11,1,0-4-8,0M284,2156l-2,2,6,0,0-2-4,0M359,2133l0,2,5,0,1-2-6,0M373,2127l-1,3,9,2,2-5-10,0M398,2121l-11,1-2,5,10,1M400,2126l1-2M300,2152l2,1-2-1M315,2147l0,0M330,2143l0,0M345,2138l2,1-2-1M241,2158l-3,4,11,1,0-4-8-1M378,2117l-1,3,9,1,2-5-10,1M258,2155l-1,1,5,0,0-1-4,0M364,2122l0,2,4,0,1-2-5,0M232,2153l-2,2,6,0,0-2-4,0M374,2111l-5,1-1,1,5,1,1-3M222,2147l-1,2,4,0-3-2M359,2106l3,0-3,0M212,2142l0,0M349,2100l1,0-1,0M202,2136l0,0M338,2094l2,0-2,0M191,2130l-1,1,3,0-2-1M327,2088l3,0-3,0M179,2123l-2,2,6,0,1-2-5,0M321,2082l-6-1,0,3,4,0,2-2M166,2116l-2,4,10,0,1-3-9-1M303,2074l0,4,7,1,4-4-11-1M184,2113l-1,1,5-1-4,0M290,2080l0,2,3,0,2-1-5-1M154,2115l11,0,2-5-10-1M170,2105l-1,5,9-1,2-3-10-1M277,2073l0,4,7,0,4-3-11-1M289,2069l1,4,11,1,5-5M188,2102l-1,2,5,0,1-2-5,0M204,2098l3,0-3,0M220,2094l1,0-1,0M235,2089l2,0-2,0M250,2084l3,0-3,0M263,2079l0,2,5,0,2-2-7,0M151,2110l-1,3M302,2067l-7,0" />
<path fill=none stroke="#f5ba47" stroke-width="1.4" opacity="0.85" d="M252,2164l-4,4,12,1,0-4-8-1M388,2123l-1,3,10,1,2-5-11,1M269,2161l-2,1,6,1-1-2-3,0M285,2157l0,0M361,2134l0,0M375,2128l-1,2,5,0,0-2-4,0M243,2159l-2,2,6,0,0-2-4,0M379,2118l0,1,4,1,1-2-5,0M234,2154l0,0M370,2113l0,0M181,2124l0,0M317,2083l0,0M168,2117l-1,2,6-1-5-1M305,2076l0,1,4,1,1-2-5,0M155,2109l-2,5,10,0,2-3-10-2M291,2068l1,4,8,1,4-4-13-1M173,2106l-1,3,5-2-4-1M190,2103l0,0M266,2080l0,0M279,2074l0,2,5-1-5-1" />
<path fill=none stroke="#f9d429" stroke-width="1.4" opacity="0.85" d="M254,2165l-3,2,7,0-1-2-3,0M390,2124l-1,1,5,1,1-3-5,1M158,2111l-2,2,6-1-4-1M294,2069l0,3,4,0,2-2-6-1" />
<path color=#e3b951 d=M290,1964l4-22-3,12-4,22z />
<path color=#8fbf74 d=M286,1987l4-23-3,12-3,22z />
<path color=#4ebc91 d=M271,2003l4-21-3,12-4,21z />
<path color=#84bf78 d=M260,1996l4-20-3,11-4,21z />
<path color=#62be87 d=M245,2007l3-20-2,12-4,20z />
<path color=#12afb7 d=M241,2027l4-20-3,12-4,19z />
<path color=#52bd8f d=M229,2014l4-19-2,12-4,19z />
<path color=#54bd8e d=M214,2018l4-18-3,12-3,18z />
<path color=#8fbf74 d=M161,2003l4,20-3,12-3-20z />
<path color=#f1b94a d=M154,1998l3-15-2,12-4,15z />
<path color=#c0bc60 d=M150,2012l4-14-3,12-4,14z />
<path color=#fdca31 d=M293,1952l3-22-2,12-4,22z />
<path color=#e2b951 d=M278,1970l3-22-2,12-4,22z />
<path color=#92bf72 d=M274,1991l4-21-3,12-4,21z />
<path color=#bdbd61 d=M262,1984l4-20-2,12-4,20z />
<path color=#64be86 d=M259,2005l3-21-2,12-4,21z />
<path color=#a2be6c d=M247,1995l4-20-3,12-3,20z />
<path color=#46bb95 d=M243,2015l4-20-2,12-4,20z />
<path color=#95bf71 d=M232,2002l4-19-3,12-4,19z />
<path color=#3cba9b d=M228,2021l4-19-3,12-3,19z />
<path color=#a8be6a d=M202,2006l4-17-3,12-4,17z />
<path color=#f1b94a d=M152,2000l4-14-2,12-4,14z />
<path color=#e3b951 d=M303,1965l4,12-3-23-4-12z />
<path color=#fdca31 d=M299,1953l4,12-3-23-4-12z />
<path color=#fec03a d=M295,1975l4-22-3-23-3,22z />
<path color=#b7bd64 d=M292,1997l3-22-2-23-4,23z />
<path color=#a9be69 d=M288,1984l4,13-3-22-4-13z />
<path color=#dfba53 d=M284,1971l4,13-3-22-4-14z />
<path color=#d4bb58 d=M280,1993l4-22-3-23-3,22z />
<path color=#7fbf7a d=M276,2014l4-21-2-23-4,21z />
<path color=#72bf80 d=M273,2000l3,14-2-23-4-13z />
<path color=#b6bd64 d=M269,1986l4,14-3-22-4-14z />
<path color=#adbe68 d=M265,2007l4-21-3-22-4,20z />
<path color=#4fbc90 d=M261,2028l4-21-3-23-3,21z />
<path color=#46bb95 d=M257,2013l4,15-2-23-4-15z />
<path color=#97bf70 d=M254,1998l3,15-2-23-4-15z />
<path color=#91bf73 d=M250,2018l4-20-3-23-4,20z />
<path color=#34b8a0 d=M246,2038l4-20-3-23-4,20z />
<path color=#30b7a2 d=M242,2022l4,16-3-23-3-16z />
<path color=#85bf78 d=M238,2006l4,16-2-23-4-16z />
<path color=#83bf79 d=M235,2025l3-19-2-23-4,19z />
<path color=#2bb6a6 d=M231,2044l4-19-3-23-4,19zM227,2027l4,17-3-23-4-16z />
<path color=#83bf79 d=M223,2011l4,16-3-22-3-17z />
<path color=#85bf78 d=M220,2029l3-18-2-23-4,18z />
<path color=#30b7a2 d=M216,2047l4-18-3-23-4,18z />
<path color=#34b8a0 d=M212,2029l4,18-3-23-4-17z />
<path color=#91bf73 d=M208,2012l4,17-3-22-3-18z />
<path color=#97bf70 d=M204,2029l4-17-2-23-4,17z />
<path color=#46bb95 d=M201,2046l3-17-2-23-4,17z />
<path color=#4fbc90 d=M197,2028l4,18-3-23-4-18z />
<path color=#adbe68 d=M193,2009l4,19-3-23-4-18z />
<path color=#b6bd64 d=M189,2026l4-17-3-22-3,16z />
<path color=#72bf80 d=M185,2042l4-16-2-23-4,16z />
<path color=#7fbf7a d=M182,2023l3,19-2-23-4-19z />
<path color=#d4bb58 d=M178,2004l4,19-3-23-4-19z />
<path color=#dfba53 d=M174,2019l4-15-3-23-4,15z />
<path color=#b7bd64 d=M166,2014l4,20-2-23-4-20z />
<path color=#fec03a d=M163,1994l3,20-2-23-4-20z />
<path color=#fdca31 d=M159,2009l4-15-3-23-4,15z />
<path color=#e3b951 d=M155,2023l4-14-3-23-4,14z />
<path color=#c6bc5e d=M302,1975l4,13-3-23-4-12z />
<path color=#b7bd64 d=M298,1998l4-23-3-22-4,22z />
<path color=#53bd8f d=M294,2020l4-22-3-23-3,22z />
<path color=#8abf76 d=M287,1994l3,13-2-23-4-13z />
<path color=#7bbf7c d=M283,2016l4-22-3-23-4,22z />
<path color=#1bb2b0 d=M279,2037l4-21-3-23-4,21z />
<path color=#52bd8f d=M271,2009l4,14-2-23-4-14z />
<path color=#46bb95 d=M268,2030l3-21-2-23-4,21z />
<path color=#07a9c3 d=M264,2050l4-20-3-23-4,21z />
<path color=#2fb7a3 d=M256,2021l4,15-3-23-3-15z />
<path color=#29b6a7 d=M253,2041l3-20-2-23-4,20z />
<path color=#1fb4ad d=M241,2029l4,16-3-23-4-16z />
<path color=#1eb3ae d=M237,2048l4-19-3-23-3,19zM226,2033l4,17-3-23-4-16z />
<path color=#1fb4ad d=M222,2051l4-18-3-22-3,18z />
<path color=#29b6a7 d=M211,2034l4,18-3-23-4-17z />
<path color=#2fb7a3 d=M207,2052l4-18-3-22-4,17z />
<path color=#46bb95 d=M196,2032l3,18-2-22-4-19z />
<path color=#52bd8f d=M192,2048l4-16-3-23-4,17z />
<path color=#7bbf7c d=M180,2026l4,19-2-22-4-19z />
<path color=#8abf76 d=M177,2042l3-16-2-22-4,15z />
<path color=#b7bd64 d=M165,2017l4,20-3-23-3-20z />
<path color=#c6bc5e d=M162,2031l3-14-2-23-4,15z />
<path color=#8fbf74 d=M158,2046l4-15-3-22-4,14z />
<path color=#a9be69 d=M301,1985l3-22-2,12-4,23z />
<path color=#69be84 d=M285,2003l4-22-2,13-4,22z />
<path color=#36b99f d=M270,2017l4-21-3,13-3,21z />
<path color=#31b8a2 d=M176,2044l3-15-2,13-4,15z />
<path color=#41ba98 d=M172,2024l4,20-3,13-4-20z />
<path color=#b9bd63 d=M164,2019l4-15-3,13-3,14z />
<path color=#7ebf7b d=M160,2033l4-14-2,12-4,15z />
<path color=#dfba53 d=M303,1972l4-22-3,13-3,22z />
<path color=#8abf76 d=M299,1995l4-23-2,13-4,22z />
<path color=#acbe68 d=M288,1990l4-22-3,13-4,22z />
<path color=#49bb94 d=M284,2011l4-21-3,13-3,21z />
<path color=#21b4ac d=M269,2025l4-21-3,13-3,21z />
<path color=#5cbe8a d=M258,2015l4-20-3,13-4,20z />
<path color=#4cbc92 d=M243,2022l3-19-2,13-4,19z />
<path color=#0aacbe d=M239,2041l4-19-3,13-4,19z />
<path color=#4ebc91 d=M227,2026l4-18-2,13-4,18z />
<path color=#63be87 d=M212,2026l4-17-3,13-3,17z />
<path color=#bcbd62 d=M163,2020l4-14-3,13-4,14z />
<path color=#b0bd66 d=M313,1984l4,12-2-22-4-12z />
<path color=#e2b951 d=M310,1972l3,12-2-22-4-12z />
<path color=#d4bb58 d=M306,1994l4-22-3-22-4,22z />
<path color=#7bbf7c d=M302,2017l4-23-3-22-4,23z />
<path color=#69be84 d=M298,2004l4,13-3-22-3-13z />
<path color=#acbe68 d=M295,1990l3,14-2-22-4-14z />
<path color=#9fbe6d d=M291,2012l4-22-3-22-4,22z />
<path color=#3ab99c d=M287,2033l4-21-3-22-4,21z />
<path color=#2fb7a3 d=M283,2020l4,13-3-22-3-13z />
<path color=#7abf7c d=M279,2006l4,14-2-22-4-14z />
<path color=#6fbf81 d=M276,2026l3-20-2-22-4,20z />
<path color=#16b1b3 d=M272,2047l4-21-3-22-4,21z />
<path color=#11afb7 d=M268,2032l4,15-3-22-4-15z />
<path color=#53bd8f d=M264,2017l4,15-3-22-3-15z />
<path color=#4cbc92 d=M260,2037l4-20-2-22-4,20z />
<path color=#09abbf d=M257,2057l3-20-2-22-4,20z />
<path color=#07aac1 d=M253,2041l4,16-3-22-4-16z />
<path color=#3fba9a d=M249,2025l4,16-3-22-4-16z />
<path color=#3dba9b d=M245,2044l4-19-3-22-3,19z />
<path color=#06a8c4 d=M241,2063l4-19-2-22-4,19zM238,2047l3,16-2-22-4-16z />
<path color=#3dba9b d=M234,2030l4,17-3-22-4-17z />
<path color=#3fba9a d=M230,2048l4-18-3-22-4,18z />
<path color=#07aac1 d=M226,2066l4-18-3-22-3,18z />
<path color=#09abbf d=M223,2048l3,18-2-22-4-17z />
<path color=#4cbc92 d=M219,2031l4,17-3-21-4-18z />
<path color=#53bd8f d=M215,2048l4-17-3-22-4,17z />
<path color=#16b1b3 d=M207,2047l4,18-2-22-4-18z />
<path color=#6fbf81 d=M204,2029l3,18-2-22-4-18z />
<path color=#7abf7c d=M200,2045l4-16-3-22-4,16z />
<path color=#9fbe6d d=M188,2023l4,19-2-22-4-19z />
<path color=#acbe68 d=M185,2038l3-15-2-22-4,15z />
<path color=#7bbf7c d=M177,2033l4,20-3-22-4-20z />
<path color=#d4bb58 d=M173,2013l4,20-3-22-3-20z />
<path color=#e2b951 d=M169,2028l4-15-2-22-4,15z />
<path color=#b0bd66 d=M166,2042l3-14-2-22-4,14z />
<path color=#92bf72 d=M312,1994l4,12-3-22-3-12z />
<path color=#7fbf7a d=M309,2016l3-22-2-22-4,22z />
<path color=#49bb94 d=M297,2012l4,13-3-21-3-14z />
<path color=#3ab99c d=M293,2034l4-22-2-22-4,22z />
<path color=#1bb2b0 d=M282,2027l4,14-3-21-4-14z />
<path color=#14b0b5 d=M278,2048l4-21-3-21-3,20z />
<path color=#08aac0 d=M267,2039l4,15-3-22-4-15z />
<path color=#07a9c3 d=M263,2059l4-20-3-22-4,20z />
<path color=#06a6c7 d=M252,2047l3,16-2-22-4-16z />
<path color=#06a5c8 d=M248,2066l4-19-3-22-4,19zM237,2052l3,16-2-21-4-17z />
<path color=#06a6c7 d=M233,2070l4-18-3-22-4,18z />
<path color=#07a9c3 d=M221,2053l4,17-2-22-4-17z />
<path color=#08aac0 d=M218,2070l3-17-2-22-4,17z />
<path color=#14b0b5 d=M206,2050l4,19-3-22-3-18z />
<path color=#1bb2b0 d=M202,2067l4-17-2-21-4,16z />
<path color=#3ab99c d=M191,2044l4,20-3-22-4-19z />
<path color=#49bb94 d=M187,2060l4-16-3-21-3,15z />
<path color=#7fbf7a d=M176,2035l4,20-3-22-4-20z />
<path color=#92bf72 d=M172,2050l4-15-3-22-4,15z />
<path color=#4ebc91 d=M168,2064l4-14-3-22-3,14z />
<path color=#72bf80 d=M311,2003l4-23-3,14-3,22z />
<path color=#0aacbd d=M186,2062l4-16-3,14-4,15z />
<path color=#13b0b6 d=M182,2042l4,20-3,13-3-20z />
<path color=#86bf77 d=M175,2036l4-15-3,14-4,15z />
<path color=#41ba98 d=M171,2050l4-14-3,14-4,14z />
<path color=#b6bd64 d=M314,1989l4-23-3,14-4,23z />
<path color=#52bd8f d=M310,2011l4-22-3,14-4,22z />
<path color=#7abf7c d=M299,2007l3-22-2,14-4,21z />
<path color=#45bb96 d=M284,2021l3-21-2,14-4,21z />
<path color=#28b6a7 d=M268,2032l4-20-3,13-3,20z />
<path color=#8ebf74 d=M174,2037l3-15-2,14-4,14z />
<path color=#84bf78 d=M324,2000l4,12-3-21-4-12z />
<path color=#bdbd61 d=M320,1987l4,13-3-21-3-13z />
<path color=#adbe68 d=M316,2010l4-23-2-21-4,23z />
<path color=#46bb95 d=M313,2032l3-22-2-21-4,22z />
<path color=#36b99f d=M309,2019l4,13-3-21-4-13z />
<path color=#7ebf7b d=M305,2006l4,13-3-21-4-13z />
<path color=#6fbf81 d=M301,2028l4-22-3-21-3,22z />
<path color=#14b0b5 d=M298,2049l3-21-2-21-4,21z />
<path color=#0dadbb d=M294,2035l4,14-3-21-4-14z />
<path color=#45bb96 d=M290,2021l4,14-3-21-4-14z />
<path color=#3bb99c d=M286,2042l4-21-3-21-3,21z />
<path color=#06a6c7 d=M282,2062l4-20-2-21-4,20z />
<path color=#06a3ca d=M279,2048l3,14-2-21-4-14z />
<path color=#25b5aa d=M275,2033l4,15-3-21-4-15z />
<path color=#20b4ad d=M271,2053l4-20-3-21-4,20z />
<path color=#079dcf d=M267,2072l4-19-3-21-3,19z />
<path color=#079bd0 d=M263,2057l4,15-2-21-4-15z />
<path color=#17b1b3 d=M260,2041l3,16-2-21-4-16z />
<path color=#16b1b4 d=M256,2060l4-19-3-21-4,19zM244,2045l4,17-2-21-4-17z />
<path color=#17b1b3 d=M241,2064l3-19-2-21-4,18z />
<path color=#20b4ad d=M229,2047l4,17-3-21-3-18z />
<path color=#25b5aa d=M226,2064l3-17-2-22-4,18z />
<path color=#3bb99c d=M214,2044l4,19-3-22-4-18z />
<path color=#45bb96 d=M210,2060l4-16-3-21-3,16z />
<path color=#6fbf81 d=M199,2038l4,20-3-22-4-19z />
<path color=#7ebf7b d=M195,2054l4-16-3-21-3,16z />
<path color=#46bb95 d=M188,2049l3,20-2-21-4-20z />
<path color=#adbe68 d=M184,2029l4,20-3-21-4-20z />
<path color=#bdbd61 d=M180,2043l4-14-3-21-4,14z />
<path color=#84bf78 d=M176,2058l4-15-3-21-3,15z />
<path color=#64be86 d=M323,2008l4,13-3-21-4-13z />
<path color=#4fbc90 d=M319,2031l4-23-3-21-4,23z />
<path color=#21b4ac d=M308,2027l4,13-3-21-4-13z />
<path color=#16b1b3 d=M304,2048l4-21-3-21-4,22z />
<path color=#06a8c4 d=M293,2042l3,14-2-21-4-14z />
<path color=#06a6c7 d=M289,2063l4-21-3-21-4,21z />
<path color=#079ecf d=M277,2054l4,15-2-21-4-15z />
<path color=#079bd0 d=M274,2073l3-19-2-21-4,20z />
<path color=#0b96d1 d=M262,2062l4,16-3-21-3-16z />
<path color=#0b95d2 d=M258,2081l4-19-2-21-4,19z />
<path color=#079bd0 d=M232,2067l4,18-3-21-4-17z />
<path color=#079ecf d=M228,2085l4-18-3-20-3,17z />
<path color=#21b4ac d=M198,2075l4-16-3-21-4,16z />
<path color=#4fbc90 d=M186,2050l4,20-2-21-4-20z />
<path color=#64be86 d=M183,2064l3-14-2-21-4,14z />
<path color=#25b5aa d=M179,2079l4-15-3-21-4,15z />
<path color=#46bb95 d=M322,2016l4-22-3,14-4,23z />
<path color=#11afb7 d=M307,2034l3-22-2,15-4,21z />
<path color=#0f8fd2 d=M208,2064l4,19-3,15-4-20z />
<path color=#06a1cc d=M197,2075l3-15-2,15-4,15z />
<path color=#06a6c6 d=M193,2055l4,20-3,15-4-20z />
<path color=#5bbd8b d=M185,2050l4-15-3,15-3,14z />
<path color=#1fb3ae d=M182,2064l3-14-2,14-4,15z />
<path color=#97bf70 d=M324,2002l4-23-2,15-4,22z />
<path color=#2fb7a3 d=M321,2024l3-22-2,14-4,23z />
<path color=#53bd8f d=M309,2020l4-22-3,14-3,22z />
<path color=#2fb7a3 d=M196,2041l3,20-2,14-4-20z />
<path color=#69be84 d=M184,2050l4-15-3,15-3,14z />
<path color=#62be87 d=M335,2012l3,12-2-20-4-12z />
<path color=#a2be6c d=M331,1999l4,13-3-20-4-13z />
<path color=#91bf73 d=M327,2022l4-23-3-20-4,23z />
<path color=#29b6a7 d=M323,2044l4-22-3-20-3,22z />
<path color=#1cb3af d=M319,2031l4,13-2-20-4-13z />
<path color=#5cbe8a d=M316,2018l3,13-2-20-4-13z />
<path color=#4cbc92 d=M312,2040l4-22-3-20-4,22z />
<path color=#07a9c3 d=M308,2061l4-21-3-20-4,21z />
<path color=#06a6c7 d=M304,2047l4,14-3-20-3-14z />
<path color=#28b6a7 d=M300,2033l4,14-2-20-4-14z />
<path color=#20b4ad d=M297,2054l3-21-2-20-4,21z />
<path color=#079bd0 d=M293,2074l4-20-3-20-4,20z />
<path color=#0998d1 d=M289,2060l4,14-3-20-4-14z />
<path color=#0faeb9 d=M285,2045l4,15-3-20-3-15z />
<path color=#0cadbb d=M282,2065l3-20-2-20-4,19z />
<path color=#08aac1 d=M270,2053l4,16-3-20-3-16z />
<path color=#07aac2 d=M266,2072l4-19-2-20-4,19z />
<path color=#0cadbb d=M240,2059l4,17-3-20-4-18z />
<path color=#0faeb9 d=M236,2076l4-17-3-21-4,18z />
<path color=#28b6a7 d=M221,2073l4-17-3-20-4,16z />
<path color=#4cbc92 d=M210,2050l3,20-2-21-4-19z />
<path color=#5cbe8a d=M206,2066l4-16-3-20-4,16z />
<path color=#29b6a7 d=M198,2061l4,20-3-20-3-20z />
<path color=#91bf73 d=M194,2041l4,20-2-20-4-20z />
<path color=#a2be6c d=M191,2055l3-14-2-20-4,14z />
<path color=#62be87 d=M187,2070l4-15-3-20-4,15z />
<path color=#46bb95 d=M333,2019l4,13-2-20-4-13z />
<path color=#34b8a0 d=M330,2042l3-23-2-20-4,23z />
<path color=#0faeb9 d=M318,2038l4,13-3-20-3-13z />
<path color=#09abbf d=M315,2060l3-22-2-20-4,22z />
<path color=#06a1cd d=M303,2053l4,14-3-20-4-14z />
<path color=#079dcf d=M299,2074l4-21-3-20-3,21z />
<path color=#34b8a0 d=M197,2061l4,20-3-20-4-20z />
<path color=#46bb95 d=M193,2075l4-14-3-20-3,14z />
<path color=#12afb7 d=M189,2090l4-15-2-20-4,15z />
<path color=#0d75dc d=M234,2079l4,19-3,15-4-18z />
<path color=#1485d4 d=M219,2074l3,19-2,16-4-19z />
<path color=#0899d1 d=M207,2086l4-15-3,15-3,15z />
<path color=#069fce d=M203,2066l4,20-2,15-4-20z />
<path color=#42bb98 d=M196,2060l4-14-3,15-4,14z />
<path color=#0faeb9 d=M192,2075l4-15-3,15-4,15z />
<path color=#3fba9a d=M320,2029l4-22-3,16-4,21z />
<path color=#17b1b3 d=M305,2043l3-21-2,16-4,21z />
<path color=#1fb4ad d=M206,2050l4,20-3,16-4-20z />
<path color=#54bd8e d=M195,2059l4-14-3,15-4,15z />
<path color=#52bd8f d=M345,2020l4,12-3-19-3-12z />
<path color=#95bf71 d=M341,2008l4,12-2-19-4-12z />
<path color=#83bf79 d=M338,2031l3-23-2-19-4,22z />
<path color=#1eb3ae d=M334,2053l4-22-3-20-4,23z />
<path color=#13b0b6 d=M330,2040l4,13-3-19-4-13z />
<path color=#4cbc92 d=M326,2027l4,13-3-19-3-14z />
<path color=#3dba9b d=M322,2048l4-21-2-20-4,22z />
<path color=#06a5c8 d=M319,2070l3-22-2-19-4,21z />
<path color=#06a1cc d=M315,2056l4,14-3-20-4-13z />
<path color=#1db3af d=M311,2042l4,14-3-19-4-15z />
<path color=#16b1b4 d=M307,2063l4-21-3-20-3,21z />
<path color=#09abbf d=M296,2053l4,15-3-19-4-15z />
<path color=#07aac2 d=M292,2073l4-20-3-19-4,20z />
<path color=#06a6c6 d=M281,2062l4,15-3-19-4-16z />
<path color=#06a6c7 d=M277,2081l4-19-3-20-4,19zM266,2066l3,17-2-20-4-16z />
<path color=#06a6c6 d=M262,2084l4-18-3-19-4,18z />
<path color=#3dba9b d=M220,2059l4,19-3-19-4-19z />
<path color=#4cbc92 d=M216,2074l4-15-3-19-3,15z />
<path color=#1eb3ae d=M209,2070l4,20-3-20-4-20z />
<path color=#83bf79 d=M205,2049l4,21-3-20-4-20z />
<path color=#95bf71 d=M201,2064l4-15-3-19-3,15z />
<path color=#52bd8f d=M197,2078l4-14-2-19-4,14z />
<path color=#3cba9b d=M344,2027l4,13-3-20-4-12z />
<path color=#2bb6a6 d=M340,2050l4-23-3-19-3,23z />
<path color=#0aacbe d=M329,2046l4,13-3-19-4-13z />
<path color=#06a8c4 d=M325,2067l4-21-3-19-4,21z />
<path color=#079dcf d=M314,2061l3,14-2-19-4-14z />
<path color=#0999d1 d=M310,2082l4-21-3-19-4,21z />
<path color=#118dd2 d=M299,2073l3,14-2-19-4-15z />
<path color=#138ad3 d=M295,2092l4-19-3-20-4,20z />
<path color=#2bb6a6 d=M208,2069l3,20-2-19-4-21z />
<path color=#3cba9b d=M204,2083l4-14-3-20-4,15z />
<path color=#0cadbb d=M200,2098l4-15-3-19-4,14z />
<path color=#0462e0 d=M275,2086l3,16-2,16-4-16z />
<path color=#0267e1 d=M259,2088l4,17-2,16-4-17z />
<path color=#076fdf d=M248,2104l4-17-3,17-4,17z />
<path color=#0a73de d=M244,2086l4,18-3,17-3-19z />
<path color=#137ed7 d=M233,2100l4-16-3,16-4,16z />
<path color=#1483d5 d=M229,2081l4,19-3,16-3-19z />
<path color=#0a96d1 d=M218,2093l4-16-3,16-4,16z />
<path color=#079dcf d=M214,2073l4,20-3,16-4-20z />
<path color=#3cba9b d=M206,2067l4-15-2,17-4,14z />
<path color=#0cadbb d=M203,2081l3-14-2,16-4,15z />
<path color=#83bf79 d=M346,2017l3-22-2,16-4,23z />
<path color=#06a5c8 d=M232,2065l4,19-3,16-4-19z />
<path color=#13b0b6 d=M220,2076l4-15-2,16-4,16z />
<path color=#1eb3ae d=M217,2056l3,20-2,17-4-20z />
<path color=#52bd8f d=M205,2065l4-14-3,16-3,14z />
<path color=#54bd8e d=M356,2025l4,13-3-19-4-12z />
<path color=#97bf70 d=M352,2013l4,12-3-18-4-12z />
<path color=#85bf78 d=M348,2036l4-23-3-18-3,22z />
<path color=#14b0b5 d=M341,2045l3,13-2-19-4-13z />
<path color=#4ebc91 d=M337,2032l4,13-3-19-4-13z />
<path color=#3fba9a d=M333,2053l4-21-3-19-4,22z />
<path color=#06a2cc d=M325,2061l4,14-2-19-4-14z />
<path color=#1fb3ae d=M322,2047l3,14-2-19-4-14z />
<path color=#17b1b3 d=M318,2068l4-21-3-19-4,21z />
<path color=#09acbe d=M306,2058l4,15-2-18-4-15z />
<path color=#08aac1 d=M303,2078l3-20-2-18-4,20z />
<path color=#06a7c6 d=M291,2067l4,15-3-18-3-16z />
<path color=#06a6c6 d=M288,2086l3-19-2-19-4,19z />
<path color=#3fba9a d=M231,2064l3,19-2-18-4-20z />
<path color=#4ebc91 d=M227,2079l4-15-3-19-4,16z />
<path color=#85bf78 d=M216,2055l3,20-2-19-4-20z />
<path color=#97bf70 d=M212,2069l4-14-3-19-4,15z />
<path color=#54bd8e d=M208,2084l4-15-3-18-4,14z />
<path color=#42bb98 d=M355,2031l3,13-2-19-4-12z />
<path color=#30b7a2 d=M351,2054l4-23-3-18-4,23z />
<path color=#0dadbb d=M339,2050l4,13-2-18-4-13z />
<path color=#07aac1 d=M336,2072l3-22-2-18-4,21z />
<path color=#069fce d=M324,2065l4,14-3-18-3-14z />
<path color=#079bd0 d=M320,2086l4-21-2-18-4,21z />
<path color=#30b7a2 d=M218,2073l4,20-3-18-3-20z />
<path color=#42bb98 d=M214,2087l4-14-2-18-4,14z />
<path color=#0faeb9 d=M211,2102l3-15-2-18-4,15z />
<path color=#0b73dd d=M316,2075l3,14-2,17-4-14z />
<path color=#036ae1 d=M300,2084l4,15-2,17-4-15z />
<path color=#0267e1 d=M289,2106l4-19-3,17-4,19zM285,2089l4,17-3,17-3-17z />
<path color=#036ae1 d=M274,2108l4-17-3,17-4,17z />
<path color=#046ce0 d=M270,2091l4,17-3,17-4-17z />
<path color=#0b73dd d=M259,2108l3-17-2,17-4,17z />
<path color=#0e76dc d=M255,2090l4,18-3,17-4-18z />
<path color=#1482d5 d=M244,2104l3-17-2,17-4,17z />
<path color=#1487d3 d=M240,2085l4,19-3,17-4-19z />
<path color=#0faeb9 d=M232,2081l4-16-3,17-3,16z />
<path color=#089bd0 d=M228,2096l4-15-2,17-4,15z />
<path color=#06a1cc d=M225,2076l3,20-2,17-4-20z />
<path color=#46bb95 d=M217,2070l4-14-3,17-4,14z />
<path color=#12afb7 d=M213,2085l4-15-3,17-3,15z />
<path color=#079bd0 d=M258,2072l3,19-2,17-4-18z />
<path color=#07a9c3 d=M242,2067l4,19-2,18-4-19z />
<path color=#1cb3af d=M231,2079l4-16-3,18-4,15z />
<path color=#29b6a7 d=M227,2059l4,20-3,17-3-20z />
<path color=#62be87 d=M216,2068l4-15-3,17-4,15z />
<path color=#69be84 d=M366,2027l4,12-3-17-3-13z />
<path color=#a8be6a d=M362,2015l4,12-2-18-4-12z />
<path color=#97bf70 d=M359,2037l3-22-2-18-4,23z />
<path color=#63be87 d=M347,2033l4,14-3-18-3-13z />
<path color=#53bd8f d=M344,2055l3-22-2-17-4,21z />
<path color=#2eb7a4 d=M332,2048l4,15-3-18-3-14z />
<path color=#25b5aa d=M328,2069l4-21-2-17-4,21z />
<path color=#0faeb9 d=M313,2080l4-20-3-18-3,20z />
<path color=#63be87 d=M237,2081l4-15-2-18-4,15z />
<path color=#97bf70 d=M226,2056l4,20-3-17-4-20z />
<path color=#a8be6a d=M222,2071l4-15-3-17-3,14z />
<path color=#69be84 d=M218,2085l4-14-2-18-4,15z />
<path color=#5bbd8b d=M365,2032l4,12-3-17-4-12z />
<path color=#46bb95 d=M361,2055l4-23-3-17-3,22zM229,2073l3,21-2-18-4-20z />
<path color=#5bbd8b d=M225,2088l4-15-3-17-4,15z />
<path color=#1fb3ae d=M221,2103l4-15-3-17-4,14z />
<path color=#137dd8 d=M326,2074l4,15-3,18-4-15z />
<path color=#0e76dc d=M315,2099l4-20-3,18-4,20z />
<path color=#0d75dc d=M311,2083l4,16-3,18-4-16z />
<path color=#0a73de d=M300,2105l3-18-2,18-4,18zM296,2089l4,16-3,18-4-16z />
<path color=#0d75dc d=M284,2108l4-18-2,18-4,18z />
<path color=#0e76dc d=M281,2091l3,17-2,18-4-17z />
<path color=#137dd8 d=M269,2108l4-17-3,17-3,18z />
<path color=#1480d6 d=M265,2089l4,19-2,18-4-19z />
<path color=#06a8c4 d=M258,2087l4-16-3,18-4,16z />
<path color=#118dd2 d=M254,2103l4-16-3,18-4,16z />
<path color=#0c93d2 d=M250,2084l4,19-3,18-3-19z />
<path color=#21b4ac d=M243,2081l3-16-2,18-4,15z />
<path color=#06a4c9 d=M239,2096l4-15-3,17-4,16z />
<path color=#07a9c3 d=M235,2076l4,20-3,18-4-20z />
<path color=#64be86 d=M228,2070l3-14-2,17-4,15z />
<path color=#25b5aa d=M224,2085l4-15-3,18-4,15z />
<path color=#0999d1 d=M298,2071l4,16-2,18-4-16z />
<path color=#079dcf d=M283,2073l4,17-3,18-3-17z />
<path color=#06a6c7 d=M268,2071l4,19-3,18-4-19z />
<path color=#0dadbb d=M257,2085l4-16-3,18-4,16z />
<path color=#14b0b5 d=M253,2066l4,19-3,18-4-19z />
<path color=#36b99f d=M242,2078l3-16-2,19-4,15z />
<path color=#46bb95 d=M238,2058l4,20-3,18-4-20z />
<path color=#84bf78 d=M226,2067l4-15-2,18-4,15z />
<path color=#c5bc5e d=M373,2013l4,12-3-17-4-12z />
<path color=#b6bd64 d=M369,2035l4-22-3-17-3,23z />
<path color=#89bf76 d=M358,2031l4,14-3-17-4-13z />
<path color=#7abf7c d=M354,2053l4-22-3-16-4,21z />
<path color=#50bc90 d=M343,2047l4,14-3-17-4-14z />
<path color=#45bb96 d=M339,2067l4-20-3-17-4,21z />
<path color=#2eb7a4 d=M328,2058l3,15-2-17-4-15z />
<path color=#28b6a7 d=M324,2078l4-20-3-17-4,20z />
<path color=#1fb3ae d=M312,2066l4,16-2-17-4-15z />
<path color=#1db3af d=M309,2085l3-19-2-16-4,19z />
<path color=#1fb3ae d=M293,2089l4-18-2-17-4,18z />
<path color=#2eb7a4 d=M278,2089l4-17-3-17-3,17z />
<path color=#50bc90 d=M263,2086l4-16-3-17-3,16z />
<path color=#b6bd64 d=M237,2054l3,20-2-16-4-21z />
<path color=#c5bc5e d=M233,2069l4-15-3-17-4,15z />
<path color=#8ebf74 d=M229,2083l4-14-3-17-4,15z />
<path color=#72bf80 d=M372,2052l4-23-3-16-4,22z />
<path color=#2fb7a3 d=M357,2070l4-22-3-17-4,22z />
<path color=#0dadbb d=M342,2084l3-21-2-16-4,20z />
<path color=#86bf77 d=M235,2085l4-14-2-17-4,15z />
<path color=#41ba98 d=M232,2100l3-15-2-16-4,14z />
<path color=#4ebc91 d=M382,2023l4,12-3,19-4-12z />
<path color=#1bb2b0 d=M371,2055l4-22-3,19-4,22z />
<path color=#11afb8 d=M367,2042l4,13-3,19-4-13z />
<path color=#06a4c9 d=M356,2072l3-21-2,19-4,21z />
<path color=#06a0cd d=M352,2058l4,14-3,19-4-14z />
<path color=#0c93d2 d=M340,2086l4-21-2,19-4,20z />
<path color=#0f8fd2 d=M337,2071l3,15-2,18-4-14z />
<path color=#1487d3 d=M325,2095l4-19-3,19-3,19z />
<path color=#1485d4 d=M321,2080l4,15-2,19-4-15z />
<path color=#1483d5 d=M310,2102l4-19-3,19-4,19zM306,2085l4,17-3,19-3-17z />
<path color=#1485d4 d=M295,2105l4-18-3,18-4,18z />
<path color=#1487d3 d=M291,2087l4,18-3,18-3-17z />
<path color=#08aac0 d=M284,2087l3-17-2,18-4,18z />
<path color=#0f8fd2 d=M280,2104l4-17-3,19-4,17z />
<path color=#0c93d2 d=M276,2086l4,18-3,19-4-19z />
<path color=#1bb2b0 d=M268,2084l4-17-2,19-4,16z />
<path color=#06a0cd d=M265,2100l3-16-2,18-4,17z />
<path color=#06a4c9 d=M261,2081l4,19-3,19-4-20z />
<path color=#49bb94 d=M253,2077l4-16-3,19-3,16z />
<path color=#11afb8 d=M249,2092l4-15-2,19-4,15z />
<path color=#1bb2b0 d=M246,2072l3,20-2,19-4-20z />
<path color=#92bf72 d=M238,2067l4-15-3,19-4,14z />
<path color=#4ebc91 d=M234,2081l4-14-3,18-3,15z />
<path color=#07aac1 d=M324,2061l4,15-3,19-4-15z />
<path color=#06a8c4 d=M309,2066l4,17-3,19-4-17z />
<path color=#07aac1 d=M298,2086l3-18-2,19-4,18z />
<path color=#09abbf d=M294,2068l4,18-3,19-4-18z />
<path color=#11afb7 d=M282,2085l4-17-2,19-4,17z />
<path color=#16b1b3 d=M279,2067l3,18-2,19-4-18z />
<path color=#2fb7a3 d=M267,2081l4-16-3,19-3,16z />
<path color=#3ab99c d=M263,2062l4,19-2,19-4-19z />
<path color=#69be84 d=M252,2073l4-15-3,19-4,15z />
<path color=#7bbf7c d=M248,2053l4,20-3,19-3-20z />
<path color=#b0bd66 d=M237,2062l4-14-3,19-4,14z />
<path color=#bcbd62 d=M387,2020l4,12-2-16-4-12z />
<path color=#edb94c d=M384,2007l3,13-2-16-4-12z />
<path color=#dfba53 d=M380,2030l4-23-3-15-4,22z />
<path color=#79bf7d d=M372,2039l4,13-3-16-3-13z />
<path color=#b8bd63 d=M368,2026l4,13-2-16-4-13z />
<path color=#acbe68 d=M365,2048l3-22-2-16-4,22z />
<path color=#3cba9b d=M357,2055l4,14-3-16-4-14z />
<path color=#89bf76 d=M353,2041l4,14-3-16-3-14z />
<path color=#7ebf7b d=M350,2062l3-21-2-16-4,21z />
<path color=#1bb2b0 d=M342,2068l4,14-3-15-4-15z />
<path color=#63be87 d=M338,2053l4,15-3-16-3-15z />
<path color=#5cbe8a d=M334,2073l4-20-2-16-4,20z />
<path color=#4ebc91 d=M323,2061l4,16-3-16-4-16z />
<path color=#4cbc92 d=M319,2080l4-19-3-16-3,19zM308,2065l4,17-3-16-4-16z />
<path color=#4ebc91 d=M304,2084l4-19-3-15-4,18z />
<path color=#5cbe8a d=M293,2067l3,17-2-16-4-17z />
<path color=#63be87 d=M289,2084l4-17-3-16-4,17z />
<path color=#7ebf7b d=M278,2064l3,19-2-16-4-19z />
<path color=#89bf76 d=M274,2080l4-16-3-16-4,17z />
<path color=#acbe68 d=M262,2058l4,20-3-16-3-20z />
<path color=#b8bd63 d=M259,2074l3-16-2-16-4,16z />
<path color=#dfba53 d=M247,2049l4,20-3-16-3-20z />
<path color=#edb94c d=M243,2063l4-14-2-16-4,15z />
<path color=#bcbd62 d=M240,2078l3-15-2-15-4,14z />
<path color=#b9bd63 d=M386,2023l4,12-3-15-3-13z />
<path color=#a9be69 d=M382,2045l4-22-2-16-4,23z />
<path color=#79bf7d d=M371,2042l4,13-3-16-4-13z />
<path color=#69be84 d=M367,2063l4-21-3-16-3,22z />
<path color=#40ba99 d=M356,2057l4,14-3-16-4-14z />
<path color=#36b99f d=M352,2077l4-20-3-16-3,21z />
<path color=#21b4ac d=M341,2068l4,15-3-15-4-15z />
<path color=#1cb3af d=M337,2088l4-20-3-15-4,20z />
<path color=#13b0b6 d=M322,2095l4-19-3-15-4,19z />
<path color=#14b0b5 d=M307,2099l3-18-2-16-4,19z />
<path color=#21b4ac d=M292,2099l3-17-2-15-4,17z />
<path color=#40ba99 d=M276,2096l4-16-2-16-4,16z />
<path color=#79bf7d d=M261,2089l4-15-3-16-3,16z />
<path color=#b9bd63 d=M246,2079l4-15-3-15-4,14z />
<path color=#7ebf7b d=M242,2093l4-14-3-16-3,15z />
<path color=#8fbf74 d=M393,2016l3,12-2,19-4-12z />
<path color=#b7bd64 d=M385,2026l4-23-3,20-4,22z />
<path color=#53bd8f d=M381,2048l4-22-3,19-3,23z />
<path color=#41ba98 d=M378,2035l3,13-2,20-4-13z />
<path color=#7bbf7c d=M370,2044l4-22-3,20-4,21z />
<path color=#1bb2b0 d=M366,2065l4-21-3,19-3,22z />
<path color=#13b0b6 d=M362,2051l4,14-2,20-4-14z />
<path color=#46bb95 d=M355,2058l4-21-3,20-4,20z />
<path color=#07a9c3 d=M351,2078l4-20-3,19-4,21z />
<path color=#06a6c6 d=M347,2064l4,14-3,20-3-15z />
<path color=#29b6a7 d=M340,2069l3-20-2,19-4,20z />
<path color=#06a1cc d=M336,2088l4-19-3,19-4,20z />
<path color=#069fce d=M332,2073l4,15-3,20-4-16z />
<path color=#1eb3ae d=M324,2076l4-19-2,19-4,19z />
<path color=#079dcf d=M321,2095l3-19-2,19-4,19zM317,2078l4,17-3,19-4-16z />
<path color=#1fb4ad d=M309,2080l4-19-3,20-3,18z />
<path color=#069fce d=M306,2097l3-17-2,19-4,18z />
<path color=#06a1cc d=M302,2080l4,17-3,20-4-17z />
<path color=#2fb7a3 d=M294,2080l4-18-3,20-3,17z />
<path color=#06a6c6 d=M290,2097l4-17-2,19-4,17z />
<path color=#07a9c3 d=M287,2079l3,18-2,19-4-18z />
<path color=#52bd8f d=M279,2076l4-16-3,20-4,16z />
<path color=#13b0b6 d=M275,2093l4-17-3,20-3,16z />
<path color=#1bb2b0 d=M271,2073l4,20-2,19-4-19z />
<path color=#7bbf7c d=M268,2054l3,19-2,20-4-19z />
<path color=#8abf76 d=M264,2070l4-16-3,20-4,15z />
<path color=#41ba98 d=M260,2085l4-15-3,19-4,16z />
<path color=#53bd8f d=M256,2065l4,20-3,20-3-20z />
<path color=#b7bd64 d=M252,2045l4,20-2,20-4-21z />
<path color=#c6bc5e d=M249,2059l3-14-2,19-4,15z />
<path color=#8fbf74 d=M245,2074l4-15-3,20-4,14z />
<path color=#e3b951 d=M395,1996l4,12-3,20-3-12z />
<path color=#b7bd64 d=M384,2028l4-22-3,20-4,22z />
<path color=#a9be69 d=M380,2015l4,13-3,20-3-13z />
<path color=#7fbf7a d=M369,2045l4-21-3,20-4,21z />
<path color=#72bf80 d=M365,2031l4,14-3,20-4-14z />
<path color=#4fbc90 d=M354,2058l3-20-2,20-4,20z />
<path color=#46bb95 d=M350,2044l4,14-3,20-4-14z />
<path color=#34b8a0 d=M338,2068l4-19-2,20-4,19z />
<path color=#30b7a2 d=M335,2053l3,15-2,20-4-15z />
<path color=#2bb6a6 d=M323,2075l4-19-3,20-3,19zM320,2058l3,17-2,20-4-17z />
<path color=#30b7a2 d=M308,2078l4-18-3,20-3,17z />
<path color=#34b8a0 d=M304,2060l4,18-2,19-4-17z />
<path color=#46bb95 d=M293,2077l4-17-3,20-4,17z />
<path color=#4fbc90 d=M289,2059l4,18-3,20-3-18z />
<path color=#72bf80 d=M278,2073l4-16-3,19-4,17z />
<path color=#7fbf7a d=M274,2054l4,19-3,20-4-20z />
<path color=#a9be69 d=M263,2065l3-15-2,20-4,15z />
<path color=#b7bd64 d=M259,2045l4,20-3,20-4-20z />
<path color=#e3b951 d=M248,2054l3-14-2,19-4,15z />
<path color=#f1b94a d=M398,2011l4,12-3-15-4-12z />
<path color=#fad32a d=M394,1998l4,13-3-15-3-13z />
<path color=#fdca31 d=M390,2021l4-23-2-15-4,23z />
<path color=#c6bc5e d=M387,2043l3-22-2-15-4,22z />
<path color=#b9bd63 d=M383,2030l4,13-3-15-4-13z />
<path color=#edb94c d=M379,2017l4,13-3-15-4-13z />
<path color=#e2b951 d=M375,2039l4-22-3-15-3,22z />
<path color=#92bf72 d=M371,2060l4-21-2-15-4,21z />
<path color=#86bf77 d=M368,2046l3,14-2-15-4-14z />
<path color=#c5bc5e d=M364,2032l4,14-3-15-4-14z />
<path color=#bdbd61 d=M360,2053l4-21-3-15-4,21z />
<path color=#64be86 d=M356,2073l4-20-3-15-3,20z />
<path color=#5bbd8b d=M352,2059l4,14-2-15-4-14z />
<path color=#a8be6a d=M349,2044l3,15-2-15-4-15z />
<path color=#a2be6c d=M345,2064l4-20-3-15-4,20z />
<path color=#46bb95 d=M341,2083l4-19-3-15-4,19z />
<path color=#42bb98 d=M337,2068l4,15-3-15-3-15z />
<path color=#97bf70 d=M334,2052l3,16-2-15-4-16z />
<path color=#95bf71 d=M330,2071l4-19-3-15-4,19z />
<path color=#3cba9b d=M326,2090l4-19-3-15-4,19zM322,2073l4,17-3-15-3-17z />
<path color=#95bf71 d=M318,2056l4,17-2-15-4-16z />
<path color=#97bf70 d=M315,2075l3-19-2-14-4,18z />
<path color=#42bb98 d=M311,2093l4-18-3-15-4,18z />
<path color=#46bb95 d=M307,2075l4,18-3-15-4-18z />
<path color=#a2be6c d=M303,2058l4,17-3-15-3-17z />
<path color=#a8be6a d=M299,2075l4-17-2-15-4,17z />
<path color=#5bbd8b d=M296,2092l3-17-2-15-4,17z />
<path color=#64be86 d=M292,2074l4,18-3-15-4-18z />
<path color=#bdbd61 d=M288,2055l4,19-3-15-4-19z />
<path color=#c5bc5e d=M284,2072l4-17-3-15-3,17z />
<path color=#86bf77 d=M280,2088l4-16-2-15-4,16z />
<path color=#92bf72 d=M277,2069l3,19-2-15-4-19z />
<path color=#e2b951 d=M273,2049l4,20-3-15-4-20z />
<path color=#edb94c d=M269,2065l4-16-3-15-4,16z />
<path color=#b9bd63 d=M265,2080l4-15-3-15-3,15z />
<path color=#fdca31 d=M258,2040l4,20-3-15-4-20z />
<path color=#fad32a d=M254,2054l4-14-3-15-4,15z />
<path color=#f1b94a d=M250,2069l4-15-3-14-3,14z />
<path color=#c0bc60 d=M401,2026l3,12-2-15-4-12z />
<path color=#f1b94a d=M397,2013l4,13-3-15-4-13z />
<path color=#e3b951 d=M393,2036l4-23-3-15-4,23z />
<path color=#8fbf74 d=M389,2058l4-22-3-15-3,22z />
<path color=#7ebf7b d=M385,2045l4,13-2-15-4-13z />
<path color=#bcbd62 d=M382,2032l3,13-2-15-4-13z />
<path color=#b0bd66 d=M378,2053l4-21-3-15-4,22z />
<path color=#4ebc91 d=M374,2075l4-22-3-14-4,21z />
<path color=#41ba98 d=M370,2061l4,14-3-15-3-14z />
<path color=#8ebf74 d=M366,2047l4,14-2-15-4-14z />
<path color=#84bf78 d=M363,2068l3-21-2-15-4,21z />
<path color=#25b5aa d=M359,2088l4-20-3-15-4,20z />
<path color=#1fb3ae d=M355,2073l4,15-3-15-4-14z />
<path color=#69be84 d=M351,2059l4,14-3-14-3-15z />
<path color=#62be87 d=M348,2078l3-19-2-15-4,20z />
<path color=#12afb7 d=M344,2098l4-20-3-14-4,19z />
<path color=#0faeb9 d=M340,2082l4,16-3-15-4-15z />
<path color=#54bd8e d=M336,2067l4,15-3-14-3-16z />
<path color=#52bd8f d=M332,2086l4-19-2-15-4,19z />
<path color=#0cadbb d=M329,2104l3-18-2-15-4,19zM325,2088l4,16-3-14-4-17z />
<path color=#52bd8f d=M321,2071l4,17-3-15-4-17z />
<path color=#54bd8e d=M317,2089l4-18-3-15-3,19z />
<path color=#0faeb9 d=M313,2107l4-18-2-14-4,18z />
<path color=#12afb7 d=M310,2090l3,17-2-14-4-18z />
<path color=#62be87 d=M306,2072l4,18-3-15-4-17z />
<path color=#69be84 d=M302,2090l4-18-3-14-4,17z />
<path color=#1fb3ae d=M298,2107l4-17-3-15-3,17z />
<path color=#25b5aa d=M294,2088l4,19-2-15-4-18z />
<path color=#84bf78 d=M291,2070l3,18-2-14-4-19z />
<path color=#8ebf74 d=M287,2086l4-16-3-15-4,17z />
<path color=#41ba98 d=M283,2102l4-16-3-14-4,16z />
<path color=#4ebc91 d=M279,2083l4,19-3-14-3-19z />
<path color=#b0bd66 d=M276,2064l3,19-2-14-4-20z />
<path color=#bcbd62 d=M272,2079l4-15-3-15-4,16z />
<path color=#7ebf7b d=M268,2095l4-16-3-14-4,15z />
<path color=#8fbf74 d=M264,2075l4,20-3-15-3-20z />
<path color=#e3b951 d=M260,2055l4,20-2-15-4-20z />
<path color=#f1b94a d=M257,2069l3-14-2-15-4,14z />
<path color=#c0bc60 d=M253,2084l4-15-3-15-4,15z /></g>
<text x="48.3" y="479" font-size="9.5" textLength="40.1" lengthAdjust="spacingAndGlyphs">Rastrigin</text>
<text class="t" transform="translate(15.5 511) rotate(-90)" font-size="9.4" text-anchor="middle" textLength="41" lengthAdjust="spacingAndGlyphs">F9(&#160;x<tspan font-size="7.3" dy="4.7">1</tspan><tspan dy="-4.7">&#160;,&#160;x</tspan><tspan font-size="7.3" dy="4.7">2</tspan><tspan dy="-4.7">&#160;)</tspan></text>
<text x="33.3" y="508.9" font-size="8.5" text-anchor="end" class="t">50</text>
<text x="33.3" y="530.4" font-size="8.5" text-anchor="end" class="t">0</text>
<text x="33.3" y="538.1" font-size="8.5" text-anchor="end" class="t">5</text>
<text x="44" y="546.2" font-size="8.5" text-anchor="middle" class="t">0</text>
<text x="56.3" y="554.4" font-size="8.5" text-anchor="middle" class="t">-5</text>
<text x="70" y="555.4" font-size="8.5" text-anchor="middle" class="t">-5</text>
<text x="87.3" y="548.5" font-size="8.5" text-anchor="middle" class="t">0</text>
<text x="105.7" y="542.9" font-size="8.5" text-anchor="middle" class="t">5</text>
<text class="t" x="28.6" y="559.7" font-size="9.4">x<tspan font-size="7.3" dy="3.9">2</tspan></text>
<text class="t" x="93" y="559.9" font-size="9.4">x<tspan font-size="7.3" dy="3.9">1</tspan></text>
<path fill="none" stroke="#c4c4c4" stroke-width="0.8" d="M295.3 492.2L295.3 521.8L320.3 534.9L348.3 524.2"/>
<g transform="scale(.25)" filter="url(#bl)" style="fill:currentColor;stroke:currentColor;stroke-width:2;stroke-linejoin:round"><path fill=none stroke="#0c5ede" stroke-width="1.8" opacity="0.85" d="M1288,2092l-2,0,2,0" />
<path fill=none stroke="#127cd9" stroke-width="1.8" opacity="0.85" d="M1288,2089l5,3-6,3-6-3,7-3" />
<path fill=none stroke="#0899d1" stroke-width="1.8" opacity="0.85" d="M1285,2088l9,1,2,5-7,2-11-3,7-5" />
<path fill=none stroke="#0dadbb" stroke-width="1.8" opacity="0.85" d="M1294,2098l0,0M1298,2097l0,0M1300,2096l0,0M1282,2087l15,1,2,7-7,2-14-1-2-7,6-2M1290,2097l-2,1,2-1M1301,2093l-2,1,2-1M1285,2097l0,0M1300,2091l0,0M1279,2098l0,0M1301,2089l0,0M1277,2096l0,0M1299,2088l0,0M1273,2095l0,0M1296,2086l0,0M1274,2092l0,0M1290,2086l0,0M1276,2090l-2,1,2-1M1286,2086l-2,1,2-1M1274,2088l0,0M1278,2087l0,0M1280,2086l0,0" />
<path fill=none stroke="#42bb98" stroke-width="1.8" opacity="0.85" d="M1278,2084l21,1,5,3-1,1,3,5-9,6-22-1-5-3,2-1-4-5,10-6M1286,2101l0,0M1309,2093l0,0M1266,2091l0,0M1289,2082l0,0" />
<path fill=none stroke="#8bbf75" stroke-width="1.8" opacity="0.85" d="M1296,2104l0,0M1302,2102l0,0M1305,2101l0,0M1308,2100l0,0M1313,2098l0,0M1280,2081l17,1-2,0,10,3,5,3-1,2,3-1-3,7,2,1-23,6-11-1,2,0-17-7,3-1-3-2,3-4-2-1,17-6M1291,2104l0,0M1313,2095l0,0M1286,2104l0,0M1314,2093l0,0M1281,2103l0,0M1314,2091l0,0M1275,2103l0,0M1314,2088l0,0M1271,2101l0,0M1310,2086l0,0M1269,2099l0,0M1307,2084l0,0M1266,2098l0,0M1304,2083l0,0M1261,2096l0,0M1299,2081l0,0M1261,2093l0,0M1294,2080l0,0M1261,2091l0,0M1289,2080l0,0M1262,2089l0,0M1284,2080l0,0M1262,2086l0,0M1268,2084l0,0M1271,2083l0,0M1273,2082l0,0M1278,2080l0,0" />
<path fill=none stroke="#c7bc5d" stroke-width="1.8" opacity="0.85" d="M1312,2105l0,0M1299,2108l0,0M1302,2107l0,0M1305,2106l0,0M1268,2079l21-2,21,4-2,1,8,2-2,1,4,2-1,2,3-1-2,2,2,1-2,2,2,3-3,1,2,2-3-1,0,2-4,1,1,2-8,1,2,1-12,0,2,2-33-4,2-1-7-2,2-1-4-2,1-2-4,1,2-2-2-4,3-3-2-2,4,1-1-2,5-1-2-2,7-2M1316,2102l0,0M1319,2101l0,0M1321,2100l0,0M1294,2108l0,0M1322,2097l0,0M1299,2105l0,0M1313,2099l0,0M1285,2108l0,0M1289,2107l0,0M1322,2094l0,0M1324,2094l0,0M1290,2106l0,0M1317,2096l0,0M1283,2107l0,0M1322,2092l0,0M1278,2107l0,0M1323,2090l0,0M1280,2105l0,0M1316,2091l0,0M1272,2107l0,0M1323,2088l0,0M1270,2105l0,0M1320,2086l0,0M1272,2103l0,0M1315,2087l0,0M1267,2104l0,0M1317,2085l0,0M1260,2102l0,0M1315,2082l0,0M1257,2099l0,0M1307,2079l0,0M1259,2097l0,0M1302,2080l0,0M1255,2098l0,0M1306,2078l0,0M1252,2096l0,0M1303,2077l0,0M1257,2093l0,0M1293,2079l0,0M1253,2094l0,0M1297,2077l0,0M1253,2091l0,0M1291,2076l0,0M1258,2088l0,0M1284,2078l0,0M1251,2090l0,0M1254,2089l0,0M1287,2076l0,0M1290,2076l0,0M1260,2084l0,0M1275,2079l0,0M1254,2087l0,0M1282,2076l0,0M1254,2084l0,0M1257,2083l0,0M1260,2082l0,0M1271,2078l0,0M1273,2077l0,0M1276,2076l0,0M1263,2079l0,0" />
<path fill=none stroke="#f9bb43" stroke-width="1.8" opacity="0.85" d="M1325,2111l0,0M1322,2110l0,0M1306,2114l0,0M1309,2113l0,0M1312,2112l0,0M1315,2111l0,0M1318,2110l0,0M1319,2109l0,0M1323,2108l0,0M1326,2107l0,0M1329,2106l0,0M1332,2105l0,0M1334,2104l0,0M1292,2117l0,0M1295,2116l0,0M1298,2115l0,0M1301,2114l0,0M1304,2113l0,0M1307,2112l0,0M1310,2110l-2,1,2-1M1313,2109l-3,1,3-1M1261,2075l25-4,19,4,1-2,18,7-2,2,10,5-5,0,5,2-3,1,4,3-2,1,2,2-8,5,5,0-15,8-27,4-19-4-1,2-18-7,2-2-9-5,4,0-6-6,2-1-2-2,5-2-2-1,5-2-4,0,16-8M1324,2105l-3,1,3-1M1327,2104l-2,1,2-1M1329,2103l0,0M1332,2102l0,0M1335,2101l0,0M1337,2100l0,0M1340,2099l0,0M1343,2098l0,0M1314,2107l2,1-2-1M1316,2106l3,0-3,0M1289,2116l0,0M1293,2115l0,0M1296,2113l0,0M1299,2112l-2,1,2-1M1332,2100l-2,0,2,0M1335,2099l0,0M1337,2098l0,0M1340,2097l0,0M1304,2109l0,0M1306,2108l0,0M1321,2103l0,0M1323,2102l0,0M1290,2113l0,0M1293,2112l0,0M1332,2097l0,0M1335,2096l0,0M1286,2114l0,0M1337,2095l0,0M1295,2110l0,0M1326,2099l0,0M1276,2117l0,0M1280,2115l0,0M1283,2114l0,0M1285,2113l0,0M1336,2094l0,0M1338,2093l0,0M1341,2092l0,0M1344,2091l0,0M1286,2111l3,1-3-1M1329,2095l2,1-2-1M1274,2115l0,0M1277,2114l0,0M1280,2113l-2,0,2,0M1336,2092l-2,0,2,0M1338,2091l0,0M1341,2090l0,0M1282,2110l0,0M1330,2092l0,0M1271,2114l0,0M1275,2112l0,0M1278,2111l-3,1,3-1M1334,2090l-3,1,3-1M1336,2089l0,0M1338,2088l0,0M1268,2112l0,0M1272,2111l0,0M1333,2088l0,0M1336,2087l0,0M1274,2109l0,0M1327,2089l0,0M1264,2112l0,0M1267,2111l0,0M1334,2086l0,0M1337,2085l0,0M1261,2111l0,0M1265,2110l0,0M1332,2084l0,0M1334,2083l0,0M1266,2107l0,0M1325,2085l0,0M1262,2108l0,0M1329,2083l0,0M1259,2109l0,0M1331,2082l0,0M1264,2106l0,0M1323,2084l0,0M1255,2108l0,0M1259,2107l0,0M1326,2081l0,0M1329,2080l0,0M1254,2107l0,0M1327,2079l0,0M1256,2104l-1,1,1-1M1320,2080l2,1-2-1M1246,2108l0,0M1249,2107l0,0M1252,2105l0,0M1324,2078l0,0M1326,2077l0,0M1329,2076l0,0M1252,2103l3,0-3,0M1317,2078l3,1-3-1M1249,2104l0,0M1322,2077l0,0M1245,2103l0,0M1249,2102l0,0M1316,2076l0,0M1318,2075l0,0M1251,2100l0,0M1310,2077l0,0M1244,2102l0,0M1246,2100l0,0M1313,2075l0,0M1317,2074l0,0M1248,2098l0,0M1307,2076l0,0M1241,2100l0,0M1245,2099l0,0M1312,2074l0,0M1314,2073l0,0M1238,2099l0,0M1242,2098l0,0M1309,2072l0,0M1311,2071l0,0M1247,2095l0,0M1299,2075l0,0M1238,2097l0,0M1242,2095l0,0M1303,2072l0,0M1305,2071l0,0M1237,2096l0,0M1240,2094l0,0M1243,2093l-2,1,2-1M1299,2072l-3,1,3-1M1301,2071l0,0M1304,2070l0,0M1244,2091l0,0M1292,2073l0,0M1234,2094l0,0M1237,2093l0,0M1240,2092l-2,0,2,0M1296,2071l-2,0,2,0M1298,2070l0,0M1301,2069l0,0M1243,2088l3,1-3-1M1286,2072l2,1-2-1M1231,2093l0,0M1234,2092l0,0M1237,2090l0,0M1240,2089l0,0M1290,2070l0,0M1293,2069l0,0M1295,2068l0,0M1298,2067l0,0M1248,2085l0,0M1278,2073l0,0M1237,2089l0,0M1240,2087l0,0M1243,2086l0,0M1282,2071l0,0M1284,2070l0,0M1288,2069l0,0M1252,2082l0,0M1253,2081l0,0M1268,2075l0,0M1271,2074l0,0M1235,2087l0,0M1238,2086l0,0M1241,2085l0,0M1244,2084l-2,0,2,0M1278,2071l-2,1,2-1M1280,2070l0,0M1283,2069l0,0M1286,2068l0,0M1256,2077l2,1-2-1M1260,2076l0,0M1232,2086l0,0M1235,2085l0,0M1238,2083l0,0M1241,2082l0,0M1244,2081l0,0M1247,2080l0,0M1250,2079l-2,1,2-1M1253,2078l-3,1,3-1M1264,2074l-3,1,3-1M1267,2073l-2,1,2-1M1269,2072l0,0M1272,2071l0,0M1275,2070l0,0M1277,2069l0,0M1280,2068l0,0M1283,2067l0,0M1255,2075l0,0M1241,2080l0,0M1244,2079l0,0M1247,2078l0,0M1250,2077l0,0M1252,2076l0,0M1258,2074l0,0M1261,2072l0,0M1263,2072l0,0M1266,2070l0,0M1269,2069l0,0M1253,2074l0,0M1250,2072l0,0" />
<path fill=none stroke="#f6dc23" stroke-width="1.8" opacity="0.85" d="M1281,2139l1,0M1284,2138l0,0M1289,2136l1,0M1292,2135l1,0M1295,2134l1,0M1297,2133l2,0M1300,2132l1,0M1303,2131l1,0M1306,2130l1,0M1308,2129l2,0M1311,2128l2,0M1314,2127l2-1M1317,2126l1-1M1319,2125l2-1M1322,2124l2-1M1325,2123l2-1M1328,2122l2-1M1331,2121l2-1M1333,2120l2-1M1336,2119l2-1M1339,2118l2-1M1342,2116l2,0M1345,2115l2,0M1348,2114l1,0M1350,2113l2,0M1353,2112l2-1M1356,2111l1,0M1359,2110l1-1M1362,2109l1-1M1364,2108l2-1M1367,2107l1-1M1370,2106l1-1M1373,2105l1-1M1376,2104l1-1M1379,2103l0-1M1382,2101l0,0M1385,2100l0,0M1390,2098l0,0M1393,2097l0,0M1324,2121l0,0M1327,2120l-2,0,2,0M1333,2117l-2,1,2-1M1335,2116l0,0M1338,2115l-2,1,2-1M1344,2113l-2,1,2-1M1347,2112l0,0M1278,2138l1,0M1282,2137l0,0M1287,2135l0,0M1290,2134l0,0M1293,2132l0,0M1298,2130l0,0M1301,2129l0,0M1304,2128l0,0M1307,2127l0,0M1310,2126l0,0M1313,2125l0,0M1316,2124l0,0M1319,2123l-2,1,2-1M1321,2122l-1,0,1,0M1330,2118l-2,1,2-1M1341,2114l-2,1,2-1M1349,2111l-2,1,2-1M1352,2110l-2,1,2-1M1355,2109l0,0M1358,2108l0,0M1360,2107l0,0M1363,2106l0,0M1366,2105l0,0M1369,2104l0,0M1371,2103l0,0M1377,2101l0,0M1380,2100l0,0M1383,2099l0,0M1388,2097l0,0M1391,2096l-1-1M1287,2132l0,0M1295,2129l0,0M1298,2128l0,0M1301,2127l0,0M1307,2125l0,0M1310,2124l0,0M1313,2122l0,0M1316,2121l0,0M1319,2120l0,0M1321,2119l0,0M1324,2118l-2,1,2-1M1327,2117l-2,1,2-1M1246,2067l16-2,3-1-2-2,5,1-2-2,13,3,13-3,10,4,14-2-3,2,6,0-3,1,7,1,9,5,4-1-3,1,6,0-3,2,6,0-3,2,10,4-3,2,10,2-3,1,3,2-6,3,5,1-3,1,5,4-9,4,6,3-3,2,2,1-10,1,2,2-11,4,2,2-5-1,2,2-5,0,2,1-4-1-17,4,2,2-5-1,2,2-13-3-13,3-10-4-13,2,2-2-5,0,3-1-8-1-8-5-5,1,3-1-6,0,3-2-5,0,3-2-10-4,2-2-9-2,2-1-2-2,6-3-6-1,3-1-5-4,9-4-5-3,3-2-3-1,11-1-3-2,17-8M1338,2113l-2,1,2-1M1341,2112l-2,1,2-1M1344,2111l0,0M1347,2110l0,0M1349,2109l0,0M1352,2108l0,0M1355,2107l0,0M1358,2106l0,0M1363,2104l0,0M1366,2103l0,0M1369,2101l0,0M1377,2098l0,0M1290,2131l0,0M1304,2126l0,0M1360,2105l0,0M1373,2100l0,0M1274,2135l0,1M1277,2134l0,0M1282,2132l0,0M1286,2131l0,0M1289,2130l0,0M1291,2129l0,0M1294,2128l0,0M1295,2127l0,0M1300,2126l0,0M1303,2125l-2,0,2,0M1304,2123l2,0-2,0M1313,2120l-2,0,2,0M1347,2107l-3,0,3,0M1355,2104l0,0M1359,2103l-2,1,2-1M1361,2102l0,0M1363,2101l0,0M1367,2100l0,0M1370,2099l0,0M1372,2098l0,0M1375,2097l0,0M1378,2096l0,0M1383,2094l0,0M1386,2093l0,0M1316,2118l1,1-1-1M1319,2117l0,0M1321,2116l2,1-2-1M1324,2115l2,1-2-1M1327,2114l0,0M1329,2113l0,0M1332,2112l2,1-2-1M1335,2111l2,1-2-1M1338,2109l0,0M1341,2108l0,0M1271,2134l1,0M1275,2133l0,0M1277,2132l0,0M1280,2131l0,0M1283,2130l0,0M1286,2129l0,0M1289,2127l0,0M1292,2126l0,0M1294,2125l0,0M1297,2124l-2,1,2-1M1301,2123l-3,1,3-1M1356,2102l-2,1,2-1M1359,2101l-2,1,2-1M1362,2100l0,0M1365,2099l0,0M1367,2098l0,0M1370,2097l0,0M1373,2096l0,0M1375,2095l0,0M1378,2094l0,0M1381,2093l0,0M1384,2092l-1,0M1302,2121l2,1-2-1M1304,2120l2,0-2,0M1307,2119l2,1-2-1M1310,2118l0,0M1314,2117l0,0M1316,2116l0,0M1319,2115l0,0M1322,2114l0,0M1330,2111l0,0M1333,2110l0,0M1336,2109l0,0M1338,2108l0,0M1341,2106l0,0M1343,2105l2,1-2-1M1346,2104l2,1-2-1M1350,2103l0,0M1292,2124l0,0M1295,2123l-3,1,3-1M1298,2122l-3,1,3-1M1354,2100l-3,1,3-1M1357,2099l-3,1,3-1M1359,2098l0,0M1268,2133l1,0M1272,2131l0,0M1275,2130l0,0M1277,2129l0,0M1280,2128l0,0M1283,2127l0,0M1286,2126l0,0M1289,2125l0,0M1362,2097l0,0M1365,2096l0,0M1367,2095l0,0M1370,2094l0,0M1373,2093l0,0M1375,2093l0,0M1378,2091l0,0M1381,2091l-1-1M1300,2120l0,0M1303,2119l0,0M1305,2118l0,0M1308,2117l0,0M1339,2105l0,0M1342,2104l0,0M1345,2103l0,0M1348,2102l0,0M1266,2131l1,1M1274,2128l0,0M1277,2127l0,0M1280,2126l0,0M1283,2125l0,0M1286,2124l0,0M1289,2122l0,0M1356,2097l0,0M1359,2096l0,0M1362,2095l0,0M1364,2094l0,0M1367,2093l0,0M1370,2092l0,0M1379,2089l-1,0M1294,2119l0,0M1297,2118l0,0M1344,2101l0,0M1347,2099l0,0M1263,2130l1,1M1267,2129l0,0M1270,2128l0,0M1273,2127l0,0M1274,2126l0,0M1277,2124l0,0M1282,2124l-3,0,3,0M1360,2094l-2,1,2-1M1361,2093l0,0M1364,2092l0,0M1368,2091l0,0M1371,2090l0,0M1373,2089l0,0M1376,2088l-1,0M1283,2121l2,1-2-1M1286,2120l0,0M1288,2119l0,0M1347,2097l0,0M1350,2096l0,0M1353,2095l0,0M1261,2129l1,0M1265,2128l0,0M1268,2126l0,0M1270,2125l0,0M1273,2124l0,0M1276,2123l-2,1,2-1M1279,2122l-2,1,2-1M1358,2092l-3,1,3-1M1360,2091l-2,1,2-1M1363,2090l0,0M1366,2089l0,0M1368,2088l0,0M1371,2087l0,0M1374,2087l-1-1M1281,2120l0,0M1283,2119l0,0M1287,2118l0,0M1346,2096l0,0M1348,2095l0,0M1350,2094l2,0-2,0M1271,2123l0,0M1274,2122l-3,1,3-1M1358,2090l-3,1,3-1M1360,2089l0,0M1258,2127l1,1M1262,2126l0,0M1265,2125l0,0M1268,2124l0,0M1363,2088l0,0M1366,2087l0,0M1368,2086l0,0M1371,2085l-1,0M1279,2119l0,0M1281,2118l0,0M1346,2093l0,0M1349,2092l0,0M1255,2126l2,1M1259,2125l0,0M1265,2123l0,0M1268,2122l0,0M1271,2120l-2,1,2-1M1355,2089l-2,0,2,0M1357,2088l0,0M1360,2087l0,0M1365,2085l0,0M1369,2084l-2,0M1262,2124l0,0M1362,2086l0,0M1273,2118l0,0M1348,2090l0,0M1253,2125l1,0M1258,2124l0,0M1261,2123l-2,0,2,0M1261,2121l3,0-3,0M1357,2085l0,0M1361,2084l-2,1,2-1M1364,2084l0,0M1366,2083l-1-1M1265,2119l0,0M1267,2118l2,1-2-1M1348,2087l2,1-2-1M1351,2086l3,1-3-1M1270,2117l0,0M1346,2089l0,0M1251,2123l1,1M1255,2122l0,0M1258,2121l-2,1,2-1M1359,2083l-3,1,3-1M1361,2082l0,0M1364,2082l-1-1M1261,2118l3,0-3,0M1265,2117l0,0M1346,2086l0,0M1349,2085l2,1-2-1M1248,2122l1,1M1252,2121l0,0M1255,2120l-2,1,2-1M1356,2082l-2,0,2,0M1358,2081l0,0M1361,2080l-1,0M1261,2117l0,0M1263,2116l0,0M1344,2085l0,0M1347,2084l0,0M1245,2121l2,1M1249,2119l0,0M1252,2118l0,0M1256,2117l-3,1,3-1M1350,2081l-2,1,2-1M1353,2080l0,0M1355,2079l0,0M1359,2079l-2-1M1258,2115l0,0M1260,2115l0,0M1342,2084l0,0M1344,2082l0,0M1243,2119l2,1M1246,2118l0,0M1249,2117l0,0M1349,2079l2,0-2,0M1352,2078l0,0M1357,2078l-2-1M1252,2115l0,0M1345,2080l0,0M1254,2114l0,0M1342,2081l0,0M1240,2118l2,1M1245,2117l-2,1,2-1M1248,2116l-3,1,3-1M1349,2078l-3,1,3-1M1352,2077l-3,1,3-1M1354,2076l-2,0M1249,2114l0,0M1252,2113l0,0M1340,2080l0,0M1341,2079l3,0-3,0M1238,2117l2,1M1242,2116l-2,0,2,0M1246,2114l-3,1,3-1M1346,2076l-3,1,3-1M1349,2075l-2,1,2-1M1352,2075l-2-1M1247,2112l0,0M1250,2112l0,0M1337,2079l0,0M1340,2077l0,0M1235,2115l2,1M1239,2114l0,0M1243,2113l-3,1,3-1M1343,2075l-2,1,2-1M1345,2074l0,0M1349,2074l-2-1M1245,2111l0,0M1247,2110l0,0M1335,2077l0,0M1337,2076l0,0M1233,2114l2,1M1236,2113l0,0M1342,2073l0,0M1347,2073l-2-1M1242,2110l0,0M1335,2075l0,0M1230,2113l2,1M1235,2112l-2,1,2-1M1342,2071l-3,1,3-1M1344,2071l-2-1M1240,2108l0,0M1333,2074l0,0M1228,2111l2,1M1232,2110l-2,1,2-1M1339,2070l-2,1,2-1M1342,2070l-2-1M1237,2107l0,0M1240,2107l0,0M1327,2074l0,0M1330,2072l0,0M1225,2110l2,1M1229,2109l0,0M1233,2108l-3,1,3-1M1333,2070l-2,1,2-1M1335,2069l0,0M1339,2069l-2-1M1235,2106l0,0M1237,2105l0,0M1325,2072l0,0M1327,2071l0,0M1223,2109l2,1M1226,2108l0,0M1229,2107l0,0M1330,2068l0,0M1332,2068l0,0M1337,2067l-2-1M1232,2104l0,0M1325,2069l0,0M1234,2104l0,0M1322,2071l0,0M1220,2108l2,0M1225,2106l-2,1,2-1M1228,2105l-3,1,3-1M1329,2067l-3,1,3-1M1332,2066l-3,1,3-1M1334,2066l-2-1M1229,2103l0,0M1232,2103l0,0M1319,2069l0,0M1322,2068l0,0M1218,2106l1,1M1222,2105l0,0M1225,2104l-2,1,2-1M1326,2066l-2,1,2-1M1328,2065l0,0M1331,2065l-1-1M1231,2101l0,0M1233,2100l0,0M1314,2069l0,0M1317,2068l0,0M1215,2105l2,1M1219,2104l0,0M1222,2103l0,0M1226,2101l-3,1,3-1M1320,2066l-2,0,2,0M1323,2065l0,0M1325,2064l0,0M1329,2063l-2-1M1228,2100l0,0M1230,2099l0,0M1311,2068l0,0M1314,2067l0,0M1213,2104l1,0M1218,2103l0,0M1221,2102l-3,0,3,0M1321,2063l-2,1,2-1M1324,2063l0,0M1326,2062l-1-1M1225,2098l0,0M1227,2097l0,0M1308,2066l0,0M1311,2065l2,1-2-1M1211,2102l1,1M1215,2101l0,0M1218,2100l-2,1,2-1M1319,2062l-3,1,3-1M1321,2061l0,0M1324,2061l-1-1M1222,2097l0,0M1224,2096l2,1-2-1M1228,2095l0,0M1303,2066l0,0M1305,2065l2,1-2-1M1308,2064l3,1-3-1M1218,2098l-2,0,2,0M1313,2062l-2,1,2-1M1208,2101l1,1M1212,2100l0,0M1215,2099l-2,1,2-1M1316,2061l-2,0,2,0M1318,2060l0,0M1321,2059l-1,0M1225,2093l0,0M1300,2065l0,0M1206,2100l1,0M1209,2099l0,0M1213,2098l0,0M1215,2097l0,0M1218,2095l0,0M1221,2094l-2,1,2-1M1305,2062l-2,1,2-1M1307,2061l0,0M1310,2060l0,0M1313,2060l0,0M1315,2059l0,0M1319,2058l-1-1M1226,2091l0,0M1228,2091l0,0M1293,2066l0,0M1296,2065l0,0M1203,2099l1,0M1207,2098l0,0M1210,2096l0,0M1213,2095l0,0M1214,2094l0,0M1218,2093l0,0M1301,2061l2,0-2,0M1304,2060l0,0M1308,2059l0,0M1311,2058l0,0M1314,2057l0,0M1316,2057l-1-1M1223,2090l0,0M1294,2063l0,0M1225,2089l0,0M1229,2088l0,0M1288,2066l0,0M1290,2064l0,0M1201,2097l1,1M1205,2096l0,0M1208,2095l0,0M1210,2094l0,0M1213,2093l0,0M1216,2092l-2,1,2-1M1219,2091l-2,1,2-1M1298,2061l-3,1,3-1M1300,2060l-2,1,2-1M1303,2059l0,0M1306,2058l0,0M1308,2057l0,0M1311,2056l0,0M1314,2055l-1,0M1220,2088l2,1-2-1M1222,2087l3,1-3-1M1226,2086l0,0M1285,2064l0,0M1287,2063l0,0M1291,2062l2,0-2,0M1210,2092l0,0M1213,2090l0,0M1297,2059l0,0M1300,2058l0,0M1198,2096l1,0M1202,2095l0,0M1205,2094l0,0M1207,2093l0,0M1216,2089l-2,1,2-1M1295,2060l-3,0,3,0M1303,2057l0,0M1305,2056l0,0M1308,2055l0,0M1311,2054l-1-1M1226,2084l0,0M1230,2083l0,0M1277,2065l0,0M1279,2064l0,0M1196,2095l1,0M1204,2091l0,0M1207,2090l0,0M1210,2089l0,0M1213,2088l0,0M1216,2087l0,0M1219,2086l0,0M1286,2060l0,0M1289,2059l0,0M1292,2058l0,0M1294,2057l0,0M1297,2056l0,0M1300,2055l0,0M1309,2053l-1-1M1227,2082l0,0M1230,2081l0,0M1232,2080l0,0M1236,2079l0,0M1266,2067l0,0M1269,2066l0,0M1272,2065l0,0M1275,2064l0,0M1193,2093l1,1M1197,2092l0,0M1200,2091l0,0M1203,2090l0,0M1206,2089l0,0M1209,2088l0,0M1212,2087l0,0M1214,2086l-2,0,2,0M1216,2085l0,0M1219,2083l0,0M1222,2082l0,0M1278,2061l0,0M1280,2060l2,0-2,0M1283,2059l0,0M1287,2058l0,0M1290,2057l0,0M1292,2056l0,0M1295,2055l0,0M1298,2054l0,0M1300,2054l0,0M1303,2052l0,0M1306,2051l-1,0M1224,2080l2,1-2-1M1228,2079l0,0M1229,2078l2,1-2-1M1232,2077l0,0M1263,2065l0,0M1266,2064l2,1-2-1M1269,2063l2,1-2-1M1272,2062l0,0M1236,2076l0,0M1238,2075l0,0M1241,2074l0,0M1244,2073l0,0M1252,2070l0,0M1255,2069l0,0M1258,2068l0,0M1260,2067l0,0M1191,2092l1,0M1195,2091l0,0M1197,2090l0,0M1200,2089l0,0M1203,2088l0,0M1206,2087l0,0M1209,2086l0,0M1212,2084l0,0M1214,2083l0,0M1217,2082l-2,1,2-1M1221,2081l-3,1,3-1M1276,2060l-2,1,2-1M1279,2059l-2,1,2-1M1282,2058l0,0M1285,2057l0,0M1287,2056l0,0M1290,2055l0,0M1293,2054l0,0M1295,2053l0,0M1298,2052l0,0M1301,2051l0,0M1304,2050l-1,0M1233,2074l1,1-1-1M1235,2074l2,0-2,0M1238,2072l2,1-2-1M1241,2071l2,1-2-1M1244,2070l0,0M1246,2070l0,0M1249,2068l2,1-2-1M1252,2067l2,1-2-1M1255,2066l0,0M1259,2065l0,0M1212,2082l0,0M1220,2079l-2,1,2-1M1229,2075l-3,1,3-1M1263,2063l-3,1,3-1M1271,2060l-3,1,3-1M1279,2057l0,0M1188,2091l1,0M1192,2090l0,0M1197,2088l0,0M1200,2086l0,0M1203,2085l0,0M1206,2084l0,0M1209,2083l0,0M1215,2081l0,0M1218,2080l-3,1,3-1M1273,2059l-2,0,2,0M1276,2058l0,0M1282,2056l0,0M1284,2055l0,0M1287,2054l0,0M1290,2052l0,0M1293,2051l0,0M1298,2049l0,0M1301,2049l-1-1M1197,2085l0,0M1201,2084l0,0M1205,2082l0,0M1208,2081l0,0M1211,2080l0,0M1215,2079l0,0M1217,2078l0,0M1220,2076l0,0M1223,2075l0,0M1226,2074l0,0M1228,2073l0,0M1231,2072l0,0M1234,2071l0,0M1237,2070l-2,1,2-1M1248,2066l-2,0,2,0M1251,2065l0,0M1254,2064l0,0M1257,2063l0,0M1259,2062l0,0M1262,2061l0,0M1265,2059l0,0M1268,2058l0,0M1271,2058l0,0M1273,2056l0,0M1276,2055l0,0M1278,2054l0,0M1284,2053l0,0M1287,2051l0,0M1184,2088l0,1M1187,2087l0,0M1192,2085l0,0M1195,2084l0,0M1198,2083l0,0M1204,2081l0,0M1207,2080l0,0M1210,2079l0,0M1213,2078l0,0M1215,2077l0,0M1218,2075l0,0M1221,2074l0,0M1224,2073l-2,1,2-1M1227,2072l-2,0,2,0M1228,2071l0,0M1231,2070l0,0M1236,2069l-3,1,3-1M1236,2068l2,0-2,0M1239,2067l0,0M1242,2066l0,0M1247,2065l-3,1,3-1M1247,2064l2,0-2,0M1250,2062l0,0M1255,2062l-2,0,2,0M1258,2060l-2,1,2-1M1260,2060l0,0M1263,2058l0,0M1266,2057l0,0M1269,2056l0,0M1271,2055l0,0M1274,2054l0,0M1277,2053l0,0M1282,2051l0,0M1285,2050l0,0M1288,2049l0,0M1293,2047l0,0M1296,2046l0,0M1182,2087l-1,0M1184,2086l0,0M1190,2084l-1,0M1193,2083l-1,0M1196,2081l-1,1M1199,2080l-2,1M1201,2079l-1,1M1204,2078l-1,1M1207,2077l-1,1M1210,2076l-2,1M1213,2075l-2,1M1216,2074l-2,1M1218,2073l-1,0M1221,2072l-2,1M1224,2071l-2,0M1227,2070l-2,0M1230,2069l-2,0M1233,2068l-2,0M1235,2066l-2,1M1238,2065l-2,1M1241,2064l-2,1M1244,2063l-2,1M1247,2062l-2,1M1249,2061l-1,1M1252,2060l-2,1M1255,2059l-2,1M1257,2058l-1,1M1260,2057l-1,1M1263,2056l-1,0M1266,2055l-2,0M1268,2054l-1,0M1271,2053l-1,0M1274,2052l-1,0M1277,2051l-1,0M1279,2050l0,0M1282,2049l0,0M1285,2048l0,0M1290,2046l0,0M1293,2045l0,0" />
<path color=#fad32a d=M1293,1935l6-3-6-3-6,3z />
<path color=#fad12b d=M1287,1938l6-3-6-3-6,2z />
<path color=#fbcf2c d=M1281,1941l6-3-6-4-6,3z />
<path color=#fcce2e d=M1275,1944l6-3-6-4-5,3z />
<path color=#fdcc2f d=M1270,1947l5-3-5-4-5,2z />
<path color=#fdca31 d=M1266,1950l4-3-5-5-5,3z />
<path color=#fec832 d=M1261,1952l5-2-6-5-4,2z />
<path color=#fec733 d=M1257,1954l4-2-5-5-4,2z />
<path color=#fec634 d=M1254,1956l3-2-5-5-4,1z />
<path color=#fec535 d=M1250,1957l4-1-6-6-3,2z />
<path color=#fec536 d=M1248,1958l2-1-5-5-3,1z />
<path color=#ffc536 d=M1245,1959l3-1-6-5-2,1z />
<path color=#ffc436 d=M1244,1960l1-1-5-5-2,0zM1243,1960l1,0-6-6-1,1zM1242,1961l1-1-6-5-1,0zM1240,1961l2,0-6-6-1,1z />
<path color=#ffc536 d=M1238,1962l2-1-5-5-3,1z />
<path color=#fec536 d=M1235,1963l3-1-6-5-2,0z />
<path color=#fec535 d=M1232,1964l3-1-5-6-4,2z />
<path color=#fec634 d=M1228,1965l4-1-6-5-3,1z />
<path color=#fec733 d=M1224,1966l4-1-5-5-4,1z />
<path color=#fec832 d=M1220,1967l4-1-5-5-5,1z />
<path color=#fdca31 d=M1215,1968l5-1-6-5-4,1z />
<path color=#fdcc2f d=M1210,1969l5-1-5-5-5,2z />
<path color=#fcce2e d=M1205,1970l5-1-5-4-6,1z />
<path color=#fbcf2c d=M1199,1971l6-1-6-4-6,2z />
<path color=#fad12b d=M1193,1973l6-2-6-3-6,1z />
<path color=#fad32a d=M1187,1975l6-2-6-4-6,2z />
<path color=#fad12b d=M1298,1939l6-3-5-4-6,3z />
<path color=#fbcf2d d=M1292,1942l6-3-5-4-6,3z />
<path color=#fccd2f d=M1286,1945l6-3-5-4-6,3z />
<path color=#fdca31 d=M1281,1949l5-4-5-4-6,3z />
<path color=#fec733 d=M1276,1952l5-3-6-5-5,3z />
<path color=#fec536 d=M1271,1955l5-3-6-5-4,3z />
<path color=#ffc338 d=M1267,1957l4-2-5-5-5,2z />
<path color=#fec13a d=M1263,1960l4-3-6-5-4,2z />
<path color=#febf3c d=M1259,1962l4-2-6-6-3,2z />
<path color=#fdbe3d d=M1256,1963l3-1-5-6-4,1z />
<path color=#fdbe3e d=M1253,1964l3-1-6-6-2,1z />
<path color=#fcbd3f d=M1251,1965l2-1-5-6-3,1zM1249,1966l2-1-6-6-1,1zM1248,1966l1,0-5-6-1,0zM1247,1967l1-1-5-6-1,1zM1246,1967l1,0-5-6-2,0zM1243,1968l3-1-6-6-2,1z />
<path color=#fdbe3e d=M1241,1969l2-1-5-6-3,1z />
<path color=#fdbe3d d=M1237,1970l4-1-6-6-3,1z />
<path color=#febf3c d=M1234,1971l3-1-5-6-4,1z />
<path color=#fec13a d=M1230,1971l4,0-6-6-4,1z />
<path color=#ffc338 d=M1225,1972l5-1-6-5-4,1z />
<path color=#fec536 d=M1221,1973l4-1-5-5-5,1z />
<path color=#fec733 d=M1215,1973l6,0-6-5-5,1z />
<path color=#fdca31 d=M1210,1974l5-1-5-4-5,1z />
<path color=#fccd2f d=M1204,1975l6-1-5-4-6,1z />
<path color=#fbcf2d d=M1198,1977l6-2-5-4-6,2z />
<path color=#fad12b d=M1192,1978l6-1-5-4-6,2z />
<path color=#fbcf2c d=M1303,1942l6-3-5-3-6,3z />
<path color=#fccd2f d=M1297,1946l6-4-5-3-6,3z />
<path color=#fec931 d=M1291,1950l6-4-5-4-6,3z />
<path color=#fec635 d=M1286,1953l5-3-5-5-5,4z />
<path color=#ffc238 d=M1281,1957l5-4-5-4-5,3z />
<path color=#febf3c d=M1276,1960l5-3-5-5-5,3z />
<path color=#fbbc40 d=M1272,1963l4-3-5-5-4,2z />
<path color=#f8bb44 d=M1268,1966l4-3-5-6-4,3z />
<path color=#f5ba46 d=M1264,1968l4-2-5-6-4,2z />
<path color=#f3ba48 d=M1261,1970l3-2-5-6-3,1z />
<path color=#f1b949 d=M1258,1971l3-1-5-7-3,1z />
<path color=#f0b94a d=M1256,1972l2-1-5-7-2,1zM1254,1973l2-1-5-7-2,1zM1253,1973l1,0-5-7-1,0zM1252,1974l1-1-5-7-1,1zM1251,1974l1,0-5-7-1,0zM1248,1975l3-1-5-7-3,1z />
<path color=#f1b949 d=M1246,1976l2-1-5-7-2,1z />
<path color=#f3ba48 d=M1242,1976l4,0-5-7-4,1z />
<path color=#f5ba46 d=M1239,1977l3-1-5-6-3,1z />
<path color=#f8bb44 d=M1235,1977l4,0-5-6-4,0z />
<path color=#fbbc40 d=M1230,1977l5,0-5-6-5,1z />
<path color=#febf3c d=M1226,1978l4-1-5-5-4,1z />
<path color=#ffc238 d=M1221,1978l5,0-5-5-6,0z />
<path color=#fec635 d=M1215,1978l6,0-6-5-5,1z />
<path color=#fec931 d=M1209,1979l6-1-5-4-6,1z />
<path color=#fccd2f d=M1203,1980l6-1-5-4-6,2z />
<path color=#fbcf2c d=M1197,1981l6-1-5-3-6,1z />
<path color=#fcce2e d=M1308,1946l6-4-5-3-6,3z />
<path color=#fdca31 d=M1302,1950l6-4-5-4-6,4z />
<path color=#fec635 d=M1296,1954l6-4-5-4-6,4z />
<path color=#fec139 d=M1291,1958l5-4-5-4-5,3z />
<path color=#fcbd3f d=M1286,1962l5-4-5-5-5,4z />
<path color=#f7ba45 d=M1281,1966l5-4-5-5-5,3z />
<path color=#f0b94a d=M1276,1969l5-3-5-6-4,3z />
<path color=#eab94d d=M1272,1973l4-4-4-6-4,3z />
<path color=#e5b950 d=M1269,1975l3-2-4-7-4,2z />
<path color=#e2b952 d=M1266,1978l3-3-5-7-3,2z />
<path color=#dfba53 d=M1263,1979l3-1-5-8-3,1z />
<path color=#deba54 d=M1261,1980l2-1-5-8-2,1z />
<path color=#ddba54 d=M1259,1981l2-1-5-8-2,1zM1258,1981l1,0-5-8-1,0zM1257,1982l1-1-5-8-1,1zM1256,1982l1,0-5-8-1,0z />
<path color=#deba54 d=M1253,1983l3-1-5-8-3,1z />
<path color=#dfba53 d=M1250,1983l3,0-5-8-2,1z />
<path color=#e2b952 d=M1247,1984l3-1-4-7-4,0z />
<path color=#e5b950 d=M1244,1984l3,0-5-8-3,1z />
<path color=#eab94d d=M1240,1983l4,1-5-7-4,0z />
<path color=#f0b94a d=M1235,1983l5,0-5-6-5,0z />
<path color=#f7ba45 d=M1230,1983l5,0-5-6-4,1z />
<path color=#fcbd3f d=M1225,1983l5,0-4-5-5,0z />
<path color=#fec139 d=M1220,1982l5,1-4-5-6,0z />
<path color=#fec635 d=M1214,1983l6-1-5-4-6,1z />
<path color=#fdca31 d=M1208,1983l6,0-5-4-6,1z />
<path color=#fcce2e d=M1202,1984l6-1-5-3-6,1z />
<path color=#fdcc2f d=M1312,1949l7-4-5-3-6,4z />
<path color=#fec733 d=M1306,1953l6-4-4-3-6,4z />
<path color=#ffc238 d=M1301,1958l5-5-4-3-6,4z />
<path color=#fcbd3f d=M1295,1962l6-4-5-4-5,4z />
<path color=#f5ba47 d=M1290,1967l5-5-4-4-5,4z />
<path color=#ebb94d d=M1285,1972l5-5-4-5-5,4z />
<path color=#e2b952 d=M1281,1976l4-4-4-6-5,3z />
<path color=#d9ba56 d=M1277,1980l4-4-5-7-4,4z />
<path color=#d1bb59 d=M1273,1983l4-3-5-7-3,2z />
<path color=#ccbb5b d=M1270,1986l3-3-4-8-3,3z />
<path color=#c8bc5d d=M1267,1988l3-2-4-8-3,1z />
<path color=#c6bc5e d=M1265,1989l2-1-4-9-2,1z />
<path color=#c5bc5e d=M1263,1990l2-1-4-9-2,1z />
<path color=#c4bc5e d=M1263,1990l0,0-4-9-1,0zM1262,1991l1-1-5-9-1,1z />
<path color=#c5bc5e d=M1260,1991l2,0-5-9-1,0z />
<path color=#c6bc5e d=M1258,1992l2-1-4-9-3,1z />
<path color=#c8bc5d d=M1255,1992l3,0-5-9-3,0z />
<path color=#ccbb5b d=M1252,1992l3,0-5-9-3,1z />
<path color=#d1bb59 d=M1248,1991l4,1-5-8-3,0z />
<path color=#d9ba56 d=M1244,1990l4,1-4-7-4-1z />
<path color=#e2b952 d=M1240,1989l4,1-4-7-5,0z />
<path color=#ebb94d d=M1235,1988l5,1-5-6-5,0z />
<path color=#f5ba47 d=M1230,1987l5,1-5-5-5,0z />
<path color=#fcbd3f d=M1224,1986l6,1-5-4-5-1z />
<path color=#ffc238 d=M1219,1986l5,0-4-4-6,1z />
<path color=#fec733 d=M1213,1987l6-1-5-3-6,0z />
<path color=#fdcc2f d=M1207,1987l6,0-5-4-6,1z />
<path color=#fdca31 d=M1317,1952l6-4-4-3-7,4z />
<path color=#fec536 d=M1311,1956l6-4-5-3-6,4z />
<path color=#febf3c d=M1305,1961l6-5-5-3-5,5z />
<path color=#f7ba45 d=M1299,1967l6-6-4-3-6,4z />
<path color=#ebb94d d=M1294,1972l5-5-4-5-5,5z />
<path color=#dfba53 d=M1290,1978l4-6-4-5-5,5z />
<path color=#d1bb59 d=M1285,1983l5-5-5-6-4,4z />
<path color=#c5bc5e d=M1281,1988l4-5-4-7-4,4z />
<path color=#b9bd63 d=M1278,1992l3-4-4-8-4,3z />
<path color=#b0bd66 d=M1274,1995l4-3-5-9-3,3z />
<path color=#aabe69 d=M1272,1998l2-3-4-9-3,2z />
<path color=#a6be6a d=M1269,1999l3-1-5-10-2,1z />
<path color=#a5be6b d=M1268,2000l1-1-4-10-2,1z />
<path color=#a4be6b d=M1267,2000l1,0-5-10,0,0zM1266,2001l1-1-4-10-1,1z />
<path color=#a5be6b d=M1264,2001l2,0-4-10-2,0z />
<path color=#a6be6a d=M1262,2001l2,0-4-10-2,1z />
<path color=#aabe69 d=M1259,2001l3,0-4-9-3,0z />
<path color=#b0bd66 d=M1256,2000l3,1-4-9-3,0z />
<path color=#b9bd63 d=M1252,1999l4,1-4-8-4-1z />
<path color=#c5bc5e d=M1248,1997l4,2-4-8-4-1z />
<path color=#d1bb59 d=M1244,1995l4,2-4-7-4-1z />
<path color=#dfba53 d=M1239,1993l5,2-4-6-5-1z />
<path color=#ebb94d d=M1234,1991l5,2-4-5-5-1z />
<path color=#f7ba45 d=M1229,1990l5,1-4-4-6-1z />
<path color=#febf3c d=M1223,1990l6,0-5-4-5,0z />
<path color=#fec536 d=M1217,1990l6,0-4-4-6,1z />
<path color=#fdca31 d=M1211,1990l6,0-4-3-6,0z />
<path color=#fec832 d=M1320,1955l7-5-4-2-6,4z />
<path color=#ffc338 d=M1314,1960l6-5-3-3-6,4z />
<path color=#fbbc40 d=M1309,1965l5-5-3-4-6,5z />
<path color=#f0b94a d=M1303,1971l6-6-4-4-6,6z />
<path color=#e2b952 d=M1298,1977l5-6-4-4-5,5z />
<path color=#d1bb59 d=M1294,1983l4-6-4-5-4,6z />
<path color=#c0bc60 d=M1289,1990l5-7-4-5-5,5z />
<path color=#aebe67 d=M1285,1996l4-6-4-7-4,5z />
<path color=#9dbf6e d=M1281,2001l4-5-4-8-3,4z />
<path color=#8ebf74 d=M1278,2006l3-5-3-9-4,3z />
<path color=#83bf78 d=M1275,2009l3-3-4-11-2,3z />
<path color=#7dbf7b d=M1273,2010l2-1-3-11-3,1z />
<path color=#79bf7d d=M1272,2011l1-1-4-11-1,1zM1271,2012l1-1-4-11-1,0zM1270,2012l1,0-4-12-1,1zM1268,2012l2,0-4-11-2,0z />
<path color=#7dbf7b d=M1266,2012l2,0-4-11-2,0z />
<path color=#83bf78 d=M1263,2011l3,1-4-11-3,0z />
<path color=#8ebf74 d=M1260,2009l3,2-4-10-3-1z />
<path color=#9dbf6e d=M1256,2007l4,2-4-9-4-1z />
<path color=#aebe67 d=M1252,2004l4,3-4-8-4-2z />
<path color=#c0bc60 d=M1248,2001l4,3-4-7-4-2z />
<path color=#d1bb59 d=M1243,1998l5,3-4-6-5-2z />
<path color=#e2b952 d=M1238,1995l5,3-4-5-5-2z />
<path color=#f0b94a d=M1233,1994l5,1-4-4-5-1z />
<path color=#fbbc40 d=M1227,1993l6,1-4-4-6,0z />
<path color=#ffc338 d=M1221,1992l6,1-4-3-6,0z />
<path color=#fec832 d=M1215,1993l6-1-4-2-6,0z />
<path color=#fec733 d=M1324,1957l6-5-3-2-7,5z />
<path color=#fec13a d=M1318,1962l6-5-4-2-6,5z />
<path color=#f8bb44 d=M1312,1968l6-6-4-2-5,5z />
<path color=#eab94d d=M1307,1974l5-6-3-3-6,6z />
<path color=#d9ba56 d=M1302,1981l5-7-4-3-5,6z />
<path color=#c5bc5e d=M1297,1989l5-8-4-4-4,6z />
<path color=#aebe67 d=M1293,1996l4-7-3-6-5,7z />
<path color=#95bf71 d=M1289,2004l4-8-4-6-4,6z />
<path color=#7abf7c d=M1285,2011l4-7-4-8-4,5z />
<path color=#62be87 d=M1282,2016l3-5-4-10-3,5z />
<path color=#50bc90 d=M1279,2020l3-4-4-10-3,3z />
<path color=#46bb96 d=M1277,2023l2-3-4-11-2,1z />
<path color=#41ba98 d=M1275,2024l2-1-4-13-1,1z />
<path color=#7abf7c d=M1260,2015l4,4-4-10-4-2z />
<path color=#95bf71 d=M1256,2010l4,5-4-8-4-3z />
<path color=#aebe67 d=M1251,2006l5,4-4-6-4-3z />
<path color=#c5bc5e d=M1247,2002l4,4-3-5-5-3z />
<path color=#d9ba56 d=M1242,1999l5,3-4-4-5-3z />
<path color=#eab94d d=M1236,1997l6,2-4-4-5-1z />
<path color=#f8bb44 d=M1231,1995l5,2-3-3-6-1z />
<path color=#fec13a d=M1225,1995l6,0-4-2-6-1z />
<path color=#fec733 d=M1218,1995l7,0-4-3-6,1z />
<path color=#fec634 d=M1327,1959l7-5-4-2-6,5z />
<path color=#febf3c d=M1321,1965l6-6-3-2-6,5z />
<path color=#f5ba46 d=M1316,1971l5-6-3-3-6,6z />
<path color=#e5b950 d=M1310,1977l6-6-4-3-5,6z />
<path color=#d1bb59 d=M1305,1985l5-8-3-3-5,7z />
<path color=#b9bd63 d=M1300,1993l5-8-3-4-5,8z />
<path color=#9dbf6e d=M1296,2002l4-9-3-4-4,7z />
<path color=#7abf7c d=M1292,2011l4-9-3-6-4,8z />
<path color=#55bd8e d=M1288,2019l4-8-3-7-4,7z />
<path color=#36b99f d=M1285,2027l3-8-3-8-3,5z />
<path color=#b9bd63 d=M1250,2006l5,5-4-5-4-4z />
<path color=#d1bb59 d=M1245,2002l5,4-3-4-5-3z />
<path color=#e5b950 d=M1239,1999l6,3-3-3-6-2z />
<path color=#f5ba46 d=M1234,1998l5,1-3-2-5-2z />
<path color=#febf3c d=M1228,1997l6,1-3-3-6,0z />
<path color=#fec634 d=M1222,1997l6,0-3-2-7,0z />
<path color=#fec535 d=M1330,1961l6-5-2-2-7,5z />
<path color=#fdbe3d d=M1324,1966l6-5-3-2-6,6z />
<path color=#f3ba48 d=M1319,1973l5-7-3-1-5,6z />
<path color=#e2b952 d=M1313,1980l6-7-3-2-6,6z />
<path color=#ccbb5b d=M1308,1988l5-8-3-3-5,8z />
<path color=#b0bd66 d=M1303,1997l5-9-3-3-5,8z />
<path color=#8ebf74 d=M1299,2007l4-10-3-4-4,9z />
<path color=#62be87 d=M1295,2017l4-10-3-5-4,9z />
<path color=#36b99f d=M1291,2027l4-10-3-6-4,8z />
<path color=#ccbb5b d=M1248,2005l5,4-3-3-5-4z />
<path color=#e2b952 d=M1242,2001l6,4-3-3-6-3z />
<path color=#f3ba48 d=M1237,2000l5,1-3-2-5-1z />
<path color=#fdbe3d d=M1231,1999l6,1-3-2-6-1z />
<path color=#fec535 d=M1224,1998l7,1-3-2-6,0z />
<path color=#fec536 d=M1333,1962l6-5-3-1-6,5z />
<path color=#fdbe3e d=M1327,1968l6-6-3-1-6,5z />
<path color=#f1b949 d=M1321,1974l6-6-3-2-5,7z />
<path color=#dfba53 d=M1316,1982l5-8-2-1-6,7z />
<path color=#c8bc5d d=M1311,1990l5-8-3-2-5,8z />
<path color=#aabe69 d=M1306,1999l5-9-3-2-5,9z />
<path color=#83bf78 d=M1301,2010l5-11-3-2-4,10z />
<path color=#50bc90 d=M1297,2021l4-11-2-3-4,10z />
<path color=#07a9c2 d=M1272,2041l3,9-2-8-3-7z />
<path color=#22b4ac d=M1269,2032l3,9-2-6-4-7z />
<path color=#50bc90 d=M1264,2024l5,8-3-4-4-7z />
<path color=#83bf78 d=M1260,2017l4,7-2-3-4-7z />
<path color=#aabe69 d=M1255,2011l5,6-2-3-5-5z />
<path color=#dfba53 d=M1245,2003l5,3-2-1-6-4z />
<path color=#f1b949 d=M1239,2001l6,2-3-2-5-1z />
<path color=#fdbe3e d=M1233,2000l6,1-2-1-6-1z />
<path color=#fec536 d=M1227,2000l6,0-2-1-7-1z />
<path color=#ffc536 d=M1335,1964l6-5-2-2-6,5z />
<path color=#fcbd3f d=M1329,1969l6-5-2-2-6,6z />
<path color=#f0b94a d=M1323,1976l6-7-2-1-6,6z />
<path color=#deba54 d=M1318,1983l5-7-2-2-5,8z />
<path color=#c6bc5e d=M1313,1991l5-8-2-1-5,8z />
<path color=#a6be6a d=M1308,2001l5-10-2-1-5,9z />
<path color=#7dbf7b d=M1303,2012l5-11-2-2-5,11z />
<path color=#46bb96 d=M1299,2024l4-12-2-2-4,11z />
<path color=#06a3ca d=M1274,2044l3,11-2-5-3-9z />
<path color=#17b1b3 d=M1271,2035l3,9-2-3-3-9z />
<path color=#46bb96 d=M1267,2026l4,9-2-3-5-8z />
<path color=#7dbf7b d=M1262,2018l5,8-3-2-4-7z />
<path color=#a6be6a d=M1257,2012l5,6-2-1-5-6z />
<path color=#deba54 d=M1247,2004l5,4-2-2-5-3z />
<path color=#f0b94a d=M1241,2002l6,2-2-1-6-2z />
<path color=#fcbd3f d=M1235,2001l6,1-2-1-6-1z />
<path color=#ffc536 d=M1229,2001l6,0-2-1-6,0z />
<path color=#ffc436 d=M1336,1964l6-5-1,0-6,5z />
<path color=#fcbd3f d=M1330,1970l6-6-1,0-6,5z />
<path color=#f0b94a d=M1325,1976l5-6-1-1-6,7z />
<path color=#ddba54 d=M1319,1984l6-8-2,0-5,7z />
<path color=#c5bc5e d=M1314,1992l5-8-1-1-5,8z />
<path color=#a5be6b d=M1309,2002l5-10-1-1-5,10z />
<path color=#79bf7d d=M1305,2013l4-11-1-1-5,11z />
<path color=#41ba98 d=M1301,2025l4-12-2-1-4,12z />
<path color=#1485d4 d=M1279,2057l3,11-2-3-3-10z />
<path color=#06a0cd d=M1276,2046l3,11-2-2-3-11z />
<path color=#13b0b6 d=M1272,2036l4,10-2-2-3-9z />
<path color=#41ba98 d=M1268,2027l4,9-1-1-4-9z />
<path color=#79bf7d d=M1264,2019l4,8-1-1-5-8z />
<path color=#a5be6b d=M1259,2013l5,6-2-1-5-6z />
<path color=#ddba54 d=M1248,2005l6,4-2-1-5-4z />
<path color=#fcbd3f d=M1237,2002l6,1-2-1-6-1z />
<path color=#ffc436 d=M1230,2002l7,0-2-1-6,0zM1337,1965l6-5-1-1-6,5z />
<path color=#fcbd3f d=M1331,1970l6-5-1-1-6,6z />
<path color=#f0b94a d=M1325,1977l6-7-1,0-5,6z />
<path color=#ddba54 d=M1320,1984l5-7,0-1-6,8z />
<path color=#c4bc5e d=M1315,1993l5-9-1,0-5,8z />
<path color=#a4be6b d=M1310,2003l5-10-1-1-5,10z />
<path color=#79bf7d d=M1306,2013l4-10-1-1-4,11z />
<path color=#2c4ac6 d=M1285,2079l1,9,0-3-2-7z />
<path color=#046ce0 d=M1282,2069l3,10-1-1-2-10z />
<path color=#1483d5 d=M1280,2057l2,12,0-1-3-11z />
<path color=#069fce d=M1276,2047l4,10-1,0-3-11z />
<path color=#11afb7 d=M1273,2036l3,11,0-1-4-10z />
<path color=#79bf7d d=M1264,2020l5,7-1,0-4-8z />
<path color=#a4be6b d=M1260,2014l4,6,0-1-5-6z />
<path color=#ffc436 d=M1231,2002l6,0,0,0-7,0zM1338,1965l6-5-1,0-6,5z />
<path color=#fcbd3f d=M1332,1971l6-6-1,0-6,5z />
<path color=#f0b94a d=M1326,1977l6-6-1-1-6,7z />
<path color=#ddba54 d=M1321,1985l5-8-1,0-5,7z />
<path color=#c4bc5e d=M1316,1993l5-8-1-1-5,9z />
<path color=#a4be6b d=M1311,2003l5-10-1,0-5,10z />
<path color=#79bf7d d=M1306,2014l5-11-1,0-4,10z />
<path color=#3637a0 d=M1288,2088l1-3-1,2-1,5zM1287,2086l1,2-1,4-1-4z />
<path color=#2c4ac6 d=M1285,2079l2,7-1,2-1-9z />
<path color=#046ce0 d=M1283,2069l2,10,0,0-3-10z />
<path color=#1483d5 d=M1280,2058l3,11-1,0-2-12z />
<path color=#069fce d=M1277,2047l3,11,0-1-4-10z />
<path color=#11afb7 d=M1273,2037l4,10-1,0-3-11z />
<path color=#40ba99 d=M1269,2028l4,9,0-1-4-9z />
<path color=#79bf7d d=M1265,2020l4,8,0-1-5-7z />
<path color=#a4be6b d=M1260,2014l5,6-1,0-4-6z />
<path color=#ffc436 d=M1339,1966l6-5-1-1-6,5z />
<path color=#fcbd3f d=M1333,1971l6-5-1-1-6,6z />
<path color=#f0b94a d=M1327,1978l6-7-1,0-6,6z />
<path color=#ddba54 d=M1322,1985l5-7-1-1-5,8z />
<path color=#c5bc5e d=M1317,1994l5-9-1,0-5,8z />
<path color=#a5be6b d=M1312,2003l5-9-1-1-5,10z />
<path color=#79bf7d d=M1308,2014l4-11-1,0-5,11z />
<path color=#2c4ac6 d=M1289,2079l1-1-1,7-1,3zM1289,2079l0,0-1,9-1-2z />
<path color=#125adc d=M1287,2075l2,4-2,7-2-7z />
<path color=#0870df d=M1285,2067l2,8-2,4-2-10z />
<path color=#1485d4 d=M1282,2057l3,10-2,2-3-11z />
<path color=#06a0cd d=M1279,2047l3,10-2,1-3-11z />
<path color=#13b0b6 d=M1275,2037l4,10-2,0-4-10z />
<path color=#41ba98 d=M1271,2028l4,9-2,0-4-9z />
<path color=#79bf7d d=M1267,2021l4,7-2,0-4-8z />
<path color=#a5be6b d=M1262,2015l5,6-2-1-5-6z />
<path color=#fcbd3f d=M1240,2004l6,1-2-1-6-1z />
<path color=#ffc436 d=M1233,2003l7,1-2-1-6,0z />
<path color=#ffc536 d=M1341,1967l6-5-2-1-6,5z />
<path color=#fcbd3f d=M1335,1972l6-5-2-1-6,5z />
<path color=#f0b94a d=M1330,1979l5-7-2-1-6,7z />
<path color=#deba54 d=M1324,1986l6-7-3-1-5,7z />
<path color=#c6bc5e d=M1319,1994l5-8-2-1-5,9z />
<path color=#a6be6a d=M1314,2004l5-10-2,0-5,9z />
<path color=#7dbf7b d=M1310,2014l4-10-2-1-4,11z />
<path color=#117bd9 d=M1294,2065l2-7-2,5-2,10z />
<path color=#046ce0 d=M1291,2069l1-1-2,10-1,1zM1291,2069l0,0-2,10,0,0z />
<path color=#0870df d=M1289,2067l2,2-2,10-2-4z />
<path color=#117bd9 d=M1287,2062l2,5-2,8-2-8z />
<path color=#118dd2 d=M1284,2054l3,8-2,5-3-10z />
<path color=#06a3ca d=M1281,2045l3,9-2,3-3-10z />
<path color=#17b1b3 d=M1277,2036l4,9-2,2-4-10z />
<path color=#46bb96 d=M1273,2028l4,8-2,1-4-9z />
<path color=#7dbf7b d=M1269,2021l4,7-2,0-4-7z />
<path color=#a6be6a d=M1264,2015l5,6-2,0-5-6z />
<path color=#f0b94a d=M1248,2006l5,2-2-1-5-2z />
<path color=#fcbd3f d=M1242,2005l6,1-2-1-6-1z />
<path color=#ffc536 d=M1235,2004l7,1-2-1-7-1z />
<path color=#fec536 d=M1344,1968l6-5-3-1-6,5z />
<path color=#fdbe3e d=M1338,1973l6-5-3-1-6,5z />
<path color=#f1b949 d=M1332,1980l6-7-3-1-5,7z />
<path color=#dfba53 d=M1327,1987l5-7-2-1-6,7z />
<path color=#c8bc5d d=M1322,1995l5-8-3-1-5,8z />
<path color=#aabe69 d=M1317,2004l5-9-3-1-5,10z />
<path color=#83bf78 d=M1312,2014l5-10-3,0-4,10z />
<path color=#118dd2 d=M1296,2056l3-5-3,7-2,7z />
<path color=#1485d4 d=M1295,2058l1-2-2,9-2,3z />
<path color=#1483d5 d=M1294,2058l1,0-3,10-1,1zM1293,2058l1,0-3,11,0,0z />
<path color=#1485d4 d=M1291,2057l2,1-2,11-2-2z />
<path color=#118dd2 d=M1289,2055l2,2-2,10-2-5z />
<path color=#079cd0 d=M1286,2049l3,6-2,7-3-8z />
<path color=#07a9c2 d=M1283,2042l3,7-2,5-3-9z />
<path color=#22b4ac d=M1280,2035l3,7-2,3-4-9z />
<path color=#50bc90 d=M1275,2028l5,7-3,1-4-8z />
<path color=#83bf78 d=M1271,2021l4,7-2,0-4-7z />
<path color=#aabe69 d=M1266,2016l5,5-2,0-5-6z />
<path color=#f1b949 d=M1250,2007l6,2-3-1-5-2z />
<path color=#fdbe3e d=M1244,2006l6,1-2-1-6-1z />
<path color=#fec536 d=M1238,2006l6,0-2-1-7-1z />
<path color=#fec535 d=M1347,1969l6-5-3-1-6,5z />
<path color=#fdbe3d d=M1341,1975l6-6-3-1-6,5z />
<path color=#f3ba48 d=M1335,1981l6-6-3-2-6,7z />
<path color=#e2b952 d=M1330,1987l5-6-3-1-5,7z />
<path color=#ccbb5b d=M1324,1995l6-8-3,0-5,8z />
<path color=#b0bd66 d=M1320,2003l4-8-2,0-5,9z />
<path color=#8ebf74 d=M1315,2012l5-9-3,1-5,10z />
<path color=#07a9c2 d=M1302,2042l2-5-3,7-2,7z />
<path color=#06a3ca d=M1299,2046l3-4-3,9-3,5z />
<path color=#06a0cd d=M1298,2047l1-1-3,10-1,2z />
<path color=#069fce d=M1297,2047l1,0-3,11-1,0z />
<path color=#06a0cd d=M1294,2047l2,1-3,10-2-1z />
<path color=#06a3ca d=M1292,2046l2,1-3,10-2-2z />
<path color=#07a9c2 d=M1289,2043l3,3-3,9-3-6z />
<path color=#16b1b4 d=M1286,2038l3,5-3,6-3-7z />
<path color=#36b99f d=M1282,2032l4,6-3,4-3-7z />
<path color=#62be87 d=M1278,2026l4,6-2,3-5-7z />
<path color=#8ebf74 d=M1274,2021l4,5-3,2-4-7z />
<path color=#b0bd66 d=M1269,2016l5,5-3,0-5-5z />
<path color=#f3ba48 d=M1253,2008l6,1-3,0-6-2z />
<path color=#fdbe3d d=M1247,2007l6,1-3-1-6-1z />
<path color=#fec535 d=M1241,2007l6,0-3-1-6,0z />
<path color=#fec634 d=M1350,1971l6-5-3-2-6,5z />
<path color=#febf3c d=M1344,1976l6-5-3-2-6,6z />
<path color=#f5ba46 d=M1338,1981l6-5-3-1-6,6z />
<path color=#e5b950 d=M1333,1988l5-7-3,0-5,6z />
<path color=#d1bb59 d=M1328,1995l5-7-3-1-6,8z />
<path color=#b9bd63 d=M1323,2002l5-7-4,0-4,8z />
<path color=#9dbf6e d=M1319,2010l4-8-3,1-5,9z />
<path color=#22b4ac d=M1305,2034l3-4-4,7-2,5z />
<path color=#17b1b3 d=M1303,2036l2-2-3,8-3,4z />
<path color=#13b0b6 d=M1301,2037l2-1-4,10-1,1z />
<path color=#11afb7 d=M1300,2038l1-1-3,10-1,0zM1299,2038l1,0-3,9-1,1z />
<path color=#13b0b6 d=M1298,2038l1,0-3,10-2-1z />
<path color=#17b1b3 d=M1295,2037l3,1-4,9-2-1z />
<path color=#22b4ac d=M1293,2035l2,2-3,9-3-3z />
<path color=#36b99f d=M1289,2032l4,3-4,8-3-5z />
<path color=#55bd8e d=M1286,2028l3,4-3,6-4-6z />
<path color=#7abf7c d=M1282,2024l4,4-4,4-4-6z />
<path color=#9dbf6e d=M1277,2020l5,4-4,2-4-5z />
<path color=#f5ba46 d=M1256,2009l6,1-3-1-6-1z />
<path color=#febf3c d=M1250,2008l6,1-3-1-6-1z />
<path color=#fec634 d=M1244,2008l6,0-3-1-6,0z />
<path color=#fec733 d=M1353,1972l7-5-4-1-6,5z />
<path color=#fec13a d=M1347,1977l6-5-3-1-6,5z />
<path color=#f8bb44 d=M1342,1982l5-5-3-1-6,5z />
<path color=#eab94d d=M1336,1988l6-6-4-1-5,7z />
<path color=#d9ba56 d=M1331,1994l5-6-3,0-5,7z />
<path color=#c5bc5e d=M1327,2001l4-7-3,1-5,7z />
<path color=#aebe67 d=M1322,2007l5-6-4,1-4,8z />
<path color=#95bf71 d=M1318,2013l4-6-3,3-4,7z />
<path color=#62be87 d=M1311,2023l3-4-3,5-3,6z />
<path color=#50bc90 d=M1308,2026l3-3-3,7-3,4z />
<path color=#46bb96 d=M1306,2028l2-2-3,8-2,2z />
<path color=#41ba98 d=M1305,2029l1-1-3,8-2,1z />
<path color=#40ba99 d=M1304,2029l1,0-4,8-1,1zM1303,2029l1,0-4,9-1,0z />
<path color=#41ba98 d=M1301,2030l2-1-4,9-1,0z />
<path color=#46bb96 d=M1299,2029l2,1-3,8-3-1z />
<path color=#50bc90 d=M1296,2029l3,0-4,8-2-2z />
<path color=#62be87 d=M1293,2027l3,2-3,6-4-3z />
<path color=#7abf7c d=M1289,2024l4,3-4,5-3-4z />
<path color=#95bf71 d=M1285,2021l4,3-3,4-4-4z />
<path color=#f8bb44 d=M1260,2010l6,1-4-1-6-1z />
<path color=#fec13a d=M1254,2010l6,0-4-1-6-1z />
<path color=#fec733 d=M1248,2010l6,0-4-2-6,0z />
<path color=#fec832 d=M1357,1973l7-4-4-2-7,5z />
<path color=#ffc338 d=M1351,1978l6-5-4-1-6,5z />
<path color=#fbbc40 d=M1346,1983l5-5-4-1-5,5z />
<path color=#f0b94a d=M1340,1988l6-5-4-1-6,6z />
<path color=#e2b952 d=M1335,1994l5-6-4,0-5,6z />
<path color=#d1bb59 d=M1330,1999l5-5-4,0-4,7z />
<path color=#c0bc60 d=M1326,2004l4-5-3,2-5,6z />
<path color=#aebe67 d=M1322,2009l4-5-4,3-4,6z />
<path color=#8ebf74 d=M1315,2017l3-3-4,5-3,4z />
<path color=#83bf78 d=M1312,2019l3-2-4,6-3,3z />
<path color=#7dbf7b d=M1310,2021l2-2-4,7-2,2z />
<path color=#79bf7d d=M1308,2022l2-1-4,7-1,1zM1308,2022l0,0-3,7-1,0zM1307,2022l1,0-4,7-1,0zM1305,2023l2-1-4,7-2,1z />
<path color=#7dbf7b d=M1303,2023l2,0-4,7-2-1z />
<path color=#83bf78 d=M1300,2023l3,0-4,6-3,0z />
<path color=#8ebf74 d=M1297,2022l3,1-4,6-3-2z />
<path color=#9dbf6e d=M1293,2020l4,2-4,5-4-3z />
<path color=#aebe67 d=M1289,2018l4,2-4,4-4-3z />
<path color=#f0b94a d=M1270,2012l5,1-4,0-5-2z />
<path color=#fbbc40 d=M1264,2011l6,1-4-1-6-1z />
<path color=#ffc338 d=M1258,2011l6,0-4-1-6,0z />
<path color=#fec832 d=M1252,2011l6,0-4-1-6,0z />
<path color=#fdca31 d=M1362,1975l6-4-4-2-7,4z />
<path color=#fec536 d=M1356,1979l6-4-5-2-6,5z />
<path color=#febf3c d=M1350,1983l6-4-5-1-5,5z />
<path color=#f7ba45 d=M1345,1988l5-5-4,0-6,5z />
<path color=#ebb94d d=M1339,1993l6-5-5,0-5,6z />
<path color=#dfba53 d=M1335,1998l4-5-4,1-5,5z />
<path color=#d1bb59 d=M1330,2002l5-4-5,1-4,5z />
<path color=#c5bc5e d=M1326,2006l4-4-4,2-4,5z />
<path color=#aabe69 d=M1317,2014l2-2-4,5-3,2z />
<path color=#a6be6a d=M1314,2015l3-1-5,5-2,2z />
<path color=#a5be6b d=M1313,2016l1-1-4,6-2,1z />
<path color=#a4be6b d=M1312,2016l1,0-5,6,0,0zM1311,2016l1,0-4,6-1,0z />
<path color=#a5be6b d=M1309,2017l2-1-4,6-2,1z />
<path color=#a6be6a d=M1307,2017l2,0-4,6-2,0z />
<path color=#aabe69 d=M1304,2018l3-1-4,6-3,0z />
<path color=#b0bd66 d=M1301,2017l3,1-4,5-3-1z />
<path color=#b9bd63 d=M1297,2017l4,0-4,5-4-2z />
<path color=#f7ba45 d=M1274,2012l5,1-4,0-5-1z />
<path color=#febf3c d=M1268,2012l6,0-4,0-6-1z />
<path color=#fec536 d=M1262,2012l6,0-4-1-6,0z />
<path color=#fdca31 d=M1256,2013l6-1-4-1-6,0z />
<path color=#fdcc2f d=M1366,1976l6-3-4-2-6,4z />
<path color=#fec733 d=M1360,1980l6-4-4-1-6,4z />
<path color=#ffc238 d=M1354,1984l6-4-4-1-6,4z />
<path color=#fcbd3f d=M1349,1988l5-4-4-1-5,5z />
<path color=#f5ba47 d=M1344,1992l5-4-4,0-6,5z />
<path color=#ebb94d d=M1339,1996l5-4-5,1-4,5z />
<path color=#e2b952 d=M1335,2000l4-4-4,2-5,4z />
<path color=#d9ba56 d=M1331,2003l4-3-5,2-4,4z />
<path color=#d1bb59 d=M1327,2006l4-3-5,3-3,3z />
<path color=#c5bc5e d=M1317,2012l2-1-5,4-1,1zM1314,2013l2-1-5,4-2,1z />
<path color=#c6bc5e d=M1312,2013l2,0-5,4-2,0z />
<path color=#c8bc5d d=M1309,2014l3-1-5,4-3,1z />
<path color=#f5ba47 d=M1284,2013l5,0-5,1-5-1z />
<path color=#fcbd3f d=M1278,2013l6,0-5,0-5-1z />
<path color=#ffc238 d=M1273,2013l5,0-4-1-6,0z />
<path color=#fec733 d=M1267,2014l6-1-5-1-6,0z />
<path color=#fdcc2f d=M1260,2015l7-1-5-2-6,1z />
<path color=#fcce2e d=M1371,1978l6-4-5-1-6,3z />
<path color=#fdca31 d=M1365,1982l6-4-5-2-6,4z />
<path color=#fec635 d=M1359,1985l6-3-5-2-6,4z />
<path color=#fec139 d=M1354,1989l5-4-5-1-5,4z />
<path color=#fcbd3f d=M1349,1992l5-3-5-1-5,4z />
<path color=#f7ba45 d=M1344,1996l5-4-5,0-5,4z />
<path color=#f0b94a d=M1340,1999l4-3-5,0-4,4z />
<path color=#eab94d d=M1336,2001l4-2-5,1-4,3z />
<path color=#e5b950 d=M1332,2004l4-3-5,2-4,3z />
<path color=#e2b952 d=M1329,2006l3-2-5,2-3,2z />
<path color=#dfba53 d=M1326,2007l3-1-5,2-3,2z />
<path color=#f7ba45 d=M1294,2013l4,0-4,1-5-1z />
<path color=#fec139 d=M1283,2014l6,0-5-1-6,0z />
<path color=#fec635 d=M1277,2015l6-1-5-1-5,0z />
<path color=#fdca31 d=M1271,2016l6-1-4-2-6,1z />
<path color=#fcce2e d=M1265,2017l6-1-4-2-7,1z />
<path color=#fbcf2c d=M1376,1980l6-3-5-3-6,4z />
<path color=#fccd2f d=M1370,1983l6-3-5-2-6,4z />
<path color=#fec931 d=M1364,1986l6-3-5-1-6,3z />
<path color=#fec635 d=M1359,1990l5-4-5-1-5,4z />
<path color=#ffc238 d=M1354,1993l5-3-5-1-5,3z />
<path color=#febf3c d=M1349,1996l5-3-5-1-5,4z />
<path color=#fbbc40 d=M1345,1998l4-2-5,0-4,3z />
<path color=#f8bb44 d=M1341,2001l4-3-5,1-4,2z />
<path color=#f5ba46 d=M1337,2003l4-2-5,0-4,3z />
<path color=#f3ba48 d=M1334,2004l3-1-5,1-3,2z />
<path color=#f1b949 d=M1331,2005l3-1-5,2-3,1z />
<path color=#f0b94a d=M1329,2006l2-1-5,2-2,1zM1324,2008l1,0-5,1-1,1zM1322,2009l2-1-5,2-3,1z />
<path color=#f3ba48 d=M1315,2011l4-1-5,1-4,1z />
<path color=#f5ba46 d=M1312,2011l3,0-5,1-3,0z />
<path color=#f8bb44 d=M1308,2012l4-1-5,1-4,1z />
<path color=#febf3c d=M1299,2014l4-1-5,0-4,0z />
<path color=#ffc238 d=M1294,2014l5,0-5-1-5,1z />
<path color=#fec635 d=M1288,2015l6-1-5,0-6,0z />
<path color=#fec931 d=M1283,2016l5-1-5-1-6,1z />
<path color=#fccd2f d=M1277,2017l6-1-6-1-6,1z />
<path color=#fbcf2c d=M1270,2019l7-2-6-1-6,1z />
<path color=#fad12b d=M1381,1982l7-3-6-2-6,3z />
<path color=#fbcf2d d=M1375,1985l6-3-5-2-6,3z />
<path color=#fccd2f d=M1370,1988l5-3-5-2-6,3z />
<path color=#fdca31 d=M1364,1991l6-3-6-2-5,4z />
<path color=#fec733 d=M1359,1993l5-2-5-1-5,3z />
<path color=#fec536 d=M1354,1996l5-3-5,0-5,3z />
<path color=#ffc338 d=M1350,1998l4-2-5,0-4,2z />
<path color=#fec13a d=M1346,2000l4-2-5,0-4,3z />
<path color=#febf3c d=M1342,2002l4-2-5,1-4,2z />
<path color=#fdbe3d d=M1339,2004l3-2-5,1-3,1z />
<path color=#fdbe3e d=M1336,2005l3-1-5,0-3,1z />
<path color=#fcbd3f d=M1334,2006l2-1-5,0-2,1zM1332,2007l2-1-5,0-2,1zM1329,2008l2-1-6,1-1,0zM1327,2009l2-1-5,0-2,1z />
<path color=#fdbe3e d=M1324,2009l3,0-5,0-3,1z />
<path color=#fdbe3d d=M1321,2010l3-1-5,1-4,1z />
<path color=#febf3c d=M1317,2011l4-1-6,1-3,0z />
<path color=#fec13a d=M1313,2012l4-1-5,0-4,1z />
<path color=#ffc338 d=M1309,2013l4-1-5,0-5,1z />
<path color=#fec536 d=M1304,2014l5-1-6,0-4,1z />
<path color=#fec733 d=M1299,2015l5-1-5,0-5,0z />
<path color=#fdca31 d=M1294,2017l5-2-5-1-6,1z />
<path color=#fccd2f d=M1288,2018l6-1-6-2-5,1z />
<path color=#fbcf2d d=M1282,2019l6-1-5-2-6,1z />
<path color=#fad12b d=M1276,2021l6-2-5-2-7,2z />
<path color=#fad32a d=M1387,1984l6-3-5-2-7,3z />
<path color=#fad12b d=M1381,1987l6-3-6-2-6,3z />
<path color=#fbcf2c d=M1375,1990l6-3-6-2-5,3z />
<path color=#fcce2e d=M1370,1992l5-2-5-2-6,3z />
<path color=#fdcc2f d=M1365,1995l5-3-6-1-5,2z />
<path color=#fdca31 d=M1360,1997l5-2-6-2-5,3z />
<path color=#fec832 d=M1356,1999l4-2-6-1-4,2z />
<path color=#fec733 d=M1352,2001l4-2-6-1-4,2z />
<path color=#fec634 d=M1348,2003l4-2-6-1-4,2z />
<path color=#fec535 d=M1345,2004l3-1-6-1-3,2z />
<path color=#fec536 d=M1342,2005l3-1-6,0-3,1z />
<path color=#ffc536 d=M1340,2006l2-1-6,0-2,1z />
<path color=#ffc436 d=M1338,2007l2-1-6,0-2,1zM1337,2007l1,0-6,0,0,0zM1336,2007l1,0-5,0-1,0zM1335,2008l1-1-5,0-2,1z />
<path color=#ffc536 d=M1332,2009l3-1-6,0-2,1z />
<path color=#fec536 d=M1330,2010l2-1-5,0-3,0z />
<path color=#fec535 d=M1326,2011l4-1-6-1-3,1z />
<path color=#fec634 d=M1323,2012l3-1-5-1-4,1z />
<path color=#fec733 d=M1319,2013l4-1-6-1-4,1z />
<path color=#fec832 d=M1314,2014l5-1-6-1-4,1z />
<path color=#fdca31 d=M1310,2016l4-2-5-1-5,1z />
<path color=#fdcc2f d=M1305,2017l5-1-6-2-5,1z />
<path color=#fcce2e d=M1299,2018l6-1-6-2-5,2z />
<path color=#fbcf2c d=M1293,2020l6-2-5-1-6,1z />
<path color=#fad12b d=M1287,2022l6-2-5-2-6,1z />
<path color=#fad32a d=M1281,2024l6-2-5-3-6,2z /></g>
<text x="308.1" y="478.7" font-size="7.6" textLength="24.2" lengthAdjust="spacingAndGlyphs">Ackley</text>
<text class="t" transform="translate(278 509.1) rotate(-90)" font-size="7.6" text-anchor="middle" textLength="42.9" lengthAdjust="spacingAndGlyphs">F10(&#160;x<tspan font-size="5.9" dy="3.8">1</tspan><tspan dy="-3.8">&#160;,&#160;x</tspan><tspan font-size="5.9" dy="3.8">2</tspan><tspan dy="-3.8">&#160;)</tspan></text>
<text x="292.6" y="497.1" font-size="7.4" text-anchor="end" class="t">20</text>
<text x="292.6" y="512.3" font-size="7.4" text-anchor="end" class="t">10</text>
<text x="292.6" y="526.7" font-size="7.4" text-anchor="end" class="t">0</text>
<text x="292.6" y="534" font-size="7.4" text-anchor="end" class="t">20</text>
<text x="301.9" y="541.5" font-size="7.4" text-anchor="middle" class="t">0</text>
<text x="309" y="549.4" font-size="7.4" text-anchor="middle" class="t">-20</text>
<text x="325.2" y="549.5" font-size="7.4" text-anchor="middle" class="t">-20</text>
<text x="335.5" y="543.2" font-size="7.4" text-anchor="middle" class="t">0</text>
<text x="351.5" y="538.3" font-size="7.4" text-anchor="middle" class="t">20</text>
<text class="t" x="284.5" y="555" font-size="8.4">x<tspan font-size="6.6" dy="3.5">2</tspan></text>
<text class="t" x="343.2" y="553.6" font-size="8.4">x<tspan font-size="6.6" dy="3.5">1</tspan></text>
<path fill="none" stroke="#c4c4c4" stroke-width="0.8" d="M36.8 599.8L36.8 638L64.3 657L99.5 644"/>
<g transform="scale(.25)" filter="url(#bl)" style="fill:currentColor;stroke:currentColor;stroke-width:2;stroke-linejoin:round"><path fill=none stroke="#2350d0" stroke-width="1.4" opacity="0.85" d="M265,2545l13-1,23,8,9,8,1,8-8,9-21,6-14,1-11-3-16-7-6-6-1-7,5-7,13-7,13-2" />
<path fill=none stroke="#0a73dd" stroke-width="1.4" opacity="0.85" d="M251,2538l34-1,24,8,11,7,5,7,2,7-2,6-8,10-25,9-32,0-24-8-11-7-5-7-1-11,9-12,23-8" />
<path fill=none stroke="#138ad3" stroke-width="1.4" opacity="0.85" d="M243,2533l39-3,27,7,14,6,10,9,5,10,1,8-5,8-10,9-24,9-37,2-26-7-14-6-11-9-5-10,0-8,10-14,26-11" />
<path fill=none stroke="#06a3ca" stroke-width="1.4" opacity="0.85" d="M250,2526l26-1,16,2,30,9,13,7,11,12,3,11-1,8-7,9-10,8-31,10-19,2-24-1-34-10-12-7-12-12-3-11,2-8,6-9,10-8,19-8,17-3" />
<path fill=none stroke="#1ab2b1" stroke-width="1.4" opacity="0.85" d="M235,2524l30-4,20,1,22,4,22,8,13,8,11,11,5,15-4,13-6,7-16,10-14,6-24,4-16,1-26-2-36-11-12-8-12-11-4-7,0-12,3-9,10-10,17-9,17-5" />
<path fill=none stroke="#51bd8f" stroke-width="1.4" opacity="0.85" d="M305,2610l-46,1-15-2-25-8M360,2549l6,15,0,8-7,13-9,9M186,2579l-7-15,1-8,6-13,9-9M240,2518l46-1,16,2,24,8" />
<path fill=none stroke="#92bf72" stroke-width="1.4" opacity="0.85" d="M292,2615l-40-1-21-4M372,2558l2,11-5,14-5,6M174,2570l-2-11,4-14,6-6M254,2513l39,1,21,4" />
<path fill=none stroke="#c7bc5d" stroke-width="1.4" opacity="0.85" d="M281,2619l-42-3M380,2564l0,11-5,10M165,2564l0-11,6-10M265,2509l41,3" />
<path fill=none stroke="#f5ba47" stroke-width="1.4" opacity="0.85" d="M271,2623l-25-3M387,2568l-3,13M158,2560l3-13M274,2505l25,3" />
<path fill=none stroke="#f9d429" stroke-width="1.4" opacity="0.85" d="M264,2626l-12-2M393,2572l-1,6M153,2556l1-6M282,2502l11,2" />
<path color=#f6dd22 d=M287,2371l5-11-4-13-5,13z />
<path color=#fec733 d=M282,2382l5-11-4-11-5,11z />
<path color=#f1b949 d=M277,2393l5-11-4-11-5,11z />
<path color=#d6ba57 d=M272,2403l5-10-4-11-4,9z />
<path color=#bbbd62 d=M268,2413l4-10-3-12-5,8z />
<path color=#a1be6c d=M263,2421l5-8-4-14-5,8z />
<path color=#88bf77 d=M258,2429l5-8-4-14-5,7z />
<path color=#6ebf82 d=M253,2435l5-6-4-15-5,8z />
<path color=#57bd8d d=M248,2440l5-5-4-13-5,7z />
<path color=#44bb97 d=M243,2445l5-5-4-11-5,6z />
<path color=#36b99f d=M238,2450l5-5-4-10-4,4z />
<path color=#2cb7a5 d=M234,2455l4-5-3-11-5,4z />
<path color=#25b5a9 d=M229,2459l5-4-4-12-5,2z />
<path color=#22b4ac d=M224,2462l5-3-4-14-5,2z />
<path color=#20b4ad d=M219,2464l5-2-4-15-5,2z />
<path color=#22b4ac d=M214,2464l5,0-4-15-5,1z />
<path color=#25b5a9 d=M209,2464l5,0-4-14-5,2z />
<path color=#2cb7a5 d=M204,2463l5,1-4-12-4,0z />
<path color=#36b99f d=M200,2462l4,1-3-11-5-1z />
<path color=#44bb97 d=M195,2460l5,2-4-11-5-2z />
<path color=#57bd8d d=M190,2458l5,2-4-11-5-4z />
<path color=#6ebf82 d=M185,2456l5,2-4-13-5-4z />
<path color=#88bf77 d=M180,2452l5,4-4-15-5-4z />
<path color=#a1be6c d=M175,2447l5,5-4-15-5-4z />
<path color=#bbbd62 d=M170,2441l5,6-4-14-4-5z />
<path color=#d6ba57 d=M166,2434l4,7-3-13-5-5z />
<path color=#f1b949 d=M161,2427l5,7-4-11-5-7z />
<path color=#fec733 d=M156,2420l5,7-4-11-5-8z />
<path color=#f6dd22 d=M151,2412l5,8-4-12-5-9z />
<path color=#fec733 d=M291,2385l5-13-4-12-5,11z />
<path color=#efb94b d=M286,2396l5-11-4-14-5,11z />
<path color=#d1bb59 d=M281,2406l5-10-4-14-5,11z />
<path color=#b3bd65 d=M276,2415l5-9-4-13-5,10z />
<path color=#95bf71 d=M271,2424l5-9-4-12-4,10z />
<path color=#77bf7e d=M266,2431l5-7-3-11-5,8z />
<path color=#58bd8c d=M262,2439l4-8-3-10-5,8z />
<path color=#3fba9a d=M257,2447l5-8-4-10-5,6z />
<path color=#2cb7a5 d=M252,2454l5-7-4-12-5,5z />
<path color=#1eb3ae d=M247,2459l5-5-4-14-5,5z />
<path color=#14b0b5 d=M242,2464l5-5-4-14-5,5z />
<path color=#0eaeba d=M237,2467l5-3-4-14-4,5z />
<path color=#0aacbe d=M232,2470l5-3-3-12-5,4z />
<path color=#08abc0 d=M228,2472l4-2-3-11-5,3z />
<path color=#08aac0 d=M223,2474l5-2-4-10-5,2z />
<path color=#08abc0 d=M218,2475l5-1-4-10-5,0z />
<path color=#0aacbe d=M213,2476l5-1-4-11-5,0z />
<path color=#0eaeba d=M208,2476l5,0-4-12-5-1z />
<path color=#14b0b5 d=M203,2475l5,1-4-13-4-1z />
<path color=#1eb3ae d=M198,2473l5,2-3-13-5-2z />
<path color=#2cb7a5 d=M194,2470l4,3-3-13-5-2z />
<path color=#3fba9a d=M189,2466l5,4-4-12-5-2z />
<path color=#58bd8c d=M184,2462l5,4-4-10-5-4z />
<path color=#77bf7e d=M179,2458l5,4-4-10-5-5z />
<path color=#95bf71 d=M174,2453l5,5-4-11-5-6z />
<path color=#b3bd65 d=M169,2447l5,6-4-12-4-7z />
<path color=#d1bb59 d=M164,2441l5,6-3-13-5-7z />
<path color=#efb94b d=M160,2433l4,8-3-14-5-7z />
<path color=#fec733 d=M155,2424l5,9-4-13-5-8z />
<path color=#f1b949 d=M295,2394l4-11-3-11-5,13z />
<path color=#d1bb59 d=M290,2405l5-11-4-9-5,11z />
<path color=#b0bd66 d=M285,2416l5-11-4-9-5,10z />
<path color=#8fbf74 d=M280,2426l5-10-4-10-5,9z />
<path color=#6cbf82 d=M275,2436l5-10-4-11-5,9z />
<path color=#4bbc93 d=M270,2445l5-9-4-12-5,7z />
<path color=#30b7a2 d=M265,2452l5-7-4-14-4,8z />
<path color=#1db3af d=M261,2458l4-6-3-13-5,8z />
<path color=#0faeb9 d=M256,2464l5-6-4-11-5,7z />
<path color=#08aac0 d=M251,2469l5-5-4-10-5,5z />
<path color=#06a7c6 d=M246,2474l5-5-4-10-5,5z />
<path color=#06a3ca d=M241,2478l5-4-4-10-5,3z />
<path color=#06a1cc d=M236,2482l5-4-4-11-5,3z />
<path color=#069fce d=M231,2485l5-3-4-12-4,2zM227,2487l4-2-3-13-5,2zM222,2487l5,0-4-13-5,1z />
<path color=#06a1cc d=M217,2487l5,0-4-12-5,1z />
<path color=#06a3ca d=M212,2486l5,1-4-11-5,0z />
<path color=#06a7c6 d=M207,2485l5,1-4-10-5-1z />
<path color=#08aac0 d=M202,2483l5,2-4-10-5-2z />
<path color=#0faeb9 d=M197,2482l5,1-4-10-4-3z />
<path color=#1db3af d=M193,2479l4,3-3-12-5-4z />
<path color=#30b7a2 d=M188,2475l5,4-4-13-5-4z />
<path color=#4bbc93 d=M183,2470l5,5-4-13-5-4z />
<path color=#6cbf82 d=M178,2464l5,6-4-12-5-5z />
<path color=#8fbf74 d=M173,2457l5,7-4-11-5-6z />
<path color=#b0bd66 d=M168,2450l5,7-4-10-5-6z />
<path color=#d1bb59 d=M163,2443l5,7-4-9-4-8z />
<path color=#f1b949 d=M159,2435l4,8-3-10-5-9z />
<path color=#d6ba57 d=M298,2406l5-12-4-11-4,11z />
<path color=#b3bd65 d=M293,2418l5-12-3-12-5,11z />
<path color=#8fbf73 d=M289,2428l4-10-3-13-5,11z />
<path color=#69be84 d=M284,2437l5-9-4-12-5,10z />
<path color=#44bb97 d=M279,2445l5-8-4-11-5,10z />
<path color=#28b6a8 d=M274,2453l5-8-4-9-5,9z />
<path color=#14b0b5 d=M269,2461l5-8-4-8-5,7z />
<path color=#08abc0 d=M264,2469l5-8-4-9-4,6z />
<path color=#06a5c8 d=M259,2475l5-6-3-11-5,6z />
<path color=#06a0cd d=M255,2481l4-6-3-11-5,5z />
<path color=#089bd0 d=M250,2486l5-5-4-12-5,5z />
<path color=#0b96d1 d=M245,2489l5-3-4-12-5,4z />
<path color=#0d92d2 d=M240,2492l5-3-4-11-5,4z />
<path color=#0f90d2 d=M235,2494l5-2-4-10-5,3z />
<path color=#108fd2 d=M230,2496l5-2-4-9-4,2z />
<path color=#0f90d2 d=M225,2497l5-1-3-9-5,0z />
<path color=#0d92d2 d=M221,2498l4-1-3-10-5,0z />
<path color=#0b96d1 d=M216,2498l5,0-4-11-5-1z />
<path color=#089bd0 d=M211,2497l5,1-4-12-5-1z />
<path color=#06a0cd d=M206,2495l5,2-4-12-5-2z />
<path color=#06a5c8 d=M201,2492l5,3-4-12-5-1z />
<path color=#08abc0 d=M196,2488l5,4-4-10-4-3z />
<path color=#14b0b5 d=M192,2484l4,4-3-9-5-4z />
<path color=#28b6a8 d=M187,2479l5,5-4-9-5-5z />
<path color=#44bb97 d=M182,2475l5,4-4-9-5-6z />
<path color=#69be84 d=M177,2469l5,6-4-11-5-7z />
<path color=#8fbf73 d=M172,2463l5,6-4-12-5-7z />
<path color=#b3bd65 d=M167,2455l5,8-4-13-5-7z />
<path color=#d6ba57 d=M162,2446l5,9-4-12-4-8z />
<path color=#bbbd62 d=M302,2415l5-11-4-10-5,12z />
<path color=#95bf71 d=M297,2426l5-11-4-9-5,12z />
<path color=#6cbf82 d=M292,2437l5-11-4-8-4,10z />
<path color=#44bb97 d=M288,2447l4-10-3-9-5,9z />
<path color=#25b5a9 d=M283,2456l5-9-4-10-5,8z />
<path color=#10afb8 d=M278,2465l5-9-4-11-5,8z />
<path color=#06a8c4 d=M273,2472l5-7-4-12-5,8z />
<path color=#06a2cc d=M268,2479l5-7-4-11-5,8z />
<path color=#089ad0 d=M263,2484l5-5-4-10-5,6z />
<path color=#0d92d2 d=M258,2489l5-5-4-9-4,6z />
<path color=#128bd2 d=M254,2494l4-5-3-8-5,5z />
<path color=#1486d4 d=M249,2498l5-4-4-8-5,3z />
<path color=#1483d5 d=M244,2502l5-4-4-9-5,3z />
<path color=#1481d5 d=M239,2505l5-3-4-10-5,2z />
<path color=#1481d6 d=M234,2507l5-2-4-11-5,2z />
<path color=#1481d5 d=M229,2508l5-1-4-11-5,1z />
<path color=#1483d5 d=M224,2507l5,1-4-11-4,1z />
<path color=#1486d4 d=M220,2507l4,0-3-9-5,0z />
<path color=#128bd2 d=M215,2505l5,2-4-9-5-1z />
<path color=#0d92d2 d=M210,2504l5,1-4-8-5-2z />
<path color=#089ad0 d=M205,2502l5,2-4-9-5-3z />
<path color=#06a2cc d=M200,2499l5,3-4-10-5-4z />
<path color=#06a8c4 d=M195,2495l5,4-4-11-4-4z />
<path color=#10afb8 d=M190,2490l5,5-3-11-5-5z />
<path color=#25b5a9 d=M186,2484l4,6-3-11-5-4z />
<path color=#44bb97 d=M181,2478l5,6-4-9-5-6z />
<path color=#6cbf82 d=M176,2471l5,7-4-9-5-6z />
<path color=#95bf71 d=M171,2463l5,8-4-8-5-8z />
<path color=#bbbd62 d=M166,2456l5,7-4-8-5-9z />
<path color=#a1be6c d=M306,2425l5-12-4-9-5,11z />
<path color=#77bf7e d=M301,2436l5-11-4-10-5,11z />
<path color=#4bbc93 d=M296,2447l5-11-4-10-5,11z />
<path color=#28b6a8 d=M291,2456l5-9-4-10-4,10z />
<path color=#10afb8 d=M286,2464l5-8-3-9-5,9z />
<path color=#06a7c5 d=M282,2472l4-8-3-8-5,9z />
<path color=#069fce d=M277,2480l5-8-4-7-5,7z />
<path color=#0b96d1 d=M272,2487l5-7-4-8-5,7z />
<path color=#128cd2 d=M267,2494l5-7-4-8-5,5z />
<path color=#1484d4 d=M262,2500l5-6-4-10-5,5z />
<path color=#0d75dc d=M238,2515l5-2-4-8-5,2z />
<path color=#0e76dc d=M233,2516l5-1-4-8-5,1z />
<path color=#0f78db d=M228,2517l5-1-4-8-5-1z />
<path color=#117bd9 d=M223,2517l5,0-4-10-4,0z />
<path color=#137fd7 d=M219,2516l4,1-3-10-5-2z />
<path color=#1484d4 d=M214,2514l5,2-4-11-5-1z />
<path color=#128cd2 d=M209,2511l5,3-4-10-5-2z />
<path color=#0b96d1 d=M204,2507l5,4-4-9-5-3z />
<path color=#069fce d=M199,2503l5,4-4-8-5-4z />
<path color=#06a7c5 d=M194,2499l5,4-4-8-5-5z />
<path color=#10afb8 d=M189,2494l5,5-4-9-4-6z />
<path color=#28b6a8 d=M185,2488l4,6-3-10-5-6z />
<path color=#4bbc93 d=M180,2481l5,7-4-10-5-7z />
<path color=#77bf7e d=M175,2474l5,7-4-10-5-8z />
<path color=#a1be6c d=M170,2465l5,9-4-11-5-7z />
<path color=#87bf77 d=M310,2433l5-12-4-8-5,12z />
<path color=#58bd8c d=M305,2444l5-11-4-8-5,11z />
<path color=#30b7a3 d=M300,2454l5-10-4-8-5,11z />
<path color=#14b0b5 d=M295,2464l5-10-4-7-5,9z />
<path color=#06a8c4 d=M290,2474l5-10-4-8-5,8z />
<path color=#069fce d=M285,2482l5-8-4-10-4,8z />
<path color=#0c94d2 d=M281,2490l4-8-3-10-5,8z />
<path color=#1389d3 d=M276,2496l5-6-4-10-5,7z />
<path color=#1481d6 d=M271,2502l5-6-4-9-5,7z />
<path color=#0d75dc d=M222,2523l5,1-4-7-4-1z />
<path color=#117ad9 d=M217,2521l5,2-3-7-5-2z />
<path color=#1481d6 d=M213,2519l4,2-3-7-5-3z />
<path color=#1389d3 d=M208,2517l5,2-4-8-5-4z />
<path color=#0c94d2 d=M203,2513l5,4-4-10-5-4z />
<path color=#069fce d=M198,2508l5,5-4-10-5-4z />
<path color=#06a8c4 d=M193,2502l5,6-4-9-5-5z />
<path color=#14b0b5 d=M188,2495l5,7-4-8-4-6z />
<path color=#30b7a3 d=M183,2488l5,7-3-7-5-7z />
<path color=#58bd8c d=M179,2481l4,7-3-7-5-7z />
<path color=#87bf77 d=M174,2473l5,8-4-7-5-9z />
<path color=#6ebf82 d=M313,2441l5-12-3-8-5,12z />
<path color=#3fba99 d=M309,2452l4-11-3-8-5,11z />
<path color=#1db3af d=M304,2463l5-11-4-8-5,10z />
<path color=#08abc0 d=M299,2472l5-9-4-9-5,10z />
<path color=#06a1cc d=M294,2481l5-9-4-8-5,10z />
<path color=#0b96d1 d=M289,2489l5-8-4-7-5,8z />
<path color=#1389d3 d=M284,2496l5-7-4-7-4,8z />
<path color=#137fd6 d=M280,2504l4-8-3-6-5,6z />
<path color=#0f78db d=M275,2510l5-6-4-8-5,6z />
<path color=#1389d3 d=M207,2519l5,4-4-6-5-4z />
<path color=#0b96d1 d=M202,2515l5,4-4-6-5-5z />
<path color=#06a1cc d=M197,2510l5,5-4-7-5-6z />
<path color=#08abc0 d=M192,2504l5,6-4-8-5-7z />
<path color=#1db3af d=M187,2497l5,7-4-9-5-7z />
<path color=#3fba99 d=M182,2490l5,7-4-9-4-7z />
<path color=#6ebf82 d=M178,2481l4,9-3-9-5-8z />
<path color=#57bd8d d=M317,2447l5-11-4-7-5,12z />
<path color=#2cb7a5 d=M312,2458l5-11-4-6-4,11z />
<path color=#0faeb9 d=M308,2469l4-11-3-6-5,11z />
<path color=#06a5c8 d=M303,2479l5-10-4-6-5,9z />
<path color=#089ad0 d=M298,2488l5-9-4-7-5,9z />
<path color=#128cd2 d=M293,2497l5-9-4-7-5,8z />
<path color=#1481d6 d=M288,2504l5-7-4-8-5,7z />
<path color=#0f78db d=M283,2511l5-7-4-8-4,8z />
<path color=#0870df d=M278,2516l5-5-3-7-5,6z />
<path color=#06a5c8 d=M196,2510l5,7-4-7-5-6z />
<path color=#0faeb9 d=M191,2503l5,7-4-6-5-7z />
<path color=#57bd8d d=M181,2488l5,8-4-6-4-9z />
<path color=#44bb97 d=M321,2454l5-12-4-6-5,11z />
<path color=#1eb3ae d=M316,2465l5-11-4-7-5,11z />
<path color=#08aac0 d=M311,2476l5-11-4-7-4,11z />
<path color=#06a0cd d=M307,2485l4-9-3-7-5,10z />
<path color=#0d92d2 d=M302,2494l5-9-4-6-5,9z />
<path color=#1484d4 d=M297,2502l5-8-4-6-5,9z />
<path color=#117ad9 d=M292,2510l5-8-4-5-5,7z />
<path color=#0971de d=M287,2517l5-7-4-6-5,7z />
<path color=#1eb3ae d=M190,2503l5,7-4-7-5-7z />
<path color=#44bb97 d=M185,2494l5,9-4-7-5-8z />
<path color=#36b99f d=M325,2459l5-12-4-5-5,12z />
<path color=#14b0b5 d=M320,2470l5-11-4-5-5,11z />
<path color=#06a7c6 d=M315,2481l5-11-4-5-5,11z />
<path color=#089bd0 d=M310,2491l5-10-4-5-4,9z />
<path color=#128bd2 d=M305,2500l5-9-3-6-5,9z />
<path color=#137fd7 d=M301,2508l4-8-3-6-5,8z />
<path color=#0d75dc d=M296,2516l5-8-4-6-5,8z />
<path color=#046ce0 d=M291,2522l5-6-4-6-5,7z />
<path color=#14b0b5 d=M194,2508l5,7-4-5-5-7z />
<path color=#36b99f d=M189,2499l5,9-4-5-5-9z />
<path color=#2cb7a5 d=M329,2464l5-12-4-5-5,12z />
<path color=#0eaeba d=M324,2476l5-12-4-5-5,11z />
<path color=#06a4ca d=M319,2486l5-10-4-6-5,11z />
<path color=#0b96d1 d=M314,2495l5-9-4-5-5,10z />
<path color=#1486d4 d=M309,2504l5-9-4-4-5,9z />
<path color=#117bd9 d=M304,2512l5-8-4-4-4,8z />
<path color=#0871de d=M300,2520l4-8-3-4-5,8z />
<path color=#0266e1 d=M295,2527l5-7-4-4-5,6z />
<path color=#0eaeba d=M198,2513l4,7-3-5-5-7z />
<path color=#2cb7a5 d=M193,2504l5,9-4-5-5-9z />
<path color=#25b5a9 d=M332,2468l5-12-3-4-5,12z />
<path color=#0aacbe d=M328,2479l4-11-3-4-5,12z />
<path color=#06a1cc d=M323,2490l5-11-4-3-5,10z />
<path color=#0d92d2 d=M318,2499l5-9-4-4-5,9z />
<path color=#1483d5 d=M313,2509l5-10-4-4-5,9z />
<path color=#0f78db d=M308,2517l5-8-4-5-5,8z />
<path color=#056ee0 d=M303,2524l5-7-4-5-4,8z />
<path color=#0462e1 d=M298,2531l5-7-3-4-5,7z />
<path color=#0d92d2 d=M211,2531l5,6-4-4-5-6z />
<path color=#06a1cc d=M206,2524l5,7-4-4-5-7z />
<path color=#0aacbe d=M201,2516l5,8-4-4-4-7z />
<path color=#25b5a9 d=M197,2508l4,8-3-3-5-9z />
<path color=#22b4ac d=M336,2472l5-12-4-4-5,12z />
<path color=#08abc0 d=M331,2483l5-11-4-4-4,11z />
<path color=#069fce d=M327,2493l4-10-3-4-5,11z />
<path color=#0f90d2 d=M322,2503l5-10-4-3-5,9z />
<path color=#1481d6 d=M317,2512l5-9-4-4-5,10z />
<path color=#0e76dc d=M312,2520l5-8-4-3-5,8z />
<path color=#036ce0 d=M307,2528l5-8-4-3-5,7z />
<path color=#095fdf d=M302,2535l5-7-4-4-5,7z />
<path color=#036ce0 d=M229,2551l5,4-4-4-4-4z />
<path color=#0e76dc d=M225,2546l4,5-3-4-5-4z />
<path color=#1481d6 d=M220,2540l5,6-4-3-5-6z />
<path color=#0f90d2 d=M215,2534l5,6-4-3-5-6z />
<path color=#069fce d=M210,2528l5,6-4-3-5-7z />
<path color=#08abc0 d=M205,2520l5,8-4-4-5-8z />
<path color=#22b4ac d=M200,2512l5,8-4-4-4-8z />
<path color=#20b4ad d=M340,2474l5-12-4-2-5,12z />
<path color=#08aac0 d=M335,2485l5-11-4-2-5,11z />
<path color=#069fce d=M330,2496l5-11-4-2-4,10z />
<path color=#108fd2 d=M325,2505l5-9-3-3-5,10z />
<path color=#1481d6 d=M321,2514l4-9-3-2-5,9z />
<path color=#0d76dc d=M316,2523l5-9-4-2-5,8z />
<path color=#036be0 d=M311,2530l5-7-4-3-5,8zM233,2553l5,4-4-2-5-4z />
<path color=#0d76dc d=M228,2548l5,5-4-2-4-5z />
<path color=#1481d6 d=M224,2543l4,5-3-2-5-6z />
<path color=#108fd2 d=M219,2537l5,6-4-3-5-6z />
<path color=#069fce d=M214,2530l5,7-4-3-5-6z />
<path color=#08aac0 d=M209,2523l5,7-4-2-5-8z />
<path color=#20b4ad d=M204,2514l5,9-4-3-5-8z />
<path color=#22b4ac d=M344,2476l5-12-4-2-5,12z />
<path color=#08abc0 d=M339,2487l5-11-4-2-5,11z />
<path color=#069fce d=M334,2498l5-11-4-2-5,11z />
<path color=#0f90d2 d=M329,2507l5-9-4-2-5,9z />
<path color=#1481d6 d=M324,2516l5-9-4-2-4,9z />
<path color=#0e76dc d=M320,2525l4-9-3-2-5,9z />
<path color=#036ce0 d=M315,2532l5-7-4-2-5,7z />
<path color=#254fce d=M247,2562l5,3-4-2-5-3z />
<path color=#095fdf d=M242,2559l5,3-4-2-5-3z />
<path color=#036ce0 d=M237,2555l5,4-4-2-5-4z />
<path color=#0e76dc d=M232,2551l5,4-4-2-5-5z />
<path color=#1481d6 d=M227,2545l5,6-4-3-4-5z />
<path color=#0f90d2 d=M222,2539l5,6-3-2-5-6z />
<path color=#069fce d=M218,2532l4,7-3-2-5-7z />
<path color=#08abc0 d=M213,2524l5,8-4-2-5-7z />
<path color=#22b4ac d=M208,2516l5,8-4-1-5-9z />
<path color=#25b5a9 d=M348,2477l4-12-3-1-5,12z />
<path color=#0aacbe d=M343,2489l5-12-4-1-5,11z />
<path color=#06a1cc d=M338,2499l5-10-4-2-5,11z />
<path color=#0d92d2 d=M333,2509l5-10-4-1-5,9z />
<path color=#1483d5 d=M328,2517l5-8-4-2-5,9z />
<path color=#0f78db d=M323,2526l5-9-4-1-4,9z />
<path color=#056ee0 d=M318,2533l5-7-3-1-5,7z />
<path color=#353dac d=M260,2568l5,1-4-1-5-1z />
<path color=#3046be d=M255,2566l5,2-4-1-4-2z />
<path color=#2053d4 d=M251,2563l4,3-3-1-5-3z />
<path color=#0462e1 d=M246,2560l5,3-4-1-5-3z />
<path color=#056ee0 d=M241,2556l5,4-4-1-5-4z />
<path color=#0f78db d=M236,2551l5,5-4-1-5-4z />
<path color=#1483d5 d=M231,2546l5,5-4,0-5-6z />
<path color=#0d92d2 d=M226,2540l5,6-4-1-5-6z />
<path color=#06a1cc d=M221,2533l5,7-4-1-4-7z />
<path color=#0aacbe d=M217,2526l4,7-3-1-5-8z />
<path color=#25b5a9 d=M212,2517l5,9-4-2-5-8z />
<path color=#2cb7a5 d=M351,2477l5-11-4-1-4,12z />
<path color=#0eaeba d=M347,2489l4-12-3,0-5,12z />
<path color=#06a4ca d=M342,2499l5-10-4,0-5,10z />
<path color=#0b96d1 d=M337,2509l5-10-4,0-5,10z />
<path color=#1486d4 d=M332,2518l5-9-4,0-5,8z />
<path color=#117bd9 d=M327,2527l5-9-4-1-5,9z />
<path color=#3342b6 d=M264,2568l5,1-4,0-5-1z />
<path color=#2a4bc8 d=M259,2566l5,2-4,0-5-2z />
<path color=#1359db d=M254,2564l5,2-4,0-4-3z />
<path color=#0266e1 d=M249,2561l5,3-3-1-5-3z />
<path color=#0871de d=M245,2557l4,4-3-1-5-4z />
<path color=#117bd9 d=M240,2552l5,5-4-1-5-5z />
<path color=#1486d4 d=M235,2547l5,5-4-1-5-5z />
<path color=#0b96d1 d=M230,2540l5,7-4-1-5-6z />
<path color=#06a4ca d=M225,2533l5,7-4,0-5-7z />
<path color=#0eaeba d=M220,2526l5,7-4,0-4-7z />
<path color=#2cb7a5 d=M215,2518l5,8-3,0-5-9z />
<path color=#36b99f d=M355,2478l5-12-4,0-5,11z />
<path color=#14b0b5 d=M350,2489l5-11-4-1-4,12z />
<path color=#06a7c6 d=M346,2499l4-10-3,0-5,10z />
<path color=#089bd0 d=M341,2509l5-10-4,0-5,10z />
<path color=#128bd2 d=M336,2517l5-8-4,0-5,9z />
<path color=#137fd7 d=M331,2526l5-9-4,1-5,9z />
<path color=#363aa7 d=M282,2569l5-1-4,1-4,1z />
<path color=#2d49c4 d=M268,2568l5,1-4,0-5-1z />
<path color=#1e54d5 d=M263,2566l5,2-4,0-5-2z />
<path color=#0661e0 d=M258,2564l5,2-4,0-5-2z />
<path color=#046ce0 d=M253,2560l5,4-4,0-5-3z />
<path color=#0d75dc d=M248,2556l5,4-4,1-4-4z />
<path color=#137fd7 d=M244,2552l4,4-3,1-5-5z />
<path color=#128bd2 d=M239,2546l5,6-4,0-5-5z />
<path color=#089bd0 d=M234,2541l5,5-4,1-5-7z />
<path color=#06a7c6 d=M229,2534l5,7-4-1-5-7z />
<path color=#14b0b5 d=M224,2526l5,8-4-1-5-7z />
<path color=#36b99f d=M219,2518l5,8-4,0-5-8z />
<path color=#44bb97 d=M359,2476l5-12-4,2-5,12z />
<path color=#1eb3ae d=M354,2487l5-11-4,2-5,11z />
<path color=#08aac0 d=M349,2498l5-11-4,2-4,10z />
<path color=#06a0cd d=M344,2508l5-10-3,1-5,10z />
<path color=#0d92d2 d=M340,2517l4-9-3,1-5,8z />
<path color=#1484d4 d=M335,2526l5-9-4,0-5,9z />
<path color=#3046be d=M281,2568l5,0-4,1-4,1z />
<path color=#2a4bc8 d=M276,2568l5,0-3,2-5-1z />
<path color=#1d54d5 d=M272,2567l4,1-3,1-5-1z />
<path color=#095fdf d=M267,2565l5,2-4,1-5-2z />
<path color=#0269e1 d=M262,2563l5,2-4,1-5-2z />
<path color=#0971de d=M257,2560l5,3-4,1-5-4z />
<path color=#117ad9 d=M252,2556l5,4-4,0-5-4z />
<path color=#1484d4 d=M247,2551l5,5-4,0-4-4z />
<path color=#0d92d2 d=M242,2545l5,6-3,1-5-6z />
<path color=#06a0cd d=M238,2539l4,6-3,1-5-5z />
<path color=#08aac0 d=M233,2532l5,7-4,2-5-7z />
<path color=#1eb3ae d=M228,2524l5,8-4,2-5-8z />
<path color=#44bb97 d=M223,2516l5,8-4,2-5-8z />
<path color=#57bd8d d=M363,2475l5-12-4,1-5,12z />
<path color=#2cb7a5 d=M358,2486l5-11-4,1-5,11z />
<path color=#0faeb9 d=M353,2497l5-11-4,1-5,11z />
<path color=#06a5c8 d=M348,2506l5-9-4,1-5,10z />
<path color=#089ad0 d=M343,2515l5-9-4,2-4,9z />
<path color=#128cd2 d=M339,2523l4-8-3,2-5,9z />
<path color=#254fce d=M300,2563l5-2-4,2-5,3z />
<path color=#274ecc d=M295,2565l5-2-4,3-5,2z />
<path color=#254fce d=M290,2566l5-1-4,3-5,0z />
<path color=#2053d4 d=M285,2567l5-1-4,2-5,0z />
<path color=#1459db d=M280,2567l5,0-4,1-5,0z />
<path color=#0661e0 d=M275,2566l5,1-4,1-4-1z />
<path color=#0269e1 d=M271,2564l4,2-3,1-5-2z />
<path color=#0870df d=M266,2561l5,3-4,1-5-2z />
<path color=#0f78db d=M261,2557l5,4-4,2-5-3z />
<path color=#1481d6 d=M256,2553l5,4-4,3-5-4z />
<path color=#128cd2 d=M251,2549l5,4-4,3-5-5z />
<path color=#089ad0 d=M246,2544l5,5-4,2-5-6z />
<path color=#06a5c8 d=M241,2538l5,6-4,1-4-6z />
<path color=#0faeb9 d=M237,2531l4,7-3,1-5-7z />
<path color=#2cb7a5 d=M232,2524l5,7-4,1-5-8z />
<path color=#57bd8d d=M227,2515l5,9-4,0-5-8z />
<path color=#6ebf82 d=M367,2472l4-12-3,3-5,12z />
<path color=#3fba99 d=M362,2483l5-11-4,3-5,11z />
<path color=#1db3af d=M357,2493l5-10-4,3-5,11z />
<path color=#08abc0 d=M352,2504l5-11-4,4-5,9z />
<path color=#06a1cc d=M347,2513l5-9-4,2-5,9z />
<path color=#0b96d1 d=M342,2522l5-9-4,2-4,8z />
<path color=#0462e1 d=M308,2559l5-4-4,3-4,3z />
<path color=#095fdf d=M303,2562l5-3-3,2-5,2z />
<path color=#0b5edf d=M299,2564l4-2-3,1-5,2z />
<path color=#095fdf d=M294,2564l5,0-4,1-5,1z />
<path color=#0462e1 d=M289,2564l5,0-4,2-5,1z />
<path color=#0267e1 d=M284,2563l5,1-4,3-5,0z />
<path color=#046ce0 d=M279,2562l5,1-4,4-5-1z />
<path color=#0971de d=M274,2561l5,1-4,4-4-2z />
<path color=#0f78db d=M269,2559l5,2-3,3-5-3z />
<path color=#137fd6 d=M265,2556l4,3-3,2-5-4z />
<path color=#1389d3 d=M260,2552l5,4-4,1-5-4z />
<path color=#0b96d1 d=M255,2547l5,5-4,1-5-4z />
<path color=#06a1cc d=M250,2541l5,6-4,2-5-5z />
<path color=#08abc0 d=M245,2535l5,6-4,3-5-6z />
<path color=#1db3af d=M240,2528l5,7-4,3-4-7z />
<path color=#3fba99 d=M236,2520l4,8-3,3-5-7z />
<path color=#6ebf82 d=M231,2512l5,8-4,4-5-9z />
<path color=#87bf77 d=M370,2470l5-13-4,3-4,12z />
<path color=#58bd8c d=M366,2481l4-11-3,2-5,11z />
<path color=#30b7a3 d=M361,2491l5-10-4,2-5,10z />
<path color=#14b0b5 d=M356,2500l5-9-4,2-5,11z />
<path color=#06a8c4 d=M351,2509l5-9-4,4-5,9z />
<path color=#056ee0 d=M312,2555l5-2-4,2-5,4z />
<path color=#046ce0 d=M307,2557l5-2-4,4-5,3z />
<path color=#036be0 d=M302,2559l5-2-4,5-4,2z />
<path color=#046ce0 d=M298,2561l4-2-3,5-5,0z />
<path color=#056ee0 d=M293,2561l5,0-4,3-5,0z />
<path color=#0871de d=M288,2562l5-1-4,3-5-1z />
<path color=#0d75dc d=M283,2561l5,1-4,1-5-1z />
<path color=#117ad9 d=M278,2558l5,3-4,1-5-1z />
<path color=#1481d6 d=M273,2555l5,3-4,3-5-2z />
<path color=#1389d3 d=M268,2552l5,3-4,4-4-3z />
<path color=#0c94d2 d=M264,2548l4,4-3,4-5-4z />
<path color=#069fce d=M259,2543l5,5-4,4-5-5z />
<path color=#06a8c4 d=M254,2538l5,5-4,4-5-6z />
<path color=#14b0b5 d=M249,2533l5,5-4,3-5-6z />
<path color=#30b7a3 d=M244,2526l5,7-4,2-5-7z />
<path color=#58bd8c d=M239,2518l5,8-4,2-4-8z />
<path color=#87bf77 d=M234,2509l5,9-3,2-5-8z />
<path color=#a1be6c d=M374,2465l5-12-4,4-5,13z />
<path color=#77bf7e d=M369,2476l5-11-4,5-4,11z />
<path color=#4bbc93 d=M364,2486l5-10-3,5-5,10z />
<path color=#28b6a8 d=M360,2497l4-11-3,5-5,9z />
<path color=#10afb8 d=M355,2506l5-9-4,3-5,9z />
<path color=#137fd7 d=M326,2544l4-5-3,5-5,5z />
<path color=#117bd9 d=M321,2548l5-4-4,5-5,4z />
<path color=#0f78db d=M316,2552l5-4-4,5-5,2z />
<path color=#0e76dc d=M311,2555l5-3-4,3-5,2z />
<path color=#0d75dc d=M306,2557l5-2-4,2-5,2z />
<path color=#0e76dc d=M301,2557l5,0-4,2-4,2z />
<path color=#0f78db d=M296,2557l5,0-3,4-5,0z />
<path color=#117bd9 d=M292,2556l4,1-3,4-5,1z />
<path color=#137fd7 d=M287,2555l5,1-4,6-5-1z />
<path color=#1484d4 d=M282,2554l5,1-4,6-5-3z />
<path color=#128cd2 d=M277,2552l5,2-4,4-5-3z />
<path color=#0b96d1 d=M272,2549l5,3-4,3-5-3z />
<path color=#069fce d=M267,2545l5,4-4,3-4-4z />
<path color=#06a7c5 d=M263,2540l4,5-3,3-5-5z />
<path color=#10afb8 d=M258,2534l5,6-4,3-5-5z />
<path color=#28b6a8 d=M253,2528l5,6-4,4-5-5z />
<path color=#4bbc93 d=M248,2520l5,8-4,5-5-7z />
<path color=#77bf7e d=M243,2513l5,7-4,6-5-8z />
<path color=#a1be6c d=M238,2505l5,8-4,5-5-9z />
<path color=#bbbd62 d=M378,2461l5-12-4,4-5,12z />
<path color=#95bf71 d=M373,2473l5-12-4,4-5,11z />
<path color=#6cbf82 d=M368,2483l5-10-4,3-5,10z />
<path color=#44bb97 d=M363,2492l5-9-4,3-4,11z />
<path color=#25b5a9 d=M359,2500l4-8-3,5-5,9z />
<path color=#06a2cc d=M344,2524l5-8-4,6-5,6z />
<path color=#1483d5 d=M320,2547l5-3-4,4-5,4z />
<path color=#1481d5 d=M315,2549l5-2-4,5-5,3z />
<path color=#1481d6 d=M310,2551l5-2-4,6-5,2z />
<path color=#1481d5 d=M305,2552l5-1-4,6-5,0z />
<path color=#1483d5 d=M300,2553l5-1-4,5-5,0z />
<path color=#1486d4 d=M295,2553l5,0-4,4-4-1z />
<path color=#128bd2 d=M291,2552l4,1-3,3-5-1z />
<path color=#0d92d2 d=M286,2550l5,2-4,3-5-1z />
<path color=#089ad0 d=M281,2547l5,3-4,4-5-2z />
<path color=#06a2cc d=M276,2543l5,4-4,5-5-3z />
<path color=#06a8c4 d=M271,2539l5,4-4,6-5-4z />
<path color=#10afb8 d=M266,2535l5,4-4,6-4-5z />
<path color=#25b5a9 d=M261,2530l5,5-3,5-5-6z />
<path color=#44bb97 d=M257,2524l4,6-3,4-5-6z />
<path color=#6cbf82 d=M252,2518l5,6-4,4-5-8z />
<path color=#95bf71 d=M247,2510l5,8-4,2-5-7z />
<path color=#bbbd62 d=M242,2501l5,9-4,3-5-8z />
<path color=#d6ba57 d=M382,2455l5-12-4,6-5,12z />
<path color=#b3bd65 d=M377,2466l5-11-4,6-5,12z />
<path color=#8fbf73 d=M372,2476l5-10-4,7-5,10z />
<path color=#06a5c8 d=M343,2524l5-5-4,5-5,6z />
<path color=#06a0cd d=M338,2529l5-5-4,6-5,6z />
<path color=#089bd0 d=M333,2534l5-5-4,7-5,5z />
<path color=#0b96d1 d=M328,2538l5-4-4,7-4,3z />
<path color=#0d92d2 d=M324,2542l4-4-3,6-5,3z />
<path color=#0f90d2 d=M319,2545l5-3-4,5-5,2z />
<path color=#108fd2 d=M314,2547l5-2-4,4-5,2z />
<path color=#0f90d2 d=M309,2548l5-1-4,4-5,1z />
<path color=#0d92d2 d=M304,2547l5,1-4,4-5,1z />
<path color=#0b96d1 d=M299,2546l5,1-4,6-5,0z />
<path color=#089bd0 d=M294,2545l5,1-4,7-4-1z />
<path color=#06a0cd d=M290,2544l4,1-3,7-5-2z />
<path color=#06a5c8 d=M285,2542l5,2-4,6-5-3z />
<path color=#08abc0 d=M280,2539l5,3-4,5-5-4z />
<path color=#14b0b5 d=M275,2535l5,4-4,4-5-4z />
<path color=#28b6a8 d=M270,2530l5,5-4,4-5-4z />
<path color=#44bb97 d=M265,2524l5,6-4,5-5-5z />
<path color=#69be84 d=M260,2518l5,6-4,6-4-6z />
<path color=#8fbf73 d=M256,2510l4,8-3,6-5-6z />
<path color=#b3bd65 d=M251,2503l5,7-4,8-5-8z />
<path color=#d6ba57 d=M246,2495l5,8-4,7-5-9z />
<path color=#f1b949 d=M386,2450l4-12-3,5-5,12z />
<path color=#d1bb59 d=M381,2462l5-12-4,5-5,11z />
<path color=#b0bd66 d=M376,2472l5-10-4,4-5,10z />
<path color=#30b7a2 d=M356,2505l5-8-4,8-4,7z />
<path color=#1db3af d=M352,2512l4-7-3,7-5,7z />
<path color=#0faeb9 d=M347,2519l5-7-4,7-5,5z />
<path color=#08aac0 d=M342,2525l5-6-4,5-5,5z />
<path color=#06a7c6 d=M337,2529l5-4-4,4-5,5z />
<path color=#06a3ca d=M332,2533l5-4-4,5-5,4z />
<path color=#06a1cc d=M327,2535l5-2-4,5-4,4z />
<path color=#069fce d=M322,2537l5-2-3,7-5,3zM318,2539l4-2-3,8-5,2zM313,2541l5-2-4,8-5,1z />
<path color=#06a1cc d=M308,2542l5-1-4,7-5-1z />
<path color=#06a3ca d=M303,2542l5,0-4,5-5-1z />
<path color=#06a7c6 d=M298,2541l5,1-4,4-5-1z />
<path color=#08aac0 d=M293,2539l5,2-4,4-4-1z />
<path color=#0faeb9 d=M288,2536l5,3-3,5-5-2z />
<path color=#1db3af d=M284,2532l4,4-3,6-5-3z />
<path color=#30b7a2 d=M279,2527l5,5-4,7-5-4z />
<path color=#4bbc93 d=M274,2523l5,4-4,8-5-5z />
<path color=#6cbf82 d=M269,2518l5,5-4,7-5-6z />
<path color=#8fbf74 d=M264,2513l5,5-4,6-5-6z />
<path color=#b0bd66 d=M259,2506l5,7-4,5-4-8z />
<path color=#d1bb59 d=M254,2499l5,7-3,4-5-7z />
<path color=#f1b949 d=M250,2490l4,9-3,4-5-8z />
<path color=#fec733 d=M389,2442l5-11-4,7-4,12z />
<path color=#3fba9a d=M355,2506l5-6-4,5-4,7z />
<path color=#2cb7a5 d=M351,2511l4-5-3,6-5,7z />
<path color=#1eb3ae d=M346,2516l5-5-4,8-5,6z />
<path color=#14b0b5 d=M341,2521l5-5-4,9-5,4z />
<path color=#0eaeba d=M336,2525l5-4-4,8-5,4z />
<path color=#0aacbe d=M331,2529l5-4-4,8-5,2z />
<path color=#08abc0 d=M326,2532l5-3-4,6-5,2z />
<path color=#08aac0 d=M321,2534l5-2-4,5-4,2z />
<path color=#08abc0 d=M317,2535l4-1-3,5-5,2z />
<path color=#0aacbe d=M312,2534l5,1-4,6-5,1z />
<path color=#0eaeba d=M307,2533l5,1-4,8-5,0z />
<path color=#14b0b5 d=M302,2532l5,1-4,9-5-1z />
<path color=#1eb3ae d=M297,2531l5,1-4,9-5-2z />
<path color=#2cb7a5 d=M292,2529l5,2-4,8-5-3z />
<path color=#3fba9a d=M287,2526l5,3-4,7-4-4z />
<path color=#58bd8c d=M283,2523l4,3-3,6-5-5z />
<path color=#77bf7e d=M278,2518l5,5-4,4-5-4z />
<path color=#95bf71 d=M273,2512l5,6-4,5-5-5z />
<path color=#b3bd65 d=M268,2505l5,7-4,6-5-5z />
<path color=#d1bb59 d=M263,2498l5,7-4,8-5-7z />
<path color=#efb94b d=M258,2490l5,8-4,8-5-7z />
<path color=#fec733 d=M253,2483l5,7-4,9-4-9z />
<path color=#f6dd22 d=M393,2436l5-13-4,8-5,11z />
<path color=#fec733 d=M388,2447l5-11-4,6-5,11z />
<path color=#f1b949 d=M383,2458l5-11-4,6-4,11z />
<path color=#d6ba57 d=M379,2467l4-9-3,6-5,10z />
<path color=#bbbd62 d=M374,2475l5-8-4,7-5,10z />
<path color=#a1be6c d=M369,2483l5-8-4,9-5,8z />
<path color=#88bf77 d=M364,2490l5-7-4,9-5,8z />
<path color=#6ebf82 d=M359,2498l5-8-4,10-5,6z />
<path color=#57bd8d d=M354,2505l5-7-4,8-4,5z />
<path color=#44bb97 d=M349,2511l5-6-3,6-5,5z />
<path color=#36b99f d=M345,2515l4-4-3,5-5,5z />
<path color=#2cb7a5 d=M340,2519l5-4-4,6-5,4z />
<path color=#25b5a9 d=M335,2521l5-2-4,6-5,4z />
<path color=#22b4ac d=M330,2523l5-2-4,8-5,3z />
<path color=#20b4ad d=M325,2525l5-2-4,9-5,2z />
<path color=#22b4ac d=M320,2526l5-1-4,9-4,1z />
<path color=#25b5a9 d=M315,2528l5-2-3,9-5-1z />
<path color=#2cb7a5 d=M311,2528l4,0-3,6-5-1z />
<path color=#36b99f d=M306,2527l5,1-4,5-5-1z />
<path color=#44bb97 d=M301,2525l5,2-4,5-5-1z />
<path color=#57bd8d d=M296,2521l5,4-4,6-5-2z />
<path color=#6ebf82 d=M291,2517l5,4-4,8-5-3z />
<path color=#88bf77 d=M286,2513l5,4-4,9-4-3z />
<path color=#a1be6c d=M281,2509l5,4-3,10-5-5z />
<path color=#bbbd62 d=M277,2504l4,5-3,9-5-6z />
<path color=#d6ba57 d=M272,2499l5,5-4,8-5-7z />
<path color=#f1b949 d=M267,2492l5,7-4,6-5-7z />
<path color=#fec733 d=M262,2484l5,8-4,6-5-8z />
<path color=#f6dd22 d=M257,2475l5,9-4,6-5-7z /></g>
<text x="48.9" y="584.6" font-size="9.2" textLength="38.6" lengthAdjust="spacingAndGlyphs">Griewank</text>
<text class="t" transform="translate(14.5 617.2) rotate(-90)" font-size="9.4" text-anchor="middle" textLength="43.6" lengthAdjust="spacingAndGlyphs">F11(&#160;x<tspan font-size="7.3" dy="4.7">1</tspan><tspan dy="-4.7">&#160;,&#160;x</tspan><tspan font-size="7.3" dy="4.7">2</tspan><tspan dy="-4.7">&#160;)</tspan></text>
<text x="33.9" y="610" font-size="8.3" text-anchor="end" class="t">100</text>
<text x="33.9" y="625.2" font-size="8.3" text-anchor="end" class="t">50</text>
<text x="33.9" y="640.2" font-size="8.3" text-anchor="end" class="t">0</text>
<text x="33.9" y="648" font-size="8.3" text-anchor="end" class="t">500</text>
<text x="45" y="656.4" font-size="8.3" text-anchor="middle" class="t">0</text>
<text x="53.3" y="665.1" font-size="8.3" text-anchor="middle" class="t">-500</text>
<text x="73.5" y="665.8" font-size="8.3" text-anchor="middle" class="t">-500</text>
<text x="86.8" y="658.9" font-size="8.3" text-anchor="middle" class="t">0</text>
<text x="108" y="652.5" font-size="8.3" text-anchor="middle" class="t">500</text>
<text class="t" x="22.6" y="670.2" font-size="9.2">x<tspan font-size="7.2" dy="3.9">2</tspan></text>
<text class="t" x="98.8" y="672" font-size="9.2">x<tspan font-size="7.2" dy="3.9">1</tspan></text>
<path fill="none" stroke="#c4c4c4" stroke-width="0.8" d="M288.8 596.5L288.8 635.7L318.3 653L360 640.7"/>
<g transform="scale(.25)" filter="url(#bl)" style="fill:currentColor;stroke:currentColor;stroke-width:2;stroke-linejoin:round"><path fill=none stroke="#2350d0" stroke-width="1.4" opacity="0.85" d="M1303,2594l7,1,1,4-8-5M1339,2583l9,6-10-2-1-4,2,0M1377,2575l-1,4-6-4,7,0M1408,2566l0,0M1285,2577l9,0,2,3-1,4-5,2-17-2,4-6,8-1M1320,2567l8,0,2,3-3,7-23-2,3-6,13-2M1350,2558l9,0,3,3-1,4-5,2-18-2,4-6,8-1M1257,2588l3,3-2,3-10,0-4-2,5-3,8-1M1388,2550l4,2-2,4-15-3,5-3,8,0M1388,2532l-21,10-62,22-81,19M1216,2578l71-25,69-17,29-5M1235,2551l17,1,0,3-8,4-14,0-1-3,2-5,4,0M1270,2541l15,1,1,3-5,5-6,1-14-2,1-6,3-3,5,1M1302,2531l14,2,1,3-7,4-15-1,2-7,5-1M1208,2562l6,2-2,3-7,1-6-3,4-3,5,0M1341,2523l5,1-3,4-11,0-2-2,4-3,7,0M1210,2539l7,1,2,3-2,1-7-5M1246,2529l9,5-10-2-1-4,2,1M1284,2520l2,1-3,3-6-3,7-1M1315,2511l0,0" />
<path fill=none stroke="#0a73dd" stroke-width="1.4" opacity="0.85" d="M1281,2610l-11-3-5-4,0-4-17-2M1312,2601l-10-4-9-7-15-2-11,3-2,5,1,2,13,6,5,5M1345,2591l-10-3-9-7-10-2-13,1-3,5,1,3,13,6,4,5M1378,2581l-10-3-8-7-22-1-3,2,0,6,13,6,3,5M1413,2571l-11-3-6-8-17-2-11,3-2,5,2,2,12,6,5,5M1413,2547l-13,1-3,12,16,4,3,6M1396,2537l-12,4,1,3,10,1,6-1,3-3M1370,2522l-7,0-6,5,3,3,18-4M1232,2520l6,5,17,4,8,7,14,3,11-3,2-5-14-8-5-6,6-1,10,4,14,8,14,1,9-3,2-5-1-3-16-5-3-6,14,3,6,8,5,1,23,2,5-1,1-4M1192,2564l2-7-9-1-8-4-3-3,2-3,10,3,8,8,5,1,14,1,10-3,1-5-2-3-13-5-5-8,17,4,14,9,19-1,2-6-2-2-12-6-4-8-9-4M1197,2530l1,2-3-1M1297,2501l0,0" />
<path fill=none stroke="#138ad3" stroke-width="1.4" opacity="0.85" d="M1277,2611l-24-11M1309,2601l-20-9-14-1-4,2,0,4,12,6,3,5M1342,2592l-21-10-14,1-1,4,11,6,4,5M1376,2582l-21-10-13,0-2,5,14,11M1410,2572l-21-10-13-1-4,2,0,4,11,6,4,5M1418,2550l-13,1-2,4,1,3,11,6,5,5M1300,2500l37,17,11,1,5-2,3-3M1187,2562l-13-9-9-10-5-2M1167,2539l7,5,15,4,11,7,9,2,10-4-2-3-11-7-5-7-8-4M1201,2529l33,16,11,1,5-1,0-5-24-18M1234,2520l34,15,12,1,4-2,0-4-11-6-6-8-7-4M1267,2510l33,15,11,2,6-1,3-3-2-3-11-6-5-8-8-4" />
<path fill=none stroke="#06a3ca" stroke-width="1.4" opacity="0.85" d="M1275,2612l-5-2M1307,2602l-23-9-8,2,13,12M1340,2592l-24-8-5,1,12,12M1374,2582l-20-7-8-1,10,14M1408,2572l-24-8-7,2,12,12M1435,2560l-14-7-12,0-1,3,14,12M1302,2499l34,16,9,1,5-2,0-3-11-8M1168,2539l36,15,8,0,1-3-21-19M1202,2529l37,14,6-1-14-15-6-5M1236,2519l37,14,5-1-13-15-7-5M1269,2509l35,15,9,0,1-3-22-18M1170,2552l-4-6-7-4" />
<path fill=none stroke="#1ab2b1" stroke-width="1.4" opacity="0.85" d="M1305,2602l-16-3,2,8M1338,2593l-11-3-4,2,2,5M1372,2583l-15-2,1,6M1406,2573l-16-4-1,4,2,4M1440,2563l-20-7-6,1,7,5,3,6M1303,2499l36,14,4-3-9-9M1170,2538l13,6,19,4-3-9-9-6M1204,2528l13,6,11,3,6-2-4-8-7-4M1237,2519l13,5,16,3,1-3-2-4-8-7M1270,2509l13,5,20,4-4-8-9-7M1166,2549l-9-7" />
<path fill=none stroke="#51bd8f" stroke-width="1.4" opacity="0.85" d="M1304,2603l-10-1-1,4M1336,2593l-5,0-5,1,1,2M1370,2583l-9,0-1,3M1404,2574l-8-2-4,3,1,2M1438,2563l-14,0,2,4M1171,2538l14,6,12,1,0-5-8-7M1205,2528l14,6,11-1-2-5-6-5M1239,2518l13,6,9,1,2-5-8-7M1272,2508l13,6,12,1,0-5-8-7M1304,2499l8,4,17,4,4-2-2-6M1163,2547l-7-4" />
<path fill=none stroke="#92bf72" stroke-width="1.4" opacity="0.85" d="M1300,2604l-4,1M1366,2585l-3,0M1401,2574l-5,2M1436,2564l-8,1,0,1M1173,2538l13,5,8,0,1-4-7-6M1206,2528l15,5,7-1-7-9M1240,2518l9,4,10,1,2-3-7-6M1273,2508l14,5,8,0-1-5-6-4M1306,2498l14,6,6,1,4-2-2-5-6-4" />
<path fill=none stroke="#c7bc5d" stroke-width="1.4" opacity="0.85" d="M1307,2498l16,5,4-2-7-7M1174,2537l8,4,9,1,0-5-5-3M1208,2527l12,5,5-2-6-6M1241,2517l15,5,2-3-5-5M1274,2508l11,4,7,0-5-8" />
<path fill=none stroke="#f5ba47" stroke-width="1.4" opacity="0.85" d="M1175,2537l13,3-3-6M1243,2517l10,3-2-6M1276,2507l13,3-4-5M1309,2498l12,4,4-2-6-6M1209,2527l7,3,6-2-4-4" />
<path fill=none stroke="#f9d429" stroke-width="1.4" opacity="0.85" d="M1178,2536l7,2-3-3M1278,2507l8,1-3-3M1310,2497l7,3,4-3-3-2M1212,2526l4-1M1245,2516l4,2-1-3" />
<path color=#f5e51c d=M1315,2364l6,4-4-8-5-5z />
<path color=#fdbe3d d=M1310,2401l5-37-3-9-5,41z />
<path color=#47bb95 d=M1305,2450l5-49-3-5-5,55z />
<path color=#128bd3 d=M1300,2473l5-23-3,1-5,25z />
<path color=#fad22a d=M1280,2391l5-14-3-9-5,15z />
<path color=#b2bd66 d=M1275,2437l5-46-3-8-6,51z />
<path color=#06a5c9 d=M1270,2479l5-42-4-3-5,47z />
<path color=#f8bb44 d=M1245,2419l5-29-4-10-5,33z />
<path color=#50bc90 d=M1240,2468l5-49-4-6-5,55z />
<path color=#1487d3 d=M1235,2498l5-30-4,0-5,33z />
<path color=#fcce2d d=M1214,2407l5-4-3-9-5,4z />
<path color=#cabb5c d=M1209,2448l5-41-3-9-5,46z />
<path color=#0dadbb d=M1204,2493l5-45-3-4-5,51z />
<path color=#fdcc2f d=M1179,2426l5-20-4-10-5,23z />
<path color=#95bf71 d=M1174,2474l5-48-4-7-5,53z />
<path color=#069fce d=M1169,2509l5-35-4-2-5,39z />
<path color=#1482d5 d=M1164,2503l5,6-4,2-5-7z />
<path color=#12afb7 d=M1159,2461l5,42-4,1-5-47z />
<path color=#fcce2d d=M1319,2378l5,3-3-13-6-4z />
<path color=#e7b94f d=M1314,2411l5-33-4-14-5,37z />
<path color=#3ab99c d=M1309,2455l5-44-4-10-5,49z />
<path color=#118dd2 d=M1304,2475l5-20-4-5-5,23z />
<path color=#fdbe3e d=M1284,2403l5-12-4-14-5,14z />
<path color=#9bbf6f d=M1279,2444l5-41-4-12-5,46z />
<path color=#06a4ca d=M1274,2482l5-38-4-7-5,42z />
<path color=#f2b949 d=M1253,2404l5,12-3-12-5-14z />
<path color=#ddba54 d=M1248,2430l5-26-3-14-5,29z />
<path color=#3eba9a d=M1243,2474l5-44-3-11-5,49z />
<path color=#1388d3 d=M1238,2500l5-26-3-6-5,30z />
<path color=#f9bb43 d=M1218,2420l5-3-4-14-5,4z />
<path color=#b1bd66 d=M1213,2457l5-37-4-13-5,41z />
<path color=#09abbe d=M1208,2497l5-40-4-9-5,45z />
<path color=#efb94b d=M1188,2420l5,20-4-11-5-23z />
<path color=#f7ba45 d=M1183,2438l5-18-4-14-5,20z />
<path color=#7fbf7a d=M1178,2480l5-42-4-12-5,48z />
<path color=#069fce d=M1172,2511l6-31-4-6-5,35z />
<path color=#1485d4 d=M1167,2506l5,5-3-2-5-6z />
<path color=#0faeb9 d=M1162,2469l5,37-3-3-5-42z />
<path color=#e8b94e d=M1323,2397l5,2-4-18-5-3z />
<path color=#babd63 d=M1318,2426l5-29-4-19-5,33z />
<path color=#1bb2b0 d=M1313,2465l5-39-4-15-5,44z />
<path color=#1484d4 d=M1307,2483l6-18-4-10-5,20z />
<path color=#cebb5a d=M1287,2421l5-11-3-19-5,12z />
<path color=#67be85 d=M1282,2458l5-37-3-18-5,41z />
<path color=#0899d1 d=M1277,2491l5-33-3-14-5,38z />
<path color=#c0bc60 d=M1257,2423l5,11-4-18-5-12z />
<path color=#abbe68 d=M1252,2446l5-23-4-19-5,26z />
<path color=#1ab2b1 d=M1247,2485l5-39-4-16-5,44z />
<path color=#137fd7 d=M1242,2508l5-23-4-11-5,26z />
<path color=#c7bc5d d=M1222,2439l5-4-4-18-5,3z />
<path color=#7ebf7b d=M1216,2471l6-32-4-19-5,37z />
<path color=#06a3cb d=M1211,2507l5-36-3-14-5,40z />
<path color=#bebc61 d=M1191,2439l5,18-3-17-5-20z />
<path color=#c7bc5d d=M1186,2455l5-16-3-19-5,18z />
<path color=#4cbc92 d=M1181,2493l5-38-3-17-5,42z />
<path color=#0c94d2 d=M1176,2520l5-27-3-13-6,31z />
<path color=#06a7c6 d=M1166,2483l5,32-4-9-5-37z />
<path color=#a8be6a d=M1326,2417l5,2-3-20-5-2z />
<path color=#74bf7f d=M1321,2443l5-26-3-20-5,29z />
<path color=#06a5c8 d=M1316,2477l5-34-3-17-5,39z />
<path color=#0e76dc d=M1311,2493l5-16-3-12-6,18z />
<path color=#67be85 d=M1296,2430l5,19-4-17-5-22z />
<path color=#88bf76 d=M1291,2440l5-10-4-20-5,11z />
<path color=#24b5aa d=M1286,2473l5-33-4-19-5,37z />
<path color=#1484d4 d=M1281,2502l5-29-4-15-5,33z />
<path color=#76bf7e d=M1260,2444l6,8-4-18-5-11z />
<path color=#5ebe89 d=M1255,2464l5-20-3-21-5,23z />
<path color=#06a4c9 d=M1250,2498l5-34-3-18-5,39z />
<path color=#0870df d=M1245,2518l5-20-3-13-5,23z />
<path color=#7fbf7a d=M1225,2458l5-3-3-20-5,4z />
<path color=#33b8a1 d=M1220,2487l5-29-3-19-6,32z />
<path color=#108ed2 d=M1215,2518l5-31-4-16-5,36z />
<path color=#76bf7e d=M1195,2460l5,15-4-18-5-18z />
<path color=#81bf7a d=M1190,2474l5-14-4-21-5,16z />
<path color=#15b1b4 d=M1185,2506l5-32-4-19-5,38z />
<path color=#1481d6 d=M1180,2530l5-24-4-13-5,27z />
<path color=#0b95d1 d=M1170,2498l5,28-4-11-5-32z />
<path color=#5ebe89 d=M1330,2432l5,2-4-15-5-2z />
<path color=#2eb7a4 d=M1325,2455l5-23-4-15-5,26z />
<path color=#0c94d2 d=M1320,2485l5-30-4-12-5,34z />
<path color=#24b5aa d=M1299,2446l5,16-3-13-5-19z />
<path color=#3bb99c d=M1294,2455l5-9-3-16-5,10z />
<path color=#06a7c5 d=M1289,2483l5-28-3-15-5,33z />
<path color=#0d75dc d=M1284,2508l5-25-3-10-5,29z />
<path color=#2cb6a5 d=M1264,2459l5,8-3-15-6-8z />
<path color=#1cb3af d=M1259,2477l5-18-4-15-5,20z />
<path color=#0f8fd2 d=M1254,2507l5-30-4-13-5,34z />
<path color=#0860e0 d=M1249,2524l5-17-4-9-5,20z />
<path color=#32b8a1 d=M1229,2473l5-2-4-16-5,3z />
<path color=#08abc0 d=M1224,2498l5-25-4-15-5,29z />
<path color=#127cd8 d=M1219,2525l5-27-4-11-5,31z />
<path color=#2db7a5 d=M1198,2475l5,13-3-13-5-15z />
<path color=#35b89f d=M1193,2488l5-13-3-15-5,14z />
<path color=#06a3cb d=M1188,2516l5-28-3-14-5,32z />
<path color=#0b73dd d=M1183,2537l5-21-3-10-5,24z />
<path color=#1482d5 d=M1173,2509l5,24-3-7-5-28z />
<path color=#31b8a2 d=M1333,2440l5,1-3-7-5-2z />
<path color=#12afb7 d=M1328,2460l5-20-3-8-5,23z />
<path color=#138ad3 d=M1323,2486l5-26-3-5-5,30z />
<path color=#0266e1 d=M1318,2499l5-13-3-1-5,14z />
<path color=#17b1b3 d=M1298,2462l5-8-4-8-5,9z />
<path color=#079dcf d=M1293,2486l5-24-4-7-5,28z />
<path color=#0770df d=M1288,2509l5-23-4-3-5,25z />
<path color=#0daebb d=M1268,2468l5,6-4-7-5-8z />
<path color=#07aac2 d=M1263,2483l5-15-4-9-5,18z />
<path color=#1484d4 d=M1258,2509l5-26-4-6-5,30z />
<path color=#135adb d=M1252,2524l6-15-4-2-5,17z />
<path color=#10afb8 d=M1232,2481l5-2-3-8-5,2z />
<path color=#06a1cc d=M1227,2502l5-21-3-8-5,25z />
<path color=#0d76dc d=M1222,2526l5-24-3-4-5,27z />
<path color=#0faeb9 d=M1202,2484l5,11-4-7-5-13z />
<path color=#14b0b5 d=M1197,2494l5-10-4-9-5,13z />
<path color=#0998d1 d=M1192,2518l5-24-4-6-5,28z />
<path color=#066fdf d=M1187,2536l5-18-4-2-5,21z />
<path color=#0860df d=M1182,2534l5,2-4,1-5-4z />
<path color=#127dd8 d=M1177,2513l5,21-4-1-5-24z />
<path color=#22b4ab d=M1337,2444l5,1-4-4-5-1z />
<path color=#0badbc d=M1332,2462l5-18-4-4-5,20z />
<path color=#128cd2 d=M1327,2484l5-22-4-2-5,26z />
<path color=#056ee0 d=M1322,2495l5-11-4,2-5,13z />
<path color=#0dadbb d=M1302,2465l5-7-4-4-5,8z />
<path color=#089bd0 d=M1296,2486l6-21-4-3-5,24z />
<path color=#0b74dd d=M1291,2505l5-19-3,0-5,23z />
<path color=#06a6c7 d=M1266,2485l5-13-3-4-5,15z />
<path color=#1484d4 d=M1261,2507l5-22-3-2-5,26z />
<path color=#0364e1 d=M1256,2520l5-13-3,2-6,15z />
<path color=#09abbf d=M1236,2485l5-3-4-3-5,2z />
<path color=#079ecf d=M1231,2503l5-18-4-4-5,21z />
<path color=#1078da d=M1226,2523l5-20-4-1-5,24z />
<path color=#0badbc d=M1200,2497l6-9-4-4-5,10z />
<path color=#0a97d1 d=M1195,2517l5-20-3-3-5,24z />
<path color=#0c74dd d=M1190,2533l5-16-3,1-5,18z />
<path color=#026ae1 d=M1185,2530l5,3-3,3-5-2z />
<path color=#1480d6 d=M1180,2513l5,17-3,4-5-21z />
<path color=#1ab2b1 d=M1340,2450l6,0-4-5-5-1z />
<path color=#09abbf d=M1335,2465l5-15-3-6-5,18z />
<path color=#0f8fd2 d=M1330,2483l5-18-3-3-5,22z />
<path color=#0d75dc d=M1325,2493l5-10-3,1-5,11z />
<path color=#09abbf d=M1305,2470l5-6-3-6-5,7z />
<path color=#089ad0 d=M1300,2488l5-18-3-5-6,21z />
<path color=#1079da d=M1295,2504l5-16-4-2-5,19z />
<path color=#0269e1 d=M1290,2506l5-2-4,1-5,3z />
<path color=#06a7c6 d=M1275,2477l5,4-4-5-5-4z />
<path color=#06a4ca d=M1270,2489l5-12-4-5-5,13z />
<path color=#1487d3 d=M1265,2507l5-18-4-4-5,22z />
<path color=#046de0 d=M1260,2518l5-11-4,0-5,13z />
<path color=#06a8c4 d=M1239,2490l5-2-3-6-5,3z />
<path color=#079ccf d=M1234,2505l5-15-3-5-5,18z />
<path color=#127cd8 d=M1229,2522l5-17-3-2-5,20z />
<path color=#026ae1 d=M1224,2527l5-5-3,1-5,5z />
<path color=#08aac1 d=M1204,2501l5-8-3-5-6,9z />
<path color=#0998d1 d=M1199,2518l5-17-4-4-5,20z />
<path color=#117ad9 d=M1194,2531l5-13-4-1-5,16z />
<path color=#0a72de d=M1189,2529l5,2-4,2-5-3z />
<path color=#1485d4 d=M1184,2515l5,14-4,1-5-17z />
<path color=#06a4ca d=M1349,2460l5,10-3-8-5-12z />
<path color=#0aacbe d=M1344,2461l5-1-3-10-6,0z />
<path color=#06a5c8 d=M1339,2473l5-12-4-11-5,15z />
<path color=#128ad3 d=M1334,2489l5-16-4-8-5,18z />
<path color=#0d76dc d=M1329,2497l5-8-4-6-5,10z />
<path color=#0d75dc d=M1324,2493l5,4-4-4-5-6z />
<path color=#1388d3 d=M1319,2482l5,11-4-6-5-14z />
<path color=#06a0cd d=M1314,2475l5,7-4-9-5-9z />
<path color=#06a3ca d=M1309,2480l5-5-4-11-5,6z />
<path color=#0d92d2 d=M1304,2495l5-15-4-10-5,18z />
<path color=#0f77db d=M1299,2509l5-14-4-7-5,16z />
<path color=#026ae1 d=M1294,2511l5-2-4-5-5,2z />
<path color=#069ece d=M1278,2489l5,2-3-10-5-4z />
<path color=#089bd0 d=M1273,2498l5-9-3-12-5,12z />
<path color=#1481d5 d=M1268,2513l5-15-3-9-5,18z />
<path color=#046ce0 d=M1263,2523l5-10-3-6-5,11z />
<path color=#0268e1 d=M1258,2520l5,3-3-5-5-4z />
<path color=#0b95d2 d=M1248,2499l5,9-3-8-6-12z />
<path color=#06a0cd d=M1243,2501l5-2-4-11-5,2z />
<path color=#0d93d2 d=M1238,2513l5-12-4-11-5,15z />
<path color=#1079da d=M1233,2527l5-14-4-8-5,17z />
<path color=#036ae1 d=M1228,2531l5-4-4-5-5,5z />
<path color=#0971de d=M1223,2523l5,8-4-4-5-10z />
<path color=#1388d3 d=M1218,2511l5,12-4-6-5-16z />
<path color=#06a1cc d=M1213,2505l5,6-4-10-5-8z />
<path color=#06a3cb d=M1208,2511l5-6-4-12-5,8z />
<path color=#0f90d2 d=M1203,2525l5-14-4-10-5,17z />
<path color=#1079da d=M1197,2536l6-11-4-7-5,13z />
<path color=#0b73dd d=M1192,2534l5,2-3-5-5-2z />
<path color=#1482d5 d=M1187,2523l5,11-3-5-5-14z />
<path color=#0d93d2 d=M1353,2475l5,7-4-12-5-10z />
<path color=#079dcf d=M1348,2476l5-1-4-15-5,1z />
<path color=#0c94d2 d=M1343,2487l5-11-4-15-5,12z />
<path color=#127dd8 d=M1338,2500l5-13-4-14-5,16z />
<path color=#046ce0 d=M1332,2507l6-7-4-11-5,8z />
<path color=#036be1 d=M1327,2504l5,3-3-10-5-4z />
<path color=#117ada d=M1322,2495l5,9-3-11-5-11z />
<path color=#128bd3 d=M1317,2490l5,5-3-13-5-7z />
<path color=#108fd2 d=M1312,2495l5-5-3-15-5,5z />
<path color=#137fd6 d=M1307,2507l5-12-3-15-5,15z />
<path color=#036be0 d=M1302,2518l5-11-3-12-5,14z />
<path color=#0e5cde d=M1297,2521l5-3-3-9-5,2z />
<path color=#0267e1 d=M1292,2514l5,7-3-10-6-9z />
<path color=#117ad9 d=M1287,2506l5,8-4-12-5-11z />
<path color=#1388d3 d=M1282,2504l5,2-4-15-5-2z />
<path color=#1485d4 d=M1277,2512l5-8-4-15-5,9z />
<path color=#0b74dd d=M1272,2524l5-12-4-14-5,15z />
<path color=#0b5edf d=M1267,2532l5-8-4-11-5,10z />
<path color=#1559da d=M1262,2530l5,2-4-9-5-3z />
<path color=#056de0 d=M1257,2521l5,9-4-10-5-12z />
<path color=#1480d6 d=M1252,2514l5,7-4-13-5-9z />
<path color=#1389d3 d=M1247,2516l5-2-4-15-5,2z />
<path color=#137fd6 d=M1242,2526l5-10-4-15-5,12z />
<path color=#056de0 d=M1236,2537l6-11-4-13-5,14z />
<path color=#0d5dde d=M1231,2541l5-4-3-10-5,4z />
<path color=#0265e1 d=M1226,2534l5,7-3-10-5-8z />
<path color=#117ada d=M1221,2525l5,9-3-11-5-12z />
<path color=#128cd2 d=M1216,2520l5,5-3-14-5-6z />
<path color=#108ed2 d=M1211,2525l5-5-3-15-5,6z />
<path color=#137fd7 d=M1206,2537l5-12-3-14-5,14z />
<path color=#066edf d=M1201,2545l5-8-3-12-6,11z />
<path color=#0269e1 d=M1196,2544l5,1-4-9-5-2z />
<path color=#0e77db d=M1191,2535l5,9-4-10-5-11z />
<path color=#137dd8 d=M1356,2489l5,4-3-11-5-7z />
<path color=#1483d4 d=M1351,2490l5-1-3-14-5,1z />
<path color=#127cd8 d=M1346,2499l5-9-3-14-5,11z />
<path color=#046ce0 d=M1341,2509l5-10-3-12-5,13z />
<path color=#1857d8 d=M1336,2515l5-6-3-9-6,7z />
<path color=#1c55d6 d=M1331,2513l5,2-4-8-5-3z />
<path color=#0268e1 d=M1326,2507l5,6-4-9-5-9z />
<path color=#0d76dc d=M1321,2504l5,3-4-12-5-5z />
<path color=#0f78db d=M1316,2508l5-4-4-14-5,5z />
<path color=#046de0 d=M1311,2518l5-10-4-13-5,12z />
<path color=#2053d4 d=M1306,2527l5-9-4-11-5,11z />
<path color=#3243b8 d=M1301,2530l5-3-4-9-5,3z />
<path color=#294dca d=M1296,2525l5,5-4-9-5-7z />
<path color=#0267e1 d=M1291,2519l5,6-4-11-5-8z />
<path color=#0a72de d=M1286,2518l5,1-4-13-5-2z />
<path color=#0770df d=M1280,2524l6-6-4-14-5,8z />
<path color=#0b5edf d=M1275,2534l5-10-3-12-5,12z />
<path color=#3243b9 d=M1270,2541l5-7-3-10-5,8z />
<path color=#3440b2 d=M1265,2539l5,2-3-9-5-2z />
<path color=#1d54d5 d=M1260,2533l5,6-3-9-5-9z />
<path color=#046ce0 d=M1255,2528l5,5-3-12-5-7z />
<path color=#0b73dd d=M1250,2529l5-1-3-14-5,2z />
<path color=#046ce0 d=M1245,2537l5-8-3-13-5,10z />
<path color=#1c55d6 d=M1240,2546l5-9-3-11-6,11z />
<path color=#3243b9 d=M1235,2549l5-3-4-9-5,4z />
<path color=#2b4bc7 d=M1230,2545l5,4-4-8-5-7z />
<path color=#0267e1 d=M1225,2537l5,8-4-11-5-9z />
<path color=#0d76dc d=M1220,2534l5,3-4-12-5-5z />
<path color=#0f78db d=M1215,2538l5-4-4-14-5,5z />
<path color=#056de0 d=M1210,2547l5-9-4-13-5,12z />
<path color=#125adc d=M1205,2554l5-7-4-10-5,8z />
<path color=#2053d4 d=M1200,2553l5,1-4-9-5-1z />
<path color=#0266e1 d=M1195,2546l5,7-4-9-5-9z />
<path color=#0870df d=M1360,2496l5,2-4-5-5-4z />
<path color=#0d75dc d=M1355,2497l5-1-4-7-5,1z />
<path color=#066fdf d=M1350,2505l5-8-4-7-5,9z />
<path color=#0b5edf d=M1345,2513l5-8-4-6-5,10z />
<path color=#2e48c2 d=M1340,2518l5-5-4-4-5,6z />
<path color=#0266e1 d=M1324,2512l6,2-4-7-5-3z />
<path color=#0268e1 d=M1319,2515l5-3-3-8-5,4z />
<path color=#115bdc d=M1314,2523l5-8-3-7-5,10z />
<path color=#3342b7 d=M1309,2530l5-7-3-5-5,9z />
<path color=#2351d1 d=M1294,2526l5,4-3-5-5-6z />
<path color=#0761e0 d=M1289,2525l5,1-3-7-5-1z />
<path color=#0d5dde d=M1284,2531l5-6-3-7-6,6z />
<path color=#2e48c1 d=M1279,2538l5-7-4-7-5,10z />
<path color=#3637a0 d=M1274,2543l5-5-4-4-5,7z />
<path color=#3341b6 d=M1264,2538l5,5-4-4-5-6z />
<path color=#1758d9 d=M1259,2535l5,3-4-5-5-5z />
<path color=#0562e0 d=M1254,2537l5-2-4-7-5,1z />
<path color=#1757d9 d=M1249,2543l5-6-4-8-5,8z />
<path color=#3242b8 d=M1244,2550l5-7-4-6-5,9z />
<path color=#0266e1 d=M1223,2542l5,2-3-7-5-3z />
<path color=#0268e1 d=M1218,2545l5-3-3-8-5,4z />
<path color=#0d5dde d=M1213,2552l5-7-3-7-5,9z />
<path color=#2d49c4 d=M1208,2557l5-5-3-5-5,7z />
<path color=#1a56d7 d=M1198,2551l5,5-3-3-5-7z />
<path color=#066fdf d=M1363,2496l5,1-3,1-5-2z />
<path color=#0971de d=M1358,2498l5-2-3,0-5,1z />
<path color=#046de0 d=M1353,2504l5-6-3-1-5,8z />
<path color=#095fdf d=M1348,2511l5-7-3,1-5,8z />
<path color=#0363e1 d=M1328,2513l5,0-3,1-6-2z />
<path color=#0364e1 d=M1323,2516l5-3-4-1-5,3z />
<path color=#1758d9 d=M1318,2522l5-6-4-1-5,8z />
<path color=#3045bd d=M1313,2528l5-6-4,1-5,7z />
<path color=#115bdc d=M1293,2526l5,0-4,0-5-1z />
<path color=#1857d8 d=M1288,2531l5-5-4-1-5,6z />
<path color=#2e48c1 d=M1283,2536l5-5-4,0-5,7z />
<path color=#105bdd d=M1257,2537l5-1-3-1-5,2z />
<path color=#1f53d4 d=M1252,2542l5-5-3,0-5,6z />
<path color=#3145bc d=M1247,2547l5-5-3,1-5,7z />
<path color=#0562e0 d=M1227,2543l5,1-4,0-5-2z />
<path color=#0364e1 d=M1222,2545l5-2-4-1-5,3z />
<path color=#0f5cdd d=M1217,2550l5-5-4,0-5,7z />
<path color=#2a4bc8 d=M1207,2554l5,0-4,3-5-1z />
<path color=#1359db d=M1202,2550l5,4-4,2-5-5z />
<path color=#0d76dc d=M1362,2497l5-2-4,1-5,2z />
<path color=#0972de d=M1357,2502l5-5-4,1-5,6z />
<path color=#036ae1 d=M1352,2507l5-5-4,2-5,7z />
<path color=#0269e1 d=M1327,2514l5-2-4,1-5,3z />
<path color=#0363e1 d=M1322,2519l5-5-4,2-5,6z />
<path color=#1956d8 d=M1316,2524l6-5-4,3-5,6z />
<path color=#0760e0 d=M1291,2529l5-4-3,1-5,5z />
<path color=#1a56d7 d=M1286,2533l5-4-3,2-5,5z />
<path color=#0363e1 d=M1261,2536l5-1-4,1-5,1z />
<path color=#0a5fdf d=M1256,2539l5-3-4,1-5,5z />
<path color=#036ae1 d=M1225,2543l6-1-4,1-5,2z />
<path color=#0266e1 d=M1220,2547l5-4-3,2-5,5z />
<path color=#0860e0 d=M1210,2550l5,0-3,4-5,0z />
<path color=#0267e1 d=M1205,2548l5,2-3,4-5-4z />
<path color=#1078da d=M1371,2497l5-1-4-1-5,0zM1366,2500l5-3-4-2-5,2z />
<path color=#0d75dc d=M1360,2504l6-4-4-3-5,5z />
<path color=#0770df d=M1355,2508l5-4-3-2-5,5z />
<path color=#036be0 d=M1350,2511l5-3-3-1-5,4z />
<path color=#0269e1 d=M1345,2512l5-1-3,0-5,1z />
<path color=#036be0 d=M1340,2513l5-1-3,0-5-1z />
<path color=#046de0 d=M1335,2514l5-1-3-2-5,1z />
<path color=#0269e1 d=M1325,2520l5-3-3-3-5,5z />
<path color=#0462e1 d=M1320,2524l5-4-3-1-6,5z />
<path color=#0c5ede d=M1315,2526l5-2-4,0-5,2z />
<path color=#0a5fdf d=M1310,2526l5,0-4,0-5-1z />
<path color=#0364e1 d=M1305,2527l5-1-4-1-5-1z />
<path color=#0860df d=M1290,2534l5-3-4-2-5,4z />
<path color=#135adb d=M1285,2536l5-2-4-1-5,3z />
<path color=#1559da d=M1280,2537l5-1-4,0-5,1z />
<path color=#0b5ede d=M1275,2537l5,0-4,0-5-2z />
<path color=#0364e1 d=M1269,2537l6,0-4-2-5,0z />
<path color=#0266e1 d=M1264,2538l5-1-3-2-5,1z />
<path color=#0265e1 d=M1259,2541l5-3-3-2-5,3z />
<path color=#0760e0 d=M1254,2544l5-3-3-2-5,4z />
<path color=#0c5ede d=M1249,2545l5-1-3-1-5,2z />
<path color=#0267e1 d=M1239,2544l5,1-3-1-5-2z />
<path color=#046ce0 d=M1234,2544l5,0-3-2-5,0z />
<path color=#056de0 d=M1229,2546l5-2-3-2-6,1z />
<path color=#046ce0 d=M1224,2548l5-2-4-3-5,4z />
<path color=#026ae1 d=M1219,2550l5-2-4-1-5,3z />
<path color=#066edf d=M1209,2549l5,1-4,0-5-2z />
<path color=#0b74dd d=M1374,2505l5-2-3-7-5,1z />
<path color=#0a73de d=M1369,2508l5-3-3-8-5,3z />
<path color=#046ce0 d=M1359,2514l5-3-4-7-5,4z />
<path color=#0268e1 d=M1354,2517l5-3-4-6-5,3z />
<path color=#0266e1 d=M1349,2519l5-2-4-6-5,1zM1344,2521l5-2-4-7-5,1z />
<path color=#0267e1 d=M1339,2522l5-1-4-8-5,1z />
<path color=#0266e1 d=M1334,2525l5-3-4-8-5,3z />
<path color=#0d5dde d=M1324,2530l5-2-4-8-5,4z />
<path color=#1359db d=M1319,2532l5-2-4-6-5,2zM1314,2534l5-2-4-6-5,0z />
<path color=#0f5cde d=M1308,2535l6-1-4-8-5,1z />
<path color=#0c5dde d=M1303,2536l5-1-3-8-5,1z />
<path color=#1957d8 d=M1278,2544l5,0-3-7-5,0z />
<path color=#105bdd d=M1273,2545l5-1-3-7-6,0z />
<path color=#0c5dde d=M1268,2547l5-2-4-8-5,1z />
<path color=#0e5dde d=M1263,2548l5-1-4-9-5,3z />
<path color=#125adc d=M1258,2550l5-2-4-7-5,3z />
<path color=#1459da d=M1253,2551l5-1-4-6-5,1z />
<path color=#0f5cdd d=M1248,2552l5-1-4-6-5,0z />
<path color=#0761e0 d=M1243,2552l5,0-4-7-5-1z />
<path color=#0265e1 d=M1238,2552l5,0-4-8-5,0z />
<path color=#0267e1 d=M1233,2554l5-2-4-8-5,2z />
<path color=#0266e1 d=M1228,2555l5-1-4-8-5,2zM1223,2556l5-1-4-7-5,2z />
<path color=#0267e1 d=M1217,2557l6-1-4-6-5,0z />
<path color=#036be1 d=M1212,2556l5,1-3-7-5-1z />
<path color=#0266e1 d=M1378,2516l5-3-4-10-5,2z />
<path color=#0364e1 d=M1373,2518l5-2-4-11-5,3z />
<path color=#0760e0 d=M1368,2521l5-3-4-10-5,3z />
<path color=#1956d8 d=M1358,2526l5-2-4-10-5,3z />
<path color=#2053d4 d=M1352,2529l6-3-4-9-5,2z />
<path color=#2251d1 d=M1347,2531l5-2-3-10-5,2z />
<path color=#244fcf d=M1342,2533l5-2-3-10-5,1z />
<path color=#284dcb d=M1337,2535l5-2-3-11-5,3z />
<path color=#3244bb d=M1312,2545l5-2-3-9-6,1z />
<path color=#3144bb d=M1307,2547l5-2-4-10-5,1z />
<path color=#3243b8 d=M1277,2556l5-2-4-10-5,1z />
<path color=#3244ba d=M1272,2557l5-1-4-11-5,2z />
<path color=#3144bb d=M1267,2558l5-1-4-10-5,1z />
<path color=#3244ba d=M1261,2560l6-2-4-10-5,2z />
<path color=#3144bb d=M1256,2561l5-1-3-10-5,1z />
<path color=#3046be d=M1251,2561l5,0-3-10-5,1z />
<path color=#2d49c4 d=M1246,2562l5-1-3-9-5,0z />
<path color=#294cca d=M1241,2563l5-1-3-10-5,0z />
<path color=#254fce d=M1236,2564l5-1-3-11-5,2z />
<path color=#2350d0 d=M1231,2565l5-1-3-10-5,1z />
<path color=#2152d3 d=M1226,2565l5,0-3-10-5,1z />
<path color=#1b55d6 d=M1221,2566l5-1-3-9-6,1z />
<path color=#125adc d=M1216,2566l5,0-4-9-5-1z />
<path color=#274ecc d=M1376,2525l5-3-3-6-5,2z />
<path color=#2c49c5 d=M1371,2528l5-3-3-7-5,3z />
<path color=#343fb1 d=M1230,2572l5-1-4-6-5,0z />
<path color=#3342b6 d=M1225,2572l5,0-4-7-5,1z />
<path color=#3145bc d=M1220,2573l5-1-4-6-5,0z />
<path color=#363aa7 d=M1238,2571l5-1-3,0-5,1z />
<path color=#353cac d=M1233,2571l5,0-3,0-5,1z />
<path color=#343fb1 d=M1228,2572l5-1-3,1-5,0z />
<path color=#3342b7 d=M1223,2572l5,0-3,0-5,1z />
<path color=#2b4bc7 d=M1237,2567l5-1-4,5-5,0z />
<path color=#274ecc d=M1232,2567l5,0-4,4-5,1z />
<path color=#2152d2 d=M1227,2567l5,0-4,5-5,0z />
<path color=#0364e1 d=M1235,2563l5,0-3,4-5,0z />
<path color=#0267e1 d=M1230,2563l5,0-3,4-5,0z />
<path color=#0661e0 d=M1269,2560l5,0-3-2-5,0z />
<path color=#0266e1 d=M1264,2558l5,2-3-2-5,0z />
<path color=#036be0 d=M1259,2558l5,0-3,0-5,0z />
<path color=#046ce0 d=M1254,2560l5-2-3,0-5,1z />
<path color=#036be0 d=M1249,2563l5-3-3-1-6,2z />
<path color=#026ae1 d=M1244,2565l5-2-4-2-5,2z />
<path color=#036be1 d=M1239,2565l5,0-4-2-5,0z />
<path color=#066edf d=M1234,2564l5,1-4-2-5,0z />
<path color=#0363e1 d=M1268,2564l5,3-4-7-5-2z />
<path color=#036ae1 d=M1263,2563l5,1-4-6-5,0z />
<path color=#046ce0 d=M1258,2565l5-2-4-5-5,2z />
<path color=#0269e1 d=M1253,2569l5-4-4-5-5,3z />
<path color=#0365e1 d=M1248,2573l5-4-4-6-5,2zM1242,2573l6,0-4-8-5,0z />
<path color=#036ae1 d=M1237,2570l5,3-3-8-5-1z />
<path color=#0363e1 d=M1266,2567l5,2-3-5-5-1z />
<path color=#2251d1 d=M1246,2581l5,0-3-8-6,0z />
<path color=#0c5ede d=M1241,2576l5,5-4-8-5-3z />
<path color=#1d54d6 d=M1245,2577l5,7-4-3-5-5z />
<path color=#264ecc d=M1385,2540l5,2-4,3-5-1z />
<path color=#353eae d=M1354,2557l5-3-3,4-5,2z />
<path color=#353aa8 d=M1319,2566l5,2-4,3-5-1z />
<path color=#353eaf d=M1289,2576l5-3-4,4-5,3z />
<path color=#3145bc d=M1284,2571l5,5-4,4-5-4z />
<path color=#294dca d=M1253,2580l5,1-3,3-5,0z />
<path color=#0761e0 d=M1248,2572l5,8-3,4-5-7z />
<path color=#0267e1 d=M1393,2537l5-8-3,7-5,6z />
<path color=#0266e1 d=M1388,2533l5,4-3,5-5-2z />
<path color=#1e53d5 d=M1358,2551l5-3-4,6-5,3z />
<path color=#0661e0 d=M1353,2543l5,8-4,6-5-6z />
<path color=#1b55d7 d=M1328,2562l5-9-4,8-5,7z />
<path color=#2450cf d=M1323,2560l5,2-4,6-5-2z />
<path color=#0268e1 d=M1317,2549l6,11-4,6-5-8z />
<path color=#1d54d5 d=M1292,2571l5-4-3,6-5,3z />
<path color=#0a5fdf d=M1287,2563l5,8-3,5-5-5z />
<path color=#026ae1 d=M1262,2575l5-10-4,8-5,8z />
<path color=#0364e1 d=M1257,2574l5,1-4,6-5-1z />
<path color=#0a72de d=M1252,2563l5,11-4,6-5-8z />
<path color=#06a2cc d=M1407,2508l5-14-4,8-5,12z />
<path color=#0b73dd d=M1392,2529l5,6-4,2-5-4z />
<path color=#1484d4 d=M1387,2516l5,13-4,4-5-10z />
<path color=#118dd2 d=M1372,2531l5-17-4,8-5,14z />
<path color=#0267e1 d=M1361,2549l6-3-4,2-5,3z />
<path color=#0871de d=M1356,2538l5,11-3,2-5-8z />
<path color=#137ed7 d=M1336,2550l5-18-3,7-5,14z />
<path color=#0266e1 d=M1326,2556l5,4-3,2-5-2z />
<path color=#0f77db d=M1321,2543l5,13-3,4-6-11z />
<path color=#066fdf d=M1291,2559l5,10-4,2-5-8z />
<path color=#1484d4 d=M1286,2545l5,14-4,4-5-11z />
<path color=#128bd2 d=M1270,2561l6-16-4,7-5,13z />
<path color=#0971de d=M1260,2571l5,2-3,2-5-1z />
<path color=#137fd6 d=M1255,2558l5,13-3,3-5-11z />
<path color=#06a8c4 d=M1421,2491l5,14-4,0-5-12z />
<path color=#08aac1 d=M1411,2507l5-16-4,3-5,14z />
<path color=#0f8fd2 d=M1405,2529l6-22-4,1-5,18z />
<path color=#0e76dc d=M1395,2532l5,7-3-4-5-6z />
<path color=#118dd2 d=M1390,2515l5,17-3-3-5-13z />
<path color=#07a9c2 d=M1380,2512l5-7-3,3-5,6z />
<path color=#0899d1 d=M1375,2532l5-20-3,2-5,17z />
<path color=#0d76dc d=M1360,2539l5,13-4-3-5-11z />
<path color=#0d92d2 d=M1355,2523l5,16-4-1-5-13z />
<path color=#06a2cb d=M1345,2531l5-13-4,3-5,11z />
<path color=#1486d4 d=M1340,2552l5-21-4,1-5,18z />
<path color=#137dd7 d=M1325,2543l5,17-4-4-5-13z />
<path color=#079dcf d=M1320,2529l5,14-4,0-5-11z />
<path color=#06a6c6 d=M1314,2531l6-2-4,3-5,2z />
<path color=#079bd0 d=M1309,2548l5-17-3,3-5,14z />
<path color=#127cd8 d=M1304,2567l5-19-3,0-5,16z />
<path color=#0a73dd d=M1294,2561l5,12-3-4-5-10z />
<path color=#108ed2 d=M1289,2543l5,18-3-2-5-14z />
<path color=#07a9c3 d=M1279,2543l5-8-3,3-5,7z />
<path color=#0a97d1 d=M1274,2563l5-20-3,2-6,16z />
<path color=#1485d4 d=M1259,2558l5,17-4-4-5-13z />
<path color=#07aac1 d=M1424,2492l5,18-3-5-5-14z />
<path color=#0bacbd d=M1414,2511l5-19-3-1-5,16z />
<path color=#118dd2 d=M1409,2535l5-24-3-4-6,22z />
<path color=#128bd2 d=M1394,2518l5,20-4-6-5-17z />
<path color=#07a9c3 d=M1389,2505l5,13-4-3-5-10z />
<path color=#0cadbc d=M1384,2513l5-8-4,0-5,7z />
<path color=#079bd0 d=M1379,2536l5-23-4-1-5,20z />
<path color=#0d76dc d=M1374,2557l5-21-4-4-5,18z />
<path color=#0971de d=M1364,2544l5,16-4-8-5-13z />
<path color=#0c93d2 d=M1359,2524l5,20-4-5-5-16z />
<path color=#06a5c8 d=M1348,2534l5-15-3-1-5,13z />
<path color=#1485d4 d=M1343,2558l5-24-3-3-5,21z />
<path color=#127bd9 d=M1328,2546l5,21-3-7-5-17z />
<path color=#06a0cd d=M1323,2530l5,16-3-3-5-14z />
<path color=#08aac1 d=M1318,2532l5-2-3-1-6,2z />
<path color=#079ecf d=M1313,2552l5-20-4-1-5,17z />
<path color=#117ada d=M1308,2575l5-23-4-4-5,19z />
<path color=#056ee0 d=M1298,2567l5,14-4-8-5-12z />
<path color=#108ed2 d=M1293,2545l5,22-4-6-5-18z />
<path color=#08aac1 d=M1288,2535l5,10-4-2-5-8z />
<path color=#0aacbe d=M1283,2545l5-10-4,0-5,8z />
<path color=#0997d1 d=M1278,2568l5-23-4-2-5,20z />
<path color=#0e76dc d=M1273,2585l5-17-4-5-5,14z />
<path color=#1482d5 d=M1262,2563l6,19-4-7-5-17z />
<path color=#08abc0 d=M1428,2491l5,21-4-2-5-18z />
<path color=#2ab6a6 d=M1423,2489l5,2-4,1-5,0z />
<path color=#0faeb9 d=M1418,2511l5-22-4,3-5,19z />
<path color=#1389d3 d=M1413,2540l5-29-4,0-5,24z />
<path color=#0268e1 d=M1403,2543l5,11-4-7-5-9z />
<path color=#1388d3 d=M1397,2518l6,25-4-5-5-20z />
<path color=#08abc0 d=M1392,2503l5,15-3,0-5-13z />
<path color=#12b0b6 d=M1387,2512l5-9-3,2-5,8z />
<path color=#079cd0 d=M1382,2539l5-27-3,1-5,23z />
<path color=#0870df d=M1377,2563l5-24-3-3-5,21z />
<path color=#036be0 d=M1367,2547l5,19-3-6-5-16z />
<path color=#0c93d2 d=M1362,2523l5,24-3-3-5-20z />
<path color=#0aacbe d=M1357,2516l5,7-3,1-6-5z />
<path color=#06a8c4 d=M1352,2533l5-17-4,3-5,15z />
<path color=#1484d4 d=M1347,2562l5-29-4,1-5,24z />
<path color=#0f5cdd d=M1342,2579l5-17-4-4-5,15z />
<path color=#0f78db d=M1332,2547l5,25-4-5-5-21z />
<path color=#06a2cc d=M1327,2528l5,19-4-1-5-16z />
<path color=#069fce d=M1317,2554l5-24-4,2-5,20z />
<path color=#0d76dc d=M1312,2580l5-26-4-2-5,23z />
<path color=#0265e1 d=M1301,2571l5,16-3-6-5-14z />
<path color=#118dd2 d=M1296,2545l5,26-3-4-5-22z />
<path color=#0badbc d=M1291,2532l5,13-3,0-5-10z />
<path color=#10afb9 d=M1286,2544l5-12-3,3-5,10z />
<path color=#0a97d1 d=M1281,2571l5-27-3,1-5,23z />
<path color=#0770df d=M1276,2591l5-20-3-3-5,17z />
<path color=#127dd8 d=M1266,2565l5,23-3-6-6-19z />
<path color=#14b0b5 d=M1431,2482l5,25-3,5-5-21z />
<path color=#4cbc92 d=M1426,2480l5,2-3,9-5-2z />
<path color=#22b4ab d=M1421,2505l5-25-3,9-5,22z />
<path color=#0f8fd2 d=M1416,2538l5-33-3,6-5,29z />
<path color=#0267e1 d=M1411,2554l5-16-3,2-5,14z />
<path color=#0268e1 d=M1406,2541l5,13-3,0-5-11z />
<path color=#108fd2 d=M1401,2512l5,29-3,2-6-25z />
<path color=#19b2b2 d=M1396,2494l5,18-4,6-5-15z />
<path color=#2cb7a5 d=M1391,2503l5-9-4,9-5,9z />
<path color=#06a4ca d=M1386,2534l5-31-4,9-5,27z />
<path color=#0a73de d=M1381,2563l5-29-4,5-5,24z />
<path color=#264ecd d=M1376,2566l5-3-4,0-5,3z />
<path color=#046de0 d=M1371,2543l5,23-4,0-5-19z />
<path color=#079dcf d=M1366,2515l5,28-4,4-5-24z />
<path color=#1eb3ae d=M1361,2507l5,8-4,8-5-7z />
<path color=#12afb7 d=M1356,2527l5-20-4,9-5,17z />
<path color=#128ad3 d=M1350,2559l6-32-4,6-5,29z />
<path color=#0e5cde d=M1345,2579l5-20-3,3-5,17z />
<path color=#274ecc d=M1340,2570l5,9-3,0-5-7z />
<path color=#127cd9 d=M1335,2542l5,28-3,2-5-25z />
<path color=#07a9c2 d=M1330,2519l5,23-3,5-5-19z />
<path color=#24b5aa d=M1325,2522l5-3-3,9-5,2z />
<path color=#06a7c5 d=M1320,2549l5-27-3,8-5,24z />
<path color=#1079da d=M1315,2579l5-30-3,5-5,26z />
<path color=#0266e1 d=M1305,2568l5,19-4,0-5-16z />
<path color=#0b96d1 d=M1300,2538l5,30-4,3-5-26z />
<path color=#20b4ad d=M1295,2523l5,15-4,7-5-13z />
<path color=#27b5a8 d=M1290,2537l5-14-4,9-5,12z />
<path color=#069fce d=M1285,2568l5-31-4,7-5,27z />
<path color=#0871de d=M1280,2591l5-23-4,3-5,20z />
<path color=#0760e0 d=M1275,2587l5,4-4,0-5-3z />
<path color=#137fd6 d=M1270,2560l5,27-4,1-5-23z />
<path color=#41ba98 d=M1435,2468l5,29-4,10-5-25z />
<path color=#92bf72 d=M1430,2465l5,3-4,14-5-2z />
<path color=#5bbe8a d=M1425,2494l5-29-4,15-5,25z />
<path color=#06a1cd d=M1420,2531l5-37-4,11-5,33z />
<path color=#0a72de d=M1415,2549l5-18-4,7-5,16z />
<path color=#0a73dd d=M1410,2533l5,16-4,5-5-13z />
<path color=#06a1cc d=M1405,2500l5,33-4,8-5-29z />
<path color=#4ebc91 d=M1400,2479l5,21-4,12-5-18z />
<path color=#6fbf81 d=M1395,2489l5-10-4,15-5,9z />
<path color=#15b1b4 d=M1389,2525l6-36-4,14-5,31z />
<path color=#137fd7 d=M1384,2557l5-32-3,9-5,29z />
<path color=#0661e0 d=M1379,2560l5-3-3,6-5,3z />
<path color=#1079da d=M1374,2534l5,26-3,6-5-23z />
<path color=#09acbe d=M1369,2502l5,32-3,9-5-28z />
<path color=#5cbe8a d=M1364,2492l5,10-3,13-5-8z />
<path color=#45bb96 d=M1359,2514l5-22-3,15-5,20z />
<path color=#069ece d=M1354,2551l5-37-3,13-6,32z />
<path color=#036be0 d=M1349,2574l5-23-4,8-5,20z />
<path color=#0562e0 d=M1344,2564l5,10-4,5-5-9z />
<path color=#128bd2 d=M1339,2531l5,33-4,6-5-28z />
<path color=#29b6a7 d=M1334,2504l5,27-4,11-5-23z />
<path color=#65be86 d=M1329,2507l5-3-4,15-5,3z />
<path color=#21b4ac d=M1324,2538l5-31-4,15-5,27z />
<path color=#1487d3 d=M1319,2572l5-34-4,11-5,30z />
<path color=#0363e1 d=M1314,2582l5-10-4,7-5,8z />
<path color=#0a73de d=M1309,2559l5,23-4,5-5-19z />
<path color=#06a6c6 d=M1304,2525l5,34-4,9-5-30z />
<path color=#5cbe8a d=M1298,2508l6,17-4,13-5-15z />
<path color=#67be85 d=M1293,2523l5-15-3,15-5,14z />
<path color=#0bacbd d=M1288,2559l5-36-3,14-5,31z />
<path color=#127cd8 d=M1283,2586l5-27-3,9-5,23z />
<path color=#046de0 d=M1278,2581l5,5-3,5-5-4z />
<path color=#108ed2 d=M1273,2550l5,31-3,6-5-27z /></g>
<text x="305.2" y="583.4" font-size="9.5" textLength="36.4" lengthAdjust="spacingAndGlyphs">Penalized</text>
<text class="t" transform="translate(266 617.9) rotate(-90)" font-size="9.5" text-anchor="middle" textLength="49.2" lengthAdjust="spacingAndGlyphs">F12(&#160;x<tspan font-size="7.4" dy="4.8">1</tspan><tspan dy="-4.8">&#160;,&#160;x</tspan><tspan font-size="7.4" dy="4.8">2</tspan><tspan dy="-4.8">&#160;)</tspan></text>
<text x="284.8" y="613.3" font-size="7.9" text-anchor="end" class="t">100</text>
<text x="284.8" y="625.8" font-size="7.9" text-anchor="end" class="t">50</text>
<text x="284.8" y="637.8" font-size="7.9" text-anchor="end" class="t">0</text>
<text x="284.8" y="645.9" font-size="7.9" text-anchor="end" class="t">10</text>
<text x="297.9" y="654.9" font-size="7.9" text-anchor="middle" class="t">0</text>
<text x="309.7" y="663.1" font-size="7.9" text-anchor="middle" class="t">-10</text>
<text x="327.7" y="664.3" font-size="7.9" text-anchor="middle" class="t">-10</text>
<text x="344" y="656.9" font-size="7.9" text-anchor="middle" class="t">0</text>
<text x="365.5" y="650.7" font-size="7.9" text-anchor="middle" class="t">10</text>
<text class="t" x="281.9" y="670.2" font-size="9">x<tspan font-size="7" dy="3.8">2</tspan></text>
<text class="t" x="350.4" y="671" font-size="9">x<tspan font-size="7" dy="3.8">1</tspan></text>
<clipPath id="c0"><rect x="153.7" y="11.8" width="89.8" height="80"/></clipPath>
<g fill="none" stroke-width="0.65" stroke-linejoin="round" clip-path="url(#c0)"><path d="M153.7 41.4 L193.4 44.6 L243.5 45.7" stroke="#e070e0"/><path d="M153.7 41.4 L193.4 45 L243.5 48.6" stroke="#6464cc"/><path d="M153.7 41.4 L193.4 42.6 L230 50 L243.5 54.6" stroke="#d8977a"/><path d="M153.7 41.4 L160 44.5 L170 46.5 L180 48.5 L193.3 51.8 L243.5 65.5" stroke="#50d850"/><path d="M153.7 41.4 L193.4 42.4 L220 47 L226.2 52.3 L228 57 L230 59.3 L231.3 61.7 L232.8 64.6 L236.5 68.3 L240.3 72.1 L242.2 76.2 L243.5 76.5" stroke="#484848"/></g>
<path fill="none" stroke="#9a9a9a" stroke-width="0.8" d="M153.7 12.3H243.5V91.3H153.7ZM153.7 12.3h1.5M243.5 12.3h-1.5M153.7 41.8h1.5M243.5 41.8h-1.5M153.7 71.4h1.5M243.5 71.4h-1.5M153.7 91.3v-1.5M153.7 12.3v1.5M189.6 91.3v-1.5M189.6 12.3v1.5M225.5 91.3v-1.5M225.5 12.3v1.5"/>
<rect x="193.4" y="12.3" width="48.2" height="40.9" fill="#fff" stroke="#8a8a8a" stroke-width="0.8"/>
<path d="M194.6 17.5H201.6" stroke="#e070e0" stroke-width="0.9"/>
<text transform="translate(203 20) scale(1 1.1)" font-size="6.9">AVOA</text>
<path d="M194.6 25.4H201.6" stroke="#6464cc" stroke-width="0.9"/>
<text transform="translate(203 27.9) scale(1 1.1)" font-size="6.9">AO</text>
<path d="M194.6 33.3H201.6" stroke="#d8977a" stroke-width="0.9"/>
<text transform="translate(203 35.8) scale(1 1.1)" font-size="6.9">SCA</text>
<path d="M194.6 41.2H201.6" stroke="#50d850" stroke-width="0.9"/>
<text transform="translate(203 43.7) scale(1 1.1)" font-size="6.9">MRFO</text>
<path d="M194.6 49.1H201.6" stroke="#484848" stroke-width="0.9"/>
<text transform="translate(203 51.6) scale(1 1.1)" font-size="6.9">MRFO-SCA</text>
<text x="152.1" y="16.4" font-size="7.7" text-anchor="end">10<tspan font-size="5.5" dy="-3.2">200</tspan></text>
<text x="152.1" y="45.9" font-size="7.7" text-anchor="end">10<tspan font-size="5.5" dy="-3.2">0</tspan></text>
<text x="152.1" y="75.5" font-size="7.7" text-anchor="end">10<tspan font-size="5.5" dy="-3.2">-200</tspan></text>
<text x="153.7" y="101" font-size="7.7" text-anchor="middle">0</text>
<text x="189.6" y="101" font-size="7.7" text-anchor="middle">200</text>
<text x="225.5" y="101" font-size="7.7" text-anchor="middle">400</text>
<text x="180.9" y="110.7" font-size="8.8" textLength="35.4" lengthAdjust="spacingAndGlyphs">Iterations</text>
<text transform="translate(130.2 74.5) rotate(-90)" font-size="8.8" textLength="47.4" lengthAdjust="spacingAndGlyphs">Fitness value</text>
<clipPath id="c1"><rect x="408.3" y="12.3" width="85.3" height="77"/></clipPath>
<g fill="none" stroke-width="0.65" stroke-linejoin="round" clip-path="url(#c1)"><path d="M408.3 41.5 L440 43 L493.8 44.6" stroke="#e070e0"/><path d="M408.3 35.5 L409.5 38.5 L410.5 41.5 L440 43.2 L493.8 44.3" stroke="#6464cc"/><path d="M408.3 41.5 L450 44.5 L493.8 50.4" stroke="#d8977a"/><path d="M408.3 41.5 L493.8 54.1" stroke="#50d850"/><path d="M408.3 41.5 L440 43.5 L459.7 45.5 L465.1 48.3 L467.9 53.7 L471.5 61 L473.9 66.5 L475.1 71.9 L477 80.1 L478.2 86.5 L478.6 88.8" stroke="#484848"/></g>
<path fill="none" stroke="#9a9a9a" stroke-width="0.8" d="M408.3 12.8H493.6V88.8H408.3ZM408.3 12.8h1.5M493.6 12.8h-1.5M408.3 42.1h1.5M493.6 42.1h-1.5M408.3 71.4h1.5M493.6 71.4h-1.5M408.3 88.8v-1.5M408.3 12.8v1.5M425.4 88.8v-1.5M425.4 12.8v1.5M442.4 88.8v-1.5M442.4 12.8v1.5M459.5 88.8v-1.5M459.5 12.8v1.5M476.5 88.8v-1.5M476.5 12.8v1.5M493.6 88.8v-1.5M493.6 12.8v1.5"/>
<rect x="409" y="50.5" width="43.5" height="37.6" fill="#fff" stroke="#8a8a8a" stroke-width="0.8"/>
<path d="M410.2 54.8H416.5" stroke="#e070e0" stroke-width="0.9"/>
<text transform="translate(417.9 57.1) scale(1 1.1)" font-size="6.3">AVOA</text>
<path d="M410.2 62.2H416.5" stroke="#6464cc" stroke-width="0.9"/>
<text transform="translate(417.9 64.5) scale(1 1.1)" font-size="6.3">AO</text>
<path d="M410.2 69.7H416.5" stroke="#d8977a" stroke-width="0.9"/>
<text transform="translate(417.9 72) scale(1 1.1)" font-size="6.3">SCA</text>
<path d="M410.2 77.2H416.5" stroke="#50d850" stroke-width="0.9"/>
<text transform="translate(417.9 79.4) scale(1 1.1)" font-size="6.3">MRFO</text>
<path d="M410.2 84.6H416.5" stroke="#484848" stroke-width="0.9"/>
<text transform="translate(417.9 86.9) scale(1 1.1)" font-size="6.3">MRFO-SCA</text>
<text x="406.7" y="16.7" font-size="7" text-anchor="end">10<tspan font-size="5" dy="-2.9">200</tspan></text>
<text x="406.7" y="46" font-size="7" text-anchor="end">10<tspan font-size="5" dy="-2.9">0</tspan></text>
<text x="406.7" y="75.3" font-size="7" text-anchor="end">10<tspan font-size="5" dy="-2.9">-200</tspan></text>
<text x="408.3" y="98.1" font-size="7" text-anchor="middle">0</text>
<text x="425.4" y="98.1" font-size="7" text-anchor="middle">100</text>
<text x="442.4" y="98.1" font-size="7" text-anchor="middle">200</text>
<text x="459.5" y="98.1" font-size="7" text-anchor="middle">300</text>
<text x="476.5" y="98.1" font-size="7" text-anchor="middle">400</text>
<text x="493.6" y="98.1" font-size="7" text-anchor="middle">500</text>
<text x="435.3" y="107.7" font-size="9" textLength="32" lengthAdjust="spacingAndGlyphs">Iterations</text>
<text transform="translate(387.9 74.8) rotate(-90)" font-size="9" textLength="45.4" lengthAdjust="spacingAndGlyphs">Fitness value</text>
<clipPath id="c2"><rect x="150.8" y="127.8" width="89.7" height="81.8"/></clipPath>
<g fill="none" stroke-width="0.65" stroke-linejoin="round" clip-path="url(#c2)"><path d="M150.8 158.7 L240.5 160.4" stroke="#e070e0"/><path d="M150.8 158.7 L240.5 160" stroke="#6464cc"/><path d="M150.8 158.7 L240.5 160.6" stroke="#d8977a"/><path d="M150.8 158.7 L240.5 181.4" stroke="#50d850"/><path d="M150.8 158.7 L202 160.6 L207.6 161.5 L212.2 164.3 L216.9 168 L221.5 172.7 L225.3 178.3 L228 182.9 L230.8 188.5 L232.7 195 L234.6 203.4 L235.5 209.1" stroke="#484848"/></g>
<path fill="none" stroke="#9a9a9a" stroke-width="0.8" d="M150.8 128.3H240.5V209.1H150.8ZM150.8 128.3h1.5M240.5 128.3h-1.5M150.8 158.6h1.5M240.5 158.6h-1.5M150.8 188.9h1.5M240.5 188.9h-1.5M150.8 209.1v-1.5M150.8 128.3v1.5M168.7 209.1v-1.5M168.7 128.3v1.5M186.7 209.1v-1.5M186.7 128.3v1.5M204.6 209.1v-1.5M204.6 128.3v1.5M222.6 209.1v-1.5M222.6 128.3v1.5M240.5 209.1v-1.5M240.5 128.3v1.5"/>
<rect x="152.1" y="169" width="45.2" height="39.2" fill="#fff" stroke="#8a8a8a" stroke-width="0.8"/>
<path d="M153.3 174H159.3" stroke="#e070e0" stroke-width="0.9"/>
<text transform="translate(160.7 176.4) scale(1 1.1)" font-size="6.6">AVOA</text>
<path d="M153.3 181.6H159.3" stroke="#6464cc" stroke-width="0.9"/>
<text transform="translate(160.7 183.9) scale(1 1.1)" font-size="6.6">AO</text>
<path d="M153.3 189.1H159.3" stroke="#d8977a" stroke-width="0.9"/>
<text transform="translate(160.7 191.5) scale(1 1.1)" font-size="6.6">SCA</text>
<path d="M153.3 196.7H159.3" stroke="#50d850" stroke-width="0.9"/>
<text transform="translate(160.7 199) scale(1 1.1)" font-size="6.6">MRFO</text>
<path d="M153.3 204.2H159.3" stroke="#484848" stroke-width="0.9"/>
<text transform="translate(160.7 206.6) scale(1 1.1)" font-size="6.6">MRFO-SCA</text>
<text x="149.2" y="132.3" font-size="7.3" text-anchor="end">10<tspan font-size="5.3" dy="-3.1">200</tspan></text>
<text x="149.2" y="162.6" font-size="7.3" text-anchor="end">10<tspan font-size="5.3" dy="-3.1">0</tspan></text>
<text x="149.2" y="192.9" font-size="7.3" text-anchor="end">10<tspan font-size="5.3" dy="-3.1">-200</tspan></text>
<text x="150.8" y="218.4" font-size="7.3" text-anchor="middle">0</text>
<text x="168.7" y="218.4" font-size="7.3" text-anchor="middle">100</text>
<text x="186.7" y="218.4" font-size="7.3" text-anchor="middle">200</text>
<text x="204.6" y="218.4" font-size="7.3" text-anchor="middle">300</text>
<text x="222.6" y="218.4" font-size="7.3" text-anchor="middle">400</text>
<text x="240.5" y="218.4" font-size="7.3" text-anchor="middle">500</text>
<text x="179" y="228.3" font-size="8.8" textLength="33.7" lengthAdjust="spacingAndGlyphs">Iterations</text>
<text transform="translate(129.1 191) rotate(-90)" font-size="8.8" textLength="45.5" lengthAdjust="spacingAndGlyphs">Fitness value</text>
<clipPath id="c3"><rect x="408.4" y="131" width="85" height="77.9"/></clipPath>
<g fill="none" stroke-width="0.65" stroke-linejoin="round" clip-path="url(#c3)"><path d="M408.4 160.4 L493.4 162" stroke="#e070e0"/><path d="M408.4 160.4 L493.4 161.6" stroke="#6464cc"/><path d="M408.4 160.4 L493.4 162.2" stroke="#d8977a"/><path d="M408.4 160.4 L493.4 169.7" stroke="#50d850"/><path d="M408.4 160.4 L459.7 161.8 L474.2 165.5 L478.8 167.3 L481.5 170 L484.2 173.7 L486.6 179.1 L488.8 181 L490.6 182.8 L492.4 187.3 L493.4 190.1" stroke="#484848"/></g>
<path fill="none" stroke="#9a9a9a" stroke-width="0.8" d="M408.4 131.5H493.4V208.4H408.4ZM408.4 131.5h1.5M493.4 131.5h-1.5M408.4 161h1.5M493.4 161h-1.5M408.4 190.4h1.5M493.4 190.4h-1.5M408.4 208.4v-1.5M408.4 131.5v1.5M425.4 208.4v-1.5M425.4 131.5v1.5M442.4 208.4v-1.5M442.4 131.5v1.5M459.4 208.4v-1.5M459.4 131.5v1.5M476.4 208.4v-1.5M476.4 131.5v1.5M493.4 208.4v-1.5M493.4 131.5v1.5"/>
<rect x="435.6" y="170" width="43.7" height="36.8" fill="#fff" stroke="#8a8a8a" stroke-width="0.8"/>
<path d="M436.8 174.2H442.8" stroke="#e070e0" stroke-width="0.9"/>
<text transform="translate(444.2 176.5) scale(1 1.1)" font-size="6.4">AVOA</text>
<path d="M436.8 181.5H442.8" stroke="#6464cc" stroke-width="0.9"/>
<text transform="translate(444.2 183.8) scale(1 1.1)" font-size="6.4">AO</text>
<path d="M436.8 188.8H442.8" stroke="#d8977a" stroke-width="0.9"/>
<text transform="translate(444.2 191.1) scale(1 1.1)" font-size="6.4">SCA</text>
<path d="M436.8 196.1H442.8" stroke="#50d850" stroke-width="0.9"/>
<text transform="translate(444.2 198.4) scale(1 1.1)" font-size="6.4">MRFO</text>
<path d="M436.8 203.4H442.8" stroke="#484848" stroke-width="0.9"/>
<text transform="translate(444.2 205.7) scale(1 1.1)" font-size="6.4">MRFO-SCA</text>
<text x="406.8" y="135.4" font-size="7" text-anchor="end">10<tspan font-size="5" dy="-2.9">200</tspan></text>
<text x="406.8" y="164.9" font-size="7" text-anchor="end">10<tspan font-size="5" dy="-2.9">0</tspan></text>
<text x="406.8" y="194.3" font-size="7" text-anchor="end">10<tspan font-size="5" dy="-2.9">-200</tspan></text>
<text x="408.4" y="217.3" font-size="7" text-anchor="middle">0</text>
<text x="425.4" y="217.3" font-size="7" text-anchor="middle">100</text>
<text x="442.4" y="217.3" font-size="7" text-anchor="middle">200</text>
<text x="459.4" y="217.3" font-size="7" text-anchor="middle">300</text>
<text x="476.4" y="217.3" font-size="7" text-anchor="middle">400</text>
<text x="493.4" y="217.3" font-size="7" text-anchor="middle">500</text>
<text x="434.8" y="225.9" font-size="8.8" textLength="32.3" lengthAdjust="spacingAndGlyphs">Iterations</text>
<text transform="translate(387.2 191.8) rotate(-90)" font-size="8.8" textLength="44.1" lengthAdjust="spacingAndGlyphs">Fitness value</text>
<clipPath id="c4"><rect x="153" y="241.2" width="79" height="73.4"/></clipPath>
<g fill="none" stroke-width="0.65" stroke-linejoin="round" clip-path="url(#c4)"><path d="M153 249.3 L156.7 270.3 L159.3 283.4 L232 283.4" stroke="#e070e0"/><path d="M153 265.3 L154.5 283.4 L232 283.4" stroke="#6464cc"/><path d="M153 252.6 L157.6 265.3 L162.6 283.4 L232 283.4" stroke="#d8977a"/><path d="M153 285.1 L160 285.8 L232 285.8" stroke="#50d850"/><path d="M153 250.1 L156.7 258.5 L160.1 269.5 L163.5 275.4 L168.5 279.6 L176.9 281.2 L183.7 282.4 L190.4 284.6 L197.1 287.1 L202.2 289.7 L205.6 293.9 L208.9 298.9 L214 303.1 L232 303.1" stroke="#484848"/></g>
<path fill="none" stroke="#9a9a9a" stroke-width="0.8" d="M153 241.7H232V314.1H153ZM153 241.7h1.5M232 241.7h-1.5M153 265.8h1.5M232 265.8h-1.5M153 289.9h1.5M232 289.9h-1.5M153 314.1h1.5M232 314.1h-1.5M153 314.1v-1.5M153 241.7v1.5M168.8 314.1v-1.5M168.8 241.7v1.5M184.6 314.1v-1.5M184.6 241.7v1.5M200.4 314.1v-1.5M200.4 241.7v1.5M216.2 314.1v-1.5M216.2 241.7v1.5M232 314.1v-1.5M232 241.7v1.5"/>
<rect x="186.4" y="246.3" width="39.2" height="33" fill="#fff" stroke="#8a8a8a" stroke-width="0.8"/>
<path d="M187.6 249.7H192.7" stroke="#e070e0" stroke-width="0.9"/>
<text transform="translate(194.1 251.8) scale(1 1.1)" font-size="5.8">AVOA</text>
<path d="M187.6 256.1H192.7" stroke="#6464cc" stroke-width="0.9"/>
<text transform="translate(194.1 258.2) scale(1 1.1)" font-size="5.8">AO</text>
<path d="M187.6 262.6H192.7" stroke="#d8977a" stroke-width="0.9"/>
<text transform="translate(194.1 264.7) scale(1 1.1)" font-size="5.8">SCA</text>
<path d="M187.6 269.1H192.7" stroke="#50d850" stroke-width="0.9"/>
<text transform="translate(194.1 271.1) scale(1 1.1)" font-size="5.8">MRFO</text>
<path d="M187.6 275.5H192.7" stroke="#484848" stroke-width="0.9"/>
<text transform="translate(194.1 277.6) scale(1 1.1)" font-size="5.8">MRFO-SCA</text>
<text x="151.4" y="245.3" font-size="6.1" text-anchor="end">10<tspan font-size="4.4" dy="-2.6">10</tspan></text>
<text x="151.4" y="269.4" font-size="6.1" text-anchor="end">10<tspan font-size="4.4" dy="-2.6">5</tspan></text>
<text x="151.4" y="293.5" font-size="6.1" text-anchor="end">10<tspan font-size="4.4" dy="-2.6">0</tspan></text>
<text x="151.4" y="317.7" font-size="6.1" text-anchor="end">10<tspan font-size="4.4" dy="-2.6">-5</tspan></text>
<text x="153" y="322.8" font-size="6.1" text-anchor="middle">0</text>
<text x="168.8" y="322.8" font-size="6.1" text-anchor="middle">100</text>
<text x="184.6" y="322.8" font-size="6.1" text-anchor="middle">200</text>
<text x="200.4" y="322.8" font-size="6.1" text-anchor="middle">300</text>
<text x="216.2" y="322.8" font-size="6.1" text-anchor="middle">400</text>
<text x="232" y="322.8" font-size="6.1" text-anchor="middle">500</text>
<text x="178.2" y="331.7" font-size="8" textLength="29.1" lengthAdjust="spacingAndGlyphs">Iterations</text>
<text transform="translate(138.4 298.8) rotate(-90)" font-size="8" textLength="41.4" lengthAdjust="spacingAndGlyphs">Fitness value</text>
<clipPath id="c5"><rect x="406.2" y="241" width="86.6" height="73.6"/></clipPath>
<g fill="none" stroke-width="0.65" stroke-linejoin="round" clip-path="url(#c5)"><path d="M406.2 259.3 L407.8 261.7 L492.8 261.7" stroke="#e070e0"/><path d="M406.2 256 L410.7 264.8 L419.4 265.8 L438.8 266.5 L492.8 266.5" stroke="#6464cc"/><path d="M406.2 260.3 L406.8 265.8 L411.6 268.1 L429.1 269 L492.8 269" stroke="#d8977a"/><path d="M406.2 254.5 L408.7 259.3 L412.6 263.2 L429.1 267.1 L444.6 272.9 L456.3 277.8 L462.1 278.8 L492.8 279.1" stroke="#50d850"/><path d="M406.2 254.5 L415.5 259.3 L429.1 262.3 L438.8 266.1 L458.2 272.9 L466 277.8 L477.6 283.6 L492.8 290.4" stroke="#484848"/></g>
<path fill="none" stroke="#9a9a9a" stroke-width="0.8" d="M406.2 241.5H492.8V314.1H406.2ZM406.2 241.5h1.5M492.8 241.5h-1.5M406.2 265.7h1.5M492.8 265.7h-1.5M406.2 289.9h1.5M492.8 289.9h-1.5M406.2 314.1h1.5M492.8 314.1h-1.5M406.2 314.1v-1.5M406.2 241.5v1.5M423.5 314.1v-1.5M423.5 241.5v1.5M440.8 314.1v-1.5M440.8 241.5v1.5M458.2 314.1v-1.5M458.2 241.5v1.5M475.5 314.1v-1.5M475.5 241.5v1.5M492.8 314.1v-1.5M492.8 241.5v1.5"/>
<rect x="407.8" y="274.5" width="44.6" height="38.2" fill="#fff" stroke="#8a8a8a" stroke-width="0.8"/>
<path d="M409 278.8H415.7" stroke="#e070e0" stroke-width="0.9"/>
<text transform="translate(417.1 281.2) scale(1 1.1)" font-size="6.5">AVOA</text>
<path d="M409 286.1H415.7" stroke="#6464cc" stroke-width="0.9"/>
<text transform="translate(417.1 288.5) scale(1 1.1)" font-size="6.5">AO</text>
<path d="M409 293.4H415.7" stroke="#d8977a" stroke-width="0.9"/>
<text transform="translate(417.1 295.8) scale(1 1.1)" font-size="6.5">SCA</text>
<path d="M409 300.7H415.7" stroke="#50d850" stroke-width="0.9"/>
<text transform="translate(417.1 303.1) scale(1 1.1)" font-size="6.5">MRFO</text>
<path d="M409 308H415.7" stroke="#484848" stroke-width="0.9"/>
<text transform="translate(417.1 310.4) scale(1 1.1)" font-size="6.5">MRFO-SCA</text>
<text x="404.6" y="245.4" font-size="7" text-anchor="end">10<tspan font-size="5" dy="-2.9">10</tspan></text>
<text x="404.6" y="269.6" font-size="7" text-anchor="end">10<tspan font-size="5" dy="-2.9">0</tspan></text>
<text x="404.6" y="293.8" font-size="7" text-anchor="end">10<tspan font-size="5" dy="-2.9">-10</tspan></text>
<text x="404.6" y="318" font-size="7" text-anchor="end">10<tspan font-size="5" dy="-2.9">-20</tspan></text>
<text x="406.2" y="323.3" font-size="7" text-anchor="middle">0</text>
<text x="423.5" y="323.3" font-size="7" text-anchor="middle">100</text>
<text x="440.8" y="323.3" font-size="7" text-anchor="middle">200</text>
<text x="458.2" y="323.3" font-size="7" text-anchor="middle">300</text>
<text x="475.5" y="323.3" font-size="7" text-anchor="middle">400</text>
<text x="492.8" y="323.3" font-size="7" text-anchor="middle">500</text>
<text x="433.5" y="332.7" font-size="8.2" textLength="32.3" lengthAdjust="spacingAndGlyphs">Iterations</text>
<text transform="translate(387 300.1) rotate(-90)" font-size="8.2" textLength="44.1" lengthAdjust="spacingAndGlyphs">Fitness value</text>
<clipPath id="c6"><rect x="147.3" y="359.7" width="92.5" height="83.1"/></clipPath>
<g fill="none" stroke-width="0.65" stroke-linejoin="round" clip-path="url(#c6)"><path d="M147.3 386.2 L150.4 402.8 L153.5 408 L155.6 415.3 L158.7 418.4 L175.3 422.6 L239.8 423.2" stroke="#e070e0"/><path d="M147.3 393.5 L149 401.2 L152.5 403.9 L182.6 403.9 L184.7 408 L189.9 413.6 L201.3 413.6 L202.4 417.4 L213.8 417.4 L214.8 423.2 L233.6 423.2 L234.6 427.3 L239.8 427.3" stroke="#6464cc"/><path d="M147.3 385.1 L149.4 403.9 L152.5 415.3 L156.6 418.4 L181.6 421.1 L204.4 421.1 L205.5 427.8 L225.2 427.8 L226.3 429.8 L239.8 429.8" stroke="#d8977a"/><path d="M147.3 394.5 L148.3 428.8 L206.5 428.8 L207.6 430.3 L239.8 430.3" stroke="#50d850"/><path d="M147.3 402.8 L148.5 420.5 L154.6 420.5 L155 428.8 L172.2 428.8 L172.8 440.2 L239.8 440.2" stroke="#484848"/></g>
<path fill="none" stroke="#9a9a9a" stroke-width="0.8" d="M147.3 360.2H239.8V442.3H147.3ZM147.3 360.2h1.5M239.8 360.2h-1.5M147.3 401.8h1.5M239.8 401.8h-1.5M147.3 442.3h1.5M239.8 442.3h-1.5M147.3 442.3v-1.5M147.3 360.2v1.5M165.8 442.3v-1.5M165.8 360.2v1.5M184.3 442.3v-1.5M184.3 360.2v1.5M202.8 442.3v-1.5M202.8 360.2v1.5M221.3 442.3v-1.5M221.3 360.2v1.5M239.8 442.3v-1.5M239.8 360.2v1.5"/>
<rect x="186.8" y="364.4" width="47.8" height="39.5" fill="#fff" stroke="#8a8a8a" stroke-width="0.8"/>
<path d="M188 369.1H194.7" stroke="#e070e0" stroke-width="0.9"/>
<text transform="translate(196.1 371.6) scale(1 1.1)" font-size="6.8">AVOA</text>
<path d="M188 376.8H194.7" stroke="#6464cc" stroke-width="0.9"/>
<text transform="translate(196.1 379.2) scale(1 1.1)" font-size="6.8">AO</text>
<path d="M188 384.4H194.7" stroke="#d8977a" stroke-width="0.9"/>
<text transform="translate(196.1 386.9) scale(1 1.1)" font-size="6.8">SCA</text>
<path d="M188 392.1H194.7" stroke="#50d850" stroke-width="0.9"/>
<text transform="translate(196.1 394.5) scale(1 1.1)" font-size="6.8">MRFO</text>
<path d="M188 399.7H194.7" stroke="#484848" stroke-width="0.9"/>
<text transform="translate(196.1 402.2) scale(1 1.1)" font-size="6.8">MRFO-SCA</text>
<text x="145.7" y="364.3" font-size="7.5" text-anchor="end">10<tspan font-size="5.4" dy="-3.1">5</tspan></text>
<text x="145.7" y="405.9" font-size="7.5" text-anchor="end">10<tspan font-size="5.4" dy="-3.1">0</tspan></text>
<text x="145.7" y="446.4" font-size="7.5" text-anchor="end">10<tspan font-size="5.4" dy="-3.1">-5</tspan></text>
<text x="147.3" y="453" font-size="7.5" text-anchor="middle">0</text>
<text x="165.8" y="453" font-size="7.5" text-anchor="middle">100</text>
<text x="184.3" y="453" font-size="7.5" text-anchor="middle">200</text>
<text x="202.8" y="453" font-size="7.5" text-anchor="middle">300</text>
<text x="221.3" y="453" font-size="7.5" text-anchor="middle">400</text>
<text x="239.8" y="453" font-size="7.5" text-anchor="middle">500</text>
<text x="175.5" y="463.5" font-size="8.8" textLength="35.9" lengthAdjust="spacingAndGlyphs">Iterations</text>
<text transform="translate(129.1 424.5) rotate(-90)" font-size="8.8" textLength="47.4" lengthAdjust="spacingAndGlyphs">Fitness value</text>
<clipPath id="c7"><rect x="404.9" y="363" width="88.5" height="77.1"/></clipPath>
<g fill="none" stroke-width="0.65" stroke-linejoin="round" clip-path="url(#c7)"><path d="M404.9 370.9 L406.9 378.8 L417.8 379.4 L493.4 379.4" stroke="#e070e0"/><path d="M404.9 370.9 L406.9 378.8 L427.7 379.8 L443.5 381.8 L453.4 384.7 L463.3 387.7 L477.2 390.1 L493.4 392.7" stroke="#6464cc"/><path d="M404.9 376.8 L407.9 386.7 L413.8 387.3 L417.8 391.7 L423.7 396.6 L431.7 398.6 L447.5 400.6 L493.4 401.2" stroke="#d8977a"/><path d="M404.9 385.7 L409.9 392.7 L415.8 395.6 L427.7 398.6 L447.5 401.2 L493.4 403.9" stroke="#50d850"/><path d="M404.9 380 L410 392 L420 398 L440 403 L452.2 405.1 L493.4 405.1" stroke="#484848"/></g>
<path fill="none" stroke="#9a9a9a" stroke-width="0.8" d="M404.9 363.5H493.4V439.6H404.9ZM404.9 363.5h1.5M493.4 363.5h-1.5M404.9 402.2h1.5M493.4 402.2h-1.5M404.9 439.6h1.5M493.4 439.6h-1.5M404.9 439.6v-1.5M404.9 363.5v1.5M422.6 439.6v-1.5M422.6 363.5v1.5M440.3 439.6v-1.5M440.3 363.5v1.5M458 439.6v-1.5M458 363.5v1.5M475.7 439.6v-1.5M475.7 363.5v1.5M493.4 439.6v-1.5M493.4 363.5v1.5"/>
<rect x="405.9" y="400" width="45.2" height="39.2" fill="#fff" stroke="#8a8a8a" stroke-width="0.8"/>
<path d="M407.1 405.1H413.4" stroke="#e070e0" stroke-width="0.9"/>
<text transform="translate(414.8 407.5) scale(1 1.1)" font-size="6.7">AVOA</text>
<path d="M407.1 412.5H413.4" stroke="#6464cc" stroke-width="0.9"/>
<text transform="translate(414.8 414.9) scale(1 1.1)" font-size="6.7">AO</text>
<path d="M407.1 419.9H413.4" stroke="#d8977a" stroke-width="0.9"/>
<text transform="translate(414.8 422.3) scale(1 1.1)" font-size="6.7">SCA</text>
<path d="M407.1 427.3H413.4" stroke="#50d850" stroke-width="0.9"/>
<text transform="translate(414.8 429.7) scale(1 1.1)" font-size="6.7">MRFO</text>
<path d="M407.1 434.7H413.4" stroke="#484848" stroke-width="0.9"/>
<text transform="translate(414.8 437.1) scale(1 1.1)" font-size="6.7">MRFO-SCA</text>
<text x="403.3" y="367.5" font-size="7.2" text-anchor="end">-10<tspan font-size="5.2" dy="-3">3</tspan></text>
<text x="403.3" y="406.2" font-size="7.2" text-anchor="end">-10<tspan font-size="5.2" dy="-3">4</tspan></text>
<text x="403.3" y="443.6" font-size="7.2" text-anchor="end">-10<tspan font-size="5.2" dy="-3">5</tspan></text>
<text x="404.9" y="448.9" font-size="7.2" text-anchor="middle">0</text>
<text x="422.6" y="448.9" font-size="7.2" text-anchor="middle">100</text>
<text x="440.3" y="448.9" font-size="7.2" text-anchor="middle">200</text>
<text x="458" y="448.9" font-size="7.2" text-anchor="middle">300</text>
<text x="475.7" y="448.9" font-size="7.2" text-anchor="middle">400</text>
<text x="493.4" y="448.9" font-size="7.2" text-anchor="middle">500</text>
<text x="431.9" y="458.9" font-size="8.8" textLength="34.2" lengthAdjust="spacingAndGlyphs">Iterations</text>
<text transform="translate(388 423.6) rotate(-90)" font-size="8.8" textLength="44.2" lengthAdjust="spacingAndGlyphs">Fitness value</text>
<clipPath id="c8"><rect x="151.6" y="473.6" width="84.6" height="74"/></clipPath>
<g fill="none" stroke-width="0.65" stroke-linejoin="round" clip-path="url(#c8)"><path d="M151.6 492.2 L156.3 492.6 L160 496.3 L165.7 505.7 L169.5 513.3 L173.2 521.7 L177.9 531.1" stroke="#e070e0" stroke-width="1.4"/><path d="M151.6 496.3 L152.5 502 L156.3 503.9 L163.8 504.4 L173.2 505.4 L185.4 506.3 L185.4 520.4 L192 520.4" stroke="#6464cc" stroke-width="1.4"/><path d="M151.6 492.2 L153.5 503.9 L154.4 507.6 L156.3 509.5 L157.2 515.1 L159.1 518 L160 525.5" stroke="#d8977a"/><path d="M151.6 492.2 L158.2 493.5 L163.8 501 L173.2 513.3 L182.6 530.6" stroke="#50d850"/><path d="M151.6 492.2 L158.2 493.5 L161.9 495.4 L163.8 498.2 L166.6 502 L173.2 510.4 L180.7 522.7 L184.5 530.2 L236.2 530.2" stroke="#484848"/></g>
<path fill="none" stroke="#9a9a9a" stroke-width="0.8" d="M151.6 474.1H236.2V547.1H151.6ZM151.6 474.1h1.5M236.2 474.1h-1.5M151.6 498.4h1.5M236.2 498.4h-1.5M151.6 522.8h1.5M236.2 522.8h-1.5M151.6 547.1h1.5M236.2 547.1h-1.5M151.6 547.1v-1.5M151.6 474.1v1.5M168.5 547.1v-1.5M168.5 474.1v1.5M185.4 547.1v-1.5M185.4 474.1v1.5M202.4 547.1v-1.5M202.4 474.1v1.5M219.3 547.1v-1.5M219.3 474.1v1.5M236.2 547.1v-1.5M236.2 474.1v1.5"/>
<rect x="189.2" y="478.5" width="42.7" height="36.6" fill="#fff" stroke="#8a8a8a" stroke-width="0.8"/>
<path d="M190.4 483.2H196.6" stroke="#e070e0" stroke-width="0.9"/>
<text transform="translate(198 485.4) scale(1 1.1)" font-size="6.2">AVOA</text>
<path d="M190.4 490.2H196.6" stroke="#6464cc" stroke-width="0.9"/>
<text transform="translate(198 492.4) scale(1 1.1)" font-size="6.2">AO</text>
<path d="M190.4 497.2H196.6" stroke="#d8977a" stroke-width="0.9"/>
<text transform="translate(198 499.4) scale(1 1.1)" font-size="6.2">SCA</text>
<path d="M190.4 504.2H196.6" stroke="#50d850" stroke-width="0.9"/>
<text transform="translate(198 506.4) scale(1 1.1)" font-size="6.2">MRFO</text>
<path d="M190.4 511.2H196.6" stroke="#484848" stroke-width="0.9"/>
<text transform="translate(198 513.4) scale(1 1.1)" font-size="6.2">MRFO-SCA</text>
<text x="150" y="478" font-size="6.9" text-anchor="end">10<tspan font-size="5" dy="-2.9">10</tspan></text>
<text x="150" y="502.3" font-size="6.9" text-anchor="end">10<tspan font-size="5" dy="-2.9">0</tspan></text>
<text x="150" y="526.7" font-size="6.9" text-anchor="end">10<tspan font-size="5" dy="-2.9">-10</tspan></text>
<text x="150" y="551" font-size="6.9" text-anchor="end">10<tspan font-size="5" dy="-2.9">-20</tspan></text>
<text x="151.6" y="556.2" font-size="6.9" text-anchor="middle">0</text>
<text x="168.5" y="556.2" font-size="6.9" text-anchor="middle">100</text>
<text x="185.4" y="556.2" font-size="6.9" text-anchor="middle">200</text>
<text x="202.4" y="556.2" font-size="6.9" text-anchor="middle">300</text>
<text x="219.3" y="556.2" font-size="6.9" text-anchor="middle">400</text>
<text x="236.2" y="556.2" font-size="6.9" text-anchor="middle">500</text>
<text x="178.2" y="565.3" font-size="8.2" textLength="31.8" lengthAdjust="spacingAndGlyphs">Iterations</text>
<text transform="translate(133 532.2) rotate(-90)" font-size="8.2" textLength="42.2" lengthAdjust="spacingAndGlyphs">Fitness value</text>
<clipPath id="c9"><rect x="413.6" y="474.4" width="77.9" height="71.9"/></clipPath>
<g fill="none" stroke-width="0.65" stroke-linejoin="round" clip-path="url(#c9)"><path d="M413.6 495.5 L426.2 502.8 L442.5 514.2 L452.2 522.3 L458.7 526.4 L466.8 528.5 L491.5 528.8" stroke="#e070e0"/><path d="M413.6 498.8 L414.9 501.2 L440.8 502 L452.2 502 L452.5 517.5 L454.6 519.1 L455.5 532.9 L491.5 533.4" stroke="#6464cc"/><path d="M413.6 495.5 L434.4 510.1 L447.3 527.2 L450.6 532.1 L491.5 532.1" stroke="#d8977a"/><path d="M413.6 494.7 L423 498.8 L437.6 506.9 L445.7 517.5 L452.2 532.1 L491.5 531.7" stroke="#50d850"/><path d="M413.6 498 L416.5 503.7 L419.7 507.7 L422.2 515 L424.6 518.3 L426.2 524 L428.7 528 L429.2 533.7 L491.5 533.7" stroke="#484848"/></g>
<path fill="none" stroke="#9a9a9a" stroke-width="0.8" d="M413.6 474.9H491.5V545.8H413.6ZM413.6 474.9h1.5M491.5 474.9h-1.5M413.6 498.5h1.5M491.5 498.5h-1.5M413.6 522.2h1.5M491.5 522.2h-1.5M413.6 545.8h1.5M491.5 545.8h-1.5M413.6 545.8v-1.5M413.6 474.9v1.5M444.8 545.8v-1.5M444.8 474.9v1.5M476 545.8v-1.5M476 474.9v1.5"/>
<rect x="442" y="477.7" width="45.3" height="38.1" fill="#fff" stroke="#8a8a8a" stroke-width="0.8"/>
<path d="M443.2 482.6H449.2" stroke="#e070e0" stroke-width="0.9"/>
<text transform="translate(450.6 485) scale(1 1.1)" font-size="6.6">AVOA</text>
<path d="M443.2 489.9H449.2" stroke="#6464cc" stroke-width="0.9"/>
<text transform="translate(450.6 492.3) scale(1 1.1)" font-size="6.6">AO</text>
<path d="M443.2 497.2H449.2" stroke="#d8977a" stroke-width="0.9"/>
<text transform="translate(450.6 499.6) scale(1 1.1)" font-size="6.6">SCA</text>
<path d="M443.2 504.5H449.2" stroke="#50d850" stroke-width="0.9"/>
<text transform="translate(450.6 506.9) scale(1 1.1)" font-size="6.6">MRFO</text>
<path d="M443.2 511.8H449.2" stroke="#484848" stroke-width="0.9"/>
<text transform="translate(450.6 514.2) scale(1 1.1)" font-size="6.6">MRFO-SCA</text>
<text x="412" y="478.9" font-size="7.3" text-anchor="end">10<tspan font-size="5.3" dy="-3.1">10</tspan></text>
<text x="412" y="502.5" font-size="7.3" text-anchor="end">10<tspan font-size="5.3" dy="-3.1">0</tspan></text>
<text x="412" y="526.2" font-size="7.3" text-anchor="end">10<tspan font-size="5.3" dy="-3.1">-10</tspan></text>
<text x="412" y="549.8" font-size="7.3" text-anchor="end">10<tspan font-size="5.3" dy="-3.1">-20</tspan></text>
<text x="413.6" y="554.7" font-size="7.3" text-anchor="middle">0</text>
<text x="444.8" y="554.7" font-size="7.3" text-anchor="middle">200</text>
<text x="476" y="554.7" font-size="7.3" text-anchor="middle">400</text>
<text x="435.8" y="564.5" font-size="9" textLength="33.4" lengthAdjust="spacingAndGlyphs">Iterations</text>
<text transform="translate(395 531.6) rotate(-90)" font-size="9" textLength="44.2" lengthAdjust="spacingAndGlyphs">Fitness value</text>
<clipPath id="c10"><rect x="149.4" y="580.1" width="91.6" height="77.4"/></clipPath>
<g fill="none" stroke-width="0.65" stroke-linejoin="round" clip-path="url(#c10)"><path d="M149.4 599.8 L154.9 606.7 L158.9 607.7 L215.3 607.7 L216.7 615.2 L225 622 L235.1 628.9 L237.1 628.9 L237.1 639.4" stroke="#e070e0"/><path d="M149.4 599.8 L154.9 606.7 L159.9 607.7 L164.8 610.6 L168.8 615.6 L171.7 617 L174.7 622.5 L178.7 631.4 L181.6 638.4 L184.6 646.3" stroke="#6464cc"/><path d="M149.4 599.8 L156.9 607.7 L180.6 647.3" stroke="#d8977a"/><path d="M149.4 599.8 L155.9 608.7 L179.7 647.3" stroke="#50d850"/><path d="M149.4 602.7 L151.9 609.7 L160.8 646.3" stroke="#484848"/></g>
<path fill="none" stroke="#9a9a9a" stroke-width="0.8" d="M149.4 580.6H241V657H149.4ZM149.4 580.6h1.5M241 580.6h-1.5M149.4 606.1h1.5M241 606.1h-1.5M149.4 631.5h1.5M241 631.5h-1.5M149.4 657h1.5M241 657h-1.5M149.4 657v-1.5M149.4 580.6v1.5M167.7 657v-1.5M167.7 580.6v1.5M186 657v-1.5M186 580.6v1.5M204.4 657v-1.5M204.4 580.6v1.5M222.7 657v-1.5M222.7 580.6v1.5M241 657v-1.5M241 580.6v1.5"/>
<rect x="187.2" y="615.6" width="46.9" height="39.6" fill="#fff" stroke="#8a8a8a" stroke-width="0.8"/>
<path d="M188.4 620.1H195.5" stroke="#e070e0" stroke-width="0.9"/>
<text transform="translate(196.9 622.5) scale(1 1.1)" font-size="6.8">AVOA</text>
<path d="M188.4 627.9H195.5" stroke="#6464cc" stroke-width="0.9"/>
<text transform="translate(196.9 630.3) scale(1 1.1)" font-size="6.8">AO</text>
<path d="M188.4 635.7H195.5" stroke="#d8977a" stroke-width="0.9"/>
<text transform="translate(196.9 638.1) scale(1 1.1)" font-size="6.8">SCA</text>
<path d="M188.4 643.5H195.5" stroke="#50d850" stroke-width="0.9"/>
<text transform="translate(196.9 645.9) scale(1 1.1)" font-size="6.8">MRFO</text>
<path d="M188.4 651.3H195.5" stroke="#484848" stroke-width="0.9"/>
<text transform="translate(196.9 653.7) scale(1 1.1)" font-size="6.8">MRFO-SCA</text>
<text x="147.8" y="584.6" font-size="7.4" text-anchor="end">10<tspan font-size="5.3" dy="-3.1">10</tspan></text>
<text x="147.8" y="610.1" font-size="7.4" text-anchor="end">10<tspan font-size="5.3" dy="-3.1">0</tspan></text>
<text x="147.8" y="635.5" font-size="7.4" text-anchor="end">10<tspan font-size="5.3" dy="-3.1">-10</tspan></text>
<text x="147.8" y="661" font-size="7.4" text-anchor="end">10<tspan font-size="5.3" dy="-3.1">-20</tspan></text>
<text x="149.4" y="666.4" font-size="7.4" text-anchor="middle">0</text>
<text x="167.7" y="666.4" font-size="7.4" text-anchor="middle">100</text>
<text x="186" y="666.4" font-size="7.4" text-anchor="middle">200</text>
<text x="204.4" y="666.4" font-size="7.4" text-anchor="middle">300</text>
<text x="222.7" y="666.4" font-size="7.4" text-anchor="middle">400</text>
<text x="241" y="666.4" font-size="7.4" text-anchor="middle">500</text>
<text x="177.6" y="677.1" font-size="9" textLength="34.6" lengthAdjust="spacingAndGlyphs">Iterations</text>
<text transform="translate(129.8 642.3) rotate(-90)" font-size="9" textLength="45.5" lengthAdjust="spacingAndGlyphs">Fitness value</text>
<clipPath id="c11"><rect x="409.3" y="578.7" width="87.2" height="79"/></clipPath>
<g fill="none" stroke-width="0.65" stroke-linejoin="round" clip-path="url(#c11)"><path d="M409.3 583.6 L411.6 603.8 L412.6 616.3 L422.2 619.2 L496.5 619.2" stroke="#e070e0"/><path d="M409.3 583.6 L411.6 594.2 L413.6 613.4 L416.4 613.4 L420.3 616.3 L428 621.1 L496.5 623" stroke="#6464cc"/><path d="M409.3 583.6 L411.6 592.3 L412.6 596.1 L413.6 615.3 L428 622.1 L496.5 624" stroke="#d8977a"/><path d="M409.3 594.2 L410.3 615.3 L422.2 621.1 L441.4 624.6 L460.6 626.5 L464.5 630.7 L479.8 632.6 L496.5 635.5" stroke="#50d850"/><path d="M409.3 583.6 L412.6 616.3 L418.4 621.1 L431.8 626.9 L441.4 631.7 L449.1 636.5 L460.6 640.3 L466.4 641.3 L496.5 641.3" stroke="#484848"/></g>
<path fill="none" stroke="#9a9a9a" stroke-width="0.8" d="M409.3 579.2H496.5V657.2H409.3ZM409.3 579.2h1.5M496.5 579.2h-1.5M409.3 618.2h1.5M496.5 618.2h-1.5M409.3 657.2h1.5M496.5 657.2h-1.5M409.3 657.2v-1.5M409.3 579.2v1.5M444.2 657.2v-1.5M444.2 579.2v1.5M479.1 657.2v-1.5M479.1 579.2v1.5"/>
<rect x="441.4" y="582.7" width="49" height="40.3" fill="#fff" stroke="#8a8a8a" stroke-width="0.8"/>
<path d="M442.6 588.1H449.6" stroke="#e070e0" stroke-width="0.9"/>
<text transform="translate(451 590.7) scale(1 1.1)" font-size="7.1">AVOA</text>
<path d="M442.6 596H449.6" stroke="#6464cc" stroke-width="0.9"/>
<text transform="translate(451 598.6) scale(1 1.1)" font-size="7.1">AO</text>
<path d="M442.6 603.9H449.6" stroke="#d8977a" stroke-width="0.9"/>
<text transform="translate(451 606.5) scale(1 1.1)" font-size="7.1">SCA</text>
<path d="M442.6 611.8H449.6" stroke="#50d850" stroke-width="0.9"/>
<text transform="translate(451 614.4) scale(1 1.1)" font-size="7.1">MRFO</text>
<path d="M442.6 619.7H449.6" stroke="#484848" stroke-width="0.9"/>
<text transform="translate(451 622.3) scale(1 1.1)" font-size="7.1">MRFO-SCA</text>
<text x="407.7" y="583.3" font-size="7.5" text-anchor="end">10<tspan font-size="5.4" dy="-3.1">10</tspan></text>
<text x="407.7" y="622.3" font-size="7.5" text-anchor="end">10<tspan font-size="5.4" dy="-3.1">0</tspan></text>
<text x="407.7" y="661.3" font-size="7.5" text-anchor="end">10<tspan font-size="5.4" dy="-3.1">-10</tspan></text>
<text x="409.3" y="667.8" font-size="7.5" text-anchor="middle">0</text>
<text x="444.2" y="667.8" font-size="7.5" text-anchor="middle">200</text>
<text x="479.1" y="667.8" font-size="7.5" text-anchor="middle">400</text>
<text x="435.3" y="677.3" font-size="9" textLength="35.7" lengthAdjust="spacingAndGlyphs">Iterations</text>
<text transform="translate(388.6 641.8) rotate(-90)" font-size="9" textLength="49.3" lengthAdjust="spacingAndGlyphs">Fitness value</text>
<path fill="none" stroke="#555" stroke-width="1.1" d="M115.5 0V685"/>
<path fill="none" stroke="#555" stroke-width="1.1" d="M252.5 0V685"/>
<path fill="none" stroke="#9a9a9a" stroke-width="1.6" d="M375 0V685"/>
<path fill="none" stroke="#888" stroke-width="1.4" d="M0 118H505"/>
<path fill="none" stroke="#555" stroke-width="1.1" d="M0 234.5H505"/>
<path fill="none" stroke="#555" stroke-width="1.1" d="M0 351.5H505"/>
<path fill="none" stroke="#8a8a8a" stroke-width="1.4" d="M0 468H505"/>
<path fill="none" stroke="#a0a0a0" stroke-width="1.6" d="M0 568H505"/>
<rect x="0.5" y="0.5" width="504" height="684" fill="none" stroke="#3a3a3a" stroke-width="1.2"/>
</svg></body></html>
